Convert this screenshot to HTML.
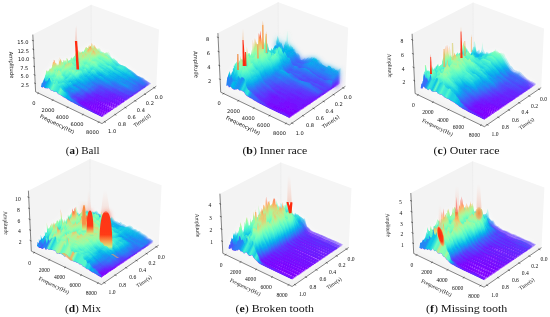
<!DOCTYPE html>
<html><head><meta charset="utf-8"><title>Figure</title>
<style>html,body{margin:0;padding:0;background:#fff;width:550px;height:317px;overflow:hidden}svg{display:block}</style>
</head><body>
<svg width="550" height="317" viewBox="0 0 550 317">
<defs><filter id="glw" x="-20%" y="-20%" width="140%" height="140%"><feGaussianBlur stdDeviation="2.6"/></filter><filter id="sft" x="-5%" y="-5%" width="110%" height="110%"><feGaussianBlur stdDeviation="0.35"/></filter><linearGradient id="fpk" x1="0" y1="0" x2="0" y2="1"><stop offset="0" stop-color="#f8c0b0" stop-opacity="0"/><stop offset="1" stop-color="#f4a890" stop-opacity="0.45"/></linearGradient><linearGradient id="ga" gradientUnits="userSpaceOnUse" x1="0" y1="0" x2="20.52" y2="-45.90"><stop offset="0.000" stop-color="#7f00ff"/><stop offset="0.045" stop-color="#7f00ff"/><stop offset="0.064" stop-color="#6d1cfe"/><stop offset="0.082" stop-color="#593bfd"/><stop offset="0.100" stop-color="#4559fa"/><stop offset="0.118" stop-color="#3175f7"/><stop offset="0.136" stop-color="#1d90f3"/><stop offset="0.155" stop-color="#09a9ee"/><stop offset="0.173" stop-color="#0abfe8"/><stop offset="0.191" stop-color="#1ed2e1"/><stop offset="0.209" stop-color="#32e2d9"/><stop offset="0.227" stop-color="#46efd1"/><stop offset="0.246" stop-color="#5af8c7"/><stop offset="0.264" stop-color="#6efdbd"/><stop offset="0.282" stop-color="#82feb2"/><stop offset="0.300" stop-color="#96fca7"/><stop offset="0.318" stop-color="#aaf69a"/><stop offset="0.337" stop-color="#beec8e" stop-opacity="0.99"/><stop offset="0.355" stop-color="#d2de80" stop-opacity="0.94"/><stop offset="0.373" stop-color="#e6cd73" stop-opacity="0.89"/><stop offset="0.391" stop-color="#fab964" stop-opacity="0.84"/><stop offset="0.409" stop-color="#ffa256" stop-opacity="0.79"/><stop offset="0.428" stop-color="#ff8847" stop-opacity="0.74"/><stop offset="0.446" stop-color="#ff6d38" stop-opacity="0.69"/><stop offset="0.464" stop-color="#ff5028" stop-opacity="0.64"/><stop offset="0.482" stop-color="#ff3119" stop-opacity="0.59"/><stop offset="0.500" stop-color="#ff1209" stop-opacity="0.54"/><stop offset="0.519" stop-color="#ff0000" stop-opacity="0.51"/><stop offset="0.537" stop-color="#ff0000" stop-opacity="0.51"/><stop offset="0.555" stop-color="#ff0000" stop-opacity="0.51"/><stop offset="0.573" stop-color="#ff0000" stop-opacity="0.51"/><stop offset="1.000" stop-color="#ff0000" stop-opacity="0.51"/></linearGradient><linearGradient id="fwa" gradientUnits="userSpaceOnUse" x1="41.1" y1="91.6" x2="101.5" y2="120.3"><stop offset="0.000" stop-color="#2586f5"/><stop offset="0.032" stop-color="#00b4eb"/><stop offset="0.063" stop-color="#18cde3"/><stop offset="0.095" stop-color="#36e5d7"/><stop offset="0.127" stop-color="#6afcbf"/><stop offset="0.159" stop-color="#4ef3cd"/><stop offset="0.190" stop-color="#3ce9d5"/><stop offset="0.222" stop-color="#32e2d9"/><stop offset="0.254" stop-color="#68fcc0"/><stop offset="0.286" stop-color="#44eed1"/><stop offset="0.317" stop-color="#2adcdc"/><stop offset="0.349" stop-color="#14c9e4"/><stop offset="0.381" stop-color="#01b2ec"/><stop offset="0.413" stop-color="#03b0ec"/><stop offset="0.444" stop-color="#1798f2"/><stop offset="0.476" stop-color="#2783f5"/><stop offset="0.508" stop-color="#396af9"/><stop offset="0.540" stop-color="#396af9"/><stop offset="0.571" stop-color="#435cfa"/><stop offset="0.603" stop-color="#4f4afc"/><stop offset="0.635" stop-color="#593bfd"/><stop offset="0.667" stop-color="#593bfd"/><stop offset="0.698" stop-color="#5f31fd"/><stop offset="0.730" stop-color="#5f31fd"/><stop offset="0.762" stop-color="#612efd"/><stop offset="0.794" stop-color="#5f31fd"/><stop offset="0.825" stop-color="#632bfe"/><stop offset="0.857" stop-color="#6725fe"/><stop offset="0.889" stop-color="#6922fe"/><stop offset="0.921" stop-color="#6922fe"/><stop offset="0.952" stop-color="#6b1ffe"/><stop offset="0.984" stop-color="#6d1cfe"/></linearGradient><linearGradient id="gb" gradientUnits="userSpaceOnUse" x1="0" y1="0" x2="21.18" y2="-47.39"><stop offset="0.000" stop-color="#7f00ff"/><stop offset="0.045" stop-color="#7f00ff"/><stop offset="0.078" stop-color="#6d1cfe"/><stop offset="0.111" stop-color="#593bfd"/><stop offset="0.143" stop-color="#4559fa"/><stop offset="0.176" stop-color="#3175f7"/><stop offset="0.208" stop-color="#1d90f3"/><stop offset="0.241" stop-color="#09a9ee"/><stop offset="0.273" stop-color="#0abfe8"/><stop offset="0.306" stop-color="#1ed2e1"/><stop offset="0.338" stop-color="#32e2d9"/><stop offset="0.371" stop-color="#46efd1"/><stop offset="0.403" stop-color="#5af8c7"/><stop offset="0.436" stop-color="#6efdbd"/><stop offset="0.468" stop-color="#82feb2"/><stop offset="0.501" stop-color="#96fca7"/><stop offset="0.533" stop-color="#aaf69a"/><stop offset="0.566" stop-color="#beec8e" stop-opacity="1.00"/><stop offset="0.598" stop-color="#d2de80" stop-opacity="0.95"/><stop offset="0.631" stop-color="#e4cf74" stop-opacity="0.90"/><stop offset="0.663" stop-color="#f8bb66" stop-opacity="0.85"/><stop offset="0.696" stop-color="#ffa457" stop-opacity="0.80"/><stop offset="0.728" stop-color="#ff8b48" stop-opacity="0.75"/><stop offset="0.761" stop-color="#ff7039" stop-opacity="0.70"/><stop offset="0.794" stop-color="#ff532a" stop-opacity="0.64"/><stop offset="0.826" stop-color="#ff351a" stop-opacity="0.59"/><stop offset="0.859" stop-color="#ff150a" stop-opacity="0.54"/><stop offset="0.891" stop-color="#ff0000" stop-opacity="0.51"/><stop offset="0.924" stop-color="#ff0000" stop-opacity="0.51"/><stop offset="0.956" stop-color="#ff0000" stop-opacity="0.51"/><stop offset="0.989" stop-color="#ff0000" stop-opacity="0.51"/><stop offset="1.000" stop-color="#ff0000" stop-opacity="0.51"/></linearGradient><linearGradient id="gbb" gradientUnits="userSpaceOnUse" x1="0" y1="0" x2="21.18" y2="-47.39"><stop offset="0.000" stop-color="#7f00ff"/><stop offset="0.045" stop-color="#7f00ff"/><stop offset="0.078" stop-color="#7115fe"/><stop offset="0.111" stop-color="#632bfe"/><stop offset="0.144" stop-color="#5541fc"/><stop offset="0.177" stop-color="#4756fb"/><stop offset="0.210" stop-color="#396af9"/><stop offset="0.243" stop-color="#2b7ef6"/><stop offset="0.276" stop-color="#1b93f3"/><stop offset="0.309" stop-color="#0da4ef"/><stop offset="0.342" stop-color="#00b4eb"/><stop offset="0.375" stop-color="#0ec3e6"/><stop offset="0.408" stop-color="#1cd1e2"/><stop offset="0.440" stop-color="#2adcdc"/><stop offset="0.473" stop-color="#3ae8d6"/><stop offset="0.506" stop-color="#48f0d0"/><stop offset="0.539" stop-color="#56f6c9"/><stop offset="0.572" stop-color="#64fbc2"/><stop offset="0.605" stop-color="#72febb"/><stop offset="0.638" stop-color="#80feb3"/><stop offset="0.671" stop-color="#8efdab"/><stop offset="0.704" stop-color="#9efaa2"/><stop offset="0.737" stop-color="#acf599"/><stop offset="0.770" stop-color="#baee90"/><stop offset="0.803" stop-color="#c8e587" stop-opacity="0.97"/><stop offset="0.835" stop-color="#d6db7e" stop-opacity="0.93"/><stop offset="0.868" stop-color="#e4cf74" stop-opacity="0.90"/><stop offset="0.901" stop-color="#f4bf69" stop-opacity="0.86"/><stop offset="0.934" stop-color="#ffb05f" stop-opacity="0.82"/><stop offset="0.967" stop-color="#ff9f54" stop-opacity="0.79"/><stop offset="1.000" stop-color="#ff8e4a" stop-opacity="0.75"/></linearGradient><linearGradient id="fwb" gradientUnits="userSpaceOnUse" x1="226.5" y1="91.9" x2="288.8" y2="121.5"><stop offset="0.000" stop-color="#2783f5"/><stop offset="0.032" stop-color="#06bbe9"/><stop offset="0.063" stop-color="#05aeed"/><stop offset="0.095" stop-color="#1798f2"/><stop offset="0.127" stop-color="#1f8ef3"/><stop offset="0.159" stop-color="#07abed"/><stop offset="0.190" stop-color="#28dbdd"/><stop offset="0.222" stop-color="#14c9e4"/><stop offset="0.254" stop-color="#2cdedc"/><stop offset="0.286" stop-color="#2edfdb"/><stop offset="0.317" stop-color="#0da4ef"/><stop offset="0.349" stop-color="#2f78f7"/><stop offset="0.381" stop-color="#3570f8"/><stop offset="0.413" stop-color="#3b67f9"/><stop offset="0.444" stop-color="#415ffa"/><stop offset="0.476" stop-color="#4b50fb"/><stop offset="0.508" stop-color="#5344fc"/><stop offset="0.540" stop-color="#573efd"/><stop offset="0.571" stop-color="#5b38fd"/><stop offset="0.603" stop-color="#612efd"/><stop offset="0.635" stop-color="#6725fe"/><stop offset="0.667" stop-color="#6725fe"/><stop offset="0.698" stop-color="#6b1ffe"/><stop offset="0.730" stop-color="#6d1cfe"/><stop offset="0.762" stop-color="#6b1ffe"/><stop offset="0.794" stop-color="#6b1ffe"/><stop offset="0.825" stop-color="#6922fe"/><stop offset="0.857" stop-color="#6b1ffe"/><stop offset="0.889" stop-color="#6922fe"/><stop offset="0.921" stop-color="#6922fe"/><stop offset="0.952" stop-color="#6922fe"/><stop offset="0.984" stop-color="#6b1ffe"/></linearGradient><linearGradient id="gc" gradientUnits="userSpaceOnUse" x1="0" y1="0" x2="21.43" y2="-47.93"><stop offset="0.000" stop-color="#7f00ff"/><stop offset="0.045" stop-color="#7f00ff"/><stop offset="0.072" stop-color="#6d1cfe"/><stop offset="0.098" stop-color="#593bfd"/><stop offset="0.124" stop-color="#4559fa"/><stop offset="0.150" stop-color="#3175f7"/><stop offset="0.177" stop-color="#1d90f3"/><stop offset="0.203" stop-color="#09a9ee"/><stop offset="0.229" stop-color="#0abfe8"/><stop offset="0.255" stop-color="#1ed2e1"/><stop offset="0.281" stop-color="#32e2d9"/><stop offset="0.308" stop-color="#46efd1"/><stop offset="0.334" stop-color="#5af8c7"/><stop offset="0.360" stop-color="#6efdbd"/><stop offset="0.386" stop-color="#82feb2"/><stop offset="0.412" stop-color="#96fca7"/><stop offset="0.439" stop-color="#aaf69a"/><stop offset="0.465" stop-color="#beec8e" stop-opacity="1.00"/><stop offset="0.491" stop-color="#d2de80" stop-opacity="0.95"/><stop offset="0.517" stop-color="#e6cd73" stop-opacity="0.90"/><stop offset="0.544" stop-color="#fab964" stop-opacity="0.85"/><stop offset="0.570" stop-color="#ffa256" stop-opacity="0.79"/><stop offset="0.596" stop-color="#ff8847" stop-opacity="0.74"/><stop offset="0.622" stop-color="#ff6d38" stop-opacity="0.69"/><stop offset="0.648" stop-color="#ff5028" stop-opacity="0.64"/><stop offset="0.675" stop-color="#ff3119" stop-opacity="0.59"/><stop offset="0.701" stop-color="#ff150a" stop-opacity="0.54"/><stop offset="0.727" stop-color="#ff0000" stop-opacity="0.51"/><stop offset="0.753" stop-color="#ff0000" stop-opacity="0.51"/><stop offset="0.779" stop-color="#ff0000" stop-opacity="0.51"/><stop offset="0.806" stop-color="#ff0000" stop-opacity="0.51"/><stop offset="1.000" stop-color="#ff0000" stop-opacity="0.51"/></linearGradient><linearGradient id="fwc" gradientUnits="userSpaceOnUse" x1="420.9" y1="93.2" x2="483.9" y2="123.2"><stop offset="0.000" stop-color="#376df8"/><stop offset="0.032" stop-color="#119ff0"/><stop offset="0.063" stop-color="#36e5d7"/><stop offset="0.095" stop-color="#2edfdb"/><stop offset="0.127" stop-color="#0cc1e7"/><stop offset="0.159" stop-color="#68fcc0"/><stop offset="0.190" stop-color="#1cd1e2"/><stop offset="0.222" stop-color="#32e2d9"/><stop offset="0.254" stop-color="#58f7c8"/><stop offset="0.286" stop-color="#3ce9d5"/><stop offset="0.317" stop-color="#36e5d7"/><stop offset="0.349" stop-color="#54f6ca"/><stop offset="0.381" stop-color="#30e1da"/><stop offset="0.413" stop-color="#1cd1e2"/><stop offset="0.444" stop-color="#1acfe2"/><stop offset="0.476" stop-color="#1ed2e1"/><stop offset="0.508" stop-color="#0ec3e6"/><stop offset="0.540" stop-color="#04b9ea"/><stop offset="0.571" stop-color="#119ff0"/><stop offset="0.603" stop-color="#1f8ef3"/><stop offset="0.635" stop-color="#3b67f9"/><stop offset="0.667" stop-color="#435cfa"/><stop offset="0.698" stop-color="#5147fc"/><stop offset="0.730" stop-color="#5541fc"/><stop offset="0.762" stop-color="#5f31fd"/><stop offset="0.794" stop-color="#5f31fd"/><stop offset="0.825" stop-color="#632bfe"/><stop offset="0.857" stop-color="#6528fe"/><stop offset="0.889" stop-color="#6922fe"/><stop offset="0.921" stop-color="#6922fe"/><stop offset="0.952" stop-color="#6b1ffe"/><stop offset="0.984" stop-color="#6b1ffe"/></linearGradient><linearGradient id="dgr" x1="0" y1="0" x2="0" y2="1"><stop offset="0" stop-color="#ff3412"/><stop offset="0.6" stop-color="#ff3a14"/><stop offset="0.78" stop-color="#f8a050"/><stop offset="0.92" stop-color="#c8f080"/><stop offset="1" stop-color="#60f0c0" stop-opacity="0.3"/></linearGradient><linearGradient id="dgo" x1="0" y1="0" x2="0" y2="1"><stop offset="0" stop-color="#f88a40"/><stop offset="0.7" stop-color="#f89048"/><stop offset="0.9" stop-color="#c8f080"/><stop offset="1" stop-color="#60f0c0" stop-opacity="0.3"/></linearGradient><linearGradient id="dpk" x1="0" y1="0" x2="0" y2="1"><stop offset="0" stop-color="#f8c8b8" stop-opacity="0"/><stop offset="1" stop-color="#f4b0a0" stop-opacity="0.35"/></linearGradient><linearGradient id="gd" gradientUnits="userSpaceOnUse" x1="0" y1="0" x2="21.65" y2="-48.44"><stop offset="0.000" stop-color="#7f00ff"/><stop offset="0.045" stop-color="#7f00ff"/><stop offset="0.064" stop-color="#6d1cfe"/><stop offset="0.082" stop-color="#593bfd"/><stop offset="0.100" stop-color="#4559fa"/><stop offset="0.118" stop-color="#3175f7"/><stop offset="0.136" stop-color="#1d90f3"/><stop offset="0.154" stop-color="#09a9ee"/><stop offset="0.172" stop-color="#0abfe8"/><stop offset="0.190" stop-color="#1ed2e1"/><stop offset="0.209" stop-color="#32e2d9"/><stop offset="0.227" stop-color="#46efd1"/><stop offset="0.245" stop-color="#5af8c7"/><stop offset="0.263" stop-color="#6efdbd"/><stop offset="0.281" stop-color="#82feb2"/><stop offset="0.299" stop-color="#96fca7"/><stop offset="0.317" stop-color="#aaf69a"/><stop offset="0.335" stop-color="#beec8e" stop-opacity="0.99"/><stop offset="0.354" stop-color="#d2de80" stop-opacity="0.94"/><stop offset="0.372" stop-color="#e6cd73" stop-opacity="0.89"/><stop offset="0.390" stop-color="#fab964" stop-opacity="0.84"/><stop offset="0.408" stop-color="#ffa256" stop-opacity="0.79"/><stop offset="0.426" stop-color="#ff8847" stop-opacity="0.74"/><stop offset="0.444" stop-color="#ff6d38" stop-opacity="0.69"/><stop offset="0.462" stop-color="#ff5028" stop-opacity="0.64"/><stop offset="0.480" stop-color="#ff3119" stop-opacity="0.59"/><stop offset="0.499" stop-color="#ff1209" stop-opacity="0.54"/><stop offset="0.517" stop-color="#ff0000" stop-opacity="0.51"/><stop offset="0.535" stop-color="#ff0000" stop-opacity="0.51"/><stop offset="0.553" stop-color="#ff0000" stop-opacity="0.51"/><stop offset="0.571" stop-color="#ff0000" stop-opacity="0.51"/><stop offset="1.000" stop-color="#ff0000" stop-opacity="0.51"/></linearGradient><linearGradient id="fwd" gradientUnits="userSpaceOnUse" x1="37.2" y1="250.8" x2="100.8" y2="281.1"><stop offset="0.000" stop-color="#1f8ef3"/><stop offset="0.032" stop-color="#4559fa"/><stop offset="0.063" stop-color="#2388f4"/><stop offset="0.095" stop-color="#2783f5"/><stop offset="0.127" stop-color="#60fac4"/><stop offset="0.159" stop-color="#1ed2e1"/><stop offset="0.190" stop-color="#48f0d0"/><stop offset="0.222" stop-color="#76feb9"/><stop offset="0.254" stop-color="#98fba5"/><stop offset="0.286" stop-color="#b6f093"/><stop offset="0.317" stop-color="#5ef9c5"/><stop offset="0.349" stop-color="#6efdbd"/><stop offset="0.381" stop-color="#a0f9a1"/><stop offset="0.413" stop-color="#98fba5"/><stop offset="0.444" stop-color="#68fcc0"/><stop offset="0.476" stop-color="#ffae5d"/><stop offset="0.508" stop-color="#8cfeac"/><stop offset="0.540" stop-color="#42edd2"/><stop offset="0.571" stop-color="#48f0d0"/><stop offset="0.603" stop-color="#54f6ca"/><stop offset="0.635" stop-color="#52f5cb"/><stop offset="0.667" stop-color="#54f6ca"/><stop offset="0.698" stop-color="#58f7c8"/><stop offset="0.730" stop-color="#1ed2e1"/><stop offset="0.762" stop-color="#22d6df"/><stop offset="0.794" stop-color="#07abed"/><stop offset="0.825" stop-color="#03b0ec"/><stop offset="0.857" stop-color="#218bf4"/><stop offset="0.889" stop-color="#2586f5"/><stop offset="0.921" stop-color="#3570f8"/><stop offset="0.952" stop-color="#4b50fb"/><stop offset="0.984" stop-color="#5541fc"/></linearGradient><linearGradient id="ge" gradientUnits="userSpaceOnUse" x1="0" y1="0" x2="21.39" y2="-47.85"><stop offset="0.000" stop-color="#7f00ff"/><stop offset="0.045" stop-color="#7f00ff"/><stop offset="0.074" stop-color="#6d1cfe"/><stop offset="0.102" stop-color="#593bfd"/><stop offset="0.130" stop-color="#4559fa"/><stop offset="0.158" stop-color="#3175f7"/><stop offset="0.186" stop-color="#1d90f3"/><stop offset="0.215" stop-color="#09a9ee"/><stop offset="0.243" stop-color="#0abfe8"/><stop offset="0.271" stop-color="#1ed2e1"/><stop offset="0.299" stop-color="#32e2d9"/><stop offset="0.327" stop-color="#46efd1"/><stop offset="0.356" stop-color="#5af8c7"/><stop offset="0.384" stop-color="#6efdbd"/><stop offset="0.412" stop-color="#82feb2"/><stop offset="0.440" stop-color="#96fca7"/><stop offset="0.469" stop-color="#aaf69a"/><stop offset="0.497" stop-color="#beec8e" stop-opacity="1.00"/><stop offset="0.525" stop-color="#d2de80" stop-opacity="0.95"/><stop offset="0.553" stop-color="#e6cd73" stop-opacity="0.90"/><stop offset="0.581" stop-color="#fab964" stop-opacity="0.85"/><stop offset="0.610" stop-color="#ffa256" stop-opacity="0.80"/><stop offset="0.638" stop-color="#ff8847" stop-opacity="0.74"/><stop offset="0.666" stop-color="#ff7039" stop-opacity="0.69"/><stop offset="0.694" stop-color="#ff532a" stop-opacity="0.64"/><stop offset="0.722" stop-color="#ff351a" stop-opacity="0.59"/><stop offset="0.751" stop-color="#ff150a" stop-opacity="0.54"/><stop offset="0.779" stop-color="#ff0000" stop-opacity="0.51"/><stop offset="0.807" stop-color="#ff0000" stop-opacity="0.51"/><stop offset="0.835" stop-color="#ff0000" stop-opacity="0.51"/><stop offset="0.863" stop-color="#ff0000" stop-opacity="0.51"/><stop offset="1.000" stop-color="#ff0000" stop-opacity="0.51"/></linearGradient><linearGradient id="fwe" gradientUnits="userSpaceOnUse" x1="228.6" y1="253.1" x2="291.5" y2="283.0"><stop offset="0.000" stop-color="#4756fb"/><stop offset="0.032" stop-color="#376df8"/><stop offset="0.063" stop-color="#2d7bf6"/><stop offset="0.095" stop-color="#2d7bf6"/><stop offset="0.127" stop-color="#1798f2"/><stop offset="0.159" stop-color="#10c5e6"/><stop offset="0.190" stop-color="#46efd1"/><stop offset="0.222" stop-color="#30e1da"/><stop offset="0.254" stop-color="#14c9e4"/><stop offset="0.286" stop-color="#4af1cf"/><stop offset="0.317" stop-color="#34e4d8"/><stop offset="0.349" stop-color="#16cbe4"/><stop offset="0.381" stop-color="#48f0d0"/><stop offset="0.413" stop-color="#1ed2e1"/><stop offset="0.444" stop-color="#119ff0"/><stop offset="0.476" stop-color="#3373f8"/><stop offset="0.508" stop-color="#593bfd"/><stop offset="0.540" stop-color="#612efd"/><stop offset="0.571" stop-color="#632bfe"/><stop offset="0.603" stop-color="#6725fe"/><stop offset="0.635" stop-color="#6922fe"/><stop offset="0.667" stop-color="#6725fe"/><stop offset="0.698" stop-color="#6725fe"/><stop offset="0.730" stop-color="#6922fe"/><stop offset="0.762" stop-color="#6922fe"/><stop offset="0.794" stop-color="#6b1ffe"/><stop offset="0.825" stop-color="#6d1cfe"/><stop offset="0.857" stop-color="#6f19fe"/><stop offset="0.889" stop-color="#6f19fe"/><stop offset="0.921" stop-color="#6f19fe"/><stop offset="0.952" stop-color="#6f19fe"/><stop offset="0.984" stop-color="#6f19fe"/></linearGradient><radialGradient id="frd" cx="0.45" cy="0.4" r="0.6"><stop offset="0" stop-color="#ff2a0e"/><stop offset="0.55" stop-color="#ff3a12"/><stop offset="0.85" stop-color="#f8a050" stop-opacity="0.8"/><stop offset="1" stop-color="#c8e070" stop-opacity="0"/></radialGradient><radialGradient id="for" cx="0.5" cy="0.45" r="0.6"><stop offset="0" stop-color="#f78a40"/><stop offset="0.6" stop-color="#f6a860" stop-opacity="0.8"/><stop offset="1" stop-color="#d0e080" stop-opacity="0"/></radialGradient><linearGradient id="gf" gradientUnits="userSpaceOnUse" x1="0" y1="0" x2="21.71" y2="-48.57"><stop offset="0.000" stop-color="#7f00ff"/><stop offset="0.045" stop-color="#7f00ff"/><stop offset="0.069" stop-color="#6d1cfe"/><stop offset="0.093" stop-color="#593bfd"/><stop offset="0.117" stop-color="#4559fa"/><stop offset="0.140" stop-color="#3175f7"/><stop offset="0.164" stop-color="#1d90f3"/><stop offset="0.188" stop-color="#09a9ee"/><stop offset="0.212" stop-color="#0abfe8"/><stop offset="0.235" stop-color="#1ed2e1"/><stop offset="0.259" stop-color="#32e2d9"/><stop offset="0.283" stop-color="#46efd1"/><stop offset="0.307" stop-color="#5af8c7"/><stop offset="0.331" stop-color="#6efdbd"/><stop offset="0.354" stop-color="#82feb2"/><stop offset="0.378" stop-color="#96fca7"/><stop offset="0.402" stop-color="#aaf69a"/><stop offset="0.426" stop-color="#beec8e" stop-opacity="1.00"/><stop offset="0.449" stop-color="#d2de80" stop-opacity="0.95"/><stop offset="0.473" stop-color="#e6cd73" stop-opacity="0.90"/><stop offset="0.497" stop-color="#fab964" stop-opacity="0.84"/><stop offset="0.521" stop-color="#ffa256" stop-opacity="0.79"/><stop offset="0.544" stop-color="#ff8847" stop-opacity="0.74"/><stop offset="0.568" stop-color="#ff6d38" stop-opacity="0.69"/><stop offset="0.592" stop-color="#ff5028" stop-opacity="0.64"/><stop offset="0.616" stop-color="#ff3119" stop-opacity="0.59"/><stop offset="0.639" stop-color="#ff1209" stop-opacity="0.54"/><stop offset="0.663" stop-color="#ff0000" stop-opacity="0.51"/><stop offset="0.687" stop-color="#ff0000" stop-opacity="0.51"/><stop offset="0.711" stop-color="#ff0000" stop-opacity="0.51"/><stop offset="0.734" stop-color="#ff0000" stop-opacity="0.51"/><stop offset="1.000" stop-color="#ff0000" stop-opacity="0.51"/></linearGradient><linearGradient id="fwf" gradientUnits="userSpaceOnUse" x1="419.6" y1="253.3" x2="483.5" y2="283.6"><stop offset="0.000" stop-color="#2586f5"/><stop offset="0.032" stop-color="#1f8ef3"/><stop offset="0.063" stop-color="#10c5e6"/><stop offset="0.095" stop-color="#10c5e6"/><stop offset="0.127" stop-color="#30e1da"/><stop offset="0.159" stop-color="#70fdbc"/><stop offset="0.190" stop-color="#5cf9c6"/><stop offset="0.222" stop-color="#cce284"/><stop offset="0.254" stop-color="#8afeae"/><stop offset="0.286" stop-color="#88feaf"/><stop offset="0.317" stop-color="#74feba"/><stop offset="0.349" stop-color="#a8f69c"/><stop offset="0.381" stop-color="#60fac4"/><stop offset="0.413" stop-color="#4ef3cd"/><stop offset="0.444" stop-color="#0abfe8"/><stop offset="0.476" stop-color="#1f8ef3"/><stop offset="0.508" stop-color="#4b50fb"/><stop offset="0.540" stop-color="#4f4afc"/><stop offset="0.571" stop-color="#5b38fd"/><stop offset="0.603" stop-color="#612efd"/><stop offset="0.635" stop-color="#6725fe"/><stop offset="0.667" stop-color="#6922fe"/><stop offset="0.698" stop-color="#6b1ffe"/><stop offset="0.730" stop-color="#6b1ffe"/><stop offset="0.762" stop-color="#6b1ffe"/><stop offset="0.794" stop-color="#6725fe"/><stop offset="0.825" stop-color="#6528fe"/><stop offset="0.857" stop-color="#6528fe"/><stop offset="0.889" stop-color="#6725fe"/><stop offset="0.921" stop-color="#6b1ffe"/><stop offset="0.952" stop-color="#6d1cfe"/><stop offset="0.984" stop-color="#6d1cfe"/></linearGradient></defs>
<rect width="550" height="317" fill="#fff"/>
<g id="pa"><polygon points="35.6,91.8 91.4,59 91.2,4.7 32.8,34.6" fill="#f3f3f3"/><polygon points="91.4,59 156.3,86.2 159,29.5 91.2,4.7" fill="#f5f5f5"/><polygon points="35.6,91.8 102,123.6 156.3,86.2 91.4,59" fill="#f2f2f2"/><line x1="91.4" y1="59" x2="91.2" y2="4.7" stroke="#e8e8e8" stroke-width="0.6"/><g filter="url(#sft)"><use href="#sa" fill="#fff" filter="url(#glw)"/><g fill="url(#ga)"><g id="sa"><path fill-opacity="0.30" transform="translate(89.0 60.4)" d="M2.7 -8.7L3.6 -9.2 4.5 -11.2 5.4 -9.4 6.3 -8.6 7.2 -11.4 8.1 -12.3 9 -9.1 10 -12.1 10.9 -11.9 11.8 -8.2 12.7 -9.3 13.6 -8.3 14.5 -7.7 15.4 -6.4 16.3 -5.2 17.3 -8.5 18.2 -6.7 19.1 -8.8 20.1 -7.6 21 -6.7 21.9 -3.3 22.8 -2.6 23.7 -1.9 24.6 0.1 25.6 -0.4 26.5 -0.1 27.5 0.3 28.4 0.4 29.3 2.9 30.2 3.5 31.2 3.4 32.1 4.9 33.1 4.9 34 5 35 5.8 35.9 6.4 36.9 6.8 37.8 7.4 38.8 8.4 39.7 8.7 40.7 9.6 41.6 9.6 42.6 10.2 43.6 10.8 44.5 11.6 45.5 12.6 46.4 13.2 47.4 14.1 48.3 14.9 49.3 15.7 50.3 15.8 51.2 16.2 52.2 16.8 53.2 17 54.2 17.3 55.2 18.1 56.1 19 57.1 19.7 58.1 20.3 59.1 21 60 21.7 61 22.3 62 22.9 62 23.6 2.8 -1.2Z"/><path fill-opacity="0.41" transform="translate(88.2 60.9)" d="M2.7 -9.9L3.6 -10.6 4.5 -12.8 5.4 -11.1 6.3 -9.6 7.2 -12.5 8.1 -12.8 9 -10.4 9.9 -13 10.9 -10.2 11.8 -8.5 12.7 -10.4 13.6 -8.6 14.5 -8.8 15.4 -7.4 16.3 -6.1 17.3 -8.4 18.2 -7 19.1 -9 20.1 -7 21 -6.2 21.9 -4.7 22.8 -3.8 23.7 -2.7 24.7 -0.9 25.6 -1.6 26.6 -1.7 27.5 -0.8 28.4 -0.1 29.3 1.6 30.3 2.3 31.2 2.8 32.1 4 33.1 4.2 34.1 4.2 35 5 35.9 5.8 36.9 5.9 37.9 6.5 38.8 7.3 39.8 7.8 40.7 8.6 41.7 8.7 42.6 9.3 43.6 10 44.5 10.8 45.5 11.7 46.5 12.3 47.4 13.2 48.4 14.1 49.3 15 50.3 15.2 51.3 15.7 52.3 16.3 53.2 16.6 54.2 16.9 55.2 17.6 56.2 18.6 57.1 19.2 58.1 19.8 59.1 20.4 60.1 21.2 61.1 21.9 62.1 22.6 62 23.7 2.8 -1.2Z"/><path fill-opacity="0.51" transform="translate(87.3 61.4)" d="M2.7 -10.7L3.6 -11.3 4.5 -12.4 5.4 -11.9 6.3 -11.6 7.2 -14.7 8.1 -14.1 9 -11.1 9.9 -13 10.9 -10.8 11.8 -10 12.7 -12.9 13.6 -9.4 14.5 -9.5 15.4 -7.8 16.3 -6.6 17.3 -8.6 18.2 -8 19.1 -9.5 20.1 -7.9 21 -6.7 21.9 -6.1 22.8 -4.9 23.8 -3.6 24.7 -2.3 25.6 -2.9 26.6 -3.3 27.5 -2.1 28.4 -1 29.4 0.2 30.3 1 31.2 1.9 32.2 3.1 33.1 3.4 34.1 3.5 35 4.2 36 5 36.9 4.7 37.9 4.9 38.8 5.7 39.8 6.3 40.8 7.1 41.7 7.8 42.7 8.7 43.6 9.7 44.6 10.3 45.5 10.9 46.5 11.7 47.5 12.3 48.4 13.1 49.4 14.1 50.4 14.4 51.3 15 52.3 15.6 53.3 16 54.3 16.5 55.2 17.2 56.2 18.1 57.2 18.6 58.2 19.3 59.2 19.8 60.1 20.6 61.1 21.4 62.1 22.1 62 23.8 2.8 -1.2Z"/><path fill-opacity="0.62" transform="translate(86.4 61.9)" d="M2.7 -10.8L3.6 -11 4.5 -11.5 5.4 -12.3 6.3 -13.7 7.2 -16.6 8.1 -15.3 9 -12.2 9.9 -12.6 10.8 -9.5 11.8 -9.4 12.7 -12.6 13.6 -9 14.5 -8.7 15.4 -7.6 16.3 -6.7 17.3 -8.5 18.2 -9 19.1 -9.3 20 -7 21 -6.1 21.9 -5.3 22.8 -4.5 23.8 -3.5 24.7 -2.6 25.6 -2.6 26.6 -3 27.5 -1.3 28.4 -0.3 29.4 0.5 30.3 1.4 31.2 2.2 32.2 2.9 33.1 3.1 34.1 3 35 3.5 36 4 37 3.6 37.9 4.1 38.9 4.7 39.8 5.4 40.8 6.4 41.7 7.3 42.7 8.5 43.6 9.4 44.6 10.1 45.6 10.6 46.5 11.4 47.5 12 48.4 12.7 49.4 13.7 50.4 14 51.4 14.6 52.3 15.1 53.3 15.6 54.3 16.2 55.3 17 56.2 17.9 57.2 18.5 58.2 19.2 59.2 19.7 60.2 20.5 61.1 21.2 62.1 22 62.1 23.8 2.8 -1.2Z"/><path fill-opacity="0.72" transform="translate(85.6 62.4)" d="M2.7 -10.6L3.6 -11.1 4.5 -11.9 5.4 -13.1 6.3 -13.9 7.2 -18.8 8.1 -15.2 9 -11.3 9.9 -14.6 10.8 -11.7 11.8 -11.9 12.7 -14.5 13.6 -8.9 14.5 -7.8 15.4 -7.3 16.3 -7.9 17.3 -10.4 18.2 -9.8 19.1 -7.8 20 -6.3 21 -5.9 21.9 -5.4 22.8 -4 23.8 -3.1 24.7 -2.9 25.6 -2.3 26.6 -2.2 27.5 -0.7 28.4 0.1 29.4 0.8 30.3 1.8 31.2 2.4 32.2 3.3 33.1 3.7 34.1 3.6 35 3.9 36 4.5 37 4.3 37.9 4.8 38.9 5.4 39.8 6.2 40.8 7.3 41.7 8 42.7 9.2 43.6 10 44.6 10.6 45.6 10.9 46.5 11.6 47.5 12.2 48.5 12.9 49.4 13.6 50.4 14.1 51.4 14.9 52.4 15.1 53.3 15.7 54.3 16.4 55.3 17.3 56.3 18 57.2 18.7 58.2 19.3 59.2 19.9 60.2 20.5 61.2 21.2 62.2 21.9 62.1 23.9 2.8 -1.2Z"/><path fill-opacity="0.83" transform="translate(84.7 62.9)" d="M2.7 -11.5L3.6 -12.3 4.5 -12.4 5.4 -13.8 6.3 -17.7 7.2 -20.5 8.1 -11.9 9 -10.2 9.9 -13.4 10.8 -13.7 11.7 -13.2 12.7 -13.4 13.6 -11.8 14.5 -10.4 15.4 -9.4 16.3 -9.3 17.3 -9.4 18.2 -8.9 19.1 -7.6 20 -6.8 21 -6.4 21.9 -6.1 22.8 -6.2 23.8 -5.1 24.7 -4.2 25.6 -3.1 26.6 -3 27.5 -1.4 28.4 -0.2 29.4 0.3 30.3 1.3 31.3 1.9 32.2 2.6 33.1 2.8 34.1 2.6 35.1 2.7 36 3.4 37 3.4 37.9 3.9 38.9 4.8 39.8 5.5 40.8 6.4 41.8 6.6 42.7 7.6 43.7 8.6 44.6 9.1 45.6 9.4 46.6 10.4 47.5 11.4 48.5 12.1 49.5 12.8 50.4 13.5 51.4 14.3 52.4 14.7 53.4 15.4 54.3 16.2 55.3 17.1 56.3 17.7 57.3 18.3 58.3 18.7 59.2 19.3 60.2 20 61.2 20.6 62.2 21.4 62.1 23.9 2.8 -1.2Z"/><path fill-opacity="0.94" transform="translate(83.8 63.4)" d="M2.7 -10.5L3.6 -11.1 4.5 -11.5 5.4 -12.9 6.3 -17.7 7.2 -17.2 8.1 -11.5 9 -10.8 9.9 -14.1 10.8 -18.6 11.7 -16.2 12.7 -14.9 13.6 -12.7 14.5 -10.8 15.4 -10.8 16.3 -10.8 17.3 -10.1 18.2 -10 19.1 -9.8 20 -9 21 -8.3 21.9 -7.5 22.9 -7.8 23.8 -6.5 24.7 -5.7 25.7 -5.5 26.6 -4.9 27.5 -3 28.4 -1.3 29.4 -0.5 30.3 0.4 31.3 1.3 32.2 2.1 33.2 2.8 34.1 2.8 35.1 2.8 36 3.4 37 3.6 37.9 4 38.9 4.8 39.9 5.6 40.8 6.5 41.8 7 42.7 7.6 43.7 8.6 44.6 9.1 45.6 9.1 46.6 10.2 47.6 10.9 48.5 11.8 49.5 12.2 50.5 13.1 51.4 13.9 52.4 14.3 53.4 15.2 54.4 16.1 55.3 17 56.3 17.7 57.3 18.3 58.3 18.8 59.3 19.4 60.3 19.9 61.2 20.6 62.2 21.2 62.1 24 2.8 -1.2Z"/><path transform="translate(82.9 63.9)" d="M2.7 -12.6L3.6 -13 4.5 -14.1 5.3 -16.3 6.2 -19 7.2 -16.1 8.1 -11.7 9 -11.2 9.9 -12.7 10.8 -15.8 11.7 -14 12.6 -14 13.6 -13.4 14.5 -10.3 15.4 -10.7 16.3 -12.6 17.3 -9.7 18.2 -9.3 19.1 -9.5 20 -8.8 21 -8.7 21.9 -7.4 22.8 -7.6 23.8 -7 24.7 -6.6 25.6 -4.7 26.6 -3.3 27.5 -2.1 28.4 -0.7 29.4 0.4 30.3 1.3 31.3 1.7 32.2 2.1 33.2 2.7 34.1 2.9 35.1 2.7 36 3.3 37 3.7 37.9 4.4 38.9 5.1 39.8 6 40.8 6.9 41.8 7.4 42.7 7.9 43.7 9.1 44.7 9.5 45.6 9.7 46.6 10.6 47.6 11.2 48.5 12.2 49.5 12.6 50.5 13.6 51.4 14.3 52.4 15 53.4 15.8 54.4 16.4 55.3 17.2 56.3 17.9 57.3 18.5 58.3 19 59.3 19.7 60.3 20.2 61.3 21 62.2 21.7 62.1 24.1 2.8 -1.2Z"/><path transform="translate(82.1 64.5)" d="M2.7 -14.1L3.5 -15.3 4.4 -15.9 5.3 -16.4 6.2 -17 7.2 -12 8.1 -10.7 9 -12.7 9.9 -13.9 10.8 -17 11.7 -14.4 12.6 -13.5 13.6 -13.4 14.5 -11.5 15.4 -12.7 16.3 -13.6 17.2 -8.4 18.2 -7.1 19.1 -7 20 -6.3 21 -6.1 21.9 -5.2 22.8 -5.5 23.8 -4.3 24.7 -4.3 25.6 -3 26.6 -1.8 27.5 -1.4 28.4 -0.3 29.4 0.8 30.3 2 31.3 2.4 32.2 2.8 33.1 4.1 34.1 4.1 35.1 4.1 36 4.4 37 5 37.9 5.7 38.9 6.1 39.8 7.1 40.8 7.9 41.7 8.6 42.7 9.2 43.7 10.3 44.6 10.6 45.6 10.8 46.6 11.5 47.6 12.1 48.5 13.1 49.5 13.6 50.5 14.4 51.4 15 52.4 15.7 53.4 16.4 54.4 17 55.3 17.7 56.3 18.3 57.3 19 58.3 19.6 59.3 20.1 60.3 20.6 61.3 21.4 62.3 22 62.2 24.1 2.8 -1.2Z"/><path transform="translate(81.2 65.0)" d="M2.6 -13.5L3.5 -15.4 4.4 -17.5 5.3 -18 6.2 -16.6 7.2 -11.5 8.1 -10.6 9 -14.9 9.9 -16.5 10.8 -17.5 11.7 -12.7 12.6 -10.9 13.5 -13.8 14.5 -12.8 15.4 -12 16.3 -11.7 17.2 -7 18.2 -6.1 19.1 -5.7 20 -5.4 21 -5.2 21.9 -4 22.8 -3.8 23.7 -2.8 24.7 -2.5 25.6 -1.2 26.6 -0.5 27.5 0.3 28.4 1.5 29.4 2.2 30.3 2.9 31.3 3.1 32.2 3.8 33.1 4.9 34.1 5.1 35 5.6 36 5.8 37 6.4 37.9 6.9 38.9 7.4 39.8 8.1 40.8 8.8 41.7 9.4 42.7 9.9 43.7 10.8 44.6 11.1 45.6 11.6 46.6 12.3 47.5 12.8 48.5 13.7 49.5 14.3 50.5 15 51.4 15.6 52.4 16.5 53.4 17.1 54.4 17.6 55.3 18.1 56.3 18.6 57.3 19.4 58.3 20 59.3 20.7 60.3 21.2 61.3 21.9 62.3 22.6 62.2 24.2 2.8 -1.2Z"/><path transform="translate(80.3 65.5)" d="M2.6 -12.7L3.5 -14.3 4.4 -13.9 5.3 -16.4 6.2 -16.7 7.2 -11.4 8.1 -12.3 8.9 -18.5 9.8 -18.6 10.8 -18.9 11.7 -13.3 12.6 -10.9 13.5 -12.9 14.5 -11.6 15.4 -10.6 16.3 -12.4 17.2 -7.7 18.2 -6.8 19.1 -6.4 20 -5.8 21 -6 21.9 -4.7 22.8 -4.1 23.7 -3.2 24.7 -2.9 25.6 -1.8 26.6 -0.9 27.5 -0.1 28.4 0.5 29.4 1.1 30.3 1.3 31.3 1.6 32.2 2.4 33.2 3.6 34.1 4.1 35.1 4.8 36 4.9 37 5.5 37.9 6 38.9 6.5 39.9 7.3 40.8 7.8 41.8 8.7 42.7 9.2 43.7 10.1 44.7 10.2 45.6 10.8 46.6 11.6 47.6 12.2 48.5 13.1 49.5 13.9 50.5 14.7 51.5 15.2 52.4 15.7 53.4 16.4 54.4 16.9 55.4 17.4 56.4 18.2 57.3 19 58.3 19.8 59.3 20.5 60.3 21.1 61.3 21.8 62.3 22.5 62.2 24.3 2.8 -1.2Z"/><path transform="translate(79.4 66.0)" d="M2.6 -14.5L3.5 -14.5 4.4 -13.6 5.3 -14.7 6.2 -15.6 7.1 -13.8 8 -14.2 8.9 -16.5 9.8 -17.2 10.7 -19.5 11.7 -13.2 12.6 -10.7 13.5 -13.2 14.5 -13 15.4 -12.5 16.3 -13.5 17.2 -8.3 18.2 -7.7 19.1 -7.3 20 -6.3 21 -6.3 21.9 -5.4 22.8 -5.1 23.8 -4.3 24.7 -3.4 25.6 -2.3 26.6 -1.4 27.5 -1.1 28.4 -0.4 29.4 -0.3 30.3 -0.4 31.3 0.2 32.2 1.1 33.2 2.2 34.1 2.8 35.1 4.1 36 4.5 37 5.2 37.9 5.7 38.9 6.6 39.9 7.2 40.8 8 41.8 8.8 42.7 9.2 43.7 10.2 44.7 10.2 45.6 11.1 46.6 11.7 47.6 12.4 48.6 13.1 49.5 13.8 50.5 14.5 51.5 15 52.5 15.5 53.4 16.1 54.4 16.7 55.4 17.1 56.4 18.1 57.4 18.8 58.4 19.5 59.3 20.3 60.3 20.9 61.3 21.5 62.3 22.1 62.2 24.3 2.8 -1.2Z"/><path transform="translate(78.5 66.5)" d="M2.6 -13.9L3.5 -13.1 4.4 -12.7 5.3 -12.8 6.2 -13.2 7.1 -12.4 8 -12.9 8.9 -16.7 9.8 -17.3 10.7 -17.1 11.7 -12.2 12.6 -10.9 13.5 -13.8 14.4 -16.1 15.4 -15.7 16.3 -14.2 17.2 -8.6 18.2 -7.7 19.1 -7.4 20 -6.1 20.9 -5.8 21.9 -5 22.8 -4.5 23.7 -3.7 24.7 -2.7 25.6 -2.6 26.6 -2.2 27.5 -1.8 28.5 -0.9 29.4 -0.2 30.4 -0.4 31.3 0.4 32.2 1.6 33.2 2.6 34.1 2.9 35.1 4.1 36 4.9 37 5.8 38 6.1 38.9 6.7 39.9 7.4 40.8 8 41.8 8.7 42.8 9.1 43.7 10.4 44.7 10.6 45.7 11.4 46.6 12 47.6 12.6 48.6 13.3 49.5 14 50.5 14.5 51.5 14.9 52.5 15.6 53.5 16.2 54.4 16.6 55.4 17.3 56.4 18.3 57.4 18.9 58.4 19.5 59.4 20.2 60.4 20.8 61.4 21.4 62.4 21.9 62.3 24.4 2.8 -1.2Z"/><path transform="translate(77.6 67.1)" d="M2.6 -16L3.5 -13.6 4.4 -13 5.3 -13 6.2 -13.9 7.1 -15.3 8 -14.2 8.9 -16 9.8 -16.7 10.7 -18.5 11.7 -14.5 12.6 -11.2 13.5 -13.9 14.4 -14.2 15.4 -11.6 16.3 -9.8 17.2 -7.3 18.2 -6.7 19.1 -6.3 20 -5.4 20.9 -5.4 21.9 -4.1 22.8 -3.3 23.7 -2.6 24.7 -1.5 25.6 -1.3 26.6 -0.8 27.5 -0.7 28.4 0.5 29.4 1.6 30.3 1.6 31.3 2.6 32.2 3.4 33.2 4.2 34.1 4.4 35.1 5.5 36 6.6 37 7.2 37.9 7.7 38.9 8.1 39.9 8.9 40.8 9.5 41.8 10.2 42.7 10.4 43.7 11.3 44.7 11.8 45.6 12.5 46.6 12.9 47.6 13.3 48.6 14.1 49.5 14.8 50.5 15.1 51.5 15.5 52.5 16.2 53.5 16.8 54.4 17.3 55.4 17.8 56.4 18.8 57.4 19.4 58.4 20 59.4 20.5 60.4 21 61.4 21.6 62.4 22 62.3 24.5 2.8 -1.2Z"/><path transform="translate(76.8 67.6)" d="M2.6 -15.8L3.5 -13.9 4.4 -14.1 5.3 -12.9 6.2 -12.3 7.1 -15.3 8 -15.6 8.9 -13.3 9.8 -13.3 10.7 -14.8 11.7 -13 12.6 -11.3 13.5 -12.5 14.4 -11.6 15.4 -9.7 16.3 -9.2 17.2 -7.4 18.1 -6.9 19.1 -6.8 20 -6 20.9 -5.6 21.9 -4.9 22.8 -3.6 23.7 -2.7 24.7 -1.6 25.6 -1.5 26.6 -1 27.5 -0.5 28.4 -0.1 29.4 1.4 30.3 1.4 31.3 2.3 32.2 3.4 33.2 4.4 34.1 4.3 35.1 5.1 36 6 37 6.7 38 7 38.9 7.5 39.9 8.5 40.8 9.1 41.8 9.8 42.8 9.9 43.7 10.9 44.7 11.2 45.7 12 46.6 12.6 47.6 13.1 48.6 13.7 49.6 14.5 50.5 14.7 51.5 15.1 52.5 15.9 53.5 16.4 54.5 17.1 55.5 17.6 56.4 18.4 57.4 19 58.4 19.6 59.4 20 60.4 20.5 61.4 21.1 62.4 21.5 62.3 24.5 2.8 -1.2Z"/><path transform="translate(75.9 68.1)" d="M2.6 -16.2L3.5 -14.4 4.4 -15.8 5.3 -12.6 6.2 -11.8 7.1 -16.4 8 -13.9 8.9 -11.4 9.8 -11.3 10.7 -12.7 11.7 -12.3 12.6 -9.6 13.5 -10.9 14.4 -11.7 15.4 -9.5 16.3 -8.8 17.2 -6.9 18.1 -6.2 19.1 -6.5 20 -6.1 20.9 -5.7 21.9 -4.6 22.8 -2.8 23.7 -1.8 24.7 -0.5 25.6 -0.6 26.6 0.3 27.5 0.6 28.4 0.9 29.4 2.2 30.3 2.4 31.3 3 32.2 4 33.2 5.1 34.1 4.9 35.1 5.6 36 6.3 37 6.9 38 7.4 38.9 8 39.9 8.8 40.8 9.5 41.8 10.2 42.8 10.3 43.7 11.2 44.7 11.6 45.7 12.2 46.6 12.8 47.6 13.2 48.6 14 49.6 14.7 50.6 15 51.5 15.4 52.5 16 53.5 16.4 54.5 17.1 55.5 17.7 56.5 18.4 57.4 19.1 58.4 19.7 59.4 20.3 60.4 20.8 61.4 21.3 62.4 21.7 62.3 24.6 2.8 -1.2Z"/><path transform="translate(75.0 68.6)" d="M2.6 -15L3.5 -14.9 4.3 -17.7 5.3 -13.5 6.2 -12.1 7.1 -15.4 8 -15.8 8.9 -12.6 9.8 -12.1 10.7 -14.2 11.6 -15.1 12.6 -12.3 13.5 -12.5 14.4 -10.5 15.4 -9.6 16.3 -9.8 17.2 -8.1 18.1 -7.2 19.1 -7.5 20 -7.2 20.9 -6.7 21.9 -5.7 22.8 -3.7 23.7 -2.7 24.7 -1.2 25.6 -1.3 26.6 -0.5 27.5 0.2 28.4 0.4 29.4 1.6 30.3 2.2 31.3 2.7 32.2 3.2 33.2 4.1 34.1 4.3 35.1 5.3 36 5.9 37 6.4 38 7.3 38.9 7.9 39.9 8.4 40.8 9 41.8 9.9 42.8 10.1 43.7 10.9 44.7 11.2 45.7 12 46.7 12.9 47.6 13.3 48.6 13.9 49.6 14.6 50.6 15 51.6 15.4 52.5 15.8 53.5 16.3 54.5 16.9 55.5 17.6 56.5 18.1 57.5 18.8 58.5 19.5 59.5 20.2 60.5 20.7 61.5 21.1 62.5 21.7 62.4 24.7 2.8 -1.2Z"/><path transform="translate(74.1 69.2)" d="M2.5 -18.5L3.4 -16.8 4.3 -19.2 5.2 -14.9 6.2 -12.6 7 -17.6 8 -16.5 8.9 -12.2 9.8 -12.8 10.7 -15.9 11.6 -15.6 12.6 -12 13.5 -11.1 14.4 -10 15.3 -9.2 16.3 -9.5 17.2 -8.5 18.1 -7.4 19.1 -7.8 20 -7.4 20.9 -7 21.9 -5.4 22.8 -4.4 23.7 -3.5 24.7 -1.4 25.6 -1.6 26.6 -0.8 27.5 0 28.5 0 29.4 1.5 30.3 2.5 31.3 3.1 32.2 3.3 33.2 4.3 34.1 4.5 35.1 5.8 36 6.8 37 7.1 38 8.1 38.9 8.6 39.9 9 40.9 9.5 41.8 10.4 42.8 10.8 43.7 11.4 44.7 11.6 45.7 12.3 46.7 12.9 47.6 13.2 48.6 13.9 49.6 14.6 50.6 15 51.6 15.3 52.6 15.6 53.5 16.1 54.5 16.6 55.5 17.4 56.5 18.2 57.5 18.8 58.5 19.5 59.5 20.2 60.5 20.9 61.5 21.5 62.5 22.1 62.4 24.7 2.8 -1.2Z"/><path transform="translate(73.2 69.7)" d="M2.5 -14.4L3.4 -15.6 4.3 -20 5.2 -14.2 6.2 -13 7 -17 8 -15.1 8.9 -12 9.8 -11.8 10.7 -13.6 11.6 -13.2 12.6 -12.4 13.5 -11.2 14.4 -9.8 15.3 -10 16.3 -11.9 17.2 -9.7 18.1 -7.7 19.1 -8.5 20 -8.3 20.9 -7.1 21.9 -6 22.8 -5.6 23.7 -4.7 24.7 -2.5 25.6 -2.7 26.6 -1.7 27.5 -0.8 28.5 -0.7 29.4 0.5 30.3 1.6 31.3 2.3 32.2 2.7 33.2 3.7 34.2 3.9 35.1 5.4 36.1 6.4 37 6.7 38 7.5 38.9 7.9 39.9 8.3 40.9 9 41.8 10 42.8 10.4 43.8 11.1 44.7 11.3 45.7 12 46.7 12.6 47.7 12.9 48.6 13.3 49.6 13.9 50.6 14.4 51.6 14.6 52.6 15.1 53.6 15.7 54.6 16.4 55.5 17.2 56.5 18 57.5 18.5 58.5 19.2 59.5 19.9 60.5 20.7 61.5 21.4 62.5 22.1 62.4 24.8 2.8 -1.2Z"/><path transform="translate(72.3 70.2)" d="M2.5 -14.7L3.4 -17 4.3 -18.9 5.3 -12.8 6.1 -14.4 7 -18 8 -13.4 8.9 -13.4 9.8 -13.1 10.7 -16.1 11.6 -14.1 12.6 -11 13.5 -9.9 14.4 -8.6 15.3 -8.9 16.3 -9.2 17.2 -7.9 18.1 -7 19.1 -7.7 20 -7 20.9 -5.8 21.9 -5 22.8 -5 23.7 -4.2 24.7 -1.6 25.6 -1.9 26.6 -0.8 27.5 0.4 28.5 0.7 29.4 2.2 30.3 3 31.3 3.3 32.2 3.7 33.2 4.5 34.2 4.5 35.1 5.7 36.1 6.6 37 6.8 38 7.5 38.9 8.1 39.9 8.7 40.9 9.5 41.8 10.4 42.8 11 43.8 11.7 44.7 11.8 45.7 12.3 46.7 12.8 47.7 13.1 48.7 13.5 49.6 14 50.6 14.4 51.6 14.9 52.6 15.3 53.6 16 54.6 16.4 55.6 17.4 56.5 18 57.5 18.7 58.5 19.4 59.5 20 60.5 20.9 61.5 21.7 62.5 22.4 62.4 24.9 2.8 -1.2Z"/><path transform="translate(71.4 70.8)" d="M2.5 -14.3L3.4 -14.9 4.3 -16.1 5.2 -13.2 6.1 -14.3 7 -16.6 7.9 -14.8 8.8 -15.4 9.8 -13.6 10.7 -15.1 11.6 -15.9 12.5 -12.3 13.5 -9.4 14.4 -7.9 15.3 -7.9 16.3 -7.5 17.2 -7.3 18.1 -6 19.1 -6.7 20 -6.4 20.9 -3.9 21.9 -2.7 22.8 -2.7 23.7 -2.6 24.7 -1.2 25.6 -0.3 26.6 1.2 27.5 2 28.4 2.6 29.4 3.8 30.3 4.6 31.3 4.6 32.2 4.7 33.2 5.4 34.2 5.5 35.1 6.4 36.1 7 37 7.5 38 8.1 38.9 8.7 39.9 9.4 40.9 10.2 41.8 11.3 42.8 11.7 43.8 12.4 44.7 12.8 45.7 13.2 46.7 13.8 47.7 14 48.7 14.5 49.6 14.9 50.6 15.4 51.6 16.1 52.6 16.7 53.6 17.4 54.6 17.8 55.5 18.4 56.5 18.9 57.5 19.5 58.5 20.1 59.5 20.6 60.5 21.4 61.5 22 62.5 22.6 62.4 24.9 2.8 -1.2Z"/><path transform="translate(70.5 71.3)" d="M2.5 -13.4L3.4 -14.5 4.3 -15.3 5.2 -12.4 6.1 -13.2 7 -15.7 8 -12.3 8.9 -10.9 9.8 -11 10.7 -12.8 11.6 -13.7 12.6 -9.8 13.5 -8.5 14.4 -7.3 15.3 -7.2 16.3 -6.5 17.2 -7.1 18.1 -5.6 19.1 -5.8 20 -5.4 20.9 -2.9 21.9 -1.9 22.8 -2 23.7 -1.4 24.7 -0.8 25.6 -0.2 26.6 1.4 27.5 2.5 28.5 3.2 29.4 4.2 30.3 5 31.3 5.1 32.2 5.4 33.2 6 34.2 6.5 35.1 7.1 36.1 7.6 37 8.3 38 9 38.9 9.4 39.9 9.9 40.9 10.7 41.8 11.7 42.8 12.1 43.8 12.7 44.7 13.2 45.7 13.7 46.7 14.3 47.7 14.5 48.7 15.1 49.6 15.5 50.6 15.9 51.6 16.6 52.6 17.2 53.6 18 54.6 18.4 55.6 19 56.5 19.5 57.5 20.1 58.5 20.6 59.5 21.1 60.5 21.8 61.5 22.3 62.5 22.9 62.5 25 2.8 -1.2Z"/><path transform="translate(69.6 71.8)" d="M2.6 -11.4L3.4 -13.5 4.3 -14 5.3 -11.4 6.1 -11.8 7 -12.5 8 -11.8 8.9 -12 9.8 -11.3 10.7 -12.2 11.6 -13.2 12.5 -10.6 13.5 -9.5 14.4 -8 15.3 -7.6 16.3 -7.2 17.2 -7.2 18.1 -6.2 19 -6.4 20 -4.6 20.9 -2.9 21.9 -1.9 22.8 -1.7 23.7 -2 24.7 -2.1 25.6 -0.8 26.6 0.8 27.5 2.1 28.5 2.9 29.4 3.8 30.3 4.6 31.3 4.7 32.3 5 33.2 5.7 34.2 6.5 35.1 7.1 36.1 7.8 37 8.4 38 9.1 39 9.3 39.9 9.8 40.9 10.6 41.8 11.5 42.8 12.1 43.8 12.7 44.8 13.4 45.7 14 46.7 14.4 47.7 14.8 48.7 15.4 49.6 15.9 50.6 16.2 51.6 16.8 52.6 17.4 53.6 18 54.6 18.6 55.6 19.1 56.6 19.8 57.6 20.2 58.6 20.6 59.6 21 60.6 21.6 61.6 22.1 62.6 22.7 62.5 25.1 2.8 -1.2Z"/><path transform="translate(68.6 72.4)" d="M2.6 -11.3L3.4 -12.6 4.3 -14 5.2 -12.3 6.2 -11.2 7.1 -11.3 8 -11 8.9 -10.8 9.8 -12.3 10.7 -12.9 11.6 -12.1 12.5 -10.9 13.5 -9.9 14.4 -8.6 15.3 -8.1 16.2 -7.2 17.2 -7.6 18.1 -7.9 19 -7.1 20 -5.8 20.9 -4.3 21.9 -2.7 22.8 -2.1 23.7 -3 24.7 -2.6 25.6 -1.2 26.6 -0.3 27.5 1.1 28.5 1.9 29.4 2.8 30.4 3.6 31.3 3.6 32.3 3.9 33.2 4.8 34.2 5.4 35.1 6.2 36.1 7 37 7.6 38 8.2 39 8.5 39.9 9.3 40.9 10.1 41.9 10.9 42.8 11.7 43.8 12.3 44.8 12.9 45.7 13.7 46.7 14.2 47.7 14.7 48.7 15.2 49.7 15.6 50.7 15.9 51.6 16.4 52.6 17 53.6 17.6 54.6 18.4 55.6 18.8 56.6 19.6 57.6 20 58.6 20.4 59.6 20.9 60.6 21.6 61.6 22.1 62.6 22.7 62.5 25.1 2.8 -1.2Z"/><path transform="translate(67.7 72.9)" d="M2.6 -11.2L3.4 -13.1 4.3 -15.7 5.2 -13.4 6.1 -10.9 7 -11.2 7.9 -11.8 8.9 -10.2 9.8 -9.8 10.7 -9.7 11.6 -11.2 12.5 -10.8 13.5 -9.6 14.4 -9.4 15.3 -8.7 16.2 -7 17.2 -7.2 18.1 -7.6 19 -6.7 20 -5.6 20.9 -4.1 21.9 -2.2 22.8 -1.1 23.7 -2.1 24.7 -1.5 25.6 -0.1 26.6 0.5 27.5 2.2 28.5 2.7 29.4 3.6 30.4 4.2 31.3 4.3 32.3 4.8 33.2 5.5 34.2 6 35.1 6.7 36.1 7.4 37 8 38 8.5 39 8.9 39.9 9.8 40.9 10.6 41.9 11.2 42.8 11.8 43.8 12.4 44.8 12.9 45.8 13.8 46.7 14.4 47.7 15 48.7 15.6 49.7 16.1 50.7 16.5 51.6 16.9 52.6 17.4 53.6 17.9 54.6 18.7 55.6 19.1 56.6 19.8 57.6 20.3 58.6 20.8 59.6 21.4 60.6 22 61.6 22.5 62.6 23.1 62.5 25.2 2.8 -1.2Z"/><path transform="translate(66.8 73.4)" d="M2.5 -11L3.4 -12.7 4.2 -15.8 5.2 -15.3 6.1 -12.7 7 -12.6 7.9 -11.4 8.9 -10.3 9.8 -11.2 10.7 -9.7 11.6 -9.1 12.5 -9.6 13.4 -9.6 14.4 -9.1 15.3 -7.8 16.2 -6.2 17.2 -5.5 18.1 -5.8 19 -4.6 20 -3.5 20.9 -3.2 21.9 -1.3 22.8 0 23.7 -1.1 24.7 -0.1 25.6 1.5 26.6 1.7 27.5 3 28.5 3.7 29.4 4.6 30.4 5.3 31.3 5.7 32.3 6.4 33.2 7 34.2 7.3 35.1 8.1 36.1 8.7 37.1 9 38 9.7 39 9.9 39.9 10.7 40.9 11.3 41.9 11.9 42.8 12.5 43.8 13 44.8 13.5 45.8 14.5 46.7 15 47.7 15.7 48.7 16.4 49.7 16.9 50.7 17.3 51.6 17.8 52.6 18.2 53.6 18.8 54.6 19.4 55.6 19.8 56.6 20.5 57.6 20.9 58.6 21.4 59.6 22 60.6 22.6 61.6 23.1 62.6 23.6 62.6 25.3 2.8 -1.2Z"/><path transform="translate(65.9 74.0)" d="M2.5 -12.4L3.4 -13 4.3 -14.2 5.2 -14.3 6.1 -13.1 7 -12.7 7.9 -11.2 8.8 -11.5 9.8 -11.2 10.7 -9.3 11.6 -9 12.5 -10.5 13.4 -11.1 14.3 -10.3 15.3 -8.9 16.2 -6.2 17.2 -5.1 18.1 -4.5 19 -4.3 20 -3.7 20.9 -3.2 21.9 -1.4 22.8 -0.1 23.7 -0.8 24.7 0.3 25.6 2.1 26.6 2.6 27.5 3.5 28.5 4.2 29.4 5.1 30.4 5.8 31.3 6.2 32.3 6.8 33.2 7.3 34.2 7.7 35.1 8.3 36.1 9 37.1 9.5 38 10.2 39 10.5 39.9 11.2 40.9 11.8 41.9 12.3 42.9 12.9 43.8 13.4 44.8 14 45.8 14.8 46.7 15.4 47.7 16.1 48.7 16.6 49.7 17.2 50.7 17.6 51.7 18.2 52.6 18.6 53.6 19.2 54.6 19.6 55.6 20.1 56.6 20.6 57.6 21 58.6 21.6 59.6 22.1 60.6 22.8 61.6 23.3 62.6 23.8 62.6 25.3 2.8 -1.2Z"/><path transform="translate(65.0 74.5)" d="M2.5 -13.2L3.4 -13.7 4.2 -14.5 5.2 -13.8 6.1 -12.2 7 -11.4 7.9 -10.1 8.9 -10.3 9.8 -10.5 10.7 -9.4 11.6 -9.4 12.5 -11.3 13.4 -10.9 14.3 -10 15.3 -10 16.2 -7 17.2 -6 18.1 -5.3 19 -5.3 20 -5.7 20.9 -5.3 21.8 -2.9 22.8 -1.4 23.7 -0.9 24.7 -0.4 25.6 1 26.6 1.4 27.5 2.1 28.5 2.8 29.4 3.7 30.4 4.7 31.3 5.5 32.3 6.3 33.2 6.7 34.2 7.4 35.1 8 36.1 8.7 37.1 9.2 38 10 39 10.3 40 10.9 40.9 11.4 41.9 11.9 42.9 12.7 43.8 13.1 44.8 13.8 45.8 14.6 46.8 15.1 47.7 15.8 48.7 16.4 49.7 16.9 50.7 17.3 51.7 18 52.7 18.4 53.7 18.9 54.6 19.4 55.6 19.8 56.6 20.5 57.6 20.9 58.6 21.4 59.6 21.9 60.6 22.6 61.6 23 62.6 23.6 62.6 25.4 2.8 -1.2Z"/><path transform="translate(64.1 75.1)" d="M2.4 -17.4L3.3 -16.1 4.2 -14.1 5.2 -12.8 6.1 -13.9 7 -14.3 7.9 -11.4 8.8 -11.4 9.8 -9.8 10.7 -9.1 11.6 -9.4 12.5 -10.2 13.4 -9.8 14.4 -8.1 15.3 -7.8 16.2 -6.1 17.2 -5 18.1 -4.5 19 -4.5 20 -4.1 20.9 -3.6 21.8 -2.6 22.8 -0.9 23.7 0 24.7 -0.1 25.6 1.4 26.6 1.8 27.5 2.4 28.5 3.2 29.4 4 30.4 5.1 31.3 5.9 32.3 6.4 33.2 6.8 34.2 7.9 35.1 8.4 36.1 9.3 37.1 9.9 38 10.9 39 11.2 40 11.7 40.9 12.2 41.9 12.7 42.9 13.4 43.8 13.8 44.8 14.3 45.8 15 46.8 15.5 47.8 16 48.7 16.6 49.7 17.2 50.7 17.7 51.7 18.3 52.7 18.7 53.7 19.2 54.7 19.8 55.7 20.2 56.6 20.9 57.6 21.3 58.7 21.7 59.7 22.1 60.7 22.6 61.7 23 62.7 23.5 62.6 25.5 2.8 -1.2Z"/><path transform="translate(63.1 75.6)" d="M2.5 -12L3.4 -13 4.3 -11.9 5.2 -10.6 6.1 -12.8 7 -13.7 7.9 -10.6 8.8 -11.3 9.7 -11.8 10.7 -10.4 11.6 -9 12.5 -9 13.4 -9 14.4 -7.5 15.3 -8.1 16.2 -6 17.2 -4.6 18.1 -4.5 19 -4.2 20 -3.7 20.9 -3.1 21.9 -1.4 22.8 -0.2 23.7 0.7 24.7 1 25.6 1.9 26.6 2.6 27.5 3.1 28.5 3.7 29.4 4.4 30.4 5.6 31.3 6.3 32.3 6.8 33.2 7.4 34.2 8.2 35.2 8.9 36.1 9.8 37.1 10.4 38 11.3 39 11.6 40 12.2 40.9 12.6 41.9 13.1 42.9 13.8 43.9 14.3 44.8 14.8 45.8 15.4 46.8 16.1 47.8 16.6 48.7 17.1 49.7 17.7 50.7 18.3 51.7 18.9 52.7 19.2 53.7 19.5 54.7 20.1 55.7 20.6 56.7 21.2 57.7 21.6 58.7 22 59.7 22.4 60.7 22.8 61.7 23.2 62.7 23.7 62.6 25.5 2.8 -1.2Z"/><path transform="translate(62.2 76.1)" d="M2.5 -11.4L3.3 -15.1 4.2 -14.9 5.2 -10.3 6.1 -11.4 6.9 -14.7 7.9 -11.7 8.8 -10.4 9.7 -10.5 10.6 -10.9 11.6 -10.2 12.5 -10.3 13.4 -8.7 14.4 -7.2 15.3 -7.4 16.2 -6 17.2 -4.8 18.1 -4.2 19 -4 20 -3.9 20.9 -2.1 21.9 -0.8 22.8 0 23.8 1.3 24.7 1.3 25.6 2.4 26.6 3.3 27.5 3.9 28.5 4.6 29.4 5.2 30.4 6.5 31.3 7 32.3 7.6 33.2 8.1 34.2 8.8 35.2 9.5 36.1 10.2 37.1 11 38 11.7 39 12 40 12.7 40.9 13.1 41.9 13.6 42.9 14.2 43.9 14.8 44.8 15.3 45.8 15.8 46.8 16.4 47.8 16.9 48.8 17.4 49.7 17.9 50.7 18.5 51.7 19.1 52.7 19.5 53.7 20 54.7 20.5 55.7 21 56.7 21.6 57.7 22 58.7 22.5 59.7 22.9 60.7 23.3 61.7 23.8 62.7 24.3 62.7 25.6 2.7 -1.2Z"/><path transform="translate(61.3 76.7)" d="M2.5 -10.1L3.3 -15.4 4.2 -16.6 5.2 -10.4 6.1 -10.5 6.9 -14.1 7.9 -12.1 8.8 -10.9 9.7 -14 10.6 -13.7 11.5 -10.8 12.5 -9.8 13.4 -8.8 14.3 -8 15.3 -7.7 16.2 -7 17.1 -6.3 18.1 -5.8 19 -6.2 19.9 -6.1 20.9 -3.5 21.9 -1.8 22.8 -0.6 23.7 0.5 24.7 0.4 25.6 1.4 26.6 2 27.5 3 28.5 4.1 29.4 4.8 30.4 6.1 31.3 6.6 32.3 7.3 33.3 7.7 34.2 8.2 35.2 9.1 36.1 9.7 37.1 10.5 38.1 11.4 39 11.8 40 12.4 41 12.9 41.9 13.4 42.9 14 43.9 14.7 44.8 15.3 45.8 15.8 46.8 16.4 47.8 16.9 48.8 17.5 49.8 18 50.7 18.5 51.7 19.1 52.7 19.4 53.7 19.9 54.7 20.4 55.7 20.9 56.7 21.5 57.7 22 58.7 22.5 59.7 22.8 60.7 23.3 61.7 23.7 62.7 24.2 62.7 25.7 2.7 -1.2Z"/><path transform="translate(60.4 77.2)" d="M2.4 -13.8L3.2 -17.5 4.1 -16.8 5.2 -11.7 6 -13.2 6.8 -19.3 7.8 -13 8.8 -11.4 9.7 -12.8 10.6 -14.1 11.5 -11.4 12.5 -9 13.4 -8.6 14.3 -8.2 15.3 -8.2 16.2 -6.9 17.1 -5.8 18.1 -4.9 19 -5.2 19.9 -5.3 20.9 -2.3 21.9 -1 22.8 -0.6 23.7 0.1 24.7 0.5 25.6 1.7 26.6 2.1 27.5 2.9 28.5 3.9 29.4 4.6 30.4 5.8 31.3 6.1 32.3 6.9 33.3 7.5 34.2 8.3 35.2 9.1 36.1 9.7 37.1 10.5 38.1 11.4 39 11.8 40 12.3 41 12.8 41.9 13.4 42.9 14 43.9 14.6 44.9 15.3 45.8 15.8 46.8 16.4 47.8 16.9 48.8 17.5 49.8 18 50.8 18.5 51.7 19.1 52.7 19.5 53.7 19.9 54.7 20.4 55.7 21 56.7 21.6 57.7 22 58.7 22.5 59.7 22.9 60.7 23.4 61.7 23.8 62.7 24.4 62.7 25.7 2.7 -1.2Z"/><path transform="translate(59.4 77.8)" d="M2.4 -13.9L3.2 -15.7 4.2 -13.9 5.1 -11.8 6 -12.4 6.9 -15.1 7.9 -12 8.8 -10.6 9.6 -13.9 10.5 -14.7 11.5 -12.7 12.5 -9.3 13.4 -8.5 14.3 -9.6 15.2 -8.4 16.2 -7.1 17.1 -6.3 18.1 -5 19 -6.3 19.9 -8.1 20.9 -2.4 21.9 -0.8 22.8 -0.3 23.7 0.1 24.7 0.7 25.6 1.5 26.6 2.3 27.5 3.3 28.5 4.1 29.4 5.1 30.4 6 31.3 6.2 32.3 6.8 33.3 7.5 34.2 8.4 35.2 9.1 36.1 9.7 37.1 10.6 38.1 11.5 39 12.1 40 12.7 41 13.2 41.9 13.8 42.9 14.4 43.9 14.8 44.9 15.5 45.8 16 46.8 16.6 47.8 17 48.8 17.5 49.8 18.1 50.8 18.6 51.8 19.1 52.7 19.5 53.7 19.9 54.7 20.5 55.7 21.1 56.7 21.6 57.7 22.1 58.7 22.6 59.7 23.1 60.7 23.5 61.8 24 62.8 24.5 62.7 25.8 2.7 -1.2Z"/><path transform="translate(58.5 78.3)" d="M2.2 -19L3.2 -17 4.2 -15 5 -15.4 6 -13.3 6.9 -12.6 7.9 -11.5 8.8 -10.3 9.7 -11.9 10.5 -15.7 11.4 -14.5 12.5 -9.2 13.4 -8.1 14.3 -8.4 15.2 -8 16.2 -8 17.1 -7.7 18.1 -5.1 19 -5.7 19.9 -6.8 20.9 -2.3 21.9 -0.6 22.8 -0.2 23.7 0.2 24.7 1.1 25.6 2 26.6 2.8 27.5 3.4 28.5 4.2 29.4 5.2 30.4 6.2 31.4 6.3 32.3 6.8 33.3 7.7 34.2 8.8 35.2 9.4 36.2 9.9 37.1 10.8 38.1 11.8 39 12.3 40 12.8 41 13.3 42 14 42.9 14.5 43.9 14.8 44.9 15.4 45.9 15.9 46.8 16.4 47.8 16.9 48.8 17.4 49.8 18.1 50.8 18.6 51.8 19.1 52.8 19.6 53.8 19.9 54.8 20.5 55.7 21.1 56.7 21.6 57.7 22.1 58.8 22.6 59.8 23.1 60.8 23.6 61.8 24.1 62.8 24.7 62.8 25.9 2.7 -1.2Z"/><path transform="translate(57.5 78.9)" d="M2.2 -21.8L3.2 -17 4.2 -12.2 5 -15.9 5.9 -15.4 6.9 -12.3 7.8 -12.3 8.7 -12.9 9.6 -13.3 10.5 -16.8 11.4 -14.6 12.5 -8.7 13.4 -8.4 14.3 -10 15.2 -8.6 16.2 -8.3 17.1 -8.4 18.1 -5.9 19 -6.8 19.9 -8.4 20.9 -3.8 21.8 -1.2 22.8 -0.7 23.7 0 24.7 0.7 25.6 1.1 26.6 2.4 27.5 3.1 28.5 4 29.4 4.9 30.4 6 31.4 6.4 32.3 6.9 33.3 7.7 34.2 8.6 35.2 9.2 36.2 9.5 37.1 10.5 38.1 11.5 39.1 12.3 40 12.8 41 13.5 42 14.1 42.9 14.6 43.9 15 44.9 15.4 45.9 16.1 46.9 16.6 47.8 17 48.8 17.4 49.8 18.1 50.8 18.6 51.8 19.1 52.8 19.5 53.8 20 54.8 20.6 55.8 21.1 56.8 21.6 57.8 22.1 58.8 22.7 59.8 23.2 60.8 23.7 61.8 24.2 62.8 24.8 62.8 26 2.7 -1.2Z"/><path transform="translate(56.6 79.4)" d="M2.2 -20.7L3.2 -15 4.2 -11.7 5 -16.4 5.9 -17.5 6.9 -12.6 7.8 -11.8 8.7 -12.1 9.6 -11.8 10.5 -14.8 11.4 -15.1 12.5 -9.2 13.4 -9.1 14.3 -10.4 15.2 -8.3 16.2 -7.7 17.1 -9.2 18 -7 19 -6.7 19.9 -7.5 20.9 -4 21.8 -2.1 22.8 -1.2 23.7 -0.1 24.7 0.8 25.6 1 26.6 2.4 27.5 3.3 28.5 3.7 29.4 4.6 30.4 5.6 31.4 6 32.3 6.4 33.3 7.2 34.2 8.2 35.2 9 36.2 9.3 37.1 10.3 38.1 11.4 39.1 12.3 40 12.8 41 13.4 42 14 43 14.5 43.9 14.9 44.9 15.4 45.9 16 46.9 16.5 47.9 16.9 48.8 17.5 49.8 18.1 50.8 18.6 51.8 19.1 52.8 19.6 53.8 20 54.8 20.6 55.8 21 56.8 21.6 57.8 22.1 58.8 22.6 59.8 23.1 60.8 23.6 61.8 24.1 62.8 24.7 62.8 26 2.7 -1.2Z"/><path transform="translate(55.7 80.0)" d="M2.4 -13.6L3.3 -13.5 4.2 -12.2 5 -15.4 5.9 -16.4 6.9 -13.3 7.8 -13 8.7 -11.7 9.6 -14 10.4 -16.8 11.5 -12.4 12.4 -9.3 13.3 -10.3 14.3 -10 15.2 -7.2 16.2 -7.6 17 -10.7 18 -7 19 -6 19.9 -6.5 20.9 -3.5 21.8 -1.2 22.8 0.1 23.7 1 24.7 1.7 25.6 2 26.6 3.1 27.5 3.8 28.5 4.3 29.5 5 30.4 5.8 31.4 6.4 32.3 6.8 33.3 7.5 34.2 8.5 35.2 9.4 36.2 9.6 37.1 10.6 38.1 11.7 39.1 12.6 40 13.1 41 13.7 42 14.4 43 14.9 43.9 15.3 44.9 15.7 45.9 16.4 46.9 16.8 47.9 17.2 48.8 17.8 49.8 18.4 50.8 18.9 51.8 19.3 52.8 19.8 53.8 20.2 54.8 20.8 55.8 21.3 56.8 21.8 57.8 22.4 58.8 22.9 59.8 23.3 60.8 23.8 61.8 24.3 62.8 24.8 62.8 26.1 2.7 -1.2Z"/><path transform="translate(54.7 80.6)" d="M2.4 -11.6L3.2 -14.1 4.1 -15 4.9 -17.6 5.7 -22 6.8 -14.7 7.8 -12.3 8.7 -10.8 9.6 -11.8 10.4 -17 11.5 -11.4 12.5 -8.2 13.3 -9.6 14.3 -7.5 15.3 -5.6 16.2 -5.4 17.1 -6.5 18.1 -4.7 19 -3.5 19.9 -3.2 20.9 -1.6 21.9 0.2 22.8 1.2 23.8 1.9 24.7 2.9 25.7 3.1 26.6 3.9 27.6 4.5 28.5 5.1 29.5 5.5 30.4 6.4 31.4 6.9 32.3 7.5 33.3 8.1 34.3 8.9 35.2 9.8 36.2 10.2 37.1 11.2 38.1 12.1 39.1 13 40.1 13.6 41 14.2 42 14.9 43 15.2 44 15.7 44.9 16.1 45.9 16.7 46.9 17.1 47.9 17.5 48.9 18 49.8 18.5 50.8 19 51.8 19.4 52.8 19.9 53.8 20.4 54.8 21 55.8 21.5 56.8 22.1 57.8 22.7 58.8 23.1 59.8 23.6 60.8 24 61.8 24.5 62.9 25 62.8 26.2 2.7 -1.2Z"/><path transform="translate(53.8 81.1)" d="M2.4 -12.6L3.2 -15.2 4.1 -15.2 4.9 -17.3 5.7 -21.2 6.8 -15.1 7.8 -13.1 8.7 -11.2 9.6 -12.8 10.5 -13.9 11.5 -9.2 12.5 -7.7 13.3 -10.1 14.3 -8.5 15.3 -5.8 16.2 -5.1 17.1 -7.1 18.1 -4.8 19 -3.3 19.9 -3.5 20.9 -1.2 21.9 -0.3 22.8 0.2 23.8 1.3 24.7 2.1 25.6 2.3 26.6 3.1 27.5 3.7 28.5 4.4 29.5 4.8 30.4 5.5 31.4 6.1 32.3 6.7 33.3 7.2 34.3 8.1 35.2 9.1 36.2 9.7 37.2 10.9 38.1 11.8 39.1 12.8 40.1 13.4 41 14 42 14.7 43 15.2 44 15.6 44.9 16 45.9 16.5 46.9 16.9 47.9 17.3 48.9 17.8 49.9 18.3 50.9 18.8 51.8 19.3 52.8 19.8 53.8 20.4 54.8 21 55.8 21.6 56.8 22.1 57.8 22.7 58.8 23.1 59.8 23.6 60.9 24.1 61.9 24.6 62.9 25.1 62.9 26.3 2.7 -1.2Z"/><path transform="translate(52.8 81.7)" d="M2.4 -11.5L3.2 -15.8 4 -19 4.9 -16.5 5.9 -15.4 6.9 -13 7.8 -11.9 8.7 -10.5 9.6 -13.5 10.5 -11.9 11.5 -9 12.4 -8.1 13.3 -10.3 14.3 -7.8 15.3 -5.9 16.2 -5.2 17.1 -7.3 18 -6.3 19 -3.4 19.9 -2.8 20.9 -1.3 21.8 -1 22.8 -0.2 23.8 1.3 24.7 2.1 25.6 2.4 26.6 2.8 27.6 3.8 28.5 4.2 29.5 4.5 30.4 5.1 31.4 6.1 32.3 6.7 33.3 7.1 34.3 7.7 35.2 9 36.2 9.7 37.2 10.8 38.1 11.7 39.1 12.7 40.1 13.3 41 13.8 42 14.6 43 15.1 44 15.7 45 16 45.9 16.6 46.9 17 47.9 17.3 48.9 17.8 49.9 18.2 50.9 18.8 51.9 19.3 52.9 19.8 53.9 20.5 54.8 21 55.8 21.6 56.8 22.2 57.9 22.7 58.9 23.2 59.9 23.7 60.9 24.2 61.9 24.7 62.9 25.2 62.9 26.3 2.7 -1.2Z"/><path transform="translate(51.9 82.2)" d="M2.3 -12.9L3 -19.4 3.9 -19.5 5 -14.5 5.9 -13.4 6.9 -11.7 7.8 -12.1 8.7 -10.7 9.6 -12 10.5 -12.8 11.5 -9.1 12.4 -7.7 13.4 -8 14.3 -7.1 15.3 -5.6 16.2 -4.7 17.1 -5.9 18 -4.9 19 -2.6 20 -1.8 20.9 -0.5 21.8 -0.6 22.8 0.2 23.8 1.9 24.7 2.8 25.7 2.9 26.6 3.5 27.6 4.3 28.5 4.5 29.5 4.9 30.4 5.6 31.4 6.6 32.3 7.2 33.3 7.6 34.3 8.4 35.2 9.6 36.2 10.4 37.2 11.3 38.1 12 39.1 12.8 40.1 13.2 41.1 13.7 42 14.4 43 15 44 15.7 45 16.1 45.9 16.7 46.9 17 47.9 17.5 48.9 17.9 49.9 18.4 50.9 19.1 51.9 19.6 52.9 20.1 53.9 20.7 54.9 21.2 55.9 21.7 56.9 22.2 57.9 22.7 58.9 23.3 59.9 23.8 60.9 24.3 61.9 24.8 62.9 25.3 62.9 26.4 2.7 -1.2Z"/><path transform="translate(50.9 82.8)" d="M2.2 -16.7L2.9 -23.1 3.8 -22.4 4.9 -15.7 6 -11.9 6.9 -10.5 7.8 -11.5 8.7 -11.6 9.6 -11.6 10.5 -11.3 11.5 -9.3 12.4 -7.4 13.4 -6.9 14.3 -6.3 15.3 -4.6 16.2 -3.7 17.1 -4.5 18 -5.2 19 -2.2 20 -0.8 20.9 0 21.8 -0.7 22.8 1.2 23.8 3.2 24.7 3.6 25.7 3.7 26.6 4.2 27.6 5.2 28.5 5.2 29.5 5.6 30.4 6.6 31.4 7.5 32.4 8.1 33.3 8.5 34.3 9.3 35.2 10.4 36.2 11.2 37.2 11.9 38.2 12.6 39.1 13.3 40.1 13.8 41.1 14.2 42 14.8 43 15.4 44 15.9 45 16.4 46 17 46.9 17.3 47.9 17.8 48.9 18.3 49.9 18.8 50.9 19.4 51.9 19.9 52.9 20.5 53.9 21 54.9 21.5 55.9 22 56.9 22.5 57.9 23 58.9 23.6 59.9 24 60.9 24.6 61.9 25 62.9 25.5 62.9 26.5 2.7 -1.2Z"/><path transform="translate(50.0 83.4)" d="M2.2 -17.9L2.9 -21.1 3.8 -21.5 4.9 -15.2 6 -11.3 6.9 -11 7.7 -12.3 8.7 -10.9 9.5 -12.9 10.5 -11.6 11.5 -9 12.4 -7.5 13.4 -6.8 14.3 -6.8 15.3 -5.2 16.2 -4 17.1 -5.2 18 -5.1 19 -2 20 -1 20.9 0.1 21.8 -0.3 22.8 1.5 23.8 3.3 24.7 3.7 25.7 3.6 26.6 4.4 27.6 5.4 28.5 5.5 29.5 6.1 30.4 6.7 31.4 7.9 32.4 8.3 33.3 8.7 34.3 9.6 35.3 10.5 36.2 11.4 37.2 12.1 38.2 12.8 39.1 13.4 40.1 13.9 41.1 14.3 42.1 14.9 43 15.4 44 16 45 16.6 46 17.1 47 17.5 47.9 18 48.9 18.5 49.9 19.1 50.9 19.6 51.9 20.1 52.9 20.6 53.9 21.1 54.9 21.6 55.9 22.1 56.9 22.6 57.9 23.1 58.9 23.6 59.9 24.1 60.9 24.6 61.9 25.1 63 25.6 62.9 26.5 2.7 -1.2Z"/><path transform="translate(49.0 83.9)" d="M2.2 -15.4L3.1 -17.2 3.9 -19.4 4.9 -15.5 5.9 -11.9 6.8 -12.6 7.7 -14.6 8.7 -12 9.5 -13.6 10.5 -12.1 11.4 -11.7 12.3 -11.1 13.3 -8.4 14.3 -7.3 15.2 -6.3 16.2 -4.9 17.1 -4.9 18 -5.4 19 -2.6 19.9 -2 20.9 -1.6 21.8 -2.2 22.8 -0.2 23.8 1.7 24.7 2.3 25.6 2.2 26.6 2.9 27.6 3.8 28.5 3.9 29.5 4.6 30.4 5.6 31.4 7 32.4 7.8 33.3 8.2 34.3 9 35.3 10.2 36.2 11.1 37.2 11.8 38.2 12.5 39.1 13.1 40.1 13.8 41.1 14.1 42.1 14.6 43 15.2 44 15.8 45 16.4 46 16.8 47 17.3 48 17.8 48.9 18.4 49.9 18.9 50.9 19.4 51.9 19.9 52.9 20.4 53.9 20.9 54.9 21.4 55.9 21.9 56.9 22.4 57.9 22.9 58.9 23.4 59.9 23.9 60.9 24.5 62 24.9 63 25.4 63 26.6 2.7 -1.2Z"/><path transform="translate(48.0 84.5)" d="M2.2 -16.7L3.1 -15.1 4 -14.9 4.9 -15.8 5.9 -13.5 6.8 -13.3 7.7 -12.9 8.7 -11 9.6 -12.1 10.4 -14.1 11.3 -13.8 12.3 -10.7 13.3 -8.5 14.2 -8.2 15.2 -7.8 16.2 -5.3 17.1 -4.1 18 -3.9 19 -2.4 19.9 -2.1 20.9 -1.6 21.8 -1.4 22.8 -0.3 23.7 1.2 24.7 1.6 25.6 2.2 26.6 2.7 27.6 3.4 28.5 3.8 29.5 4.8 30.4 5.7 31.4 7 32.4 7.9 33.3 8.4 34.3 9 35.3 10 36.2 10.9 37.2 11.6 38.2 12.4 39.1 13 40.1 13.7 41.1 14 42.1 14.4 43 15 44 15.7 45 16.3 46 16.9 47 17.4 48 17.9 49 18.5 49.9 19 50.9 19.5 51.9 20.1 52.9 20.6 53.9 21 54.9 21.4 55.9 22 56.9 22.5 57.9 22.9 58.9 23.4 60 24 61 24.5 62 24.9 63 25.4 63 26.7 2.7 -1.2Z"/><path transform="translate(47.1 85.1)" d="M2.1 -17.1L3.1 -14.5 4 -15 4.8 -17.1 5.8 -15.2 6.7 -14.3 7.7 -11.6 8.6 -11.5 9.5 -13.3 10.4 -12.3 11.4 -11.5 12.3 -11.6 13.2 -11.8 14.2 -9.4 15.1 -9.4 16.1 -6.6 17.1 -4.5 18 -4.4 19 -2.9 19.9 -2.7 20.9 -1.7 21.8 -1.3 22.8 0.1 23.8 1.6 24.7 1.5 25.6 2.5 26.6 3 27.6 3.6 28.5 4 29.5 4.8 30.4 6.1 31.4 7.5 32.4 8.1 33.3 8.6 34.3 9.2 35.3 10.2 36.2 10.9 37.2 11.6 38.2 12.4 39.2 13.1 40.1 13.8 41.1 14.2 42.1 14.7 43.1 15.2 44 15.8 45 16.5 46 17 47 17.5 48 18.1 49 18.7 50 19.2 50.9 19.7 51.9 20.3 52.9 20.8 53.9 21.2 54.9 21.6 55.9 22.1 56.9 22.5 58 22.9 59 23.4 60 23.9 61 24.5 62 25 63 25.5 63 26.8 2.7 -1.2Z"/><path transform="translate(46.1 85.6)" d="M2.2 -15.1L3.1 -13.9 4 -14.9 4.9 -16.3 5.7 -16.6 6.7 -15.4 7.8 -10.3 8.7 -10.7 9.5 -13 10.5 -10.9 11.4 -11.1 12.3 -12.5 13.2 -10.6 14.2 -8.9 15.1 -9.5 16.1 -6.8 17.1 -4.4 18 -3.4 19 -2.6 19.9 -2 20.9 -0.9 21.8 -0.2 22.8 1.1 23.8 2.7 24.7 3.1 25.7 3.8 26.6 4.1 27.6 4.3 28.5 5.2 29.5 5.8 30.5 6.9 31.4 8.4 32.4 8.8 33.3 9.2 34.3 9.8 35.3 10.6 36.2 11.3 37.2 11.9 38.2 12.8 39.2 13.5 40.1 14.1 41.1 14.6 42.1 15.1 43.1 15.6 44 16.1 45 16.7 46 17.2 47 17.7 48 18.4 49 18.9 50 19.4 51 19.9 52 20.4 53 20.8 54 21.2 55 21.7 56 22.3 57 22.6 58 23.1 59 23.6 60 24.1 61 24.6 62 25.1 63 25.7 63 26.8 2.7 -1.2Z"/><path transform="translate(45.1 86.2)" d="M2.2 -15.5L3.1 -14.7 3.9 -16.3 4.8 -16.7 5.7 -17.2 6.7 -15.5 7.8 -9.7 8.7 -9.9 9.6 -10.1 10.5 -8.9 11.4 -10.4 12.2 -12.8 13.3 -9.4 14.2 -7.7 15.2 -7.5 16.1 -5.6 17.1 -4.5 18 -3.8 19 -3.7 19.9 -3.2 20.9 -1.9 21.8 -1.6 22.8 0.5 23.8 2.5 24.7 2.9 25.7 3.4 26.6 3.6 27.6 3.8 28.5 4.4 29.5 5.4 30.5 6.8 31.4 8.2 32.4 8.7 33.3 8.9 34.3 9.6 35.3 10.3 36.3 11 37.2 11.6 38.2 12.3 39.2 13.1 40.1 13.8 41.1 14.4 42.1 14.9 43.1 15.5 44.1 16.1 45 16.6 46 17.1 47 17.6 48 18.3 49 18.7 50 19.2 51 19.6 52 20.1 53 20.6 54 21 55 21.5 56 22.1 57 22.4 58 23 59 23.5 60 23.9 61 24.5 62 25.1 63.1 25.7 63 26.9 2.7 -1.2Z"/><path transform="translate(44.2 86.8)" d="M2.2 -13.8L3.1 -15.1 4 -14.6 5 -11.7 5.8 -13 6.8 -13 7.8 -9.4 8.7 -10.2 9.6 -9.8 10.5 -8.6 11.4 -10.3 12.3 -10.4 13.3 -9.1 14.2 -8.5 15.2 -6.6 16.1 -5.3 17.1 -4.2 18 -3.6 18.9 -4.2 19.9 -3.9 20.9 -1.8 21.8 -1 22.8 0.9 23.8 2.5 24.7 2.8 25.7 3.5 26.6 3.9 27.6 4.2 28.5 5 29.5 6.1 30.5 7.2 31.4 8.3 32.4 8.9 33.4 9.2 34.3 10.2 35.3 11 36.3 11.5 37.2 12.1 38.2 12.7 39.2 13.4 40.2 14.1 41.1 14.6 42.1 15.2 43.1 15.8 44.1 16.2 45.1 16.8 46 17.2 47 17.8 48 18.4 49 18.9 50 19.3 51 19.8 52 20.2 53 20.7 54 21.2 55 21.7 56 22.2 57 22.6 58 23.1 59 23.6 60 24.1 61 24.7 62.1 25.3 63.1 25.9 63.1 27 2.7 -1.2Z"/><path transform="translate(43.2 87.3)" d="M2.3 -11.8L3 -16.5 3.9 -17.1 5 -10.9 5.9 -10.8 6.8 -11.3 7.8 -9.8 8.6 -10.6 9.5 -10.6 10.5 -8.7 11.4 -10.2 12.3 -9.2 13.3 -7.8 14.2 -7.2 15.2 -5.1 16.2 -4.6 17.1 -4.6 18 -4.1 18.9 -4.7 19.9 -4.1 20.8 -2.5 21.8 -1.2 22.8 1 23.8 2.4 24.7 2.9 25.7 3.6 26.6 4.6 27.6 4.9 28.5 5.9 29.5 6.9 30.5 7.8 31.4 8.8 32.4 9.5 33.4 9.9 34.3 10.6 35.3 11.3 36.3 11.8 37.2 12.3 38.2 12.9 39.2 13.7 40.2 14.4 41.1 15 42.1 15.4 43.1 16 44.1 16.5 45.1 17.1 46.1 17.5 47 18.1 48 18.6 49 19.1 50 19.5 51 19.9 52 20.4 53 20.9 54 21.4 55 21.9 56 22.4 57 22.8 58 23.3 59 23.8 60 24.3 61.1 24.8 62.1 25.4 63.1 26 63.1 27.1 2.7 -1.2Z"/><path transform="translate(42.2 87.9)" d="M2.4 -10.1L3.1 -13.1 4 -12.9 5.1 -9.7 6 -9.5 6.8 -10.3 7.7 -10.6 8.7 -9.7 9.6 -9.2 10.5 -8.5 11.4 -9.5 12.3 -8.8 13.3 -7.7 14.2 -6.6 15.2 -4.5 16.2 -4.3 17.1 -4.7 18 -4.5 18.9 -4.5 19.9 -3.2 20.9 -1.7 21.8 -0.1 22.8 1 23.8 2.5 24.7 3.4 25.7 3.8 26.6 4.5 27.6 5 28.5 5.9 29.5 6.6 30.5 7.6 31.4 8.6 32.4 9.4 33.4 9.7 34.3 10.3 35.3 11.1 36.3 11.8 37.3 12.4 38.2 13.1 39.2 13.9 40.2 14.6 41.2 15.2 42.1 15.6 43.1 16.1 44.1 16.7 45.1 17.2 46.1 17.6 47.1 18.2 48 18.7 49 19.2 50 19.7 51 20.1 52 20.6 53 21 54 21.5 55 22 56 22.5 57 23 58 23.4 59 23.9 60.1 24.5 61.1 25 62.1 25.5 63.1 26 63.1 27.1 2.7 -1.1Z"/><path transform="translate(41.2 88.5)" d="M2.4 -8.4L3.2 -10.3 4.1 -11 5.1 -9.6 6 -9 6.8 -9.8 7.7 -11.1 8.7 -9.2 9.6 -9.2 10.5 -8.4 11.4 -7.8 12.4 -7.1 13.3 -7 14.2 -7.1 15.2 -5.3 16.1 -4.6 17.1 -4.4 18 -4.8 18.9 -4.6 19.9 -3.3 20.8 -2.1 21.8 -0.9 22.8 0.4 23.7 1.3 24.7 2.2 25.7 3 26.6 3.9 27.6 4.4 28.5 5.6 29.5 6.6 30.5 7.4 31.4 8.5 32.4 9.1 33.4 9.5 34.3 9.9 35.3 10.6 36.3 11.5 37.3 12 38.2 12.8 39.2 13.7 40.2 14.5 41.2 15 42.1 15.3 43.1 15.8 44.1 16.5 45.1 17 46.1 17.5 47.1 18.1 48.1 18.6 49 19.1 50 19.5 51 19.9 52 20.5 53 20.9 54 21.5 55 22 56 22.5 57 22.9 58.1 23.4 59.1 24 60.1 24.5 61.1 25 62.1 25.6 63.1 26.2 63.1 27.2 2.7 -1.1Z"/><path transform="translate(40.3 89.1)" d="M2.5 -7.4L3.3 -8.3 4.2 -8.8 5.1 -9.2 6 -8.3 6.9 -8.3 7.7 -11.1 8.6 -10.4 9.5 -11.1 10.4 -10 11.4 -8.9 12.4 -7.3 13.3 -7.9 14.2 -8.7 15.2 -6 16.1 -5.9 17 -6.2 17.9 -5.7 18.9 -4.6 19.9 -2.9 20.8 -2.3 21.8 -1.2 22.8 0 23.7 0.5 24.7 1.7 25.6 2.3 26.6 2.9 27.6 3.5 28.5 4.7 29.5 5.8 30.5 6.6 31.4 7.8 32.4 8.5 33.4 9.1 34.3 9.4 35.3 10.1 36.3 11.1 37.3 11.8 38.2 12.6 39.2 13.4 40.2 14.4 41.2 14.9 42.1 15.3 43.1 15.8 44.1 16.4 45.1 16.9 46.1 17.3 47.1 17.8 48.1 18.4 49.1 19 50 19.3 51 19.8 52 20.4 53 20.9 54 21.5 55 22 56.1 22.5 57.1 23 58.1 23.5 59.1 24 60.1 24.6 61.1 25.2 62.1 25.7 63.1 26.3 63.1 27.3 2.7 -1.1Z"/><path transform="translate(39.3 89.6)" d="M2.5 -6.4L3.4 -6.8 4.2 -7.7 5 -11.3 6 -8.3 6.9 -7.8 7.7 -9.2 8.7 -9 9.5 -11.5 10.4 -12 11.4 -8.9 12.4 -6.3 13.3 -7 14.2 -7.9 15.2 -5.6 16.1 -5.4 16.9 -8 17.9 -8.1 18.9 -4.9 19.9 -2.5 20.8 -2.5 21.8 -1.5 22.8 -0.2 23.7 0.3 24.7 1.9 25.6 2.1 26.6 2.9 27.6 3.9 28.5 5 29.5 5.9 30.5 6.8 31.4 8 32.4 8.8 33.4 9.5 34.3 9.8 35.3 10.5 36.3 11.2 37.3 12 38.2 12.8 39.2 13.5 40.2 14.3 41.2 14.9 42.2 15.3 43.1 15.9 44.1 16.5 45.1 17.1 46.1 17.5 47.1 18 48.1 18.5 49.1 19.1 50.1 19.4 51.1 19.9 52.1 20.5 53.1 21.1 54.1 21.7 55.1 22.3 56.1 22.7 57.1 23.3 58.1 23.7 59.1 24.2 60.1 24.8 61.1 25.4 62.1 25.9 63.2 26.4 63.2 27.4 2.7 -1.1Z"/></g></g><path fill="url(#fwa)" d="M41.8 83.3L42.6 82.8 43.5 81.9 44.2 78.3 45.3 81.3 46.2 81.8 47 80.4 47.9 80.6 48.7 78.1 49.6 77.7 50.7 80.7 51.7 83.3 52.6 82.7 53.5 81.8 54.4 84.1 55.4 84.2 56.2 81.7 57.1 81.6 58.2 84.7 59.2 87.1 60.1 87.2 61.1 88.1 62 89.4 63 89.9 64 91.6 64.9 91.8 65.9 92.5 66.8 93.5 67.8 94.6 68.8 95.6 69.7 96.5 70.7 97.6 71.7 98.4 72.7 99.1 73.6 99.4 74.6 100.1 75.6 100.9 76.5 101.7 77.5 102.4 78.5 103.1 79.5 104 80.5 104.5 81.4 104.9 82.4 105.5 83.4 106.2 84.4 106.7 85.4 107.1 86.4 107.6 87.3 108.2 88.3 108.7 89.3 109 90.3 109.5 91.3 110.2 92.3 110.7 93.3 111.4 94.3 112 95.3 112.4 96.4 112.9 97.4 113.4 98.4 113.9 99.4 114.4 100.4 115 101.4 115.5 102.4 116.1 101.5 116.9 100.4 116.4 99.4 115.9 98.4 115.4 97.4 114.9 96.4 114.4 95.4 113.9 94.4 113.4 93.4 113 92.4 112.5 91.4 111.9 90.4 111.4 89.4 110.9 88.4 110.4 87.4 110 86.4 109.5 85.4 109 84.4 108.5 83.4 108.1 82.4 107.6 81.4 107.1 80.5 106.6 79.5 106.1 78.5 105.7 77.5 105.1 76.6 104.5 75.6 104 74.6 103.4 73.6 102.9 72.7 102.4 71.7 101.9 70.8 101.4 69.8 100.9 68.8 100.2 67.9 99.6 66.9 99 66 98.4 65 97.8 64 97.2 63.1 96.8 62.1 96.1 61.2 95.6 60.3 94.9 59.3 94.3 58.4 94 57.4 92.9 56.5 91.7 55.5 91.4 54.6 91.9 53.7 91.5 52.7 90.5 51.8 90.5 50.9 90.4 50 89.3 49 88.1 48.1 87.9 47.2 88.3 46.3 88 45.4 88.1 44.5 87.6 43.6 86.4 42.7 87.2 41.8 87.2 40.9 87Z"/><path fill="#f6f6f6" d="M40.9 87.3L41.8 87.4 42.7 87.5 43.6 86.7 44.5 87.9 45.4 88.3 46.3 88.2 47.2 88.6 48.1 88.2 49 88.3 50 89.5 50.9 90.6 51.8 90.7 52.7 90.8 53.7 91.8 54.6 92.1 55.5 91.7 56.5 91.9 57.4 93.2 58.4 94.2 59.3 94.5 60.3 95.1 61.2 95.8 62.1 96.3 63.1 97.1 64 97.5 65 98 66 98.6 66.9 99.3 67.9 99.9 68.8 100.5 69.8 101.1 70.8 101.7 71.7 102.2 72.7 102.6 73.6 103.1 74.6 103.7 75.6 104.2 76.6 104.8 77.5 105.3 78.5 105.9 79.5 106.4 80.5 106.8 81.4 107.3 82.4 107.9 83.4 108.3 84.4 108.8 85.4 109.3 86.4 109.8 87.4 110.3 88.4 110.7 89.4 111.1 90.4 111.7 91.4 112.2 92.4 112.7 93.4 113.2 94.4 113.7 95.4 114.2 96.4 114.6 97.4 115.1 98.4 115.6 99.4 116.1 100.4 116.6 101.5 117.1 101.5 118.2 100.4 117.8 99.4 117.3 98.4 116.8 97.4 116.3 96.4 115.8 95.4 115.4 94.4 114.9 93.4 114.4 92.4 113.9 91.4 113.5 90.4 113 89.4 112.5 88.4 112.1 87.4 111.6 86.4 111.1 85.4 110.6 84.4 110.2 83.4 109.7 82.5 109.2 81.5 108.8 80.5 108.3 79.5 107.9 78.5 107.4 77.6 106.9 76.6 106.5 75.6 106 74.7 105.6 73.7 105.1 72.7 104.6 71.8 104.2 70.8 103.7 69.8 103.3 68.9 102.8 67.9 102.4 67 101.9 66 101.5 65.1 101 64.1 100.6 63.2 100.1 62.2 99.7 61.3 99.2 60.4 98.8 59.4 98.3 58.5 97.9 57.6 97.5 56.6 97 55.7 96.6 54.8 96.1 53.8 95.7 52.9 95.3 52 94.8 51.1 94.4 50.1 93.9 49.2 93.5 48.3 93.1 47.4 92.6 46.5 92.2 45.6 91.8 44.7 91.3 43.7 90.9 42.8 90.5 41.9 90.1 41 89.6Z"/></g><polygon points="76.1,25.5 77.2,41 74.9,41" fill="#f4b0a0" fill-opacity="0.45"/><polygon points="74.9,41 77.2,41 79.1,69.5 76.5,69.5" fill="#ff2a0e"/><path d="M35.6 91.8L102 123.6M102 123.6L156.3 86.2M35.6 91.8L32.8 34.6M37.3 93.8L39 92.8M51.7 100.7L53.5 99.7M66.6 107.9L68.3 106.8M81.9 115.2L83.6 114.1M97.7 122.8L99.4 121.7M155.3 88.3L153.3 87.5M146 94.7L144 93.9M136.4 101.4L134.4 100.5M126.6 108.2L124.5 107.2M116.4 115.2L114.4 114.2M106 122.4L103.9 121.4M34 82.8L35.8 83.7M33.6 74.5L35.4 75.3M33.2 66.1L35 66.9M32.8 57.6L34.6 58.4M32.3 48.9L34.2 49.7M31.9 40.2L33.8 40.9" stroke="#222" stroke-width="0.55" fill="none"/><g font-family="DejaVu Sans, Liberation Sans, sans-serif" font-size="5.1" text-anchor="middle" fill="#111"><text x="33.9" y="104.7">0</text><text x="47.9" y="111.6">2000</text><text x="62.2" y="118.7">4000</text><text x="77.1" y="126.1">6000</text><text x="92.4" y="133.6">8000</text><text x="112.1" y="132.9">1.0</text><text x="122" y="125.7">0.8</text><text x="131.6" y="118.7">0.6</text><text x="140.9" y="112">0.4</text><text x="149.9" y="105.4">0.2</text><text x="158.7" y="98.9">0.0</text><text x="25" y="86.5">2.5</text><text x="24.6" y="78.1">5.0</text><text x="24.2" y="69.7">7.5</text><text x="23.7" y="61.2">10.0</text><text x="23.3" y="52.5">12.5</text><text x="22.9" y="43.8">15.0</text></g><g font-family="DejaVu Sans, Liberation Sans, sans-serif" font-size="5.2" text-anchor="middle" fill="#111"><text transform="translate(57.2 124) rotate(25.6)" y="1.87">Frequency(Hz)</text><text transform="translate(142.2 120.4) rotate(-34.6)" y="1.87">Time(s)</text><text transform="translate(11.6 65) rotate(87.2)" y="1.87">Amplitude</text></g></g><g id="pb"><polygon points="220.7,92.2 278.4,58.2 278.2,2.2 217.9,33.1" fill="#f3f3f3"/><polygon points="278.4,58.2 345.4,86.3 348.2,27.8 278.2,2.2" fill="#f5f5f5"/><polygon points="220.7,92.2 289.3,125 345.4,86.3 278.4,58.2" fill="#f2f2f2"/><line x1="278.4" y1="58.2" x2="278.2" y2="2.2" stroke="#e8e8e8" stroke-width="0.6"/><g filter="url(#sft)"><use href="#sb" fill="#fff" filter="url(#glw)"/><g fill="url(#gb)"><g id="sb"><path fill="url(#gbb)" fill-opacity="0.30" transform="translate(275.9 59.7)" d="M2.8 -14.1L3.7 -18.6 4.7 -13.5 5.6 -11.6 6.5 -13.9 7.5 -10.9 8.4 -11 9.3 -9.9 10.3 -11.3 11.3 -29.4 12.2 -13 13.1 -10 14 -11 15 -9.9 15.9 -9.1 16.9 -11.2 17.8 -9.4 18.8 -11.1 19.8 -7.8 20.7 -4.8 21.6 -3.8 22.6 -5.3 23.6 -4.9 24.5 -2.1 25.4 1.3 26.4 1 27.4 -0.2 28.4 -1.9 29.4 -1.2 30.3 -0.9 31.3 -1.5 32.3 -2.5 33.3 -1.9 34.3 -1.6 35.3 -2.7 36.3 -2.7 37.3 -1.7 38.2 1 39.2 -0.8 40.2 -0.5 41.2 1.2 42.2 0.1 43.2 0.4 44.2 1.9 45.2 2.8 46.2 4.2 47.2 5.2 48.2 5.4 49.1 7 50.1 7.9 51.2 8.2 52.1 9.4 53.1 9.9 54.2 9.4 55.3 8.5 56.3 9.1 57.3 9.6 58.3 11.5 59.3 11.3 60.4 9.9 61.5 9.8 62.5 10.1 63.6 9.1 64.7 8.6 64 24.4 2.9 -1.2Z"/><path fill="url(#gbb)" fill-opacity="0.41" transform="translate(275.0 60.2)" d="M2.8 -18.4L3.7 -23.5 4.7 -14.3 5.6 -12.9 6.5 -18.2 7.5 -14 8.4 -12.5 9.3 -10.7 10.3 -12.2 11.2 -20.2 12.2 -12.5 13.1 -10.5 14.1 -12.6 15 -10 15.9 -9.5 16.9 -12.4 17.9 -11 18.8 -11.3 19.8 -8.5 20.7 -6.3 21.6 -5.6 22.6 -7.2 23.6 -6.3 24.5 -3.6 25.4 -0.1 26.4 0.2 27.4 -0.6 28.4 -1.3 29.3 -0.7 30.3 -0.6 31.3 -1.2 32.3 -2.3 33.3 -1.4 34.3 -1.4 35.3 -2 36.3 -2.2 37.3 -1.5 38.2 0.2 39.3 -1.3 40.3 -1.2 41.2 0.2 42.3 -0.1 43.2 0.4 44.2 2.4 45.2 3.1 46.2 4.7 47.2 5.1 48.2 5.2 49.2 6.3 50.2 7 51.2 7.6 52.2 7.8 53.2 8.2 54.3 7.3 55.3 7 56.3 7.5 57.4 8.1 58.3 10.7 59.4 10.5 60.4 9.8 61.5 9.8 62.5 10.6 63.6 10.2 64.6 9.9 64 24.5 2.9 -1.2Z"/><path fill="url(#gbb)" fill-opacity="0.51" transform="translate(274.1 60.7)" d="M2.8 -21.7L3.7 -25.3 4.6 -16.6 5.6 -14.8 6.5 -18.8 7.4 -17.1 8.4 -14.8 9.3 -11.2 10.3 -13.7 11.2 -20.2 12.2 -14.1 13.1 -12.2 14.1 -15.6 15 -11 15.9 -11 16.9 -15 17.9 -13.5 18.8 -13.7 19.8 -9.1 20.7 -8.2 21.7 -7.9 22.6 -7.2 23.6 -5.5 24.5 -4.2 25.5 -1 26.4 -0.4 27.4 -0.7 28.4 -0.6 29.3 -0.4 30.3 0.1 31.3 -0.2 32.3 -1.1 33.3 -0.5 34.3 -0.9 35.3 -1.4 36.3 -1.7 37.3 -2.1 38.3 -1.4 39.3 -3.3 40.3 -3.2 41.3 -2.5 42.3 -2.2 43.3 -0.9 44.2 1.9 45.2 3.1 46.2 4.2 47.2 4.6 48.2 4 49.2 5 50.2 5.5 51.3 5.8 52.3 6.4 53.3 6.6 54.4 5.6 55.4 5.1 56.4 5.8 57.4 7.2 58.3 10.2 59.4 9.7 60.5 9.8 61.5 10.1 62.5 11.2 63.5 11.4 64.6 11.7 64 24.5 2.9 -1.2Z"/><path fill="url(#gbb)" fill-opacity="0.62" transform="translate(273.3 61.2)" d="M2.8 -18.5L3.7 -22 4.6 -18 5.6 -17.8 6.5 -19.8 7.4 -17.3 8.4 -13.5 9.3 -10.9 10.3 -13.6 11.2 -17.2 12.1 -14.8 13.1 -14.7 14 -17.4 15 -11.8 15.9 -13.2 16.9 -16.2 17.9 -12.2 18.8 -12.5 19.8 -9.9 20.7 -8.9 21.7 -9 22.6 -6.9 23.6 -5 24.5 -4 25.5 -1.7 26.4 -1.5 27.4 -1.4 28.4 -0.7 29.4 -0.5 30.3 -0.4 31.3 -0.1 32.3 -0.9 33.3 -0.3 34.3 -0.8 35.3 -0.6 36.3 -0.5 37.3 -0.7 38.3 -0.9 39.3 -2.6 40.3 -3.1 41.3 -2.6 42.3 -2.1 43.3 -1.6 44.3 1.2 45.2 2.2 46.2 2.8 47.3 2.5 48.3 2.2 49.3 4.1 50.3 4.4 51.3 4.9 52.3 5.3 53.3 6.1 54.4 5.3 55.4 4.4 56.5 5.4 57.5 5.7 58.4 8.2 59.5 6.8 60.6 7.4 61.6 7.9 62.6 9.1 63.6 9.5 64.7 9.8 64.1 24.6 2.9 -1.2Z"/><path fill="url(#gbb)" fill-opacity="0.72" transform="translate(272.4 61.8)" d="M2.8 -13.2L3.7 -15.9 4.6 -15.2 5.6 -15.1 6.5 -14.7 7.4 -15.7 8.4 -14.8 9.3 -11.5 10.2 -13 11.2 -13 12.1 -13.1 13.1 -12.9 14 -14 15 -12.1 15.9 -14.7 16.9 -15.8 17.8 -12.3 18.8 -11.9 19.7 -9.2 20.7 -8.8 21.7 -8.5 22.6 -5.2 23.5 -2.7 24.5 -2 25.5 -0.3 26.4 -0.2 27.4 0.4 28.4 1 29.3 0.6 30.3 1.2 31.3 1.6 32.3 1.3 33.2 1.7 34.3 0.8 35.2 1 36.2 1 37.2 1.1 38.2 1.2 39.3 -0.3 40.3 -0.1 41.3 -0.1 42.2 1.1 43.3 0.7 44.2 2.6 45.2 3.9 46.2 3.6 47.3 3.4 48.3 3.2 49.2 5.4 50.2 6.4 51.2 6.8 52.3 7.5 53.3 8.2 54.3 7.4 55.4 6.4 56.4 6.9 57.4 7.3 58.4 9 59.5 7.7 60.5 8.5 61.6 9.1 62.6 10.1 63.6 10.8 64.6 11.3 64.1 24.7 2.9 -1.2Z"/><path fill="url(#gbb)" fill-opacity="0.83" transform="translate(271.5 62.3)" d="M2.8 -10.9L3.7 -12.9 4.6 -17.9 5.5 -15.6 6.5 -12.4 7.4 -13.5 8.4 -12.5 9.3 -11 10.2 -15.2 11.2 -14 12.1 -12.1 13.1 -13.7 14 -17.6 15 -13.5 15.9 -16.4 16.9 -18.8 17.8 -12.1 18.8 -9.7 19.7 -7.8 20.7 -10.4 21.7 -9.3 22.6 -5.3 23.6 -3.1 24.5 -1.5 25.5 -0.1 26.4 0.1 27.4 0.7 28.4 1.3 29.3 0.7 30.3 1.1 31.3 1.8 32.3 1.3 33.2 2 34.3 1 35.2 1.2 36.2 1.5 37.2 1.5 38.2 1.8 39.2 0.8 40.2 1.4 41.2 1.9 42.2 3.1 43.2 2.7 44.2 4 45.2 5.1 46.2 5.2 47.2 4.9 48.2 5.2 49.2 7.4 50.2 8 51.2 8.5 52.2 8.6 53.2 9 54.3 8.3 55.3 8.1 56.4 8.9 57.4 8.8 58.4 10.1 59.5 9.3 60.5 10.5 61.5 10.7 62.5 11.7 63.6 12.4 64.6 12.9 64.1 24.7 2.9 -1.2Z"/><path fill="url(#gbb)" fill-opacity="0.94" transform="translate(270.6 62.8)" d="M2.8 -11.1L3.7 -11.5 4.6 -16.6 5.5 -17.2 6.5 -12.9 7.4 -12.1 8.4 -12.7 9.3 -11.6 10.2 -14.3 11.2 -17.5 12.1 -13.5 13.1 -12.3 14 -15.5 15 -13.5 15.9 -12.9 16.9 -14 17.8 -11.2 18.8 -11 19.7 -8 20.7 -10.6 21.7 -10.9 22.6 -5.8 23.6 -3.6 24.5 -2.1 25.5 -1 26.4 -0.2 27.4 0.4 28.4 1 29.3 0.7 30.3 1.3 31.3 2.1 32.3 1.3 33.3 1.1 34.3 0.1 35.3 0.6 36.3 0 37.3 0 38.3 0.1 39.3 -1.3 40.3 -0.8 41.3 -0.9 42.3 0.5 43.3 0.8 44.2 2.3 45.2 3.2 46.2 3.8 47.3 3.5 48.3 4.6 49.2 6.6 50.2 7 51.2 8.2 52.2 8.8 53.3 8.9 54.3 8.6 55.3 8.6 56.4 9 57.4 9.6 58.4 10 59.5 9.6 60.5 10.9 61.5 11.3 62.5 12.2 63.6 12.7 64.6 13.7 64.1 24.8 2.9 -1.2Z"/><path fill="url(#gbb)" transform="translate(269.6 63.4)" d="M2.8 -12L3.7 -12.4 4.6 -15.8 5.5 -18.6 6.4 -17.5 7.4 -12.7 8.3 -12.6 9.3 -12.1 10.2 -12.4 11.2 -13.6 12.1 -13.7 13.1 -13.7 14 -14.3 15 -12 15.9 -11.5 16.9 -12.9 17.8 -11.2 18.8 -10.4 19.7 -8.4 20.7 -10.4 21.7 -8.9 22.6 -5.6 23.6 -3.8 24.5 -2 25.5 -1.2 26.4 -0.7 27.4 -0.4 28.4 -0.1 29.4 -0.2 30.3 0.2 31.3 1.5 32.3 1.2 33.3 1.3 34.3 0.5 35.3 0.8 36.3 0.2 37.2 0.5 38.2 0.5 39.3 -0.6 40.3 0.1 41.3 0.2 42.2 1.6 43.2 2.5 44.2 3.8 45.2 4.4 46.2 5.7 47.2 5.1 48.2 5.8 49.2 7.4 50.2 7.5 51.2 8.9 52.2 9.1 53.3 9.3 54.3 10 55.3 10.4 56.3 11.3 57.3 11.5 58.4 12.2 59.4 12.1 60.4 12.9 61.5 12.8 62.5 12.8 63.6 12.9 64.6 13.3 64.2 24.8 2.9 -1.2Z"/><path fill="url(#gbb)" transform="translate(268.7 63.9)" d="M2.8 -11.9L3.7 -12.5 4.6 -14.5 5.5 -17.6 6.4 -16.8 7.4 -12.5 8.3 -13.9 9.3 -15.5 10.2 -12.6 11.2 -13.2 12.1 -12.7 13 -12.6 14 -15.5 14.9 -12.2 15.9 -11.5 16.9 -14.2 17.8 -13.2 18.8 -11.2 19.7 -8.5 20.7 -9.5 21.6 -8.2 22.6 -4.9 23.5 -3.1 24.5 -1.2 25.5 -0.6 26.4 0 27.4 0.5 28.4 0.9 29.3 1 30.3 1.6 31.3 2.6 32.3 2.5 33.3 2.5 34.3 1.8 35.2 2.2 36.2 1.3 37.2 1.8 38.2 1.8 39.2 1.2 40.2 1.8 41.2 1.8 42.2 3.4 43.2 4.2 44.2 5.6 45.2 6.1 46.2 7.3 47.2 7.3 48.2 8 49.2 9.6 50.2 9.8 51.2 11.1 52.2 11.3 53.2 11.2 54.2 11.9 55.2 12.8 56.3 13 57.3 13.6 58.3 13.8 59.4 13.3 60.4 13.6 61.5 13.3 62.5 13.2 63.6 13.2 64.6 13.6 64.2 24.9 2.9 -1.2Z"/><path transform="translate(267.8 64.4)" d="M2.8 -12.1L3.7 -13 4.6 -14.2 5.5 -16.1 6.4 -16.9 7.4 -13.2 8.3 -16.6 9.2 -16 10.2 -12 11.1 -15.7 12.1 -16.1 13 -14.8 14 -14.9 14.9 -11.4 15.9 -10.7 16.8 -13 17.8 -10.8 18.8 -8.6 19.7 -6.9 20.7 -6.7 21.6 -6.7 22.6 -4.4 23.5 -2 24.5 -0.1 25.5 0.6 26.4 1 27.4 1.6 28.4 1.8 29.3 1.6 30.3 2.5 31.3 3.6 32.3 3.7 33.2 3.6 34.2 3.3 35.2 3.8 36.2 3.3 37.2 3.8 38.2 4.2 39.2 4.3 40.2 5.4 41.2 5.6 42.2 6.5 43.1 7.5 44.1 8.2 45.1 9 46.1 9.6 47.1 10.1 48.1 10.9 49.1 11.9 50.1 12.3 51.1 13.1 52.1 13.5 53.2 13.4 54.2 14.2 55.2 14.9 56.2 15.3 57.2 15.8 58.3 15.9 59.3 15.8 60.3 15.9 61.4 15.7 62.4 16 63.5 16.3 64.5 16.7 64.2 25 2.9 -1.2Z"/><path transform="translate(266.9 65.0)" d="M2.7 -12.8L3.7 -11.9 4.6 -11.1 5.5 -12.9 6.4 -17 7.4 -13.3 8.3 -15.8 9.2 -17.1 10.2 -12.5 11.1 -15.8 12.1 -19 13 -17.5 14 -15.5 14.9 -12.6 15.9 -11.9 16.8 -10.7 17.8 -9.2 18.8 -7.8 19.7 -6.1 20.7 -5 21.6 -5 22.6 -2.7 23.5 -1 24.5 0.2 25.5 1 26.4 1.5 27.4 1.8 28.4 1.6 29.3 1.5 30.3 2.4 31.3 3.6 32.3 4.1 33.2 4.4 34.2 4.7 35.2 5.6 36.2 5.3 37.2 5.9 38.2 6.5 39.2 6.9 40.1 7.8 41.1 8.1 42.1 8.5 43.1 9.4 44.1 10 45.1 10.6 46.1 10.8 47.1 11.4 48.1 12.6 49.1 13.3 50.1 13.9 51.1 14.7 52.1 15 53.1 14.9 54.2 15.6 55.2 16 56.2 16.4 57.2 17 58.3 16.8 59.3 16.6 60.3 16.7 61.4 16.6 62.4 17.4 63.4 17.8 64.5 18.5 64.2 25 2.9 -1.2Z"/><path transform="translate(266.0 65.5)" d="M2.7 -16L3.6 -13.8 4.6 -12.5 5.5 -12.6 6.4 -16.1 7.4 -13.8 8.3 -13.5 9.2 -15.2 10.2 -12.5 11.1 -13.5 12.1 -18 13 -17.8 14 -14.5 14.9 -13.9 15.9 -14.2 16.8 -13.1 17.8 -10.3 18.7 -8.8 19.7 -7.4 20.7 -5.8 21.6 -5.2 22.6 -4.4 23.5 -1.9 24.5 -0.4 25.5 0.3 26.4 0.9 27.4 1.4 28.4 0.6 29.4 0.3 30.3 1.3 31.3 2.7 32.3 3.8 33.2 4.3 34.2 5.1 35.2 6.1 36.2 6 37.2 6.7 38.2 7.5 39.1 8.1 40.1 9 41.1 9 42.1 9.2 43.1 10.1 44.1 10.7 45.1 11 46.1 11.5 47.1 12.1 48.1 13.3 49.1 13.9 50.1 14.6 51.1 15.3 52.1 15.8 53.1 16.1 54.1 16.5 55.2 17.1 56.2 17.5 57.2 18.2 58.2 18.2 59.3 18.4 60.3 18.8 61.3 19.2 62.4 19.7 63.4 20.1 64.4 20.5 64.3 25.1 2.9 -1.2Z"/><path transform="translate(265.1 66.0)" d="M2.6 -20.3L3.6 -16.8 4.5 -15.2 5.5 -13.8 6.4 -15.7 7.3 -14.7 8.3 -13.9 9.2 -16.8 10.2 -13.2 11.1 -15.9 12.1 -15.3 13 -13.8 14 -13.7 14.9 -14.9 15.9 -19.7 16.8 -13.5 17.8 -9.9 18.7 -9.8 19.7 -8 20.7 -6 21.6 -4.2 22.6 -3.8 23.5 -1.5 24.5 0.2 25.5 0.9 26.4 1.9 27.4 2 28.4 1.9 29.3 1.8 30.3 2.7 31.3 4 32.3 5.2 33.2 5.5 34.2 6.2 35.2 7.2 36.2 6.9 37.2 7.3 38.2 8.1 39.1 8.8 40.1 9.6 41.1 9.5 42.1 9.8 43.1 10.9 44.1 11.3 45.1 11.6 46.1 12 47.1 12.6 48.1 13.4 49.1 14 50.1 14.7 51.1 15.4 52.1 16 53.1 16.3 54.2 16.6 55.2 17.3 56.2 17.8 57.2 18.5 58.2 18.7 59.3 18.8 60.3 19.5 61.3 19.9 62.4 20.4 63.4 20.9 64.4 21.4 64.3 25.2 2.9 -1.2Z"/><path transform="translate(264.2 66.6)" d="M2.6 -24.4L3.6 -18.7 4.5 -15.7 5.5 -13.8 6.4 -15.8 7.3 -18.9 8.3 -14.9 9.2 -13.8 10.2 -12.7 11.1 -17.1 12 -15.6 13 -11.5 14 -11.2 14.9 -13.1 15.8 -17.3 16.8 -11.4 17.8 -9.8 18.7 -9.3 19.7 -7.8 20.7 -6 21.6 -4 22.6 -4 23.5 -1.9 24.5 0 25.5 1.5 26.4 3 27.4 3.4 28.4 3.3 29.3 3.2 30.3 3.8 31.3 4.6 32.3 5.6 33.2 5.7 34.2 6.2 35.2 7.2 36.2 7 37.2 7.5 38.2 8.4 39.1 9.3 40.1 10.1 41.1 10.1 42.1 10.6 43.1 11.5 44.1 12 45.1 12.4 46.1 13 47.1 13.4 48.1 13.9 49.1 14.5 50.1 15.2 51.1 15.9 52.1 16.3 53.2 16.6 54.2 17.1 55.2 17.6 56.2 18.1 57.2 18.6 58.2 19.1 59.3 19.5 60.3 20.2 61.3 20.5 62.4 21.1 63.4 21.6 64.4 22.1 64.3 25.2 2.9 -1.2Z"/><path transform="translate(263.3 67.1)" d="M2.6 -21.3L3.5 -20.7 4.4 -24.2 5.4 -17.5 6.4 -16.1 7.3 -16.9 8.3 -13.9 9.2 -13.3 10.2 -12.1 11.1 -13.7 12.1 -11.9 13 -10.3 14 -9.6 14.9 -10.9 15.8 -15.3 16.8 -9.5 17.8 -8.4 18.7 -8.3 19.7 -5.8 20.7 -4.5 21.6 -3.1 22.6 -2.8 23.5 -1.3 24.5 0.1 25.5 1.8 26.4 3.1 27.4 3.9 28.4 4 29.3 3.9 30.3 4.6 31.3 5 32.3 6.1 33.2 6 34.2 6.3 35.2 7 36.2 6.8 37.2 7.1 38.2 8.2 39.2 9.1 40.1 9.9 41.1 10.2 42.1 10.5 43.1 11.5 44.1 12 45.1 12.5 46.1 13.1 47.1 13.5 48.1 13.9 49.1 14.2 50.1 14.8 51.1 15.5 52.2 16 53.2 16.3 54.2 16.7 55.2 17.3 56.2 17.8 57.3 18.1 58.3 18.7 59.3 19.1 60.3 19.7 61.4 20 62.4 20.6 63.4 21.5 64.4 22 64.3 25.3 2.9 -1.2Z"/><path transform="translate(262.3 67.7)" d="M2.6 -16L3.5 -18.4 4.4 -27.5 5.4 -19.5 6.4 -16.4 7.3 -15.3 8.3 -14.7 9.2 -15 10.1 -13.8 11.1 -14.2 12 -11.5 13 -10.8 13.9 -10.4 14.9 -12.6 15.8 -14.9 16.8 -11.8 17.8 -11 18.7 -12.1 19.7 -8.9 20.7 -5.8 21.6 -4.7 22.6 -4.2 23.5 -2.2 24.5 -0.1 25.5 1.6 26.4 2.7 27.4 3.2 28.4 3 29.3 3.5 30.3 4.3 31.3 4.3 32.3 5.5 33.3 5.4 34.2 5.7 35.2 6.3 36.2 6.2 37.2 6.8 38.2 7.8 39.2 8.6 40.2 9.2 41.2 9.7 42.2 9.9 43.1 11.1 44.1 11.8 45.1 12.3 46.1 12.8 47.1 13.2 48.1 13.5 49.2 13.7 50.2 14.2 51.2 14.8 52.2 15.3 53.2 15.7 54.2 15.9 55.3 16.4 56.3 16.9 57.3 17.3 58.3 18 59.3 18.6 60.4 19.5 61.4 19.8 62.4 20.5 63.4 21.4 64.5 22 64.4 25.4 2.9 -1.2Z"/><path transform="translate(261.4 68.2)" d="M2.6 -18.5L3.4 -24.8 4.2 -35.7 5.4 -19.8 6.4 -16.2 7.3 -16.6 8.2 -16.5 9.2 -15.6 10.1 -15.1 11.1 -15.7 12 -13.8 13 -14.3 13.9 -14.8 14.9 -17.3 15.8 -21 16.8 -14.5 17.7 -12.8 18.7 -12.7 19.7 -8.7 20.6 -6.6 21.6 -4.9 22.6 -3.1 23.5 -1.8 24.5 -0.4 25.5 1 26.4 2.2 27.4 2.7 28.4 2.7 29.4 3.4 30.3 4.3 31.3 4.2 32.3 5.1 33.3 5.1 34.2 5.4 35.2 6 36.2 6.1 37.2 6.8 38.2 7.9 39.2 8.7 40.2 9.2 41.2 10.1 42.2 10.3 43.1 11.6 44.1 11.9 45.1 12.4 46.1 12.8 47.2 13.2 48.2 13.5 49.2 13.4 50.2 13.9 51.2 14.5 52.2 15.1 53.2 15.6 54.3 15.5 55.3 16 56.3 16.9 57.3 17.1 58.3 18 59.4 18.5 60.4 19.5 61.4 20.1 62.4 20.7 63.5 21.4 64.5 22.1 64.4 25.5 2.9 -1.2Z"/><path transform="translate(260.5 68.8)" d="M2.6 -16.3L3.5 -18.9 4.3 -26 5.4 -19.9 6.3 -15.7 7.3 -15.7 8.2 -15 9.2 -13.9 10.1 -14 11.1 -13.6 12 -14.7 13 -15 13.9 -14.5 14.9 -15.2 15.8 -16.2 16.8 -14.9 17.7 -14.2 18.7 -12.7 19.7 -8.1 20.6 -6.2 21.6 -4.7 22.6 -2 23.5 -0.8 24.5 0.2 25.5 1.7 26.4 3 27.4 3.7 28.4 3.9 29.4 4.6 30.3 5.3 31.3 5.3 32.3 6.2 33.3 6.1 34.2 6.5 35.2 7.1 36.2 7.5 37.2 7.9 38.2 8.8 39.2 9.6 40.2 10.1 41.2 10.9 42.2 11.3 43.1 12.3 44.1 12.7 45.1 13.1 46.1 13.5 47.2 13.8 48.2 14 49.2 14.2 50.2 14.6 51.2 15.1 52.2 15.7 53.2 16.4 54.3 16.3 55.3 16.8 56.3 17.5 57.3 17.9 58.3 18.7 59.4 19.2 60.4 20.1 61.4 20.7 62.4 21.3 63.5 21.9 64.5 22.6 64.4 25.5 2.9 -1.2Z"/><path transform="translate(259.6 69.3)" d="M2.6 -17.3L3.5 -19.5 4.3 -24.5 5.3 -22.9 6.3 -19.2 7.3 -15.4 8.2 -14.6 9.2 -15 10.1 -14.5 11.1 -12.5 12 -13.3 12.9 -15.4 13.9 -16.4 14.9 -14.2 15.8 -13.8 16.8 -14.7 17.7 -15 18.7 -14.4 19.7 -10.2 20.6 -8.6 21.6 -5.8 22.6 -2.6 23.5 -1.4 24.5 -0.2 25.5 1.1 26.4 2.3 27.4 3.1 28.4 3.6 29.4 4.3 30.3 4.7 31.3 5.3 32.3 6.2 33.3 6.2 34.2 6.9 35.2 7.5 36.2 8.2 37.2 8.5 38.2 9.1 39.2 9.7 40.2 10.2 41.2 11 42.2 11.3 43.2 12.2 44.2 12.7 45.2 13.1 46.2 13.6 47.2 13.9 48.2 14 49.2 14.4 50.2 14.7 51.2 15.1 52.2 15.7 53.2 16.5 54.3 16.6 55.3 17 56.3 17.7 57.3 18.1 58.4 18.8 59.4 19.2 60.4 20.1 61.4 20.9 62.4 21.5 63.5 22.1 64.5 22.8 64.4 25.6 2.9 -1.2Z"/><path transform="translate(258.6 69.8)" d="M2.6 -18.4L3.5 -20.6 4.3 -25.1 5.2 -28.7 6.2 -24 7.2 -18.5 8.2 -16.5 9.1 -16.6 10.1 -18 11 -14.3 12 -14.3 12.9 -14.6 13.9 -17.4 14.8 -15 15.8 -12.4 16.7 -15.3 17.7 -17.2 18.7 -13.1 19.7 -12.5 20.6 -11.8 21.6 -7 22.6 -4.1 23.5 -3.4 24.5 -1.9 25.5 -0.3 26.4 1 27.4 1.7 28.4 2.5 29.4 3.8 30.3 4.1 31.3 4.9 32.3 5.4 33.3 5.6 34.3 6.3 35.2 6.8 36.2 7.4 37.2 7.9 38.2 8.4 39.2 8.9 40.2 9.5 41.2 10.2 42.2 10.5 43.2 11.3 44.2 11.9 45.2 12.5 46.2 12.8 47.2 12.9 48.2 12.8 49.2 13.2 50.2 13.5 51.3 13.7 52.3 14.5 53.3 15.4 54.3 15.8 55.3 16.5 56.3 17.1 57.4 17.5 58.4 18.1 59.4 18.6 60.4 19.3 61.5 20 62.5 20.5 63.5 21.1 64.6 21.8 64.4 25.7 2.8 -1.2Z"/><path transform="translate(257.7 70.4)" d="M2.5 -19.8L3.4 -22 4.3 -25.9 5.3 -24 6.2 -20.5 7.2 -18.8 8.2 -17.4 9.1 -16.2 10.1 -16.5 11 -16.7 12 -15.8 12.9 -14 13.9 -15.7 14.8 -14.6 15.8 -12.9 16.7 -15.1 17.7 -17 18.7 -12.8 19.6 -12.9 20.6 -13.2 21.6 -7.7 22.6 -4.4 23.5 -3.6 24.5 -2.8 25.5 -1.4 26.4 -0.5 27.4 0.4 28.4 1 29.4 2.2 30.3 2.6 31.3 2.8 32.3 2.7 33.3 2.8 34.3 3.8 35.3 4.5 36.3 5.7 37.2 6.5 38.2 6.9 39.2 7.5 40.2 8.1 41.2 9.1 42.2 9.7 43.2 10.4 44.2 10.9 45.2 11.1 46.2 11.6 47.2 11.4 48.3 11.3 49.3 11.9 50.3 12 51.3 12.3 52.3 12.7 53.3 13.9 54.3 14.6 55.4 15.5 56.4 15.9 57.4 16.6 58.4 17.2 59.5 17.6 60.5 18.3 61.5 19 62.5 19.7 63.6 20.2 64.6 20.8 64.5 25.7 2.8 -1.2Z"/><path transform="translate(256.8 70.9)" d="M2.5 -22.3L3.4 -22.8 4.3 -26 5.1 -30.1 6.2 -24.3 7.2 -18 8.1 -19 9.1 -19.1 10 -17.2 11 -15.7 12 -14.7 12.9 -14.1 13.9 -15.5 14.8 -14.8 15.8 -12.7 16.7 -14.2 17.7 -17.5 18.7 -14.2 19.6 -14.8 20.6 -14.8 21.6 -8.2 22.6 -4 23.5 -3.3 24.5 -2.4 25.5 -1.1 26.4 -0.2 27.4 0.6 28.4 1.3 29.4 2.8 30.3 3.5 31.3 3.5 32.3 3.2 33.3 3.5 34.3 4.7 35.3 5.3 36.3 6.1 37.2 6.9 38.2 7.3 39.2 7.8 40.2 7.9 41.2 8.9 42.2 9.5 43.2 9.9 44.2 10 45.2 10 46.2 10.6 47.3 10.5 48.3 10.5 49.3 11.4 50.3 11.7 51.3 12.1 52.4 11.9 53.4 13.5 54.4 14 55.4 15.1 56.4 15.7 57.4 16.6 58.4 17.3 59.5 17.4 60.5 18.1 61.5 18.7 62.6 19.6 63.6 20.1 64.6 21 64.5 25.8 2.8 -1.2Z"/><path transform="translate(255.8 71.5)" d="M2.3 -29.3L3.2 -31.3 4.1 -31.5 5.2 -27 6.1 -24.7 7.2 -19.4 8.1 -22.9 9 -25.7 10 -20.8 11 -17.9 11.9 -16.1 12.9 -15.9 13.8 -18.6 14.8 -19.2 15.8 -14.4 16.7 -14.1 17.7 -16.6 18.6 -17.2 19.6 -18.3 20.6 -14.8 21.6 -8.3 22.6 -4.8 23.5 -3.8 24.5 -2.1 25.5 -1.1 26.4 -0.7 27.4 0 28.4 0.8 29.4 1.8 30.4 2.3 31.3 2.4 32.3 2.4 33.3 2.5 34.3 3.8 35.3 4.8 36.3 5.3 37.3 6.4 38.2 6.5 39.2 7.1 40.2 7.2 41.2 8 42.2 8.6 43.2 9.3 44.2 9.8 45.3 9.7 46.3 10.6 47.3 10.5 48.3 10.7 49.3 11.7 50.3 12 51.3 12.4 52.4 12.4 53.4 13.8 54.4 13.8 55.4 14.8 56.4 15.7 57.4 16.6 58.5 17.3 59.5 17.4 60.5 18.2 61.6 18.7 62.6 19.6 63.6 20.1 64.7 20.8 64.5 25.9 2.8 -1.2Z"/><path transform="translate(254.9 72.1)" d="M2.4 -24.5L3.3 -25.3 4.1 -30.7 5.2 -26.3 6.2 -21.9 7.1 -21.6 8 -24.6 9 -21 10 -19.9 10.9 -19.5 11.9 -17.1 12.9 -15.8 13.8 -17.8 14.7 -21.6 15.7 -15.9 16.7 -14.7 17.7 -16.1 18.6 -16.2 19.6 -15.8 20.6 -14.1 21.6 -8 22.6 -5.7 23.5 -4.8 24.5 -3 25.5 -2 26.4 -1.8 27.4 -1.9 28.4 -1.4 29.4 -0.6 30.4 0 31.3 0.5 32.3 0.8 33.3 1.4 34.3 2.9 35.3 4.1 36.3 4.6 37.3 5.4 38.3 5.6 39.3 6.6 40.3 7 41.3 7.2 42.3 7.7 43.3 8.3 44.3 8.6 45.3 8.1 46.3 8.9 47.3 8.9 48.3 9.2 49.3 10.4 50.3 10.5 51.4 11.3 52.4 11.3 53.4 12.7 54.4 12.9 55.4 13.9 56.5 14.7 57.5 15.2 58.5 15.8 59.6 16.1 60.6 17.2 61.6 17.9 62.6 18.8 63.7 19.3 64.7 20.1 64.5 25.9 2.8 -1.2Z"/><path transform="translate(253.9 72.6)" d="M2.4 -22.2L3.4 -21.2 4.2 -25.4 5.2 -21.6 6.2 -20.6 7.1 -22.6 8 -25.2 8.9 -25.2 10 -20.1 10.9 -19.7 11.9 -19.3 12.8 -18.3 13.8 -18.7 14.7 -21.8 15.7 -16.7 16.7 -14.4 17.7 -15.8 18.6 -17.6 19.6 -16.6 20.6 -14.9 21.6 -9.2 22.5 -6.2 23.5 -5.2 24.5 -3.3 25.5 -2.6 26.4 -2.8 27.4 -3.3 28.4 -2.4 29.4 -2 30.4 -1.4 31.3 -0.8 32.3 0 33.3 1 34.3 1.6 35.3 3.1 36.3 3.8 37.3 4.9 38.3 5.2 39.3 5.9 40.3 7 41.3 7.2 42.3 7.5 43.3 8.3 44.3 8.8 45.3 8.7 46.3 9.5 47.3 9.3 48.3 9.9 49.3 11.2 50.3 11.2 51.4 11.9 52.4 12.3 53.4 13.2 54.4 13.5 55.4 14.1 56.5 14.8 57.5 15.3 58.5 16.1 59.6 16.4 60.6 17.3 61.6 17.9 62.7 18.7 63.7 19.4 64.7 19.9 64.6 26 2.8 -1.2Z"/><path transform="translate(253.0 73.2)" d="M2.3 -27.2L3.3 -22.8 4.2 -25.9 5.1 -25.8 6.1 -23.4 7 -23.9 8 -24 8.9 -28.3 9.9 -25.5 10.9 -19.5 11.9 -18.6 12.8 -19.5 13.8 -17.5 14.7 -19.8 15.7 -18.2 16.7 -15.3 17.6 -14.9 18.6 -16.8 19.6 -16.2 20.5 -14.3 21.5 -10.1 22.5 -6.4 23.5 -4.9 24.5 -2.3 25.5 -1.2 26.4 -1.4 27.4 -1.7 28.4 -0.9 29.4 -0.4 30.4 0.5 31.3 1.3 32.3 2 33.3 3.2 34.3 4 35.3 5 36.3 5.9 37.3 7.1 38.3 7.4 39.3 8 40.2 8.9 41.2 9.4 42.3 9.5 43.3 9.7 44.3 10.2 45.3 10.3 46.3 11 47.3 11 48.3 11.8 49.3 13.1 50.3 13.3 51.3 13.8 52.4 14.4 53.4 15.1 54.4 15.7 55.4 16.2 56.5 16.6 57.5 17 58.5 17.6 59.5 18 60.6 19 61.6 19.7 62.6 20.7 63.7 21.5 64.7 22 64.6 26.1 2.8 -1.2Z"/><path transform="translate(252.1 73.7)" d="M2.3 -24.7L3.3 -23.9 4.1 -29.7 5.1 -28.9 6 -27.1 7 -26.2 8 -24.5 8.8 -29.5 9.7 -32.3 10.8 -26.6 11.8 -20.9 12.8 -19.1 13.8 -17.2 14.7 -18.7 15.7 -17.6 16.7 -14.6 17.7 -12.7 18.6 -14.1 19.6 -13.7 20.6 -12.3 21.6 -8.7 22.5 -4.8 23.5 -3 24.5 -0.6 25.5 0.1 26.5 0.1 27.4 0.5 28.4 1.4 29.4 1.3 30.4 2.2 31.3 3.1 32.3 3.7 33.3 4.6 34.3 4.9 35.3 6.2 36.3 6.8 37.3 7.8 38.3 8.1 39.3 8.5 40.3 9.8 41.3 10 42.3 10.4 43.3 11 44.3 11.4 45.3 11.9 46.3 12.2 47.3 12.7 48.3 13.4 49.3 14.4 50.3 14.8 51.3 15.3 52.3 15.9 53.4 16.6 54.4 17.1 55.4 17.8 56.4 18.2 57.5 18.8 58.5 19.4 59.5 19.8 60.6 20.5 61.6 21.1 62.6 21.9 63.6 22.6 64.7 23.3 64.6 26.2 2.8 -1.2Z"/><path transform="translate(251.1 74.3)" d="M2.5 -18.4L3.4 -17.5 4.2 -22.8 5 -30.9 6.1 -24.6 7.1 -21.8 8 -21 8.8 -27.8 9.7 -32.1 10.8 -26.3 11.8 -22.3 12.8 -20.8 13.7 -19.8 14.7 -19.9 15.6 -20.1 16.6 -17.3 17.6 -13.1 18.6 -13.6 19.6 -12.7 20.6 -10.8 21.5 -8.3 22.5 -4.9 23.5 -2.7 24.5 -0.1 25.5 0.6 26.5 0.6 27.4 1.5 28.4 2.3 29.4 2 30.4 2.7 31.3 3.4 32.3 4.1 33.3 4.6 34.3 5 35.3 6.6 36.3 7.2 37.3 7.8 38.3 8.3 39.3 9.1 40.3 10.1 41.3 10.3 42.3 10.8 43.3 11.7 44.3 12.1 45.3 12.3 46.3 12.7 47.3 13.5 48.3 14.1 49.3 15.1 50.3 15.4 51.3 16.2 52.3 16.8 53.4 17.2 54.4 17.6 55.4 18.2 56.4 18.7 57.5 19.2 58.5 19.9 59.5 20.2 60.6 20.9 61.6 21.5 62.6 22.4 63.7 23.2 64.7 24 64.6 26.2 2.8 -1.2Z"/><path transform="translate(250.2 74.8)" d="M2.4 -18.8L3.4 -18.6 4.1 -25.2 4.8 -36.7 6 -27.2 7 -22.6 8 -23 8.7 -31.5 9.6 -34.9 10.7 -26.9 11.7 -28.1 12.6 -29 13.7 -23.2 14.6 -21.5 15.6 -20.7 16.6 -18.3 17.6 -14.7 18.6 -14.9 19.6 -13.8 20.5 -12.3 21.5 -10.2 22.5 -6.5 23.5 -3.8 24.5 -0.9 25.5 -0.1 26.5 0.3 27.4 1.1 28.4 1.9 29.4 1.7 30.4 2.2 31.4 2.9 32.3 3.6 33.3 4.6 34.3 4.9 35.3 6.3 36.3 6.7 37.3 7.2 38.3 7.8 39.3 8.6 40.3 10 41.3 10 42.3 10.7 43.3 11.5 44.3 12.1 45.3 12.4 46.3 12.8 47.3 13.9 48.3 14.6 49.3 15.3 50.3 15.7 51.3 16.3 52.4 17 53.4 17.3 54.4 17.6 55.4 18.1 56.5 18.7 57.5 19.3 58.5 20 59.5 20.5 60.6 21.2 61.6 21.9 62.6 22.7 63.7 23.5 64.7 24.3 64.7 26.3 2.8 -1.2Z"/><path transform="translate(249.2 75.4)" d="M2.4 -20.1L3.3 -20 4.2 -21.4 5 -29.6 6 -25.6 7 -22.5 7.9 -25.2 8.7 -30.6 9.5 -42.6 10.5 -38.2 11.4 -40.9 12.5 -35.2 13.6 -23.7 14.6 -20.3 15.6 -22.5 16.6 -21.4 17.6 -16.3 18.6 -15.8 19.5 -14 20.5 -11.4 21.5 -9.8 22.5 -7.7 23.5 -4.4 24.5 -1.2 25.5 -0.2 26.5 0.3 27.4 0.9 28.4 1.5 29.4 1.4 30.4 1.5 31.4 2.4 32.3 3.6 33.3 4.7 34.3 5.4 35.3 6.7 36.3 6.9 37.3 7.4 38.3 8 39.3 9 40.3 10 41.3 10.3 42.3 10.8 43.3 11.7 44.3 12.4 45.3 12.6 46.3 13.4 47.3 14.2 48.3 15 49.3 15.8 50.3 16 51.4 16.5 52.4 17.3 53.4 17.4 54.4 17.9 55.4 18.3 56.5 18.9 57.5 19.3 58.5 20 59.6 20.4 60.6 21.3 61.6 22.1 62.7 22.7 63.7 23.5 64.7 24.1 64.7 26.4 2.8 -1.2Z"/><path transform="translate(248.2 76.0)" d="M2.3 -21.4L3.3 -21.3 4.3 -18.8 5.1 -24.3 6 -23.4 7 -22 7.7 -34.7 8.7 -32 9.7 -28.3 10.6 -29.5 11.4 -40.7 12.3 -45.4 13.5 -30.2 14.6 -21.2 15.6 -21.6 16.6 -19.5 17.6 -15.5 18.6 -14.3 19.6 -12.3 20.5 -9.6 21.5 -7.6 22.5 -5.6 23.5 -3.8 24.5 -0.7 25.5 0.9 26.5 1.6 27.4 2.4 28.4 2.7 29.4 3 30.4 3.5 31.4 3.9 32.3 5 33.3 6.4 34.3 7 35.3 7.9 36.3 8.3 37.3 9.2 38.3 9.6 39.3 10.1 40.3 10.9 41.3 11.2 42.3 11.6 43.3 12.1 44.3 12.9 45.3 13.4 46.3 14 47.3 14.8 48.3 15.6 49.3 16.3 50.3 16.6 51.4 17.2 52.4 17.9 53.4 18.1 54.4 18.5 55.5 18.9 56.5 19.4 57.5 19.8 58.5 20.5 59.6 21 60.6 21.7 61.6 22.4 62.7 22.9 63.7 23.7 64.7 24.3 64.7 26.4 2.8 -1.2Z"/><path transform="translate(247.3 76.5)" d="M2.4 -18.6L3.3 -18.6 4.3 -17.3 5.1 -20.2 6.1 -18.6 7 -22.8 7.6 -38.6 8.8 -24.8 9.8 -21.5 10.7 -24.9 11.5 -31.3 12.4 -35.2 13.6 -24.6 14.6 -20.2 15.5 -23.1 16.6 -19.2 17.6 -16.1 18.5 -14.8 19.5 -12.9 20.5 -8.8 21.5 -7 22.5 -4.4 23.5 -3.3 24.5 -0.4 25.5 1.1 26.5 1.6 27.4 2.4 28.4 2.9 29.4 3.5 30.4 3.9 31.4 4.8 32.4 5.4 33.3 6.7 34.3 7.1 35.3 7.9 36.3 8.4 37.3 9.3 38.3 9.7 39.3 10.1 40.3 10.8 41.3 11.3 42.3 11.8 43.3 12.4 44.3 13.2 45.3 13.9 46.3 14.5 47.3 15.1 48.3 15.8 49.3 16.5 50.4 16.7 51.4 17.5 52.4 18.2 53.4 18.4 54.4 18.8 55.5 19.2 56.5 19.7 57.5 19.9 58.6 20.7 59.6 21.3 60.6 22 61.7 22.5 62.7 23 63.7 23.7 64.8 24.2 64.7 26.5 2.8 -1.2Z"/><path transform="translate(246.3 77.1)" d="M2.3 -19.8L3.2 -22.2 4.2 -19.5 5.1 -19.5 6.1 -18.3 7 -20.4 7.6 -34.6 8.9 -21.9 9.8 -20.9 10.7 -24.1 11.6 -28.1 12.4 -34.5 13.6 -24.6 14.6 -19.5 15.5 -22.1 16.5 -20.7 17.6 -15.9 18.5 -13.6 19.5 -11.5 20.5 -8.2 21.5 -6.7 22.5 -4.8 23.5 -4.1 24.5 -0.9 25.5 0.7 26.5 1.2 27.4 2.2 28.4 2.8 29.4 3.4 30.4 4.2 31.4 4.8 32.4 5.5 33.3 6.9 34.3 7.2 35.3 7.8 36.3 8.6 37.3 9.6 38.3 10.1 39.3 10.4 40.3 11.1 41.3 11.6 42.3 12.1 43.3 12.5 44.3 13.1 45.3 13.8 46.3 14.2 47.3 14.6 48.3 15.3 49.4 15.7 50.4 16 51.4 16.8 52.4 17.4 53.4 17.7 54.5 18.2 55.5 18.8 56.5 19.4 57.5 19.8 58.6 20.6 59.6 21.1 60.6 22 61.7 22.6 62.7 23.2 63.7 23.9 64.8 24.6 64.7 26.6 2.8 -1.2Z"/><path transform="translate(245.4 77.7)" d="M2.4 -19L3.1 -24.6 4.1 -24.6 5.1 -21.2 6.1 -19.9 6.9 -24.1 7.5 -37.9 8.9 -20.9 9.8 -19.8 10.7 -21.8 11.6 -28.6 12.5 -30.9 13.6 -20.5 14.6 -17.1 15.5 -21.7 16.5 -21.3 17.6 -14.3 18.6 -12.6 19.5 -11.3 20.6 -7.1 21.5 -5.9 22.5 -4 23.5 -3.2 24.5 -0.4 25.5 0.9 26.5 1.4 27.4 2.5 28.4 3.2 29.4 3.8 30.4 4.4 31.4 5.4 32.4 6.1 33.4 7.5 34.3 7.7 35.3 8.2 36.3 8.9 37.3 9.5 38.3 10.1 39.3 10.6 40.3 11.2 41.3 11.9 42.3 12.3 43.3 13 44.3 13.5 45.3 14.1 46.3 14.5 47.3 15.1 48.4 15.6 49.4 15.9 50.4 16.3 51.4 17.1 52.4 17.7 53.5 18 54.5 18.5 55.5 19 56.5 19.6 57.6 20 58.6 20.7 59.6 21.2 60.7 22.1 61.7 22.7 62.7 23.3 63.8 24 64.8 24.7 64.8 26.7 2.8 -1.2Z"/><path transform="translate(244.4 78.2)" d="M2.3 -19.3L3.2 -22.9 4.1 -24.4 5 -22.5 6 -21.8 6.9 -24.9 7.7 -29.2 8.8 -21.3 9.8 -20.9 10.8 -20.3 11.7 -20.8 12.6 -21.7 13.6 -20.4 14.6 -16.1 15.6 -16.5 16.6 -14.7 17.6 -11.5 18.6 -9.8 19.5 -9.7 20.6 -4.9 21.6 -4.2 22.5 -2.4 23.5 -1.6 24.5 -0.1 25.5 2 26.5 2.5 27.5 3.6 28.4 4.2 29.4 5 30.4 5.7 31.4 6.5 32.4 7.2 33.4 8.2 34.3 8.7 35.3 9.1 36.3 9.8 37.3 10.4 38.3 10.9 39.3 11.3 40.3 11.7 41.3 12.6 42.3 12.9 43.3 13.4 44.3 13.9 45.3 14.6 46.3 15.1 47.4 15.7 48.4 16.3 49.4 16.8 50.4 17.3 51.4 17.8 52.4 18.3 53.5 18.7 54.5 19.3 55.5 19.8 56.5 20.3 57.6 20.8 58.6 21.4 59.6 21.8 60.7 22.4 61.7 23.1 62.7 23.7 63.8 24.3 64.8 24.8 64.8 26.7 2.8 -1.2Z"/><path transform="translate(243.4 78.8)" d="M2.4 -17.3L3.2 -20.4 4 -25.1 5.1 -20.1 6 -19.3 6.9 -23 7.8 -23.2 8.8 -20.3 9.8 -20.2 10.7 -20.8 11.7 -19.5 12.7 -19.4 13.6 -18.8 14.6 -15.6 15.6 -15.4 16.6 -15.9 17.6 -12.6 18.6 -11.2 19.5 -12.2 20.5 -6.8 21.5 -5.4 22.5 -3.3 23.5 -1.8 24.5 0.2 25.5 1.9 26.5 2.4 27.5 3.3 28.4 3.9 29.4 4.8 30.4 5.7 31.4 6.4 32.4 6.9 33.4 8.1 34.4 8.5 35.3 9 36.3 9.7 37.3 10.4 38.3 11.1 39.3 11.4 40.3 11.9 41.3 12.6 42.3 13 43.3 13.5 44.3 14 45.3 14.7 46.4 15.2 47.4 15.9 48.4 16.5 49.4 17 50.4 17.5 51.4 17.9 52.4 18.5 53.5 19 54.5 19.7 55.5 20.1 56.5 20.6 57.6 21 58.6 21.4 59.6 21.9 60.7 22.6 61.7 23.2 62.8 23.8 63.8 24.3 64.8 24.8 64.8 26.8 2.8 -1.2Z"/><path transform="translate(242.5 79.4)" d="M2.3 -19.5L3.1 -22.6 3.9 -27.7 5.1 -19.7 6 -18.9 6.9 -21.1 7.9 -21.4 8.8 -21.4 9.7 -21.4 10.7 -22 11.6 -21.6 12.5 -24.2 13.5 -25.4 14.5 -19.6 15.6 -16.2 16.6 -14.3 17.6 -12.4 18.6 -10.9 19.5 -10.8 20.5 -7.2 21.5 -5.2 22.5 -3.7 23.5 -2 24.5 0.4 25.5 1.8 26.5 2.1 27.4 2.6 28.4 3.8 29.4 4.6 30.4 5.6 31.4 6.1 32.4 6.9 33.4 8 34.4 8.3 35.3 8.8 36.3 9.4 37.3 10.3 38.3 10.9 39.3 11.1 40.3 11.5 41.3 12.2 42.3 12.7 43.3 13.1 44.3 13.8 45.4 14.6 46.4 15 47.4 15.5 48.4 16 49.4 16.6 50.4 17.2 51.4 17.6 52.5 18.3 53.5 18.9 54.5 19.5 55.5 20.1 56.6 20.4 57.6 21 58.6 21.5 59.7 21.9 60.7 22.6 61.7 23.1 62.8 23.7 63.8 24.2 64.9 24.8 64.8 26.9 2.8 -1.2Z"/><path transform="translate(241.5 79.9)" d="M2.4 -15.8L3.3 -17.2 4.1 -21.7 5.1 -18.1 6.1 -17.5 6.9 -20.6 7.9 -20.5 8.8 -21.2 9.7 -22.4 10.7 -21.6 11.7 -18.3 12.6 -19.2 13.6 -19.6 14.6 -17.1 15.6 -14.4 16.6 -12.9 17.6 -12 18.5 -10.7 19.5 -11.3 20.5 -7.2 21.5 -5 22.5 -3 23.5 -1.5 24.5 0.9 25.5 2.1 26.5 2.4 27.5 3 28.4 4.1 29.4 4.8 30.4 5.6 31.4 6.1 32.4 6.8 33.4 8 34.4 8.2 35.4 8.7 36.3 9.7 37.3 10.4 38.3 11 39.3 11.5 40.3 11.8 41.3 12.3 42.3 12.9 43.3 13.3 44.4 14.1 45.4 14.7 46.4 15 47.4 15.5 48.4 16 49.4 16.6 50.4 17.1 51.5 17.6 52.5 18.2 53.5 18.9 54.5 19.4 55.6 20 56.6 20.4 57.6 20.8 58.7 21.2 59.7 21.8 60.7 22.4 61.8 22.9 62.8 23.4 63.8 23.9 64.9 24.6 64.8 27 2.8 -1.2Z"/><path transform="translate(240.5 80.5)" d="M2.3 -18.2L3.2 -18.4 4.1 -20.1 5.1 -17.1 6.1 -17.3 6.9 -20.3 7.8 -21.7 8.7 -22.1 9.7 -23.8 10.7 -21.1 11.7 -17.2 12.7 -16.5 13.6 -15.9 14.6 -14.7 15.7 -11.3 16.6 -9.7 17.6 -10.9 18.5 -11.3 19.5 -8.8 20.6 -5.7 21.5 -3.8 22.5 -2.3 23.5 -0.9 24.5 1.4 25.5 2.2 26.5 2.6 27.5 3.1 28.4 4.3 29.4 5 30.4 5.9 31.4 6.7 32.4 7.5 33.4 8.5 34.4 8.9 35.4 9.3 36.4 10.2 37.4 10.9 38.3 11.6 39.3 12.2 40.3 12.5 41.3 13 42.4 13.6 43.4 13.9 44.4 14.4 45.4 15.2 46.4 15.4 47.4 16 48.4 16.5 49.4 17.1 50.4 17.7 51.5 18 52.5 18.6 53.5 19.2 54.5 19.8 55.6 20.3 56.6 20.8 57.6 21.2 58.7 21.7 59.7 22.1 60.7 22.7 61.8 23.2 62.8 23.8 63.9 24.4 64.9 25.1 64.9 27 2.8 -1.2Z"/><path transform="translate(239.5 81.1)" d="M2.2 -20.4L3.2 -19.1 4 -22.4 5.1 -17.4 6.1 -16.8 6.9 -18.5 7.8 -21.3 8.6 -25.6 9.6 -24.8 10.7 -19 11.7 -15.8 12.7 -16.3 13.6 -15.7 14.6 -14.1 15.7 -10.7 16.6 -10.6 17.5 -11.9 18.5 -11.1 19.5 -8.6 20.5 -6.9 21.5 -4.7 22.5 -3.1 23.5 -1.6 24.5 0.7 25.5 1.4 26.5 2.2 27.5 2.8 28.4 3.9 29.4 4.5 30.4 5.5 31.4 6.2 32.4 7.3 33.4 8.2 34.4 8.8 35.4 9.3 36.4 10.3 37.4 10.9 38.4 11.6 39.4 12.4 40.4 12.7 41.4 13.3 42.4 13.7 43.4 14 44.4 14.6 45.4 15.2 46.4 15.5 47.4 16.2 48.4 16.8 49.4 17.4 50.5 18 51.5 18.3 52.5 18.8 53.5 19.3 54.6 19.9 55.6 20.3 56.6 20.8 57.6 21.3 58.7 21.8 59.7 22.3 60.8 22.8 61.8 23.2 62.8 23.9 63.9 24.4 64.9 24.9 64.9 27.1 2.8 -1.2Z"/><path transform="translate(238.6 81.7)" d="M2.2 -19.2L3.2 -18.3 4 -23.2 5 -19 6.1 -15.8 7 -16.9 7.9 -18.2 8.7 -22.7 9.6 -24.2 10.6 -21.5 11.7 -17.1 12.6 -17.4 13.5 -19.2 14.5 -18.3 15.6 -13.5 16.6 -12.8 17.5 -12.5 18.5 -11.6 19.5 -10.3 20.5 -10 21.5 -7.3 22.5 -5.5 23.5 -3.2 24.5 -0.6 25.5 0.2 26.5 1.3 27.4 2.1 28.4 3.3 29.4 3.4 30.4 4.5 31.4 5.2 32.4 6.5 33.4 7.4 34.4 8.1 35.4 8.8 36.4 9.7 37.4 10.4 38.4 11.1 39.4 11.7 40.4 12.1 41.4 12.8 42.4 13.3 43.4 13.8 44.4 14.4 45.4 15.1 46.4 15.4 47.4 16.1 48.4 16.7 49.5 17.4 50.5 18.1 51.5 18.3 52.5 18.9 53.5 19.3 54.6 19.7 55.6 20.3 56.6 20.8 57.7 21.3 58.7 21.8 59.7 22.2 60.8 22.6 61.8 23 62.9 23.6 63.9 24.2 65 24.7 64.9 27.2 2.8 -1.2Z"/><path transform="translate(237.6 82.2)" d="M2.2 -19L3.1 -19.9 3.9 -23.8 5 -20.5 6 -16.7 7 -16.3 7.9 -16.3 8.7 -22.4 9.3 -35.8 10.5 -23.7 11.7 -16.8 12.6 -16 13.6 -16.9 14.5 -18 15.5 -14.8 16.5 -15.1 17.5 -14.2 18.5 -12.2 19.5 -10.6 20.4 -10.9 21.4 -8.4 22.5 -6.3 23.5 -3.8 24.5 -1.7 25.5 -0.2 26.5 0.8 27.4 1.8 28.4 3.2 29.4 3.2 30.4 4 31.4 4.8 32.4 6.1 33.4 6.8 34.4 7.6 35.4 8.4 36.4 9.3 37.4 10 38.4 10.7 39.4 11.6 40.4 12 41.4 12.5 42.4 13 43.4 13.5 44.4 14.1 45.4 14.5 46.4 15.1 47.4 15.7 48.5 16.5 49.5 17.3 50.5 18.1 51.5 18.5 52.5 19 53.6 19.5 54.6 19.8 55.6 20.5 56.6 20.9 57.7 21.3 58.7 21.7 59.8 22.1 60.8 22.5 61.8 22.9 62.9 23.5 63.9 24 65 24.6 64.9 27.2 2.8 -1.2Z"/><path transform="translate(236.6 82.8)" d="M2.3 -17.8L3.2 -18.9 4 -20.6 5 -18.1 6.1 -15.5 7 -14.6 7.9 -14.9 8.8 -18.1 9.5 -24.8 10.6 -20.4 11.7 -16.8 12.7 -15.1 13.6 -15.6 14.5 -17.6 15.5 -16.5 16.4 -17.3 17.5 -13.5 18.5 -12.3 19.4 -11.3 20.4 -10.9 21.5 -7.6 22.5 -5.4 23.5 -2.6 24.5 -0.3 25.5 1.5 26.5 2 27.5 3.2 28.5 4.4 29.4 4.5 30.4 5.2 31.4 6 32.4 7.2 33.4 7.8 34.4 8.7 35.4 9.5 36.4 10.2 37.4 10.9 38.4 11.8 39.4 12.5 40.4 12.9 41.4 13.4 42.4 13.8 43.4 14.3 44.4 14.8 45.4 15.1 46.4 15.8 47.4 16.3 48.5 16.8 49.5 17.5 50.5 18.3 51.5 18.8 52.5 19.4 53.6 19.8 54.6 20.2 55.6 20.9 56.7 21.4 57.7 21.6 58.7 22.1 59.8 22.6 60.8 22.9 61.9 23.2 62.9 23.6 63.9 24.2 65 24.7 65 27.3 2.8 -1.2Z"/><path transform="translate(235.6 83.4)" d="M2.2 -20.2L3.1 -21 3.9 -22.4 4.8 -23.4 6 -17.3 7 -14.8 7.9 -14.7 8.8 -17.2 9.5 -26.5 10.6 -20.5 11.7 -16.1 12.6 -15.8 13.6 -16.4 14.5 -17.4 15.4 -20.1 16.4 -19.6 17.5 -11.8 18.5 -10.8 19.5 -10.7 20.4 -9.6 21.5 -6.5 22.5 -5 23.5 -2.1 24.5 -0.3 25.5 1.7 26.5 2.3 27.5 3.8 28.5 5 29.4 5.2 30.4 6 31.4 6.8 32.4 8 33.4 8.5 34.4 9.4 35.4 10 36.4 10.8 37.4 11.5 38.4 12.3 39.4 13.2 40.4 13.5 41.4 13.9 42.4 14.3 43.4 14.6 44.4 15 45.4 15.3 46.4 16 47.5 16.5 48.5 17.1 49.5 17.8 50.5 18.7 51.5 19.2 52.6 19.7 53.6 20.2 54.6 20.5 55.6 21.3 56.7 21.6 57.7 21.9 58.7 22.4 59.8 22.7 60.8 23.1 61.9 23.4 62.9 23.9 64 24.4 65 24.9 65 27.4 2.8 -1.2Z"/><path transform="translate(234.6 84.0)" d="M2.2 -18L3.1 -20.8 4 -19.3 4.9 -20.6 6 -17.8 7 -13.7 8 -13.7 8.9 -14.1 9.6 -21.9 10.4 -26.6 11.6 -16.6 12.6 -15.2 13.6 -14.9 14.5 -16.5 15.2 -25.1 16.4 -18.6 17.5 -12.2 18.4 -12.1 19.4 -12.5 20.4 -10.4 21.5 -6.7 22.4 -6.8 23.5 -3.1 24.5 -0.7 25.5 0.8 26.5 2 27.5 3.3 28.5 4.4 29.4 4.5 30.4 5.3 31.4 6.3 32.4 7.5 33.4 8.3 34.4 9.5 35.4 10.3 36.4 11 37.4 11.9 38.4 12.7 39.4 13.6 40.4 13.8 41.4 14.3 42.4 14.7 43.4 15 44.4 15.3 45.4 15.5 46.5 16 47.5 16.6 48.5 17 49.5 17.7 50.5 18.6 51.5 19 52.6 19.5 53.6 20 54.6 20.5 55.7 21.2 56.7 21.6 57.7 21.8 58.8 22.4 59.8 22.8 60.8 23.1 61.9 23.4 62.9 23.8 64 24.2 65 24.6 65 27.5 2.8 -1.2Z"/><path transform="translate(233.6 84.6)" d="M2.1 -19.8L2.9 -23.4 4 -19.3 4.9 -20.2 5.8 -21.6 7 -14.2 7.9 -14.8 8.8 -16.4 9.7 -18.2 10.6 -20.6 11.6 -17.4 12.6 -16.2 13.5 -15.8 14.5 -17.8 15.2 -25.5 16.3 -19.9 17.4 -13.2 18.4 -13 19.4 -12.5 20.4 -9.2 21.4 -7.2 22.4 -7.7 23.4 -3.6 24.5 -1.2 25.5 0.5 26.5 1.7 27.5 2.8 28.5 4.3 29.4 4.5 30.4 5.3 31.4 6.4 32.4 7.4 33.4 8.2 34.4 9.2 35.4 10.1 36.4 10.7 37.4 11.6 38.4 12.2 39.4 13.1 40.4 13.4 41.4 14 42.4 14.3 43.4 14.7 44.4 15.1 45.4 15.2 46.5 15.9 47.5 16.4 48.5 17 49.5 17.6 50.5 18.5 51.6 19 52.6 19.6 53.6 20.2 54.6 20.6 55.7 21.4 56.7 21.6 57.7 21.9 58.8 22.5 59.8 23 60.9 23.3 61.9 23.7 62.9 24.2 64 24.6 65 25 65 27.6 2.8 -1.2Z"/><path transform="translate(232.6 85.2)" d="M2.1 -21.4L3 -21.9 4 -20.1 4.9 -20.6 5.8 -21.8 7 -14.1 7.9 -15.5 8.7 -18.1 9.7 -16.9 10.5 -21.6 11.5 -19.5 12.5 -19 13.5 -17.7 14.4 -18 15.3 -19.7 16.3 -19.8 17.4 -14.7 18.4 -13.5 19.4 -13.2 20.4 -9.2 21.4 -7.8 22.4 -7.9 23.5 -3.1 24.5 -0.3 25.5 1.3 26.5 2.4 27.5 3.3 28.5 4.4 29.4 4.8 30.4 5.5 31.4 6.4 32.4 7.3 33.4 8.2 34.4 8.9 35.4 9.9 36.4 10.5 37.4 11.5 38.4 12 39.4 12.8 40.4 13.3 41.4 14 42.4 14.3 43.4 14.9 44.4 15.3 45.5 15.6 46.5 16.4 47.5 16.8 48.5 17.4 49.5 18.1 50.6 18.8 51.6 19.4 52.6 19.8 53.6 20.4 54.7 20.9 55.7 21.7 56.7 21.9 57.8 22.2 58.8 22.8 59.8 23.3 60.9 23.6 61.9 23.9 63 24.4 64 24.8 65.1 25.1 65 27.6 2.8 -1.2Z"/><path transform="translate(231.6 85.7)" d="M2.1 -20.1L3 -20.2 4 -20.2 4.9 -19.6 5.8 -22.2 6.9 -17.2 7.8 -17 8.7 -18.7 9.7 -16.9 10.6 -19.2 11.5 -19.9 12.4 -22.7 13.4 -18.5 14.4 -17 15.4 -17.9 16.3 -18.3 17.4 -14.9 18.4 -12.6 19.4 -10.9 20.4 -8.3 21.4 -7.2 22.4 -6.7 23.5 -2.4 24.5 -0.5 25.5 1.7 26.5 2.9 27.5 3.6 28.5 4.5 29.5 5.3 30.4 6.3 31.4 6.9 32.4 7.7 33.4 8.5 34.4 9.1 35.4 9.8 36.4 10.6 37.4 11.5 38.4 12 39.4 12.8 40.4 13.4 41.4 14.2 42.4 14.6 43.4 15 44.5 15.6 45.5 15.8 46.5 16.6 47.5 17.1 48.5 17.8 49.5 18.4 50.6 19 51.6 19.4 52.6 19.9 53.6 20.5 54.7 21 55.7 21.7 56.7 22.1 57.8 22.4 58.8 22.9 59.8 23.4 60.9 23.8 61.9 24.3 63 24.8 64 25.3 65.1 25.8 65.1 27.7 2.8 -1.2Z"/><path transform="translate(230.6 86.3)" d="M2.2 -17.6L3.1 -18.4 4 -18 5 -16.4 5.7 -23.8 6.6 -23 7.7 -19.3 8.6 -19.9 9.6 -18.7 10.5 -20.6 11.4 -23.5 12.2 -26.5 13.4 -18.6 14.4 -16.5 15.4 -16.4 16.3 -17.3 17.3 -16.1 18.3 -14.8 19.3 -12.9 20.4 -9.9 21.4 -7.4 22.4 -7 23.4 -3.5 24.5 -0.8 25.5 1.3 26.5 2.4 27.5 3.4 28.5 4.5 29.5 5.4 30.4 6.4 31.4 7 32.4 7.8 33.4 8.5 34.4 9 35.4 9.7 36.4 10.4 37.4 11.4 38.4 11.7 39.4 12.4 40.4 13.1 41.4 13.9 42.4 14.3 43.5 14.6 44.5 15.2 45.5 15.5 46.5 16.2 47.5 16.8 48.5 17.4 49.6 18 50.6 18.6 51.6 19 52.6 19.4 53.7 20 54.7 20.6 55.7 21.5 56.8 21.9 57.8 22.3 58.8 22.9 59.9 23.4 60.9 23.8 62 24.3 63 24.8 64 25.4 65.1 25.8 65.1 27.8 2.8 -1.2Z"/><path transform="translate(229.6 86.9)" d="M2.3 -13.9L3.2 -15.6 4.1 -16.5 5.1 -14.5 5.8 -18.8 6.8 -19.2 7.8 -17.2 8.5 -22 9.6 -19.1 10.6 -17.9 11.3 -24.7 12.2 -28.1 13.3 -20.8 14.4 -17.5 15.4 -17.6 16.2 -21.9 17.3 -18.1 18.3 -14.8 19.3 -12.7 20.4 -10.3 21.4 -8.2 22.4 -6.8 23.4 -4.4 24.4 -2.2 25.5 0.4 26.5 1.7 27.5 2.7 28.4 3.5 29.4 4.5 30.4 5.8 31.4 6.3 32.4 7 33.4 7.8 34.4 8.5 35.4 9.1 36.4 10.1 37.4 11.3 38.4 11.6 39.4 12.3 40.4 13.1 41.5 14 42.5 14.5 43.5 14.6 44.5 15.3 45.5 15.6 46.5 16.2 47.5 16.8 48.5 17.4 49.6 17.9 50.6 18.5 51.6 18.8 52.6 19.2 53.7 20 54.7 20.7 55.7 21.5 56.8 21.8 57.8 22.2 58.8 22.5 59.9 23 60.9 23.5 62 24 63 24.5 64.1 25 65.1 25.5 65.1 27.9 2.8 -1.2Z"/><path transform="translate(228.6 87.5)" d="M2.4 -12.2L3.2 -14.9 4.1 -16.2 5.1 -12.6 6 -15.3 6.7 -19.5 7.9 -14.6 8.7 -16.5 9.5 -20.4 10.5 -18.3 11.3 -24.9 12 -32.1 13.3 -21.5 14.4 -17.2 15.4 -16.9 16.2 -19.3 17.3 -15.9 18.3 -13.6 19.3 -11.8 20.4 -9.3 21.4 -6.8 22.4 -5.8 23.4 -3.2 24.4 -1.8 25.5 0.4 26.5 1.8 27.5 3 28.4 3.6 29.4 4.5 30.4 5.9 31.4 6.3 32.4 7.2 33.4 7.7 34.4 8.4 35.4 9 36.4 9.9 37.4 11 38.4 11.4 39.4 12.3 40.4 13 41.5 14 42.5 14.5 43.5 14.6 44.5 15.4 45.5 15.7 46.5 16.2 47.5 16.8 48.6 17.5 49.6 18 50.6 18.7 51.6 19.1 52.7 19.4 53.7 20.1 54.7 20.8 55.7 21.6 56.8 21.9 57.8 22.3 58.9 22.6 59.9 23.2 60.9 23.7 62 24.2 63 24.7 64.1 25.2 65.1 25.5 65.1 27.9 2.8 -1.2Z"/><path transform="translate(227.6 88.1)" d="M2.4 -11.5L3.3 -12.8 4.2 -12.2 5.2 -11.1 6 -14.1 6.8 -16.9 7.9 -12.8 8.8 -13.7 9.7 -16.3 10.6 -15.1 11.5 -17.2 12.1 -28.4 13.2 -23 14.4 -15.7 15.3 -17.1 16.2 -20.6 17.3 -15.2 18.3 -13 19.3 -11.7 20.4 -8.3 21.4 -5.7 22.4 -4.5 23.5 -2 24.5 -0.8 25.5 1 26.5 2.7 27.5 3.8 28.5 4.4 29.5 5.3 30.5 6.7 31.4 7.1 32.4 7.8 33.4 8.5 34.4 9 35.4 9.5 36.4 10.3 37.4 11.1 38.4 11.8 39.5 12.7 40.5 13.4 41.5 14.3 42.5 14.9 43.5 15.3 44.5 16 45.5 16.4 46.5 16.9 47.5 17.3 48.6 18 49.6 18.5 50.6 19.2 51.6 19.7 52.7 20 53.7 20.6 54.7 21.2 55.8 21.9 56.8 22.2 57.8 22.6 58.9 23 59.9 23.6 61 24.1 62 24.6 63.1 25.1 64.1 25.6 65.2 26 65.1 28 2.8 -1.2Z"/><path transform="translate(226.6 88.7)" d="M2.2 -15L3 -17.6 4.2 -13.1 5.2 -10.9 6 -14.4 6.9 -13.4 8 -10.9 8.8 -12.3 9.8 -12.9 10.7 -13 11.6 -15.2 12.3 -21.8 13.3 -21.6 14.4 -15.4 15.3 -16.4 16.2 -19.7 17.4 -13.1 18.4 -11.1 19.3 -11.2 20.4 -7.2 21.5 -4.7 22.5 -3.2 23.5 -1.2 24.5 0.1 25.5 1.5 26.5 2.7 27.5 4 28.5 4.7 29.5 5.7 30.5 7 31.5 7.5 32.5 8.2 33.5 8.9 34.4 9.3 35.4 9.9 36.4 10.6 37.4 11.1 38.5 11.9 39.5 12.7 40.5 13.3 41.5 14.3 42.5 14.9 43.5 15.4 44.5 16.2 45.5 16.8 46.5 17.2 47.6 17.7 48.6 18.4 49.6 18.9 50.6 19.4 51.7 19.8 52.7 20.3 53.7 20.7 54.7 21.3 55.8 21.9 56.8 22.2 57.8 22.6 58.9 23 59.9 23.6 61 24 62 24.5 63.1 25.1 64.1 25.7 65.2 26 65.2 28.1 2.8 -1.2Z"/><path transform="translate(225.6 89.3)" d="M2.3 -12.5L3.1 -15.9 4.1 -14.6 5.2 -10.7 6 -13.2 7 -12.4 8 -10.3 8.9 -11.3 9.8 -10.3 10.8 -10.6 11.7 -12.1 12.5 -15.1 13.4 -17.5 14.4 -14.1 15.4 -13.1 16.3 -16.3 17.3 -13.2 18.4 -11.1 19.3 -11.2 20.4 -8.7 21.4 -5 22.5 -2.9 23.5 -0.7 24.5 -0.1 25.5 1.2 26.5 2.2 27.5 3.8 28.5 4.3 29.5 5.2 30.5 6.6 31.5 7.1 32.5 7.9 33.4 8.6 34.4 9.1 35.4 9.9 36.4 10.6 37.4 10.9 38.5 11.8 39.5 12.4 40.5 13.1 41.5 14 42.5 14.7 43.5 15.4 44.5 16.3 45.5 16.9 46.6 17.3 47.6 17.9 48.6 18.4 49.6 18.9 50.6 19.5 51.7 19.8 52.7 20.3 53.7 20.7 54.8 21.4 55.8 21.8 56.8 22.1 57.9 22.5 58.9 23 59.9 23.5 61 24 62 24.5 63.1 25.1 64.1 25.8 65.2 26.2 65.2 28.2 2.8 -1.2Z"/><path transform="translate(224.6 89.9)" d="M2.4 -10.7L3.2 -13.2 4.1 -14.9 5.2 -9.9 6 -12.7 6.9 -14.4 8 -9.9 9 -9 9.9 -8.1 10.9 -8.3 11.7 -9.7 12.6 -11.7 13.5 -14.2 14.5 -13.1 15.5 -11.1 16.4 -12 17.3 -13.1 18.3 -12.1 19.3 -12.2 20.3 -10.1 21.4 -4.7 22.5 -2.1 23.5 -0.2 24.5 0.2 25.5 1.6 26.5 1.8 27.5 3.1 28.4 3.8 29.4 4.8 30.5 6.2 31.4 6.7 32.5 7.7 33.5 8.6 34.4 9.2 35.5 9.9 36.5 10.9 37.5 11.2 38.5 12.1 39.5 12.7 40.5 13.4 41.5 14.4 42.5 14.9 43.5 15.5 44.5 16.3 45.5 16.9 46.6 17.4 47.6 17.9 48.6 18.3 49.6 18.8 50.7 19.4 51.7 19.6 52.7 20.1 53.7 20.5 54.8 21.3 55.8 21.6 56.8 21.9 57.9 22.3 58.9 22.8 60 23.4 61 23.8 62.1 24.4 63.1 24.9 64.2 25.6 65.2 26 65.2 28.3 2.8 -1.2Z"/></g></g><path fill="url(#fwb)" d="M227 79.2L227.8 76.7 228.6 75 229.8 80 230.6 77.2 231.4 75.5 232.6 80 233.5 80.9 234.5 81.8 235.4 81.6 236.3 80.2 237.2 78.2 238 75.7 239 76.8 240.1 78.8 241 77.9 241.9 76.8 242.9 77.8 243.9 77.7 244.9 79.8 246 85.2 247 87.8 248.1 89.7 249 90.1 250 91.5 251 91.7 252 93 253 93.7 254 94.7 255 96.1 256 96.6 257 97.6 258 98.5 259 99.1 260 99.8 261 100.8 262 101.1 263 102 264 102.6 265 103.3 266.1 104.3 267.1 104.8 268.1 105.4 269.1 106.2 270.1 106.8 271.1 107.3 272.2 107.8 273.2 108.2 274.2 108.7 275.2 109.3 276.2 109.5 277.3 110 278.3 110.4 279.3 111.2 280.4 111.5 281.4 111.8 282.4 112.2 283.5 112.7 284.5 113.3 285.6 113.7 286.6 114.3 287.7 114.8 288.7 115.5 289.8 115.9 288.8 117.6 287.7 117.2 286.7 116.6 285.6 116.1 284.6 115.6 283.5 115.1 282.5 114.6 281.4 114.1 280.4 113.6 279.4 113.2 278.3 112.8 277.3 112.2 276.3 111.7 275.2 111.2 274.2 110.8 273.2 110.3 272.2 109.8 271.2 109.4 270.1 108.9 269.1 108.4 268.1 107.9 267.1 107.3 266.1 106.8 265.1 106.3 264.1 105.7 263.1 105.1 262.1 104.6 261.1 104 260.1 103.6 259.1 103 258.1 102.4 257.1 101.9 256.1 101.3 255.1 100.7 254.1 100.2 253.1 99.5 252.1 98.9 251.1 98.3 250.1 97.6 249.2 97.2 248.2 96.5 247.2 96 246.2 95.2 245.2 94.1 244.2 92.1 243.2 91.2 242.3 90.9 241.3 90.3 240.3 90.3 239.4 90.2 238.4 89.3 237.5 88.7 236.5 89.1 235.6 89.4 234.7 89.5 233.7 89.2 232.8 88.7 231.8 88.1 230.8 86.4 229.9 86.6 229 87.1 228 85.3 227.1 85.5 226.2 86Z"/><path fill="#f6f6f6" d="M226.2 86.2L227.1 85.8 228 85.6 229 87.4 229.9 86.9 230.8 86.7 231.8 88.3 232.8 88.9 233.7 89.5 234.7 89.7 235.6 89.6 236.5 89.4 237.5 88.9 238.4 89.6 239.4 90.5 240.3 90.5 241.3 90.6 242.3 91.2 243.2 91.4 244.2 92.4 245.2 94.3 246.2 95.4 247.2 96.3 248.2 96.7 249.2 97.5 250.1 97.9 251.1 98.6 252.1 99.1 253.1 99.7 254.1 100.5 255.1 101 256.1 101.6 257.1 102.2 258.1 102.7 259.1 103.2 260.1 103.9 261.1 104.3 262.1 104.9 263.1 105.4 264.1 105.9 265.1 106.5 266.1 107.1 267.1 107.5 268.1 108.1 269.1 108.6 270.1 109.1 271.2 109.6 272.2 110.1 273.2 110.6 274.2 111.1 275.2 111.5 276.3 112 277.3 112.4 278.3 113 279.4 113.4 280.4 113.9 281.4 114.3 282.5 114.8 283.5 115.4 284.6 115.8 285.6 116.3 286.7 116.9 287.7 117.4 288.8 117.9 288.8 119.4 287.7 118.9 286.7 118.4 285.6 117.9 284.6 117.4 283.5 116.9 282.5 116.5 281.5 116 280.4 115.5 279.4 115 278.3 114.5 277.3 114 276.3 113.5 275.3 113 274.2 112.5 273.2 112.1 272.2 111.6 271.2 111.1 270.2 110.6 269.1 110.1 268.1 109.7 267.1 109.2 266.1 108.7 265.1 108.2 264.1 107.7 263.1 107.3 262.1 106.8 261.1 106.3 260.1 105.8 259.1 105.4 258.1 104.9 257.1 104.4 256.1 104 255.1 103.5 254.2 103 253.2 102.6 252.2 102.1 251.2 101.6 250.2 101.2 249.3 100.7 248.3 100.3 247.3 99.8 246.3 99.3 245.4 98.9 244.4 98.4 243.4 98 242.5 97.5 241.5 97.1 240.6 96.6 239.6 96.1 238.6 95.7 237.7 95.2 236.7 94.8 235.8 94.3 234.8 93.9 233.9 93.4 232.9 93 232 92.5 231.1 92.1 230.1 91.7 229.2 91.2 228.3 90.8 227.3 90.3 226.4 89.9Z"/></g><polygon points="243,29 243.5,40 242.5,40" fill="#f7a050" fill-opacity="0.50"/><polygon points="242.5,40 243.5,40 245.3,66 242.7,66" fill="#ff2a0e"/><polygon points="244.8,52 246,52 246.6,66 244.6,66" fill="#ff2a0e" fill-opacity="0.90"/><polygon points="262.8,20.5 263.5,25 262.1,25" fill="#f7a050" fill-opacity="0.40"/><polygon points="262.1,25 263.5,25 264,49 262,49" fill="#f7a050" fill-opacity="0.90"/><polygon points="257.2,44 258.2,44 258.9,58.6 257.1,58.6" fill="#f7a050" fill-opacity="0.85"/><polygon points="266.3,31 266.8,34 265.8,34" fill="#f7a050" fill-opacity="0.30"/><polygon points="265.8,34 266.8,34 267.4,53 265.6,53" fill="#f7a050" fill-opacity="0.80"/><polygon points="237.2,54 238.4,54 239,70 237,70" fill="#f08a40" fill-opacity="0.90"/><path d="M220.7 92.2L289.3 125M289.3 125L345.4 86.3M220.7 92.2L217.9 33.1M222.5 94.2L224.3 93.2M237.4 101.4L239.2 100.3M252.8 108.7L254.5 107.6M268.6 116.3L270.4 115.1M284.9 124.1L286.7 122.9M344.3 88.5L342.3 87.6M334.7 95.2L332.7 94.3M324.8 102L322.8 101.1M314.7 109L312.6 108.1M304.2 116.3L302.1 115.3M293.4 123.7L291.3 122.7M218.9 78.8L220.8 79.6M218.3 65.1L220.2 66M217.6 51.2L219.5 52M216.9 36.9L218.8 37.8" stroke="#222" stroke-width="0.55" fill="none"/><g font-family="DejaVu Sans, Liberation Sans, sans-serif" font-size="5.1" text-anchor="middle" fill="#111"><text x="219.1" y="105.4">0</text><text x="233.4" y="112.5">2000</text><text x="248.3" y="119.9">4000</text><text x="263.6" y="127.4">6000</text><text x="279.4" y="135.2">8000</text><text x="299.8" y="134.5">1.0</text><text x="310" y="127.1">0.8</text><text x="319.9" y="119.9">0.6</text><text x="329.5" y="112.9">0.4</text><text x="338.8" y="106.1">0.2</text><text x="347.8" y="99.4">0.0</text><text x="209.6" y="82.5">2</text><text x="208.9" y="68.8">4</text><text x="208.3" y="54.9">6</text><text x="207.6" y="40.6">8</text></g><g font-family="DejaVu Sans, Liberation Sans, sans-serif" font-size="5.2" text-anchor="middle" fill="#111"><text transform="translate(243.1 125.4) rotate(25.6)" y="1.87">Frequency(Hz)</text><text transform="translate(330.8 121.7) rotate(-34.6)" y="1.87">Time(s)</text><text transform="translate(196 64.5) rotate(87.2)" y="1.87">Amplitude</text></g></g><g id="pc"><polygon points="415.1,93.5 473.3,59.2 473.1,2.5 412.1,33.8" fill="#f3f3f3"/><polygon points="473.3,59.2 541.2,87.6 544,28.4 473.1,2.5" fill="#f5f5f5"/><polygon points="415.1,93.5 484.4,126.7 541.2,87.6 473.3,59.2" fill="#f2f2f2"/><line x1="473.3" y1="59.2" x2="473.1" y2="2.5" stroke="#e8e8e8" stroke-width="0.6"/><g filter="url(#sft)"><use href="#sc" fill="#fff" filter="url(#glw)"/><g fill="url(#gc)"><g id="sc"><path fill-opacity="0.30" transform="translate(470.9 60.6)" d="M2.8 -18.6L3.8 -19.3 4.7 -15.7 5.7 -8.9 6.6 -6.6 7.6 -7.7 8.5 -11.5 9.4 -7.1 10.4 -7.4 11.4 -18.6 12.3 -11.7 13.2 -9.6 14.2 -7.6 15.1 -6.7 16.1 -9.1 17.1 -7.8 18 -7.8 19 -6.3 20 -6.9 21 -8.5 21.9 -8.7 22.9 -7.5 23.9 -10.2 24.9 -11.5 25.9 -9 26.9 -10 27.8 -7.1 28.8 -7.5 29.8 -7.9 30.8 -7.8 31.8 -7 32.8 -7.1 33.8 -5.9 34.7 -3.2 35.7 -2.1 36.7 -0.2 37.6 1.7 38.6 3.5 39.6 5.1 40.6 5.7 41.5 6.6 42.5 8.4 43.5 9.1 44.5 10 45.5 9.8 46.5 10.7 47.5 10.9 48.6 10.9 49.6 11.7 50.6 12.4 51.6 13.7 52.6 14.4 53.6 15.6 54.6 16.5 55.6 17.4 56.6 18.2 57.6 18.8 58.6 19.5 59.6 20.3 60.7 20.7 61.7 21 62.7 21.6 63.8 22.2 64.8 22.9 64.7 24.7 2.9 -1.3Z"/><path fill-opacity="0.41" transform="translate(470.0 61.2)" d="M2.8 -13.3L3.8 -14.7 4.7 -14.1 5.7 -9.6 6.6 -6.8 7.5 -8.3 8.5 -12 9.4 -7.8 10.4 -7.4 11.3 -11.2 12.3 -9 13.2 -8.9 14.2 -7.2 15.1 -6.7 16.1 -9.2 17.1 -8.5 18 -8.1 19 -7 20 -7.4 20.9 -8.2 21.9 -9.6 22.9 -8.1 23.9 -9.4 24.9 -10.7 25.9 -9.8 26.9 -10 27.8 -8 28.8 -7.8 29.8 -8.3 30.8 -7.8 31.8 -6.6 32.8 -6.1 33.7 -4.4 34.7 -2.7 35.7 -1.4 36.6 0.6 37.6 2.1 38.6 4.1 39.6 5.7 40.5 6.6 41.5 8 42.5 9.3 43.5 10.2 44.5 10.7 45.5 10.8 46.5 11.4 47.5 11.5 48.6 11.6 49.6 12 50.6 13 51.6 14 52.6 14.7 53.6 15.5 54.6 16.4 55.6 17.3 56.6 18.1 57.6 18.7 58.7 19.3 59.7 20.1 60.7 20.7 61.7 21.1 62.8 21.7 63.8 22.3 64.8 23 64.7 24.7 2.9 -1.3Z"/><path fill-opacity="0.51" transform="translate(469.1 61.7)" d="M2.8 -11.1L3.8 -11.8 4.7 -10.4 5.7 -9 6.6 -7.9 7.5 -9.8 8.5 -11.2 9.4 -7.8 10.4 -7.5 11.3 -9.1 12.3 -8.6 13.2 -9.7 14.2 -8.1 15.1 -6.8 16.1 -7.6 17.1 -7.3 18 -7.9 19 -7.1 20 -7 20.9 -8.3 21.9 -9.6 22.9 -7.6 23.9 -8.4 24.9 -9.8 25.9 -9.7 26.8 -9.3 27.8 -7.5 28.8 -7.1 29.8 -8 30.8 -7.2 31.8 -6.1 32.7 -5.3 33.7 -3.3 34.7 -2 35.7 -0.1 36.6 1.8 37.6 3 38.6 4.6 39.6 6 40.5 7.1 41.5 8.5 42.5 9.7 43.5 10.4 44.5 11 45.5 11.1 46.5 11.6 47.5 11.9 48.5 12.2 49.6 12.6 50.6 13.7 51.6 14.6 52.6 15.3 53.6 16 54.6 16.6 55.6 17.5 56.6 18.1 57.7 18.7 58.7 19.3 59.7 20 60.7 20.8 61.8 21.2 62.8 21.9 63.8 22.6 64.8 23.2 64.8 24.8 2.9 -1.3Z"/><path fill-opacity="0.62" transform="translate(468.2 62.2)" d="M2.9 -9.3L3.8 -9.4 4.7 -9.3 5.7 -8.7 6.6 -9.1 7.5 -13.2 8.5 -9.6 9.4 -8.4 10.4 -8 11.3 -8.1 12.3 -9.7 13.2 -9.8 14.2 -7.8 15.1 -8.2 16.1 -8.9 17.1 -8.1 18 -8.5 19 -8.1 20 -7.6 20.9 -7.8 21.9 -9.6 22.9 -8.1 23.9 -9.1 24.9 -10.6 25.9 -11.1 26.9 -11.4 27.8 -9.8 28.8 -9.6 29.8 -10.2 30.8 -9.6 31.8 -8.4 32.8 -7.3 33.7 -4.8 34.7 -3.4 35.7 -1.3 36.6 0.9 37.6 2.1 38.6 3.9 39.6 5.1 40.6 6.2 41.5 7.6 42.5 8.6 43.5 9.1 44.5 10 45.5 10.5 46.5 11.4 47.6 11.8 48.6 12.2 49.6 12.7 50.6 13.4 51.6 14.2 52.6 14.8 53.6 15.6 54.6 16.3 55.6 17 56.7 17.5 57.7 18.1 58.7 18.9 59.7 19.6 60.8 20.3 61.8 20.8 62.8 21.7 63.8 22.4 64.9 23 64.8 24.9 2.9 -1.3Z"/><path fill-opacity="0.72" transform="translate(467.3 62.8)" d="M2.9 -8L3.8 -7.9 4.7 -8.5 5.6 -9.2 6.6 -9.3 7.5 -16.8 8.5 -14.6 9.4 -8.1 10.4 -7.9 11.3 -8.5 12.3 -9 13.2 -9.8 14.2 -7.5 15.1 -6.8 16.1 -7.3 17.1 -7.6 18 -8.5 19 -8.4 20 -7.8 20.9 -8 21.9 -9.5 22.9 -9.1 23.9 -9.4 24.9 -10.3 25.9 -10.8 26.8 -10.4 27.8 -8.8 28.8 -8.5 29.8 -8.4 30.8 -7.6 31.8 -6.9 32.8 -6 33.7 -4.4 34.7 -2.8 35.7 -0.9 36.6 1.1 37.6 2.2 38.6 3.8 39.6 5.1 40.6 5.9 41.6 7.2 42.6 8.3 43.6 8.9 44.5 10.1 45.5 10.8 46.5 11.7 47.6 12.2 48.6 12.7 49.6 13.2 50.6 13.6 51.6 14.2 52.6 14.8 53.6 15.5 54.7 16.1 55.7 16.8 56.7 17.5 57.7 18.1 58.7 18.9 59.8 19.5 60.8 20.3 61.8 21.1 62.8 21.9 63.9 22.7 64.9 23.3 64.8 24.9 2.9 -1.3Z"/><path fill-opacity="0.83" transform="translate(466.4 63.3)" d="M2.8 -7.9L3.8 -7.7 4.7 -8.3 5.6 -7.9 6.6 -8.9 7.5 -16.4 8.5 -12.2 9.4 -9.2 10.4 -9 11.3 -7.6 12.3 -7.4 13.2 -8.9 14.2 -7.8 15.1 -7.3 16.1 -8.1 17.1 -8.1 18 -8.7 19 -9.3 20 -7.9 20.9 -8.3 21.9 -9.3 22.9 -9.1 23.9 -8.9 24.9 -9 25.8 -9.8 26.8 -9.5 27.8 -8.9 28.8 -8.2 29.8 -7.4 30.8 -6.8 31.7 -5.4 32.7 -4.8 33.7 -3.4 34.7 -2.1 35.7 -0.7 36.6 1.4 37.6 2.4 38.6 4.4 39.6 5.8 40.6 6.6 41.6 7.9 42.5 9 43.5 9.7 44.5 10.6 45.5 11.4 46.5 12.3 47.5 13 48.6 13.1 49.6 13.8 50.6 14.2 51.6 14.4 52.6 14.7 53.7 15.2 54.7 16.1 55.7 16.7 56.7 17.3 57.7 18 58.8 18.8 59.8 19.5 60.8 20.2 61.8 21.1 62.8 22.1 63.9 22.9 64.9 23.6 64.8 25 2.9 -1.3Z"/><path fill-opacity="0.94" transform="translate(465.4 63.8)" d="M2.8 -8.6L3.8 -8.3 4.7 -9 5.6 -8 6.6 -8.4 7.5 -15.2 8.5 -11.1 9.4 -9.1 10.4 -9.2 11.3 -7.6 12.3 -7.2 13.2 -7.6 14.2 -7.3 15.1 -7.3 16.1 -6.7 17 -6.6 18 -8.3 19 -8.8 20 -7.3 20.9 -7.1 21.9 -7.7 22.9 -7.6 23.9 -7.4 24.8 -7.5 25.8 -8.1 26.8 -7.4 27.8 -6.6 28.8 -5.9 29.8 -5.4 30.7 -4.9 31.7 -3.2 32.7 -2.3 33.7 -1 34.7 0.1 35.6 1.3 36.6 2.7 37.6 3.5 38.6 5.5 39.6 6.8 40.6 7.8 41.6 8.8 42.5 10 43.5 10.6 44.5 11.5 45.5 12.3 46.5 12.8 47.6 13.4 48.6 13.6 49.6 14.3 50.6 14.8 51.6 15.3 52.6 15.6 53.7 16.1 54.7 16.8 55.7 17.4 56.7 18 57.7 18.8 58.8 19.4 59.8 20 60.8 20.6 61.8 21.4 62.9 22.2 63.9 22.9 64.9 23.6 64.9 25.1 2.9 -1.3Z"/><path transform="translate(464.5 64.4)" d="M2.8 -8.7L3.8 -9 4.7 -11.2 5.6 -8.5 6.6 -8.3 7.5 -15.5 8.4 -11.4 9.4 -9.3 10.3 -9.6 11.3 -8.9 12.3 -7.4 13.2 -6.7 14.2 -6.6 15.1 -8.1 16.1 -7.6 17 -6.7 18 -7.5 19 -8.7 20 -8.3 20.9 -7.2 21.9 -7.4 22.9 -8.2 23.9 -8.6 24.8 -8.2 25.8 -8.8 26.8 -8.2 27.8 -7.9 28.8 -7.1 29.8 -6.2 30.8 -5.8 31.7 -4.3 32.7 -3.2 33.7 -1.3 34.7 -0.5 35.7 0.8 36.6 1.9 37.6 3 38.6 4.9 39.6 5.9 40.6 7.1 41.6 8.1 42.6 9.4 43.6 10 44.6 11.1 45.6 12.1 46.6 12.5 47.6 12.8 48.6 13.3 49.6 14 50.6 14.5 51.6 15 52.7 15.2 53.7 15.9 54.7 16.5 55.7 17.3 56.7 17.9 57.8 18.7 58.8 19.3 59.8 20 60.8 20.7 61.9 21.3 62.9 22.2 63.9 22.8 65 23.5 64.9 25.1 2.9 -1.3Z"/><path transform="translate(463.6 64.9)" d="M2.8 -9.4L3.7 -10.2 4.7 -14 5.6 -10.3 6.6 -9.1 7.5 -12.5 8.4 -11.4 9.4 -9.4 10.3 -10.2 11.3 -9.9 12.3 -7.3 13.2 -6.9 14.2 -7.3 15.1 -7.1 16.1 -7.4 17 -6.9 18 -7.6 19 -9.3 19.9 -8.5 20.9 -6.8 21.9 -7.1 22.9 -8.2 23.9 -8.5 24.8 -8.6 25.8 -9.1 26.8 -8.7 27.8 -8.9 28.8 -8.4 29.8 -7.3 30.8 -6.4 31.7 -5.1 32.7 -3.6 33.7 -1.6 34.7 -0.5 35.7 0.8 36.7 1.4 37.6 2.8 38.6 4.4 39.6 5.3 40.6 6.5 41.6 7.2 42.6 8.5 43.6 9.3 44.6 10.6 45.6 11.8 46.6 12.3 47.6 12.7 48.6 13.4 49.6 14 50.6 14.4 51.7 15 52.7 15.2 53.7 16.1 54.7 16.6 55.7 17.4 56.8 17.9 57.8 18.7 58.8 19.4 59.8 20.1 60.9 20.7 61.9 21.2 62.9 22 64 22.6 65 23.2 64.9 25.2 2.9 -1.3Z"/><path transform="translate(462.7 65.5)" d="M2.8 -10.8L3.7 -11.8 4.6 -14.6 5.6 -11.5 6.6 -10.2 7.5 -11.7 8.4 -9.8 9.4 -9.7 10.3 -12.5 11.3 -10 12.2 -7.9 13.2 -8.1 14.2 -9 15.1 -8.3 16.1 -8.3 17 -7.8 18 -8.1 19 -8.2 19.9 -7.9 20.9 -7.2 21.9 -6.9 22.9 -6.7 23.8 -7.2 24.8 -8.2 25.8 -7.4 26.8 -6.6 27.8 -6.2 28.8 -5.9 29.7 -4.9 30.7 -4.7 31.7 -3.5 32.7 -1.8 33.7 -0.1 34.7 0.9 35.6 2.2 36.6 3.2 37.6 4.8 38.6 5.5 39.6 6 40.6 6.9 41.6 7.4 42.6 8.3 43.6 9.1 44.6 10.5 45.6 11.7 46.6 12.5 47.6 13.2 48.6 13.8 49.6 14.4 50.6 15 51.7 15.4 52.7 15.7 53.7 16.4 54.7 17 55.7 17.7 56.8 18.1 57.8 18.9 58.8 19.6 59.8 20.4 60.9 20.9 61.9 21.5 62.9 22.2 64 22.8 65 23.5 64.9 25.3 2.9 -1.3Z"/><path transform="translate(461.8 66.0)" d="M2.8 -11.1L3.7 -11.7 4.6 -16.7 5.5 -16.7 6.5 -11.9 7.5 -11.6 8.4 -9.5 9.4 -8.6 10.3 -10.4 11.3 -9.5 12.2 -7.4 13.2 -7.4 14.1 -8.8 15.1 -8.3 16.1 -7.6 17 -7.4 18 -6.9 19 -6.9 19.9 -7 20.9 -6 21.9 -6 22.9 -6.1 23.8 -5.6 24.8 -5.6 25.8 -5.1 26.8 -3.9 27.8 -3.7 28.7 -3.6 29.7 -2.3 30.7 -2.4 31.7 -1.2 32.7 0.1 33.7 1.4 34.6 2.4 35.6 3.5 36.6 4.8 37.6 6.1 38.6 7 39.6 7.7 40.6 8.6 41.6 9 42.6 9.7 43.6 10.5 44.6 11.4 45.6 12.4 46.6 13 47.6 13.7 48.6 14.3 49.6 14.8 50.6 15.5 51.7 16 52.7 16.5 53.7 17.1 54.7 17.7 55.7 18.3 56.8 18.8 57.8 19.7 58.8 20.3 59.8 20.9 60.9 21.4 61.9 21.9 63 22.6 64 23.1 65 23.7 65 25.3 2.9 -1.3Z"/><path transform="translate(460.8 66.5)" d="M2.8 -10.1L3.7 -10.6 4.6 -15.9 5.5 -18.9 6.5 -14 7.5 -13.4 8.4 -9.6 9.4 -8.1 10.3 -9.7 11.3 -11.9 12.2 -7.9 13.2 -7.5 14.1 -9.2 15.1 -7.9 16.1 -7.4 17 -7.1 18 -6.9 19 -6.6 19.9 -6.2 20.9 -6.2 21.9 -6.4 22.9 -6.9 23.8 -6.3 24.8 -5.3 25.8 -4.9 26.8 -4 27.8 -3.8 28.7 -3.1 29.7 -2.7 30.7 -2.6 31.7 -1.1 32.7 0.3 33.7 1 34.7 1.8 35.6 2.9 36.6 4.5 37.6 5.7 38.6 6.5 39.6 7.4 40.6 8.4 41.6 9.3 42.6 9.9 43.6 10.7 44.6 11.7 45.6 12.4 46.6 12.8 47.6 13.7 48.6 14.3 49.6 14.8 50.7 15.4 51.7 16 52.7 16.7 53.7 17 54.7 17.5 55.8 18.3 56.8 18.9 57.8 19.6 58.8 20.2 59.9 20.9 60.9 21.4 61.9 21.9 63 22.6 64 23.2 65.1 23.9 65 25.4 2.9 -1.2Z"/><path transform="translate(459.9 67.1)" d="M2.8 -11.6L3.7 -12 4.6 -15.8 5.5 -21.3 6.5 -15.9 7.4 -13.1 8.4 -10 9.4 -9 10.3 -11.1 11.3 -12.2 12.2 -9.2 13.2 -9.2 14.1 -11.1 15.1 -9 16.1 -9.2 17 -8.8 18 -8.4 19 -7.6 19.9 -7 20.9 -6.7 21.9 -7.1 22.9 -8.3 23.8 -8 24.8 -8.1 25.8 -7.7 26.8 -7.4 27.8 -7.2 28.8 -6.7 29.8 -6 30.7 -5.6 31.7 -3.2 32.7 -1.9 33.7 -1 34.7 0 35.7 0.7 36.7 2.2 37.7 3.1 38.7 4.1 39.6 5.6 40.6 6.8 41.6 8 42.6 8.7 43.6 9.6 44.6 10.9 45.6 11.4 46.6 11.8 47.7 12.6 48.7 13.3 49.7 14 50.7 14.8 51.7 15.5 52.7 16.2 53.7 16.8 54.8 17.2 55.8 18 56.8 18.6 57.8 19.2 58.9 19.8 59.9 20.3 60.9 20.9 62 21.5 63 22.3 64.1 22.9 65.1 23.6 65 25.5 2.9 -1.2Z"/><path transform="translate(459.0 67.6)" d="M2.7 -13.5L3.7 -14.3 4.5 -19 5.5 -22.4 6.4 -19 7.4 -14.8 8.4 -10.7 9.4 -9.8 10.3 -11.1 11.2 -14.1 12.2 -10.7 13.2 -10.3 14.1 -12.5 15.1 -11.4 16 -10.3 17 -9.7 18 -9.9 19 -9 19.9 -8.2 20.9 -7.5 21.9 -8.1 22.9 -8.8 23.8 -8.9 24.8 -9.1 25.8 -8.3 26.8 -8.3 27.8 -7.2 28.8 -6.4 29.8 -6.4 30.7 -6.2 31.7 -3.9 32.7 -1.8 33.7 -1 34.7 0 35.7 0.9 36.7 2.1 37.7 2.8 38.7 3.3 39.7 4.9 40.6 6.4 41.6 7.4 42.7 7.9 43.7 8.7 44.6 10.1 45.7 10.5 46.7 11.2 47.7 12.3 48.7 13.2 49.7 13.8 50.7 14.7 51.7 15.5 52.7 16.1 53.8 16.7 54.8 17.1 55.8 17.9 56.8 18.3 57.9 19 58.9 19.6 59.9 20.1 61 20.6 62 21.4 63 22.1 64.1 22.7 65.1 23.5 65 25.5 2.9 -1.2Z"/><path transform="translate(458.1 68.2)" d="M2.7 -12.8L3.7 -13.4 4.5 -21.8 5.4 -26.8 6.4 -19 7.4 -13.4 8.4 -10.4 9.4 -9.5 10.3 -10.1 11.2 -14.7 12.2 -13.1 13.2 -11.2 14.1 -12.7 15.1 -11.1 16 -10.9 17 -10.4 18 -9.9 18.9 -9.5 19.9 -8.4 20.9 -7.7 21.9 -7.8 22.8 -7.4 23.8 -7.1 24.8 -7 25.8 -6.2 26.8 -5.8 27.8 -4.8 28.7 -4.2 29.7 -4.1 30.7 -4.1 31.7 -2.6 32.7 -1.4 33.7 -0.2 34.7 1.3 35.7 1.7 36.7 3.2 37.7 3.9 38.7 4.4 39.7 5.6 40.6 6.9 41.6 8 42.6 8.6 43.7 9.3 44.7 10.3 45.7 11 46.7 12.2 47.7 13.1 48.7 14.3 49.7 14.9 50.7 15.5 51.7 15.9 52.8 16.3 53.8 17 54.8 17.3 55.8 18.1 56.9 18.6 57.9 19.3 58.9 20 60 20.4 61 21 62 21.6 63.1 22.4 64.1 23 65.1 23.8 65.1 25.6 2.9 -1.2Z"/><path transform="translate(457.1 68.7)" d="M2.7 -14.2L3.6 -15.2 4.5 -19 5.5 -16.8 6.5 -15.3 7.4 -17.3 8.4 -12.6 9.3 -10 10.3 -11.2 11.2 -16 12.2 -14 13.1 -13.8 14.1 -13.5 15.1 -11.7 16 -12.7 17 -11.6 18 -9.7 18.9 -9.2 19.9 -8.3 20.9 -8.2 21.9 -7.6 22.8 -6.7 23.8 -6.9 24.8 -6.4 25.8 -5.2 26.8 -4.5 27.8 -3.9 28.7 -3 29.7 -2.9 30.7 -2.3 31.7 -1 32.7 -0.4 33.7 0.4 34.7 1.7 35.7 2.7 36.7 3.8 37.7 4.6 38.6 5.8 39.6 7.3 40.6 8.7 41.6 9.5 42.6 10 43.6 10.4 44.7 11.2 45.7 11.7 46.7 12.8 47.7 13.8 48.7 14.9 49.7 15.4 50.7 15.8 51.7 16.3 52.8 16.7 53.8 17.2 54.8 17.6 55.8 18.4 56.9 19 57.9 19.6 58.9 20.2 60 20.7 61 21.1 62 21.7 63.1 22.3 64.1 22.9 65.2 23.6 65.1 25.7 2.9 -1.2Z"/><path transform="translate(456.2 69.3)" d="M2.7 -15L3.6 -16.2 4.5 -15.8 5.5 -13.5 6.4 -15.2 7.4 -15.9 8.4 -13.1 9.3 -11.9 10.3 -13.6 11.2 -15.9 12.2 -15.2 13.1 -16.9 14.1 -15.2 15 -13.4 16 -15 17 -13.4 18 -10.4 18.9 -9.9 19.9 -9.3 20.9 -8.6 21.9 -8 22.8 -7.3 23.8 -8.1 24.8 -7.5 25.8 -6.5 26.8 -5.1 27.8 -4.5 28.7 -3.7 29.7 -3.9 30.7 -3.1 31.7 -1.7 32.7 -1.5 33.7 -0.1 34.7 1.3 35.7 2.5 36.7 3.2 37.7 3.9 38.7 5.1 39.7 6.3 40.7 7.5 41.7 8.6 42.7 9 43.7 9.6 44.7 10.5 45.7 11.2 46.7 12.4 47.7 13.5 48.7 14.7 49.7 15.2 50.7 15.7 51.8 16 52.8 16.7 53.8 17.2 54.8 17.6 55.9 18.5 56.9 19.1 57.9 19.7 58.9 20.3 60 20.9 61 21.4 62.1 21.9 63.1 22.5 64.1 23.1 65.2 23.8 65.1 25.7 2.9 -1.2Z"/><path transform="translate(455.3 69.8)" d="M2.7 -12.4L3.6 -14.8 4.5 -17.4 5.5 -14 6.4 -16.5 7.4 -14.5 8.4 -10.9 9.3 -11.3 10.2 -14.2 11.2 -17.1 12.1 -18.2 13.1 -18.6 14.1 -14.6 15 -13.8 16 -14.5 17 -13.7 17.9 -12 18.9 -11 19.9 -9.6 20.9 -8.7 21.9 -8.4 22.8 -7.2 23.8 -7.4 24.8 -7 25.8 -6 26.8 -5 27.8 -4.7 28.7 -4.2 29.7 -4.6 30.7 -3.5 31.7 -2.7 32.7 -2.4 33.7 -0.6 34.7 0.8 35.7 2.5 36.7 3.2 37.7 4.2 38.7 5 39.7 6.1 40.7 7.4 41.7 8.4 42.7 8.7 43.7 9.1 44.7 9.9 45.7 10.8 46.7 11.8 47.7 12.8 48.7 14.1 49.7 14.7 50.8 15.4 51.8 15.7 52.8 16.7 53.8 17.3 54.8 17.9 55.9 18.8 56.9 19.5 57.9 20.1 59 20.6 60 21.2 61 21.6 62.1 22.1 63.1 22.5 64.2 23.1 65.2 23.5 65.1 25.8 2.9 -1.2Z"/><path transform="translate(454.3 70.4)" d="M2.7 -13.2L3.6 -13.3 4.5 -14.6 5.5 -14.1 6.4 -14 7.4 -12.8 8.4 -12 9.3 -13.1 10.2 -14.6 11.2 -16.3 12.1 -17.4 13.1 -19.4 14.1 -14.8 15 -12.2 16 -14.3 17 -14.9 17.9 -11.5 18.9 -9.9 19.9 -8.4 20.9 -7.6 21.9 -6.4 22.8 -6 23.8 -6 24.8 -5.3 25.8 -4.4 26.8 -3.3 27.7 -2.9 28.7 -2.1 29.7 -2.9 30.7 -2.2 31.7 -2.4 32.7 -1.7 33.7 0.4 34.7 1.9 35.7 3.3 36.7 4.1 37.7 5.1 38.7 5.5 39.7 6.1 40.7 7.2 41.7 8.3 42.7 8.6 43.7 9.5 44.7 10.4 45.7 11.5 46.7 12.5 47.7 13.5 48.7 14.6 49.7 15.2 50.8 15.9 51.8 16.3 52.8 17.3 53.8 17.9 54.9 18.5 55.9 19.3 56.9 19.9 57.9 20.6 59 21 60 21.6 61 22 62.1 22.4 63.1 22.8 64.2 23.3 65.2 23.9 65.2 25.9 2.9 -1.2Z"/><path transform="translate(453.4 70.9)" d="M2.6 -15.3L3.6 -16.9 4.5 -18.8 5.5 -15.5 6.4 -14.7 7.4 -14 8.3 -13.3 9.3 -13.3 10.2 -13.7 11.2 -13.1 12.1 -12.8 13.1 -13.7 14.1 -14 15 -13.3 16 -13.1 17 -12.8 17.9 -11.9 18.9 -10.3 19.9 -10 20.9 -8.2 21.8 -6 22.8 -5.8 23.8 -5.8 24.8 -5 25.8 -4 26.8 -3.7 27.7 -2.8 28.7 -2.2 29.7 -2.1 30.7 -1.3 31.7 -1.6 32.7 -0.1 33.7 2.1 34.7 3.4 35.7 4.5 36.7 5.4 37.7 6.4 38.7 6.5 39.7 7 40.7 7.7 41.7 8.6 42.7 8.9 43.7 9.6 44.7 10.7 45.7 11.9 46.7 13 47.7 13.8 48.7 14.8 49.8 15.5 50.8 16.2 51.8 16.6 52.8 17.4 53.8 18.1 54.9 18.9 55.9 19.6 56.9 20.2 57.9 20.8 59 21.3 60 21.7 61.1 22 62.1 22.5 63.2 22.9 64.2 23.5 65.2 24 65.2 26 2.9 -1.2Z"/><path transform="translate(452.4 71.5)" d="M2.7 -14.4L3.6 -15.3 4.5 -17.6 5.4 -17.8 6.4 -17.3 7.4 -12.2 8.3 -11.8 9.3 -12.8 10.2 -12.8 11.2 -15.3 12.1 -14.1 13.1 -11.2 14.1 -12.9 15 -12.3 16 -10.4 17 -10.5 17.9 -11.1 18.9 -10.8 19.9 -10.2 20.9 -8.4 21.8 -7 22.8 -6.9 23.8 -7.4 24.8 -6.4 25.8 -4.4 26.8 -3.5 27.7 -2.6 28.7 -1.5 29.7 -1.3 30.7 -1 31.7 -1.1 32.7 -0.3 33.7 1.4 34.7 2.5 35.7 3.2 36.7 4.2 37.7 4.8 38.7 5.4 39.7 5.9 40.7 6.9 41.7 7.6 42.7 8.1 43.7 9.3 44.7 10.1 45.7 11.4 46.7 12.7 47.7 13.6 48.8 14.7 49.8 15.3 50.8 16.1 51.8 16.8 52.8 17.5 53.9 18.2 54.9 18.9 55.9 19.6 56.9 20.2 58 20.8 59 21.3 60 21.8 61.1 22.1 62.1 22.5 63.2 23.1 64.2 23.7 65.3 24.2 65.2 26 2.9 -1.2Z"/><path transform="translate(451.5 72.0)" d="M2.7 -13.7L3.6 -13.9 4.5 -17.3 5.4 -18.7 6.4 -14.5 7.4 -11.6 8.3 -11 9.3 -11.9 10.2 -13.9 11.1 -17.2 12.1 -15.8 13.1 -11.7 14 -12.9 15 -13.7 16 -12 16.9 -12 17.9 -12.3 18.9 -11.6 19.9 -10.8 20.8 -9.8 21.8 -9.5 22.8 -9.3 23.8 -8.3 24.8 -7.8 25.8 -6.8 26.8 -6.1 27.7 -5.4 28.7 -4.3 29.7 -3.8 30.7 -3.3 31.7 -2.9 32.7 -2 33.7 -0.3 34.7 1.2 35.7 1.6 36.7 2.7 37.7 3.5 38.7 4.3 39.7 5 40.7 5.9 41.7 6.9 42.7 7.7 43.7 8.7 44.7 9.5 45.7 11 46.7 12.3 47.8 13.4 48.8 14.5 49.8 15.2 50.8 16 51.8 16.7 52.9 17.1 53.9 17.8 54.9 18.7 55.9 19.4 57 19.9 58 20.5 59 21.1 60.1 21.6 61.1 22 62.2 22.5 63.2 23.1 64.2 23.7 65.3 24.2 65.2 26.1 2.9 -1.2Z"/><path transform="translate(450.5 72.6)" d="M2.7 -12.6L3.6 -12.8 4.5 -15.6 5.4 -16.9 6.4 -13.1 7.4 -11.9 8.3 -11.2 9.3 -12.6 10.2 -13.3 11.1 -14 12.1 -15.8 13.1 -12.3 14 -14 15 -15 16 -11.7 16.9 -11.9 17.9 -11.8 18.9 -11.3 19.9 -10.2 20.8 -9.7 21.8 -9.9 22.8 -10.1 23.8 -9.9 24.8 -8.8 25.8 -7.7 26.7 -6.4 27.7 -5 28.7 -3.4 29.7 -2.5 30.7 -1.4 31.7 -0.3 32.7 -0.3 33.7 0.6 34.7 1.5 35.7 1.9 36.7 2.6 37.7 3.3 38.7 4.6 39.7 6 40.7 6.9 41.7 7.5 42.7 8.3 43.7 9.1 44.7 10.1 45.8 11.3 46.8 12.3 47.8 13.3 48.8 14.3 49.8 15 50.8 15.8 51.8 16.7 52.9 17.3 53.9 18 54.9 18.8 55.9 19.5 57 20.1 58 20.7 59 21.2 60.1 21.8 61.1 22.2 62.2 22.8 63.2 23.3 64.3 23.8 65.3 24.2 65.3 26.2 2.9 -1.2Z"/><path transform="translate(449.6 73.2)" d="M2.6 -13.8L3.6 -14.7 4.5 -15.8 5.4 -14.6 6.4 -15.5 7.3 -13.2 8.3 -10.7 9.3 -12.2 10.2 -14.6 11.1 -13.3 12.1 -15 13 -14.6 14 -15.3 14.9 -17.9 16 -12.6 16.9 -12.5 17.9 -13.1 18.9 -11.8 19.9 -10.9 20.8 -10.5 21.8 -10.7 22.8 -10.6 23.8 -10.1 24.8 -9.7 25.8 -8.3 26.7 -7.2 27.7 -6.3 28.7 -5.8 29.7 -5.6 30.7 -3.9 31.7 -2.3 32.7 -1.6 33.7 -0.6 34.7 0.6 35.7 1.4 36.7 2.3 37.7 3.2 38.7 4 39.7 5.8 40.7 6.8 41.7 7.5 42.7 8.3 43.7 8.8 44.8 9.8 45.8 11.2 46.8 12.2 47.8 13.3 48.8 14.3 49.8 15.1 50.8 15.8 51.9 16.7 52.9 17.3 53.9 18.1 54.9 19.1 56 19.7 57 20.4 58 20.9 59.1 21.3 60.1 21.9 61.1 22.3 62.2 23 63.2 23.5 64.3 24 65.3 24.4 65.3 26.2 2.9 -1.2Z"/><path transform="translate(448.6 73.7)" d="M2.6 -14.7L3.6 -14 4.5 -14.6 5.4 -15.3 6.3 -19.2 7.3 -15 8.3 -11 9.2 -14.8 10.1 -19.8 11.1 -15.6 12 -16.8 13 -18.3 14 -17.6 14.9 -18.7 15.9 -13.9 16.9 -13.7 17.9 -14.8 18.8 -14 19.8 -12.8 20.8 -13 21.8 -13.4 22.8 -11.8 23.8 -9.6 24.8 -9.8 25.7 -8.6 26.7 -6.9 27.7 -5.2 28.7 -5.3 29.7 -4.5 30.7 -3.4 31.7 -1.8 32.7 -1.7 33.7 -1.9 34.7 -0.2 35.7 0.4 36.7 1.8 37.7 2 38.7 3.2 39.7 5 40.7 6.2 41.7 6.7 42.8 7.3 43.8 8.1 44.8 9 45.8 10.4 46.8 11.2 47.8 12.6 48.8 14 49.8 14.9 50.9 15.5 51.9 16.6 52.9 17.4 53.9 18.2 54.9 19 56 19.7 57 20.4 58 20.9 59.1 21.3 60.1 21.7 61.2 22.2 62.2 22.8 63.3 23.4 64.3 23.9 65.4 24.3 65.3 26.3 2.9 -1.2Z"/><path transform="translate(447.7 74.3)" d="M2.5 -19.1L3.5 -17.2 4.4 -16.7 5.4 -14.8 6.3 -16.6 7.3 -14.9 8.3 -11.7 9.2 -16.7 10.1 -20.7 11.1 -14 12 -15.5 12.9 -22.4 13.9 -20.8 14.9 -19.8 15.9 -15.7 16.9 -15.5 17.8 -16.5 18.8 -15.2 19.8 -14.4 20.8 -14.6 21.8 -15.8 22.8 -14 23.8 -12 24.7 -12.2 25.7 -10.3 26.7 -7.9 27.7 -6 28.7 -6.7 29.7 -6.2 30.7 -4.8 31.7 -3.5 32.7 -3.1 33.7 -3.2 34.7 -1.1 35.7 -0.6 36.7 0.4 37.7 0.7 38.7 1.9 39.7 3.6 40.7 4.6 41.8 5.4 42.8 6.4 43.8 7.6 44.8 8.2 45.8 9.7 46.8 10.8 47.8 12.3 48.8 13.9 49.9 14.7 50.9 15.4 51.9 16.5 52.9 17.2 53.9 17.8 55 18.7 56 19.4 57 20.1 58.1 20.5 59.1 20.9 60.2 21.4 61.2 22 62.2 22.6 63.3 23.2 64.3 23.8 65.4 24.2 65.3 26.4 2.9 -1.2Z"/><path transform="translate(446.7 74.8)" d="M2.5 -19.1L3.5 -16.2 4.5 -14.8 5.4 -13.9 6.3 -18.9 7.2 -19.3 8.3 -12 9.2 -13.6 10.1 -15.3 11.1 -13.4 12 -15.3 12.9 -20.6 13.9 -19.6 14.9 -21.1 15.9 -15.9 16.9 -14.4 17.8 -15.2 18.8 -14.7 19.8 -13.5 20.8 -13.2 21.8 -13.7 22.8 -11.5 23.8 -10.4 24.7 -10.1 25.7 -7.5 26.7 -5.1 27.7 -3.4 28.7 -3.6 29.7 -2.6 30.7 -1.5 31.7 -1 32.7 -0.8 33.7 -0.9 34.7 1 35.7 0.8 36.7 1.4 37.7 2.1 38.7 3.3 39.7 4.8 40.7 5.5 41.8 6.5 42.8 7.7 43.8 8.9 44.8 9.5 45.8 10.9 46.8 11.9 47.8 13.2 48.8 14.6 49.9 15.2 50.9 15.8 51.9 17 52.9 17.5 54 18.1 55 19 56 19.7 57 20.3 58.1 20.9 59.1 21.4 60.2 21.9 61.2 22.5 62.3 23 63.3 23.7 64.3 24.2 65.4 24.6 65.4 26.5 2.9 -1.2Z"/><path transform="translate(445.8 75.4)" d="M2.4 -21.5L3.5 -16.3 4.5 -13 5.4 -12.4 6.3 -16 7.2 -16.4 8.3 -11.5 9.2 -13.8 10 -20.4 11.1 -15.4 12 -14.5 12.9 -21.7 13.9 -19 14.9 -18.6 15.9 -14.5 16.9 -13.2 17.8 -13.7 18.8 -13.8 19.8 -11.8 20.8 -11.2 21.8 -11.5 22.8 -8.6 23.8 -7.3 24.8 -6.8 25.7 -4.8 26.7 -2.8 27.7 -1.7 28.7 -1.7 29.7 -1.1 30.7 -0.1 31.7 0.2 32.7 0.6 33.7 1.1 34.7 2.5 35.7 2.8 36.7 2.8 37.7 3.8 38.7 4.9 39.7 6.3 40.7 6.8 41.8 7.3 42.8 8.9 43.8 10 44.8 10.6 45.8 11.9 46.8 13 47.8 14.1 48.8 15.2 49.9 15.8 50.9 16.6 51.9 17.6 52.9 18.2 54 18.8 55 19.5 56 20.2 57.1 20.7 58.1 21.2 59.1 21.7 60.2 22.2 61.2 22.7 62.3 23.3 63.3 23.9 64.4 24.4 65.4 24.8 65.4 26.5 2.9 -1.2Z"/><path transform="translate(444.8 76.0)" d="M2.5 -17.6L3.5 -13.7 4.5 -12.2 5.4 -12.3 6.3 -15.1 7.2 -18.1 8.2 -12.8 9.2 -14.5 9.9 -24.1 11 -15.9 12 -13.7 12.9 -17.8 13.9 -16.6 14.9 -14.9 15.9 -12.8 16.9 -13.5 17.8 -14 18.8 -14.2 19.8 -12.5 20.8 -11.5 21.8 -11.4 22.8 -8.3 23.8 -6.6 24.8 -5.5 25.7 -4.1 26.7 -2.5 27.7 -1.5 28.7 -0.8 29.7 0.1 30.7 0.3 31.7 0.8 32.7 1.5 33.7 1.8 34.7 3 35.7 3.1 36.7 4.1 37.7 5 38.7 6.2 39.7 7.1 40.7 7.5 41.8 8 42.8 9.2 43.8 10.4 44.8 11 45.8 12.2 46.8 13.4 47.8 14.4 48.9 15.4 49.9 15.9 50.9 16.6 51.9 17.6 52.9 18.2 54 18.8 55 19.6 56 20.3 57.1 20.8 58.1 21.3 59.2 21.7 60.2 22.2 61.2 22.8 62.3 23.3 63.3 24 64.4 24.5 65.4 25 65.4 26.6 2.9 -1.2Z"/><path transform="translate(443.8 76.5)" d="M2.4 -22.3L3.5 -15.6 4.5 -12.4 5.4 -12.1 6.3 -13.8 7.1 -21.2 8.2 -13.2 9.2 -12.4 10 -18.6 11 -17.1 12 -18.4 12.9 -21.8 13.9 -19.3 14.9 -16.8 15.9 -14 16.8 -15.2 17.8 -16.7 18.8 -16.4 19.8 -15.2 20.7 -13.9 21.7 -12.6 22.7 -10.1 23.7 -8.2 24.7 -7.4 25.7 -6.3 26.7 -5.1 27.7 -4.4 28.7 -3.4 29.7 -2.9 30.7 -2.3 31.7 -2.2 32.7 -1.5 33.7 -0.6 34.7 0.5 35.7 0.9 36.7 2.5 37.7 4.2 38.7 5.4 39.7 6.5 40.8 6.9 41.8 7.1 42.8 8.1 43.8 8.9 44.8 9.6 45.8 11 46.8 12.4 47.9 13.7 48.9 14.8 49.9 15.3 50.9 16.2 51.9 17.1 53 17.8 54 18.5 55 19.2 56.1 20 57.1 20.6 58.1 21 59.2 21.4 60.2 21.9 61.3 22.4 62.3 23 63.4 23.7 64.4 24.3 65.5 24.9 65.4 26.7 2.9 -1.2Z"/><path transform="translate(442.9 77.1)" d="M2.3 -22.7L3.4 -17 4.4 -14.7 5.4 -13.4 6.3 -14.8 6.9 -31.7 8.1 -16.7 9.2 -13 10 -21 11 -19.1 11.9 -22.3 12.8 -21.9 13.9 -18.4 14.8 -20.4 15.8 -15.8 16.8 -16.9 17.7 -19.9 18.7 -19.6 19.7 -16.1 20.7 -14.2 21.7 -13.7 22.7 -11.2 23.7 -8.2 24.7 -7.7 25.7 -6.4 26.7 -5.4 27.7 -4.8 28.7 -3.5 29.7 -3.1 30.7 -3.2 31.7 -3.3 32.7 -2.3 33.7 -1.7 34.7 -0.4 35.7 -0.2 36.7 2.1 37.7 3.8 38.7 4.8 39.7 5.9 40.8 6.8 41.8 7.7 42.8 8.5 43.8 9.2 44.8 10 45.8 11.4 46.8 12.7 47.9 14 48.9 15 49.9 15.6 50.9 16.4 52 17.4 53 17.9 54 18.5 55 19.3 56.1 20.1 57.1 20.7 58.2 21.1 59.2 21.5 60.2 22.1 61.3 22.7 62.3 23.3 63.4 23.9 64.4 24.6 65.5 25.2 65.4 26.7 2.9 -1.2Z"/><path transform="translate(441.9 77.7)" d="M2.1 -30L3.2 -23.2 4.3 -17.9 5.3 -14.5 6.3 -14.7 7 -24.2 8.1 -17.5 9.1 -14.5 10 -20.8 11 -17.9 11.9 -17.8 12.8 -21.3 13.9 -17.9 14.8 -17.4 15.8 -15 16.8 -15.3 17.8 -16.7 18.8 -13.9 19.8 -12.3 20.7 -12.1 21.7 -11.2 22.7 -10.6 23.7 -7.4 24.7 -6.6 25.7 -4.9 26.7 -4.3 27.7 -3.5 28.7 -2.4 29.7 -2.2 30.7 -1.6 31.7 -2.3 32.7 -1.2 33.7 -0.8 34.7 0.4 35.7 0.7 36.7 2.8 37.7 4.2 38.7 5.6 39.8 6.6 40.8 7.3 41.8 8.5 42.8 9.3 43.8 10.2 44.8 11.2 45.8 12.4 46.9 13.5 47.9 14.6 48.9 15.6 49.9 16.4 50.9 17.1 52 17.9 53 18.5 54 19 55.1 19.7 56.1 20.4 57.1 21 58.2 21.4 59.2 21.9 60.3 22.4 61.3 23 62.3 23.6 63.4 24.1 64.4 24.7 65.5 25.4 65.5 26.8 2.9 -1.2Z"/><path transform="translate(440.9 78.3)" d="M2.4 -20.8L3.4 -18.4 4.3 -17.5 5.3 -15.5 6.2 -16.4 6.8 -33.9 8 -22.2 9.1 -14.5 10 -16.8 11 -17 11.9 -19.2 12.9 -16.5 13.9 -15.7 14.8 -17.8 15.8 -17.2 16.8 -17.6 17.7 -16.8 18.7 -15.9 19.7 -15.1 20.7 -14.9 21.7 -12.2 22.7 -12.3 23.7 -11 24.7 -9.2 25.7 -6.7 26.7 -5.7 27.7 -4.8 28.7 -3.4 29.7 -2.8 30.7 -2.2 31.7 -2.5 32.7 -1 33.7 -0.6 34.7 0.5 35.7 1 36.7 3 37.7 4 38.7 5.3 39.8 6.5 40.8 7.3 41.8 8.6 42.8 9.4 43.8 10.5 44.8 11.3 45.8 12.4 46.9 13.4 47.9 14.5 48.9 15.3 49.9 16.2 51 17 52 17.9 53 18.5 54 19.1 55.1 19.8 56.1 20.4 57.1 21.1 58.2 21.5 59.2 22.1 60.3 22.6 61.3 23.1 62.4 23.5 63.4 24 64.5 24.6 65.5 25.1 65.5 26.9 2.9 -1.2Z"/><path transform="translate(440.0 78.8)" d="M2.4 -18.3L3.4 -17.5 4.2 -21.9 5.2 -19.1 6.2 -17.4 6.8 -34 8 -19.7 9.1 -13.3 10 -16.4 10.9 -19 11.8 -24 12.9 -18.8 13.9 -16.9 14.7 -23.8 15.7 -24.2 16.7 -17.2 17.7 -16.4 18.7 -17.9 19.7 -15.9 20.7 -17.1 21.7 -14.2 22.7 -12.9 23.7 -11.1 24.7 -9.7 25.7 -8.4 26.7 -7.4 27.7 -6.8 28.7 -5.6 29.7 -5.1 30.7 -4 31.7 -3.8 32.7 -2.3 33.7 -1.6 34.7 -0.9 35.7 0.6 36.7 2.7 37.7 3.8 38.8 5.1 39.8 6.6 40.8 7.5 41.8 8.3 42.8 9.1 43.8 10 44.8 10.9 45.9 11.9 46.9 12.8 47.9 14.1 48.9 14.8 49.9 15.8 51 16.6 52 17.5 53 18.4 54.1 19.1 55.1 19.9 56.1 20.4 57.2 21.1 58.2 21.7 59.2 22.2 60.3 22.5 61.3 22.9 62.4 23.3 63.4 23.8 64.5 24.3 65.6 24.8 65.5 27 2.9 -1.2Z"/><path transform="translate(439.0 79.4)" d="M2.5 -14.3L3.4 -15.9 4.2 -21.9 5.1 -20.8 6.1 -20.4 6.7 -33.8 8 -19.3 9.1 -14.8 10 -18.6 11 -16.1 11.9 -16.3 12.9 -16.2 13.8 -17.1 14.7 -24.1 15.6 -26.7 16.7 -17.8 17.7 -17.2 18.7 -19.2 19.7 -13.8 20.7 -13.6 21.7 -12.7 22.7 -12.1 23.7 -11 24.7 -9.1 25.7 -8.7 26.7 -7.9 27.7 -7.1 28.7 -6.9 29.7 -6.4 30.7 -5.6 31.7 -4.5 32.7 -2.9 33.7 -1.8 34.7 -0.8 35.7 0.8 36.7 2.9 37.7 4.2 38.8 5.2 39.8 6.2 40.8 7 41.8 8 42.8 8.8 43.8 9.7 44.8 10.9 45.9 12 46.9 12.9 47.9 14.2 48.9 14.9 50 16 51 16.9 52 17.7 53 18.5 54.1 19.3 55.1 20 56.1 20.5 57.2 21.2 58.2 21.7 59.3 22.3 60.3 22.7 61.4 23.1 62.4 23.4 63.5 23.9 64.5 24.4 65.6 24.9 65.5 27 2.9 -1.2Z"/><path transform="translate(438.0 80.0)" d="M2.5 -12.3L3.5 -13.2 4.3 -16.5 5.2 -16.7 6.1 -19.6 6.9 -27.5 8.1 -16.9 9.1 -12.6 10.1 -13.4 11 -13.6 12 -12.3 13 -11 13.9 -12.2 14.8 -15.5 15.7 -18.5 16.8 -14.4 17.8 -13 18.7 -14.2 19.7 -12.4 20.7 -12.3 21.7 -12.2 22.7 -11.9 23.7 -10 24.7 -7.6 25.7 -6.9 26.7 -6.9 27.7 -6 28.7 -5.8 29.7 -5.4 30.7 -4.8 31.7 -3.8 32.7 -2 33.7 -0.6 34.7 -0.2 35.7 0.9 36.7 3.1 37.7 4.3 38.8 5.5 39.8 6.4 40.8 7.7 41.8 8.8 42.8 9.7 43.8 10.8 44.9 11.9 45.9 12.7 46.9 13.6 47.9 14.9 48.9 15.7 50 16.6 51 17.4 52 18.1 53.1 18.8 54.1 19.5 55.1 20.2 56.2 20.7 57.2 21.3 58.2 21.9 59.3 22.4 60.3 22.8 61.4 23.3 62.4 23.7 63.5 24.2 64.5 24.7 65.6 25.2 65.6 27.1 2.9 -1.2Z"/><path transform="translate(437.0 80.6)" d="M2.6 -11.8L3.5 -12.4 4.3 -15.4 5.3 -15 6.1 -19.2 6.8 -29.8 8.1 -15.8 9.1 -14 10 -14.5 11 -13.4 11.9 -14.2 13 -11.4 13.9 -11.6 14.8 -15.4 15.7 -18.3 16.7 -15.1 17.8 -13 18.7 -16 19.7 -14.1 20.7 -13.6 21.6 -14.5 22.6 -13.4 23.7 -11.5 24.7 -8.8 25.7 -7.5 26.7 -7.2 27.7 -5.7 28.7 -5.6 29.7 -5.2 30.7 -4.8 31.7 -3.5 32.7 -2 33.7 -0.9 34.7 -0.6 35.7 0.1 36.7 2.3 37.7 3.7 38.8 4.9 39.8 6.1 40.8 7.6 41.8 9.1 42.8 10.2 43.8 11.2 44.9 12.2 45.9 13.2 46.9 14 47.9 15 48.9 15.9 50 16.6 51 17.4 52 18.1 53.1 18.7 54.1 19.4 55.1 20.1 56.2 20.7 57.2 21.3 58.3 21.9 59.3 22.5 60.3 22.8 61.4 23.4 62.4 23.8 63.5 24.3 64.6 24.9 65.6 25.4 65.6 27.2 2.9 -1.2Z"/><path transform="translate(436.0 81.1)" d="M2.5 -12.2L3.4 -13.4 4.3 -16 5.3 -15.4 6.1 -18.2 6.9 -22.6 8 -19 9 -15.2 10 -14 11 -14.6 11.9 -15.2 12.9 -12.6 13.9 -12.2 14.8 -14.6 15.7 -17.7 16.7 -17.1 17.7 -14.8 18.7 -16.4 19.7 -15.5 20.6 -15.3 21.6 -17.7 22.6 -15.5 23.6 -12.7 24.6 -10.1 25.7 -8 26.7 -6.6 27.7 -4.8 28.7 -5.4 29.7 -4.9 30.7 -4.5 31.7 -3.5 32.7 -2.7 33.7 -2 34.7 -1.3 35.7 -0.7 36.7 1.2 37.7 2.4 38.8 4.1 39.8 5.6 40.8 6.9 41.8 8.4 42.8 9.7 43.9 11.1 44.9 12 45.9 12.9 46.9 13.9 47.9 15 49 15.9 50 16.5 51 17.2 52 17.9 53.1 18.4 54.1 19.1 55.2 19.8 56.2 20.4 57.2 21 58.3 21.6 59.3 22.3 60.4 22.6 61.4 23.1 62.5 23.7 63.5 24.3 64.6 24.8 65.6 25.4 65.6 27.3 2.9 -1.2Z"/><path transform="translate(435.1 81.7)" d="M2.5 -11.4L3.4 -13.3 4.3 -14.7 5.3 -13.4 6.2 -14.2 7.1 -16.6 8 -17.7 9 -17 10 -13.9 11 -14.7 11.9 -15.2 12.9 -13.6 13.8 -14.4 14.8 -15.7 15.7 -16.9 16.7 -17.1 17.7 -16.2 18.6 -17.2 19.6 -16.8 20.6 -15.6 21.6 -15.7 22.6 -14.8 23.6 -11.9 24.6 -9.5 25.7 -7.6 26.7 -6.7 27.7 -4.5 28.7 -3.8 29.7 -3.9 30.7 -3.2 31.7 -2.2 32.7 -1.1 33.7 -0.4 34.7 0.3 35.7 1.1 36.7 2.5 37.7 3.4 38.8 4.4 39.8 5.7 40.8 6.3 41.8 7.6 42.8 9.1 43.9 10.6 44.9 11.6 45.9 13 46.9 14.2 47.9 15.4 49 16.4 50 16.9 51 17.6 52.1 18.2 53.1 18.6 54.1 19.3 55.2 20 56.2 20.6 57.2 21.1 58.3 21.6 59.3 22.2 60.4 22.5 61.4 23.1 62.5 23.6 63.5 24.3 64.6 24.9 65.6 25.5 65.6 27.3 2.9 -1.2Z"/><path transform="translate(434.1 82.3)" d="M2.5 -14.1L3.3 -18.2 4.3 -16.1 5.3 -12.5 6.3 -12.3 7.2 -14.1 8.1 -15.6 9 -15.4 10 -12.7 11 -13.3 11.9 -14.3 12.9 -12.2 13.9 -12.2 14.8 -13 15.7 -15.3 16.7 -17.3 17.7 -15.8 18.7 -15 19.6 -14.9 20.6 -14.7 21.6 -15.4 22.6 -13.2 23.6 -10.6 24.6 -9.2 25.7 -6.9 26.7 -6.1 27.7 -4.2 28.7 -2.8 29.7 -2.6 30.7 -1.6 31.7 -0.4 32.7 0.8 33.7 1.7 34.7 2.7 35.7 3.2 36.7 4.5 37.8 5.1 38.8 5.8 39.8 7.3 40.8 7.6 41.8 8.4 42.8 9.5 43.9 10.8 44.9 11.7 45.9 12.9 46.9 14.2 48 15.5 49 16.7 50 17.1 51 17.8 52.1 18.4 53.1 18.9 54.1 19.5 55.2 20.2 56.2 20.8 57.3 21.5 58.3 22.1 59.4 22.6 60.4 23 61.5 23.5 62.5 24 63.6 24.6 64.6 25.1 65.7 25.7 65.6 27.4 2.9 -1.2Z"/><path transform="translate(433.1 82.9)" d="M2.5 -13.7L3.3 -17.7 4.3 -15.2 5.3 -13.3 6.2 -15 7.1 -16.9 8 -18.1 8.9 -17.6 10 -13.5 11 -13.3 11.9 -14.3 12.9 -12.6 13.8 -13.2 14.8 -13.4 15.7 -14.4 16.7 -15.3 17.7 -14.2 18.7 -13.9 19.7 -12.4 20.7 -11.6 21.6 -11.8 22.6 -10.3 23.7 -8.7 24.7 -7.5 25.7 -5.3 26.7 -4.8 27.7 -3.4 28.7 -1.7 29.7 -0.7 30.7 0.9 31.7 2.1 32.7 3.5 33.7 4.4 34.7 4.7 35.7 4.9 36.8 6.1 37.8 6.8 38.8 7.4 39.8 8.8 40.8 8.9 41.8 9.7 42.9 10.4 43.9 11.3 44.9 12.4 45.9 13.6 46.9 14.8 48 16 49 17.1 50 17.7 51.1 18.3 52.1 18.8 53.1 19.4 54.2 20.1 55.2 20.7 56.2 21.3 57.3 22 58.3 22.5 59.4 23 60.4 23.5 61.5 24 62.5 24.5 63.6 25.1 64.6 25.6 65.7 26.2 65.7 27.5 2.9 -1.2Z"/><path transform="translate(432.1 83.5)" d="M2.5 -11.4L3.4 -13.7 4.3 -13.3 5.3 -11.6 6.2 -12.8 7 -17.4 8 -17.5 9 -15.3 10 -13.3 10.9 -13.6 11.9 -13.7 12.9 -13.2 13.8 -14.8 14.8 -14.8 15.7 -14.6 16.7 -14.6 17.7 -14.3 18.6 -15.2 19.7 -12.8 20.7 -11.1 21.6 -11.1 22.6 -10 23.6 -9.3 24.6 -8.5 25.7 -6.1 26.7 -4.7 27.7 -4 28.7 -2.9 29.7 -1.5 30.7 0.2 31.7 1.8 32.7 2.8 33.7 3.7 34.7 3.8 35.7 3.7 36.8 4.8 37.8 5.5 38.8 6.6 39.8 8.2 40.8 8.7 41.8 9.6 42.9 10.6 43.9 11.3 44.9 12.4 45.9 13.4 47 14.4 48 15.8 49 16.9 50 17.7 51.1 18.3 52.1 18.8 53.1 19.4 54.2 20.2 55.2 20.7 56.2 21.4 57.3 22.1 58.3 22.7 59.4 23.1 60.4 23.6 61.5 24.2 62.5 24.7 63.6 25.2 64.6 25.7 65.7 26.3 65.7 27.6 2.9 -1.2Z"/><path transform="translate(431.1 84.1)" d="M2.5 -11.3L3.3 -14.7 4.2 -18 5.3 -11.9 6.2 -12.4 6.9 -20.9 8 -16.3 9 -14.2 10 -13.7 10.9 -13.9 11.9 -14.7 12.8 -15 13.7 -16.4 14.7 -16.5 15.7 -16.6 16.6 -17.1 17.6 -17.5 18.6 -16.6 19.7 -12.3 20.7 -10.9 21.6 -11.9 22.6 -9.9 23.6 -8.8 24.6 -7.9 25.7 -6 26.7 -5.2 27.6 -5.3 28.7 -3.9 29.7 -2.8 30.7 -0.9 31.7 1.1 32.7 2.2 33.7 3.4 34.7 3.4 35.7 4 36.8 4.6 37.8 5.1 38.8 5.8 39.8 7.2 40.8 8.2 41.8 9 42.9 10.2 43.9 10.9 44.9 12.2 45.9 13.3 47 14.4 48 15.6 49 16.8 50 17.6 51.1 18.1 52.1 18.6 53.2 19.2 54.2 20 55.2 20.6 56.3 21.2 57.3 21.9 58.4 22.4 59.4 22.9 60.5 23.4 61.5 24 62.6 24.6 63.6 25.1 64.7 25.7 65.7 26.3 65.7 27.6 2.9 -1.2Z"/><path transform="translate(430.1 84.6)" d="M2.5 -11.1L3.4 -12.6 4.2 -17.2 5.3 -11.8 6.2 -11.8 7 -17.7 8 -16.9 9 -13.3 10 -12.7 10.9 -13.6 11.8 -15.7 12.8 -15.3 13.8 -14.4 14.8 -13.8 15.6 -17 16.6 -18.5 17.5 -19.6 18.5 -19 19.6 -12.7 20.7 -10.4 21.6 -11.9 22.6 -10 23.6 -8.2 24.6 -7.9 25.7 -5.7 26.7 -4.6 27.7 -4.2 28.7 -3.1 29.7 -1.9 30.7 -0.4 31.7 1.7 32.7 2.5 33.7 4.1 34.7 4.6 35.8 5.5 36.8 6 37.8 6.2 38.8 7 39.8 7.9 40.8 9.2 41.9 9.9 42.9 11.2 43.9 11.7 44.9 12.7 45.9 13.5 47 14.5 48 15.7 49 16.9 50.1 17.7 51.1 18.3 52.1 18.9 53.2 19.4 54.2 20.2 55.2 20.8 56.3 21.4 57.3 22 58.4 22.5 59.4 23 60.5 23.6 61.5 24.1 62.6 24.7 63.6 25.2 64.7 25.8 65.7 26.4 65.7 27.7 2.9 -1.2Z"/><path transform="translate(429.1 85.2)" d="M2.5 -11.5L3.4 -11.3 4.2 -16.9 5.2 -13.7 6.2 -12.4 7 -16.4 8 -16.3 9 -14.2 10 -12.2 10.9 -12.4 11.8 -14.8 12.8 -15.7 13.8 -14.7 14.7 -13.6 15.6 -17.6 16.6 -17.1 17.5 -20.6 18.3 -26 19.6 -14.3 20.6 -10.9 21.6 -12.5 22.6 -10.3 23.7 -7.1 24.7 -6.1 25.7 -5.6 26.7 -4.9 27.7 -3 28.7 -2.3 29.7 -1 30.7 0.1 31.7 1.8 32.7 2.6 33.7 3.8 34.7 4.7 35.8 5.8 36.8 6.8 37.8 6.8 38.8 7.8 39.8 8.7 40.8 9.9 41.9 10.7 42.9 11.7 43.9 12.5 44.9 13.3 46 14.2 47 15.2 48 16.3 49 17.3 50.1 18.1 51.1 18.7 52.1 19.2 53.2 19.8 54.2 20.4 55.3 21.1 56.3 21.6 57.3 22.2 58.4 22.7 59.4 23.2 60.5 23.8 61.5 24.3 62.6 24.9 63.6 25.4 64.7 26 65.8 26.6 65.7 27.8 2.9 -1.2Z"/><path transform="translate(428.1 85.8)" d="M2.5 -11L3.4 -11 4.1 -19.9 5.2 -14.9 6.2 -11 7 -15.5 8 -13.7 9 -13.1 10 -11.9 11 -10.7 11.9 -13.4 12.8 -13.9 13.9 -10.4 14.8 -9.6 15.7 -12.2 16.7 -13.6 17.6 -14.8 18.4 -22 19.6 -13.6 20.6 -11.4 21.5 -14.4 22.6 -10.8 23.6 -7.2 24.7 -6.1 25.6 -5.6 26.7 -3.9 27.7 -2.4 28.7 -1.1 29.7 0.4 30.7 1.3 31.7 2.4 32.7 3.5 33.8 4.9 34.8 5.6 35.8 6.8 36.8 7.6 37.8 7.9 38.8 8.7 39.8 9.4 40.9 10.3 41.9 10.9 42.9 12 43.9 12.8 44.9 13.7 46 14.4 47 15.6 48 16.8 49.1 17.6 50.1 18.4 51.1 19 52.2 19.5 53.2 20.1 54.2 20.6 55.3 21.3 56.3 21.8 57.4 22.4 58.4 22.9 59.5 23.3 60.5 23.9 61.6 24.4 62.6 25.1 63.7 25.6 64.7 26.1 65.8 26.7 65.8 27.9 2.9 -1.2Z"/><path transform="translate(427.1 86.4)" d="M2.5 -11.3L3.4 -11 4.2 -16.5 5.2 -14.5 6.3 -10.4 7.1 -12.6 8.1 -11.8 9 -12.9 10 -12.6 11 -10.6 11.8 -14.5 12.7 -16.4 13.8 -11.4 14.8 -9.7 15.7 -12.4 16.6 -15.5 17.6 -16.3 18.4 -20.2 19.6 -12.4 20.6 -11.7 21.5 -15.8 22.5 -13 23.6 -9.3 24.6 -7.7 25.6 -7.2 26.6 -6.1 27.6 -4 28.7 -2.8 29.7 -1.9 30.7 -0.9 31.7 0.2 32.7 1.2 33.7 2.6 34.7 3 35.8 4.5 36.8 5.4 37.8 6.1 38.8 7 39.8 7.9 40.8 9.2 41.9 10.2 42.9 11.3 43.9 12.2 44.9 13.3 46 14.1 47 15.3 48 16.4 49.1 17.2 50.1 18.1 51.1 18.7 52.2 19.2 53.2 19.9 54.2 20.4 55.3 21.1 56.3 21.6 57.4 22.3 58.4 22.8 59.5 23.2 60.5 23.7 61.6 24.4 62.6 25.1 63.7 25.6 64.7 26.3 65.8 26.8 65.8 27.9 2.9 -1.2Z"/><path transform="translate(426.1 87.0)" d="M2.4 -12.9L3.4 -11.1 4.2 -13.7 5.2 -14.7 6.2 -10.6 7.2 -10.8 8.1 -10.8 8.9 -14.8 9.9 -15.1 10.9 -11.7 11.8 -13.4 12.7 -17.7 13.7 -14.3 14.8 -10.1 15.7 -12.3 16.6 -13.7 17.6 -13.5 18.5 -18.3 19.5 -14.4 20.6 -12.6 21.5 -13.1 22.5 -12.3 23.6 -9.4 24.6 -7.4 25.6 -7.4 26.6 -5.5 27.6 -3.9 28.7 -2.8 29.7 -1.8 30.7 -1.3 31.7 -0.5 32.7 1 33.7 2.7 34.7 3 35.8 4.6 36.8 5.5 37.8 6.5 38.8 7.3 39.8 8 40.9 9 41.9 10.1 42.9 11.2 43.9 11.9 45 13.3 46 14.2 47 15.6 48 16.7 49.1 17.6 50.1 18.4 51.1 19 52.2 19.5 53.2 20.2 54.3 20.7 55.3 21.4 56.3 21.8 57.4 22.3 58.4 22.8 59.5 23.3 60.5 23.7 61.6 24.4 62.6 25.1 63.7 25.7 64.8 26.3 65.8 26.9 65.8 28 2.9 -1.2Z"/><path transform="translate(425.1 87.6)" d="M2.3 -14.3L3.3 -12.6 4.2 -16 5.1 -16.8 6.2 -12.6 7.1 -12.6 8.1 -10.6 8.9 -16.5 9.7 -18.7 10.9 -11.4 11.8 -14.4 12.7 -16.1 13.8 -12 14.8 -10.9 15.7 -13.8 16.6 -14.4 17.6 -15 18.5 -16.1 19.6 -12.3 20.5 -13.9 21.5 -15 22.5 -12.8 23.6 -9.5 24.6 -7.9 25.6 -7.6 26.6 -6 27.6 -5.5 28.6 -4.7 29.6 -3.9 30.6 -2.8 31.7 -1.7 32.7 -0.3 33.7 1.3 34.7 2.2 35.7 3.6 36.8 4.7 37.8 5.7 38.8 7.1 39.8 8 40.9 9.3 41.9 10.7 42.9 11.5 43.9 12.4 45 13.5 46 14.3 47 15.5 48.1 16.5 49.1 17.6 50.1 18.5 51.2 19 52.2 19.6 53.2 20.2 54.3 20.7 55.3 21.3 56.4 21.8 57.4 22.3 58.5 22.9 59.5 23.4 60.6 23.8 61.6 24.4 62.7 25.1 63.7 25.7 64.8 26.3 65.8 26.8 65.8 28.1 2.8 -1.2Z"/><path transform="translate(424.0 88.2)" d="M2.2 -17.3L3.1 -17.3 4.1 -18.2 5.1 -16.4 6.1 -13.4 7 -14.9 8 -12.2 8.8 -17.9 9.8 -17.8 10.9 -12.6 11.8 -14.6 12.8 -11.5 13.8 -11 14.8 -10.7 15.7 -12.5 16.6 -13.3 17.6 -14.6 18.5 -14.6 19.6 -12 20.5 -14 21.5 -14.4 22.5 -13.6 23.5 -10.6 24.6 -9.2 25.5 -9.3 26.6 -7.3 27.6 -6.6 28.6 -5.8 29.6 -4.4 30.6 -3.4 31.6 -2.7 32.7 -0.9 33.7 0.4 34.7 1.7 35.7 3.8 36.8 4.8 37.8 6.2 38.8 7.4 39.8 8.2 40.9 9.3 41.9 10.5 42.9 11.3 43.9 12.4 45 13.3 46 14.2 47 15.6 48.1 16.4 49.1 17.5 50.1 18.4 51.2 19 52.2 19.4 53.2 20 54.3 20.5 55.3 21.1 56.4 21.7 57.4 22.1 58.5 22.7 59.5 23.3 60.6 23.7 61.6 24.3 62.7 24.9 63.7 25.6 64.8 26.2 65.9 26.7 65.8 28.2 2.8 -1.2Z"/><path transform="translate(423.0 88.8)" d="M1.9 -23.8L2.9 -23.5 4.1 -16.7 5.1 -14.3 6.1 -13.2 7.1 -12 8 -13.4 8.6 -22.6 9.8 -17.3 10.8 -14.1 11.8 -14.4 12.8 -11.6 13.7 -12.6 14.7 -12.8 15.6 -13.2 16.6 -13.9 17.5 -16.3 18.5 -15.8 19.5 -13.3 20.5 -15 21.4 -15.5 22.4 -15.2 23.5 -12.3 24.5 -10.2 25.5 -10.7 26.5 -9.3 27.5 -7.6 28.6 -6.6 29.6 -5.3 30.6 -3.9 31.6 -3.3 32.7 -1 33.7 -0.1 34.7 0.9 35.7 2.7 36.8 3.8 37.8 5.1 38.8 6.6 39.8 7.8 40.9 8.8 41.9 10.3 42.9 11.1 44 12.5 45 13.1 46 14 47 15.2 48.1 15.9 49.1 17 50.1 17.8 51.2 18.4 52.2 18.9 53.3 19.5 54.3 20.1 55.3 20.8 56.4 21.4 57.4 21.8 58.5 22.6 59.5 23 60.6 23.4 61.6 24.1 62.7 24.7 63.8 25.4 64.8 26 65.9 26.6 65.9 28.3 2.8 -1.2Z"/><path transform="translate(422.0 89.4)" d="M2.2 -17.1L3.1 -18.4 4.2 -14.8 5.1 -15.4 6 -16.3 7 -14.3 7.8 -18.3 8.6 -22.1 9.8 -15.9 10.8 -15.5 11.7 -15 12.8 -12.2 13.8 -11.3 14.7 -12.2 15.6 -14.4 16.6 -13.2 17.6 -13.8 18.5 -14.2 19.5 -12.5 20.5 -12.3 21.5 -13.4 22.5 -12.8 23.5 -10.4 24.5 -8.8 25.5 -9.1 26.5 -7.7 27.6 -6.2 28.6 -5.6 29.6 -4.5 30.6 -4.6 31.6 -3.3 32.6 -1.6 33.7 -0.9 34.7 -0.1 35.7 1.7 36.8 3.7 37.8 5.1 38.8 6.7 39.8 7.9 40.9 9 41.9 10 42.9 10.6 44 12 45 12.6 46 13.7 47 14.7 48.1 15.6 49.1 16.8 50.2 17.7 51.2 18.4 52.2 19 53.3 19.6 54.3 20.3 55.4 21.1 56.4 21.7 57.5 22.1 58.5 22.7 59.6 23.2 60.6 23.6 61.7 24.3 62.7 24.9 63.8 25.6 64.8 26.2 65.9 26.8 65.9 28.3 2.8 -1.2Z"/><path transform="translate(421.0 90.0)" d="M2.3 -13.5L3.2 -15.4 4.1 -15.2 5.1 -15.6 6.1 -12.7 7 -13.1 7.8 -17.1 8.8 -15.4 9.9 -13.3 10.7 -16.8 11.6 -17.5 12.8 -10.4 13.8 -9.1 14.7 -11.8 15.6 -13.4 16.7 -10.7 17.6 -11 18.6 -10.2 19.6 -9.1 20.6 -8.7 21.6 -9.9 22.5 -9.4 23.6 -7.4 24.6 -5.6 25.6 -5.1 26.6 -3.6 27.6 -2.5 28.7 -1.7 29.6 -1.6 30.6 -2.1 31.7 -1 32.7 0.1 33.7 1 34.7 1.7 35.7 3 36.8 4.8 37.8 6.3 38.8 7.5 39.8 8.3 40.9 9.4 41.9 10.8 42.9 11.3 44 12.5 45 13.4 46 14.3 47.1 15.3 48.1 16 49.1 17.1 50.2 17.9 51.2 18.5 52.2 19.2 53.3 19.9 54.3 20.5 55.4 21.3 56.4 21.9 57.5 22.4 58.5 23.1 59.6 23.5 60.6 24 61.7 24.6 62.7 25.2 63.8 25.8 64.9 26.4 65.9 27 65.9 28.4 2.8 -1.2Z"/><path transform="translate(420.0 90.6)" d="M2.5 -9.4L3.4 -10.1 4.3 -11.4 5.1 -14.5 6.1 -13.2 7 -13.1 7.8 -18.2 8.9 -13.5 9.9 -11.2 10.7 -14.9 11.7 -15.9 12.8 -10.5 13.8 -9.5 14.7 -10.7 15.7 -10.4 16.7 -10.5 17.6 -11.1 18.6 -10.9 19.6 -9.3 20.6 -7.9 21.6 -7.9 22.6 -7.9 23.6 -7.2 24.6 -4.8 25.6 -4.1 26.6 -2.9 27.6 -2.1 28.7 -1.5 29.6 -1.4 30.6 -2 31.6 -1.1 32.7 0.1 33.7 1 34.7 1.9 35.7 3.3 36.8 4.9 37.8 6.6 38.8 7.6 39.9 8.6 40.9 10.1 41.9 11.3 42.9 12.1 44 12.9 45 13.8 46 14.9 47.1 15.7 48.1 16.4 49.1 17.5 50.2 18.3 51.2 18.9 52.3 19.5 53.3 20.1 54.3 20.8 55.4 21.4 56.4 22.1 57.5 22.5 58.5 23.3 59.6 23.8 60.6 24.2 61.7 24.8 62.8 25.4 63.8 25.9 64.9 26.5 65.9 27 65.9 28.5 2.8 -1.2Z"/><path transform="translate(418.9 91.2)" d="M2.6 -7.5L3.5 -7.5 4.3 -10 4.9 -17.6 6 -15.6 7 -12.2 7.9 -14 9 -10.9 10 -10 10.8 -13.2 11.6 -17.5 12.7 -12.4 13.8 -9.8 14.7 -10.3 15.7 -10.7 16.6 -12.4 17.5 -13.4 18.5 -13.4 19.6 -9.9 20.6 -8.8 21.6 -8.4 22.5 -8.7 23.5 -10.3 24.6 -6.5 25.6 -6.1 26.6 -4 27.6 -3.4 28.6 -2.6 29.6 -2.3 30.6 -2.6 31.6 -1.7 32.7 0 33.7 0.6 34.7 1.4 35.7 2.6 36.7 3.6 37.8 5.5 38.8 6.3 39.8 7.7 40.9 9.6 41.9 11.2 43 12 44 12.8 45 13.9 46.1 15.1 47.1 15.8 48.1 16.3 49.2 17.5 50.2 18.3 51.2 18.9 52.3 19.3 53.3 20 54.4 20.6 55.4 21.3 56.4 21.9 57.5 22.4 58.5 23.2 59.6 23.6 60.7 24.1 61.7 24.6 62.8 25.3 63.8 25.8 64.9 26.3 66 26.8 66 28.6 2.8 -1.2Z"/></g></g><path fill="url(#fwc)" d="M421.5 83.7L422.4 83.7 423.2 81.2 423.9 73.6 424.9 75.7 426 79 426.8 77.2 427.9 80.3 428.9 81.2 429.7 78.1 430.5 73.7 431.7 78.8 432.7 81.5 433.7 80.9 434.6 80.5 435.5 78.8 436.5 77.8 437.4 77.8 438.5 81.3 439.5 82.4 440.5 82.8 441.5 82.5 442.4 81 443.5 84.7 444.5 85.2 445.5 87.2 446.5 87.8 447.5 88.6 448.5 88.9 449.5 88.6 450.6 89.5 451.6 91.2 452.6 91.8 453.6 92.7 454.6 93.8 455.7 94.8 456.7 96.8 457.7 97.5 458.8 98.9 459.8 100.8 460.9 102.4 461.9 103.2 462.9 104 463.9 105.1 465 106.3 466 107 467 107.6 468.1 108.7 469.1 109.5 470.2 110.1 471.2 110.5 472.2 111.2 473.3 111.8 474.3 112.5 475.4 113.1 476.4 113.6 477.5 114.4 478.5 114.8 479.6 115.4 480.6 115.9 481.7 116.5 482.8 117 483.8 117.5 484.9 118 483.9 119.4 482.8 118.9 481.7 118.4 480.7 117.9 479.6 117.4 478.6 116.9 477.5 116.4 476.5 115.9 475.4 115.3 474.4 114.8 473.3 114.3 472.3 113.7 471.2 113.2 470.2 112.6 469.1 112.2 468.1 111.6 467.1 111.1 466 110.4 465 109.9 464 109.3 463 108.6 461.9 108 460.9 107.4 459.9 106.8 458.9 106 457.8 105.1 456.8 104.3 455.8 103.8 454.8 102.9 453.8 102.2 452.8 101.5 451.7 101 450.7 100.5 449.7 99.6 448.7 99 447.7 98.8 446.7 98.4 445.7 97.8 444.7 97.3 443.7 96.3 442.8 95.9 441.7 94.4 440.8 94.6 439.8 94.3 438.8 93.9 437.8 93.2 436.8 91.9 435.8 91.6 434.9 91.5 433.9 91.7 433 91.5 432 91.4 431 90.2 430 88.4 429.1 89.4 428.2 90 427.2 89.4 426.2 88.2 425.3 88.4 424.3 87.1 423.3 86.2 422.5 88.1 421.6 88.5 420.6 88.2Z"/><path fill="#f6f6f6" d="M420.6 88.5L421.6 88.8 422.5 88.4 423.3 86.4 424.3 87.3 425.3 88.6 426.2 88.4 427.2 89.6 428.2 90.2 429.1 89.6 430 88.7 431 90.5 432 91.6 433 91.8 433.9 92 434.9 91.8 435.8 91.8 436.8 92.1 437.8 93.5 438.8 94.1 439.8 94.6 440.8 94.8 441.7 94.7 442.8 96.1 443.7 96.6 444.7 97.5 445.7 98 446.7 98.6 447.7 99 448.7 99.3 449.7 99.9 450.7 100.7 451.7 101.2 452.8 101.8 453.8 102.5 454.8 103.1 455.8 104 456.8 104.6 457.8 105.3 458.9 106.2 459.9 107 460.9 107.6 461.9 108.2 463 108.9 464 109.6 465 110.1 466 110.6 467.1 111.3 468.1 111.9 469.1 112.4 470.2 112.9 471.2 113.4 472.3 114 473.3 114.5 474.4 115 475.4 115.5 476.5 116.1 477.5 116.6 478.6 117.1 479.6 117.6 480.7 118.1 481.7 118.7 482.8 119.2 483.9 119.7 483.9 121.1 482.8 120.6 481.7 120.1 480.7 119.6 479.6 119.1 478.6 118.6 477.5 118.1 476.5 117.6 475.4 117.1 474.4 116.6 473.3 116.1 472.3 115.6 471.2 115.1 470.2 114.6 469.2 114.1 468.1 113.6 467.1 113.1 466.1 112.7 465 112.2 464 111.7 463 111.2 462 110.7 460.9 110.2 459.9 109.7 458.9 109.3 457.9 108.8 456.9 108.3 455.9 107.8 454.9 107.3 453.9 106.9 452.9 106.4 451.8 105.9 450.8 105.4 449.8 105 448.9 104.5 447.9 104 446.9 103.6 445.9 103.1 444.9 102.6 443.9 102.2 442.9 101.7 441.9 101.2 440.9 100.8 440 100.3 439 99.8 438 99.4 437 98.9 436.1 98.4 435.1 98 434.1 97.5 433.2 97.1 432.2 96.6 431.2 96.2 430.3 95.7 429.3 95.2 428.4 94.8 427.4 94.3 426.4 93.9 425.5 93.4 424.5 93 423.6 92.5 422.7 92.1 421.7 91.6 420.8 91.2Z"/></g><polygon points="430.7,54 431.1,57 430.3,57" fill="#ff2a0e" fill-opacity="0.35"/><polygon points="430.3,57 431.1,57 432,74 430,74" fill="#ff2a0e" fill-opacity="0.95"/><polygon points="461,26.5 461.4,31.5 460.6,31.5" fill="#f7a050" fill-opacity="0.40"/><polygon points="460.6,31.5 461.4,31.5 462.6,58 460.4,58" fill="#ff2a0e" fill-opacity="0.95"/><polygon points="464.4,41 465.2,41 465.8,56 464.2,56" fill="#f7a050" fill-opacity="0.70"/><polygon points="471.4,34 471.8,37 471,37" fill="#f7a050" fill-opacity="0.25"/><polygon points="471,37 471.8,37 472.2,52 470.8,52" fill="#f7a050" fill-opacity="0.55"/><polygon points="443.5,49 444.5,49 445.2,67 443.4,67" fill="#f7a050" fill-opacity="0.75"/><polygon points="451.9,43 453.1,43 453.8,60 451.8,60" fill="#d8d070" fill-opacity="0.70"/><path d="M415.1 93.5L484.4 126.7M484.4 126.7L541.2 87.6M415.1 93.5L412.1 33.8M416.9 95.6L418.7 94.5M431.9 102.8L433.7 101.7M447.5 110.3L449.2 109.1M463.5 117.9L465.2 116.8M480 125.8L481.7 124.6M540.1 89.8L538 88.9M530.4 96.5L528.3 95.6M520.4 103.4L518.2 102.5M510.1 110.6L507.9 109.6M499.5 117.9L497.3 116.9M488.6 125.4L486.4 124.4M413.3 80.2L415.1 81.1M412.6 66.9L414.5 67.8M411.9 53.3L413.8 54.2M411.2 39.4L413.2 40.3" stroke="#222" stroke-width="0.55" fill="none"/><g font-family="Liberation Serif, serif" font-size="5.6" text-anchor="middle" fill="#111"><text x="413.4" y="106.9">0</text><text x="427.9" y="114.1">2000</text><text x="442.9" y="121.5">4000</text><text x="458.4" y="129.2">6000</text><text x="474.4" y="137.1">8000</text><text x="495" y="136.3">1.0</text><text x="505.3" y="128.8">0.8</text><text x="515.4" y="121.5">0.6</text><text x="525.1" y="114.4">0.4</text><text x="534.5" y="107.5">0.2</text><text x="543.6" y="100.8">0.0</text><text x="403.8" y="83.9">2</text><text x="403.2" y="70.6">4</text><text x="402.5" y="57">6</text><text x="401.8" y="43.1">8</text></g><g font-family="Liberation Serif, serif" font-size="5.5" text-anchor="middle" fill="#111"><text transform="translate(437.7 127.1) rotate(25.6)" y="1.98">Frequency(Hz)</text><text transform="translate(526.4 123.4) rotate(-34.6)" y="1.98">Time(s)</text><text transform="translate(390.1 65.5) rotate(87.2)" y="1.98">Amplitude</text></g></g><g id="pd"><polygon points="31.3,251.1 90.2,216.4 90,159.1 28.4,190.7" fill="#f3f3f3"/><polygon points="90.2,216.4 158.7,245.2 161.6,185.3 90,159.1" fill="#f5f5f5"/><polygon points="31.3,251.1 101.4,284.6 158.7,245.2 90.2,216.4" fill="#f2f2f2"/><line x1="90.2" y1="216.4" x2="90" y2="159.1" stroke="#e8e8e8" stroke-width="0.6"/><g filter="url(#sft)"><use href="#sd" fill="#fff" filter="url(#glw)"/><g fill="url(#gd)"><g id="sd"><path fill-opacity="0.30" transform="translate(87.7 217.9)" d="M2.9 -6.1L3.9 -6 4.8 -5.2 5.7 -5.6 6.7 -5.7 7.6 -3.8 8.6 -4.1 9.5 -6.8 10.5 -5.3 11.4 -3 12.4 -4.4 13.4 -2.9 14.3 -1.6 15.3 -3.2 16.2 -1.2 17.2 -1.3 18.2 0.2 19.1 1.2 20.1 0 21.1 0.2 22.1 1 23 0.4 24.1 -1.6 25 -0.1 26 0.8 27 2.6 27.9 3.1 28.9 3.4 29.9 3.7 30.9 4.3 31.9 4.8 32.9 3.8 33.9 4.9 34.9 6.2 35.9 6.1 36.9 6.7 37.9 7.3 38.9 8.2 39.9 8.2 40.9 7.8 42 7.6 43 7.8 44 8.3 45 9.3 46 10.9 47 11.1 48 11.2 49.1 11.8 50.1 12.8 51.1 13.4 52.1 12.9 53.1 14 54.2 14.8 55.2 15.6 56.2 16 57.3 16.6 58.3 17.4 59.3 18 60.3 19.4 61.3 20.4 62.4 20.6 63.4 21 64.5 22 65.5 22.6 65.4 24.9 2.9 -1.3Z"/><path fill-opacity="0.41" transform="translate(86.8 218.4)" d="M2.9 -6.4L3.8 -5.9 4.8 -4.7 5.7 -4.7 6.7 -5.6 7.6 -4 8.6 -4.2 9.5 -8.1 10.5 -5.9 11.4 -3.2 12.4 -4.7 13.4 -4.4 14.3 -2.2 15.3 -2.9 16.2 -1.6 17.2 -1.3 18.2 0.2 19.1 1 20.1 0 21.1 -0.4 22.1 0.4 23 0.9 24 -0.8 25 -0.6 26 1 27 2.3 28 2.9 28.9 3.4 29.9 3.9 30.9 4.4 31.9 4.5 32.9 4.7 33.9 5.7 34.9 6.6 35.9 6.6 36.9 7 37.9 7.5 38.9 8.5 39.9 8.5 40.9 8.4 42 8.2 43 8.4 44 8.7 45 9.5 46 10.9 47 11.1 48 11.2 49.1 11.6 50.1 12.7 51.1 13.2 52.2 12.8 53.2 14.1 54.2 14.8 55.2 15.6 56.2 16 57.3 16.5 58.3 17.4 59.3 18.1 60.3 19.3 61.4 20.3 62.4 20.3 63.5 20.7 64.5 21.6 65.6 22.2 65.4 25 2.9 -1.3Z"/><path fill-opacity="0.51" transform="translate(85.9 219.0)" d="M2.9 -7.2L3.8 -6.9 4.8 -5 5.7 -4.8 6.7 -5.2 7.6 -3.9 8.6 -4.3 9.5 -8.5 10.5 -6.3 11.4 -3.6 12.4 -5 13.4 -5.1 14.3 -3 15.3 -2.9 16.2 -2.4 17.2 -1.8 18.2 -0.2 19.1 0.5 20.1 -0.3 21.1 -0.5 22.1 -0.2 23.1 0.4 24 -0.3 25 -0.9 26 0.6 27 2.3 28 2.9 28.9 3.4 29.9 3.7 30.9 4.6 31.9 5.1 32.9 5.4 33.9 5.9 34.9 6.8 35.9 7.1 36.9 7.1 37.9 7.4 38.9 8.3 39.9 8.4 40.9 8.4 42 8.1 43 8.4 44 8.9 45 9.6 46 10.8 47 10.9 48.1 11.3 49.1 11.7 50.1 12.6 51.1 13.3 52.2 13 53.2 13.9 54.2 14.7 55.2 15.5 56.3 16 57.3 16.6 58.3 17.4 59.4 17.9 60.4 19.1 61.4 20.1 62.5 20.2 63.5 20.7 64.5 21.6 65.6 22.2 65.5 25.1 2.9 -1.3Z"/><path fill-opacity="0.62" transform="translate(85.0 219.5)" d="M2.9 -7.4L3.8 -7.6 4.8 -5.5 5.7 -4.9 6.7 -5.4 7.6 -4.5 8.6 -4.3 9.5 -7.9 10.5 -7.4 11.4 -4.5 12.4 -5.2 13.4 -6.4 14.3 -4.2 15.3 -2.2 16.2 -1.9 17.2 -1.8 18.2 -0.6 19.1 -0.2 20.1 -0.2 21.1 -0.5 22.1 -0.5 23.1 0.4 24 0 25 -0.9 26 0.4 27 1.5 28 2.1 29 2.8 29.9 3.5 30.9 4.1 31.9 4.8 32.9 5.2 33.9 5.7 34.9 6.5 35.9 6.7 36.9 6.8 37.9 6.9 38.9 7.6 39.9 7.8 41 8.2 42 7.8 43 7.9 44 8.6 45 9.5 46 10.4 47.1 10.6 48.1 11.1 49.1 11.4 50.1 12.2 51.1 13.1 52.2 12.8 53.2 13.6 54.2 14.6 55.3 15.3 56.3 15.9 57.3 16.4 58.3 17.1 59.4 17.7 60.4 19 61.4 19.8 62.5 19.9 63.5 20.5 64.6 21.5 65.6 22.2 65.5 25.1 2.9 -1.3Z"/><path fill-opacity="0.72" transform="translate(84.1 220.0)" d="M2.9 -10.1L3.8 -8.2 4.8 -5.3 5.7 -4.8 6.7 -4.8 7.6 -4.6 8.6 -6.1 9.5 -8.5 10.5 -6.8 11.4 -5.5 12.4 -4.9 13.4 -5.8 14.3 -5 15.3 -3.1 16.2 -2.7 17.2 -2.5 18.2 -1.6 19.2 -1.3 20.1 -1 21.1 -1 22.1 -0.8 23.1 0.3 24 0.3 25 -0.5 26 0.2 27 1.2 28 1.4 29 2.1 30 3.4 30.9 3.7 31.9 3.7 32.9 4.2 33.9 5 34.9 5.7 35.9 5.7 36.9 5.9 38 6 39 6.3 40 6.7 41 7.5 42 7.1 43 7.3 44 8 45 8.9 46.1 9.8 47.1 10 48.1 10.7 49.1 11.2 50.1 11.9 51.2 12.8 52.2 12.5 53.2 13.5 54.2 14.5 55.3 15.3 56.3 15.9 57.3 16.3 58.4 17.1 59.4 17.5 60.4 18.7 61.5 19.6 62.5 19.7 63.6 20.2 64.6 21.2 65.6 21.9 65.5 25.2 2.9 -1.3Z"/><path fill-opacity="0.83" transform="translate(83.1 220.6)" d="M2.9 -10.5L3.8 -8.5 4.8 -6.1 5.7 -5.5 6.7 -6.4 7.6 -5.5 8.6 -6.1 9.5 -9.5 10.5 -7 11.4 -6.7 12.4 -5.5 13.4 -5.5 14.3 -4.9 15.3 -3.2 16.3 -4.3 17.2 -3.2 18.2 -1.8 19.2 -1.7 20.1 -1.6 21.1 -1.9 22.1 -1.3 23.1 -0.2 24 -0.1 25 -0.4 26 0.2 27 0.8 28 0.9 29 1.8 30 3.2 31 3.5 32 3.7 32.9 4.8 33.9 5.4 34.9 5.8 35.9 5.7 36.9 6.4 38 6.3 39 6.3 40 6.9 41 7.5 42 7.1 43 7.4 44 8.3 45.1 9 46.1 9.8 47.1 9.9 48.1 10.8 49.1 11.4 50.2 12.2 51.2 13.1 52.2 12.9 53.2 13.7 54.3 14.8 55.3 15.3 56.3 15.9 57.4 16.4 58.4 17.1 59.4 17.4 60.5 18.6 61.5 19.5 62.5 19.7 63.6 20.3 64.6 21.1 65.7 21.9 65.5 25.3 2.9 -1.3Z"/><path fill-opacity="0.94" transform="translate(82.2 221.1)" d="M2.9 -8.8L3.8 -9.4 4.8 -7.1 5.7 -6.1 6.7 -7.8 7.6 -7.2 8.6 -7.4 9.5 -7.4 10.5 -5.6 11.4 -7.7 12.4 -5.1 13.4 -4.1 14.3 -5.1 15.3 -3.2 16.2 -3.9 17.2 -4.2 18.2 -2.9 19.2 -1.8 20.1 -1.1 21.1 -1.4 22.1 -0.9 23.1 -0.1 24 0.6 25 0.4 26 1 27 1.5 28 1.9 29 2.7 30 3.5 31 3.7 31.9 4.2 32.9 4.8 33.9 5.1 34.9 5.6 36 5.6 37 6.3 38 5.9 39 6.1 40 6.6 41 7.4 42 7.5 43 7.8 44 8.8 45.1 9.3 46.1 9.8 47.1 10.1 48.1 11.2 49.1 11.6 50.2 12.3 51.2 13.5 52.2 13.2 53.3 13.8 54.3 14.9 55.3 15.4 56.3 16.2 57.4 16.9 58.4 17.4 59.5 17.6 60.5 18.7 61.5 19.3 62.6 19.6 63.6 20.2 64.7 20.9 65.7 21.6 65.6 25.3 2.9 -1.3Z"/><path transform="translate(81.3 221.7)" d="M2.9 -7L3.8 -7.6 4.8 -7.4 5.7 -6.3 6.6 -9.1 7.6 -11.1 8.6 -7.3 9.5 -7.2 10.5 -7.3 11.4 -9.4 12.4 -6.8 13.3 -6.3 14.3 -7.2 15.3 -4.4 16.2 -4.3 17.2 -4.8 18.2 -4.4 19.2 -2.6 20.1 -1.5 21.1 -1.4 22.1 -1.1 23.1 -0.2 24 0.7 25 0.8 26 1.4 27 1.6 28 1.7 29 2.3 30 3.6 31 3.6 32 3.2 33 4.6 33.9 5.4 34.9 5.9 36 5.9 37 6.3 38 6 39 6.3 40 6.9 41 7.6 42 7.8 43 8.2 44 9.4 45.1 9.9 46.1 10.4 47.1 10.8 48.1 11.8 49.1 12.1 50.2 12.6 51.2 13.8 52.2 13.7 53.3 14.4 54.3 15.4 55.3 15.8 56.3 16.3 57.4 17.1 58.4 17.5 59.5 17.6 60.5 18.7 61.5 19.2 62.6 19.7 63.6 20.3 64.7 21 65.7 21.6 65.6 25.4 2.9 -1.3Z"/><path transform="translate(80.4 222.2)" d="M2.9 -7.1L3.8 -7.2 4.8 -7.4 5.7 -7 6.6 -9.7 7.6 -10.6 8.5 -8.5 9.5 -7.6 10.5 -7.5 11.4 -10 12.4 -7.2 13.3 -7.2 14.3 -8.7 15.3 -7.1 16.2 -7.8 17.2 -7.1 18.2 -5.6 19.2 -4.3 20.1 -2.6 21.1 -2.7 22.1 -2.9 23.1 -1.4 24.1 -0.1 25 0.6 26 1.2 27 1.7 28 2.2 29 2.7 30 4.1 31 4.2 32 4 33 5 33.9 5.7 35 5.8 36 5.8 37 6.7 38 6.4 39 6.6 40 7.1 41 7.7 42 8 43.1 8.2 44.1 9.4 45.1 10.1 46.1 10.7 47.1 11.2 48.1 12.3 49.2 12.3 50.2 12.7 51.2 14.1 52.2 14.2 53.3 14.8 54.3 15.8 55.3 16.2 56.4 16.7 57.4 17.5 58.4 18 59.5 18.3 60.5 19.2 61.6 19.5 62.6 20 63.6 20.7 64.7 21.2 65.8 21.7 65.6 25.5 2.9 -1.3Z"/><path transform="translate(79.4 222.8)" d="M2.9 -7.9L3.8 -7.8 4.7 -8.6 5.7 -9 6.6 -12.2 7.6 -9.9 8.5 -7.5 9.5 -8.4 10.5 -7.5 11.4 -10 12.4 -7.1 13.3 -5.7 14.3 -7.5 15.3 -8 16.2 -10 17.2 -7.6 18.2 -6.4 19.2 -6.8 20.1 -4.8 21.1 -3.8 22.1 -5.1 23.1 -5.9 24.1 -2.8 25 -0.2 26 0.6 27 1.3 28 1.9 29 2 30 3.4 31 3.1 32 3.7 33 4.1 34 4.9 35 5 36 4.8 37 5.9 38 6.3 39 6.5 40 6.8 41 7.6 42 7.8 43.1 8.1 44.1 9.3 45.1 10.3 46.1 11 47.1 11.7 48.1 12.6 49.2 12.9 50.2 13.3 51.2 14.6 52.2 14.7 53.3 15.4 54.3 16.3 55.3 16.6 56.4 17.1 57.4 17.8 58.4 18.2 59.5 18.4 60.5 19.1 61.6 19.5 62.6 20.3 63.7 21 64.7 21.4 65.8 22 65.6 25.5 2.9 -1.3Z"/><path transform="translate(78.5 223.3)" d="M2.9 -7.2L3.8 -6.6 4.7 -7.4 5.7 -8.7 6.6 -10.1 7.6 -9.5 8.5 -8.9 9.5 -10.4 10.5 -7.1 11.4 -6.7 12.4 -6.6 13.3 -6 14.3 -7.1 15.3 -9.3 16.2 -9.3 17.2 -7 18.2 -7 19.2 -9.4 20.1 -8 21.1 -4.4 22.1 -5.4 23.1 -11.9 24.1 -7.3 25.1 -1.5 26 -0.3 27 0.3 28 1.1 29 2 30 2.8 31 2.1 32 2.6 33 3.5 34 4.1 35 4.2 36 4.2 37 5.2 38 5.8 39 6.1 40 6.4 41 7.4 42.1 7.9 43.1 7.9 44.1 9.1 45.1 10.3 46.1 11.2 47.1 11.7 48.1 12.5 49.2 12.9 50.2 13.5 51.2 14.8 52.2 14.8 53.3 15.5 54.3 16.6 55.3 16.9 56.4 17.2 57.4 17.9 58.4 18.6 59.5 18.8 60.5 19.4 61.6 19.8 62.6 20.5 63.7 21.2 64.7 21.5 65.8 22 65.7 25.6 2.9 -1.3Z"/><path transform="translate(77.6 223.9)" d="M2.8 -9.4L3.8 -7.5 4.7 -8.6 5.7 -9.5 6.6 -9.7 7.6 -11.1 8.5 -8.9 9.5 -10.9 10.4 -8.3 11.4 -7 12.4 -7.6 13.3 -7.4 14.3 -8.5 15.3 -10.6 16.2 -8.4 17.2 -6.4 18.2 -7.8 19.2 -9.8 20.1 -6.7 21.1 -4.2 22.1 -4.3 23.1 -6.7 24.1 -5.4 25.1 -1.4 26 0 27 0.2 28 0.3 29 0.7 30 2.1 31 1.8 32 1.4 33 2.5 34 3.6 35 4 36 3.8 37 4.5 38 4.9 39 5.4 40 6.1 41.1 7.1 42.1 7.4 43.1 7.3 44.1 8.6 45.1 9.7 46.1 10.6 47.1 11.1 48.2 11.9 49.2 12.4 50.2 13 51.2 14.4 52.3 14.6 53.3 15.3 54.3 16.2 55.4 16.6 56.4 17 57.4 17.7 58.5 18.3 59.5 18.6 60.6 19.2 61.6 19.6 62.7 20.2 63.7 20.9 64.8 21.1 65.8 21.6 65.7 25.7 2.9 -1.3Z"/><path transform="translate(76.6 224.4)" d="M2.8 -11.2L3.8 -8.8 4.7 -10.5 5.6 -14.2 6.6 -10.5 7.6 -9.5 8.5 -10.1 9.5 -11.6 10.4 -8.7 11.4 -8.6 12.4 -8.7 13.3 -7.5 14.3 -8.9 15.2 -12.5 16.2 -10 17.2 -7.6 18.2 -8.9 19.2 -10.2 20.1 -7.8 21.1 -5.6 22.1 -4.7 23.1 -6 24.1 -7.7 25.1 -3.6 26 -1 27 -0.7 28 -0.9 29 0 30 1.1 31 1.5 32 1.4 33 1.5 34 3.2 35 3.2 36 2.9 37 4.3 38 5 39 5.7 40 6.4 41.1 7.2 42.1 7.6 43.1 7.3 44.1 8.3 45.1 10 46.1 10.7 47.2 11.2 48.2 11.9 49.2 12.3 50.2 12.8 51.2 14.2 52.3 14.4 53.3 15 54.3 15.9 55.4 16.2 56.4 16.6 57.5 17.3 58.5 17.9 59.6 18.3 60.6 19.1 61.7 19.2 62.7 19.8 63.7 20.5 64.8 20.8 65.9 21.3 65.7 25.7 2.9 -1.3Z"/><path transform="translate(75.7 225.0)" d="M2.8 -12.9L3.8 -9.8 4.7 -11.5 5.6 -12.3 6.6 -8.7 7.6 -8.2 8.5 -9.5 9.4 -14.2 10.4 -8.3 11.4 -7.4 12.4 -8.1 13.3 -7.1 14.3 -7.7 15.2 -10.9 16.2 -10.7 17.2 -7.6 18.2 -7.4 19.2 -7.4 20.1 -6.4 21.1 -5.3 22.1 -4.3 23.1 -5.3 24.1 -5.3 25.1 -3.2 26 -1.1 27 -0.5 28 -0.9 29 -0.2 30 0.8 31 1.2 32 0.9 33 1.6 34 2.7 35 2.8 36 2.6 37 3.9 38 4.9 39 5.9 40.1 6.7 41.1 7.5 42.1 8.2 43.1 7.7 44.1 8.9 45.1 10.8 46.1 11.6 47.2 12 48.2 12.6 49.2 13.1 50.2 13.6 51.2 14.8 52.3 15 53.3 15.6 54.3 16.5 55.4 16.8 56.4 17.2 57.5 18 58.5 18.2 59.6 18.6 60.6 19.6 61.7 19.7 62.7 20.3 63.7 21.1 64.8 21.3 65.9 21.6 65.7 25.8 2.9 -1.3Z"/><path transform="translate(74.8 225.5)" d="M2.8 -11.8L3.8 -9.4 4.7 -10.5 5.6 -11.2 6.6 -8.3 7.5 -9.1 8.5 -11.4 9.4 -16 10.4 -11.5 11.4 -10.3 12.3 -10.2 13.3 -8.4 14.3 -9.2 15.2 -10.2 16.2 -9.5 17.2 -8.2 18.2 -7.9 19.2 -7.2 20.1 -7.7 21.1 -6.8 22.1 -4.3 23.1 -3.9 24.1 -5.4 25.1 -5.9 26 -2.1 27 -1.3 28 -2.5 29 -0.2 30 1.4 31 1.6 32 1.4 33 2.5 34 3.4 35 3.4 36 3.3 37 4.1 38 5.2 39 6.2 40.1 6.9 41.1 7.6 42.1 7.9 43.1 7.6 44.1 8.8 45.1 10.7 46.1 11.6 47.2 11.9 48.2 12.4 49.2 13.1 50.2 13.7 51.3 14.7 52.3 15 53.3 15.6 54.4 16.4 55.4 16.8 56.4 17.2 57.5 18.1 58.5 18.4 59.6 19 60.6 19.8 61.7 20.2 62.7 20.8 63.8 21.6 64.8 21.9 65.9 22.3 65.8 25.9 2.9 -1.3Z"/><path transform="translate(73.8 226.1)" d="M2.7 -20L3.7 -13.5 4.7 -11.4 5.6 -10.2 6.6 -8.5 7.5 -9.7 8.5 -10.5 9.4 -13.7 10.4 -11.5 11.3 -13.1 12.3 -13.3 13.3 -9.9 14.2 -12.5 15.2 -12.4 16.2 -10.2 17.2 -9.2 18.2 -9 19.1 -7.3 20.1 -7.6 21.1 -8.3 22.1 -5.3 23.1 -4.5 24.1 -4.4 25.1 -4.8 26 -2.4 27 -2.1 28 -3.4 29 -0.8 30 0.5 31 0.4 32 0.2 33 1.1 34 1.8 35 1.7 36.1 1.7 37.1 2 38.1 3.8 39.1 4.7 40.1 5.6 41.1 6.7 42.1 7.1 43.1 6.6 44.2 8 45.1 10.1 46.2 10.9 47.2 11.2 48.2 11.7 49.2 12.5 50.3 12.9 51.3 14 52.3 14.4 53.4 15 54.4 15.9 55.4 16.3 56.5 16.7 57.5 17.8 58.6 18.3 59.6 19.1 60.6 20.1 61.7 20.4 62.7 21.1 63.8 21.8 64.8 22.1 65.9 22.6 65.8 25.9 2.9 -1.3Z"/><path transform="translate(72.9 226.6)" d="M2.7 -12.7L3.7 -11.7 4.7 -11.2 5.6 -11.5 6.6 -9.8 7.5 -9.6 8.5 -10.3 9.4 -14.4 10.4 -15.1 11.3 -16.4 12.3 -14.1 13.3 -9.6 14.3 -10.4 15.2 -10.8 16.2 -11.3 17.2 -10.5 18.2 -8.4 19.1 -7.8 20.1 -9.2 21.1 -9.4 22.1 -7.7 23.1 -7.3 24.1 -5.9 25.1 -5.6 26.1 -5.1 27 -4.3 28 -4.4 29 -2.4 30 -1.6 31 -1.3 32 -1.6 33.1 -1.4 34.1 -0.1 35.1 0.1 36.1 -0.2 37.1 0.1 38.1 2.5 39.1 3.4 40.1 4.1 41.1 5.7 42.1 6.5 43.2 6.2 44.2 7.5 45.2 9.5 46.2 10.3 47.2 10.4 48.3 10.4 49.3 11.5 50.3 12 51.3 13.1 52.4 13.5 53.4 13.9 54.4 14.9 55.5 15.5 56.5 15.9 57.5 17 58.6 17.8 59.6 18.8 60.7 19.8 61.7 20.2 62.7 21.1 63.8 22 64.9 22.4 65.9 23 65.8 26 2.9 -1.3Z"/><path transform="translate(71.9 227.2)" d="M2.6 -18.6L3.6 -16.9 4.6 -13.2 5.6 -11.6 6.5 -11.4 7.5 -10.5 8.5 -9.2 9.4 -11.7 10.4 -12.2 11.3 -15 12.3 -14.9 13.3 -10.2 14.2 -10.4 15.2 -11.1 16.2 -12.6 17.2 -11.7 18.2 -8.2 19.1 -7.5 20.1 -7.9 21.1 -9.2 22.1 -7.4 23.1 -6.1 24.1 -4.7 25.1 -5 26.1 -6.6 27 -6.1 28 -4.7 29 -2.1 30 -1.4 31 -0.6 32 -0.8 33 -0.1 34.1 0.2 35.1 0.4 36.1 0.3 37.1 0.1 38.1 1.7 39.1 2.8 40.1 3.2 41.1 4.7 42.1 5.7 43.2 5.2 44.2 6.7 45.2 9 46.2 10.1 47.2 9.7 48.3 9.9 49.3 11.1 50.3 11.7 51.4 12.7 52.4 13 53.4 13.6 54.5 14.6 55.5 15 56.5 15.5 57.6 17 58.6 17.9 59.6 18.7 60.7 19.8 61.7 20.2 62.8 21.2 63.8 22.1 64.9 22.6 65.9 23.1 65.8 26.1 2.9 -1.3Z"/><path transform="translate(71.0 227.7)" d="M2.7 -13.2L3.6 -15.1 4.6 -12.3 5.6 -10.5 6.5 -11.4 7.5 -11.8 8.5 -9.3 9.4 -9.8 10.4 -12.5 11.3 -18.4 12.3 -16.1 13.3 -9.8 14.2 -10 15.2 -9.9 16.2 -10.1 17.2 -10.4 18.1 -8.1 19.1 -7.1 20.1 -7.6 21.1 -9 22.1 -9.3 23.1 -6.4 24.1 -5.3 25.1 -6.5 26 -7 27 -7.6 28 -5.5 29 -3.6 30 -3.3 31 -2.1 32 -1.7 33.1 -1.3 34.1 -0.8 35.1 -0.3 36.1 -0.6 37.1 -0.7 38.1 1.2 39.1 2.7 40.1 3.6 41.1 5 42.2 5.7 43.2 5.4 44.2 6.4 45.2 8.5 46.2 9.5 47.3 9.3 48.3 9.6 49.3 10.3 50.4 10.9 51.4 12 52.4 12.2 53.5 12.6 54.5 13.5 55.5 14 56.6 14.7 57.6 16.4 58.6 17.3 59.7 18.2 60.7 19.4 61.8 19.8 62.8 21 63.8 22.1 64.9 22.6 65.9 23.1 65.9 26.2 2.9 -1.3Z"/><path transform="translate(70.0 228.3)" d="M2.7 -13.4L3.6 -17.1 4.6 -13.9 5.6 -10.1 6.5 -11.1 7.5 -12.2 8.5 -8.1 9.4 -8.6 10.4 -10.5 11.3 -15.9 12.2 -16.5 13.3 -9.8 14.2 -8.6 15.2 -9.4 16.2 -13.1 17.2 -10.4 18.1 -8.1 19.1 -7.1 20.1 -7.1 21.1 -9.6 22.1 -9.8 23.1 -5.8 24.1 -4.6 25.1 -5.4 26 -5.6 27 -5.5 28 -3.8 29 -3.1 30 -3.1 31 -2.2 32 -1.7 33.1 -1.1 34.1 -1 35.1 -0.3 36.1 -0.5 37.1 -1.1 38.1 0.1 39.1 2.1 40.1 3.8 41.1 5.3 42.2 5.4 43.2 4.8 44.2 6.1 45.2 8 46.2 9 47.3 9.2 48.3 9.3 49.3 9.8 50.4 10.2 51.4 11.6 52.4 12 53.5 12.4 54.5 13.1 55.6 13.6 56.6 14.5 57.6 16 58.7 17.1 59.7 18.1 60.7 19.2 61.8 19.8 62.8 21.1 63.9 22.2 64.9 22.8 66 23.5 65.9 26.2 2.9 -1.3Z"/><path transform="translate(69.1 228.9)" d="M2.7 -10.9L3.6 -15.7 4.6 -14 5.6 -11.3 6.5 -13.2 7.5 -12.4 8.5 -8 9.4 -8.3 10.4 -10.1 11.3 -16.2 12.3 -13.4 13.3 -7.9 14.3 -6.8 15.2 -6.6 16.2 -10.7 17.1 -9.9 18.1 -7.5 19.1 -7.4 20.1 -7.2 21.1 -8.5 22.1 -11.2 23.1 -6 24.1 -4.7 25 -6.5 26 -6.4 27 -5.2 28 -3.3 29 -3.1 30 -3 31 -1.9 32 -1.4 33 -0.7 34.1 -0.9 35.1 0.1 36.1 -0.3 37.1 -1.1 38.1 -0.1 39.1 2 40.1 3.8 41.1 5 42.2 5.3 43.2 5.3 44.2 6.6 45.2 8 46.2 9 47.3 9.3 48.3 9.3 49.4 9.8 50.4 10.4 51.4 11.8 52.4 12.3 53.5 12.5 54.5 13.1 55.6 13.8 56.6 14.7 57.6 16.2 58.7 17.5 59.7 18.5 60.7 19.5 61.8 20.1 62.8 21.4 63.9 22.5 64.9 23 66 23.7 65.9 26.3 2.9 -1.3Z"/><path transform="translate(68.1 229.4)" d="M2.7 -13.6L3.6 -17.7 4.6 -13 5.6 -10.5 6.5 -11.8 7.5 -12.5 8.4 -9.6 9.4 -9.3 10.3 -11.7 11.3 -14.9 12.3 -10.2 13.3 -8.3 14.2 -7 15.2 -7.1 16.2 -10.4 17.2 -8.2 18.1 -6.7 19.1 -7.3 20.1 -8.5 21.1 -7.6 22.1 -9.2 23.1 -6.7 24.1 -6.2 25 -8.1 26 -7.4 27 -6 28 -5.2 29 -5.1 30 -4.4 31 -3 32 -2.3 33.1 -1.3 34.1 -1.4 35.1 -0.3 36.1 -0.5 37.1 -0.7 38.1 0.9 39.1 2.2 40.1 4 41.1 5.5 42.2 6 43.2 6.1 44.2 6.9 45.2 7.8 46.3 8.4 47.3 8.9 48.3 8.8 49.4 9.2 50.4 10 51.4 11.8 52.5 12.2 53.5 12.3 54.6 12.9 55.6 13.6 56.6 14.8 57.7 16 58.7 17.5 59.7 18.7 60.8 19.6 61.8 20.2 62.9 21.3 63.9 22.5 64.9 23.1 66 23.9 65.9 26.4 2.9 -1.3Z"/><path transform="translate(67.2 230.0)" d="M2.7 -14L3.6 -16.2 4.6 -13.2 5.5 -11.9 6.5 -11.2 7.5 -11.6 8.4 -12.5 9.4 -12.6 10.3 -16.3 11.3 -14.3 12.3 -8.8 13.3 -8.6 14.2 -8.2 15.2 -8.3 16.1 -11.3 17.1 -8.2 18.1 -6.5 19.1 -7.9 20.1 -9.3 21.1 -7.8 22.1 -9.9 23.1 -7.6 24 -6.9 25 -8.1 26 -6.7 27 -6.4 28 -5.7 29 -4.8 30 -4.5 31 -3.5 32 -3 33.1 -2.1 34.1 -2 35.1 -1.5 36.1 -2.1 37.1 -1.1 38.1 0.8 39.1 1.3 40.1 3.2 41.2 4.7 42.2 5.6 43.2 5.9 44.2 6.5 45.2 7.8 46.3 8.4 47.3 9 48.4 8.7 49.4 9.1 50.4 9.8 51.4 11.2 52.5 11.7 53.5 11.9 54.6 12.6 55.6 13.2 56.6 14.5 57.7 15.7 58.7 17.4 59.7 18.6 60.8 19.5 61.8 19.9 62.9 21 63.9 22.2 65 22.8 66 23.6 65.9 26.4 2.9 -1.3Z"/><path transform="translate(66.2 230.5)" d="M2.6 -15.9L3.6 -13.7 4.6 -10.7 5.5 -12.4 6.5 -11.5 7.4 -11.7 8.4 -14.5 9.3 -16.3 10.2 -19.5 11.2 -14.7 12.3 -9.5 13.2 -11 14.2 -10.5 15.2 -8.6 16.1 -11 17.1 -8.7 18.1 -7.6 19.1 -10.5 20.1 -11.8 21.1 -7.9 22.1 -8.1 23 -8.2 24 -8.9 25 -10.2 26 -9.6 27 -10.1 28 -8.3 29 -6.6 30 -6.5 31 -5.2 32 -3.9 33.1 -3 34.1 -2.9 35.1 -1.7 36.1 -2.5 37.1 -0.2 38.1 0.9 39.1 1.2 40.2 3 41.2 4.2 42.2 4.8 43.2 4.9 44.2 5.8 45.3 7.2 46.3 7.5 47.3 7.8 48.4 7.7 49.4 8.2 50.4 9.2 51.5 10.6 52.5 11.2 53.6 11.1 54.6 11.7 55.6 12.4 56.7 13.9 57.7 15.3 58.7 17.1 59.8 18.1 60.8 19 61.9 19.5 62.9 20.7 63.9 22 65 22.6 66.1 23.5 66 26.5 2.9 -1.2Z"/><path transform="translate(65.2 231.1)" d="M2.6 -16L3.6 -14.4 4.6 -11.6 5.5 -12.8 6.5 -11.3 7.5 -10.6 8.3 -16 9.2 -22.1 10.1 -24 11.2 -15.4 12.3 -10.2 13.2 -13.5 14.2 -12.9 15.2 -8.3 16.1 -9.4 17.1 -10.7 18.1 -8.5 19.1 -12.3 20 -15.3 21.1 -7.9 22 -8.1 23 -9.9 24 -11 25 -10.4 26 -8.7 27 -10 28 -8.4 29 -7.3 30 -7.4 31 -5 32 -4.2 33.1 -3.8 34.1 -3.2 35.1 -2 36.1 -3 37.1 0 38.1 0.8 39.2 0.6 40.2 2.1 41.2 3.1 42.2 3.9 43.2 4.2 44.3 5 45.3 6.2 46.3 7 47.3 7.8 48.4 8.1 49.4 8.6 50.4 9.5 51.5 10.7 52.5 11.6 53.6 12.1 54.6 12.4 55.6 13 56.7 14.6 57.7 15.7 58.7 17.2 59.8 18.2 60.8 19 61.9 19.4 62.9 20.5 64 21.7 65 22.3 66.1 23.3 66 26.6 2.9 -1.2Z"/><path transform="translate(64.3 231.7)" d="M2.7 -12L3.6 -11.5 4.6 -11 5.5 -11.9 6.5 -10.9 7.5 -10 8.4 -13 9.2 -20.6 10.2 -21 11.2 -13.9 12.3 -9.5 13.2 -11.9 14.2 -11.8 15.2 -8.2 16.2 -8.4 17.1 -7.8 18.1 -8.5 19.1 -12.4 20 -16.1 21.1 -8.7 22 -8.2 23 -11.3 24 -13.7 25 -10.9 26 -9.6 27 -11.5 28 -8.7 29 -8 30 -7.9 31 -5.3 32 -4.6 33.1 -4.1 34.1 -3.9 35.1 -3.3 36.1 -4.4 37.1 0 38.1 0.9 39.2 0.4 40.2 2.1 41.2 3.1 42.2 3.5 43.2 4.1 44.3 5.1 45.3 5.9 46.3 6.8 47.4 7.5 48.4 7.3 49.4 8.2 50.5 9.1 51.5 10.3 52.5 11.2 53.6 12 54.6 12.4 55.7 12.9 56.7 14.4 57.7 15.7 58.8 17.4 59.8 18.4 60.9 19.1 61.9 19.5 63 20.6 64 21.8 65.1 22.5 66.1 23.5 66 26.7 2.9 -1.2Z"/><path transform="translate(63.3 232.2)" d="M2.7 -9.4L3.7 -9.7 4.6 -12.4 5.5 -14.1 6.5 -10.5 7.5 -9 8.4 -10.4 9.2 -17.3 10.2 -17.9 11.2 -15.1 12.2 -11.8 13.2 -14.1 14.2 -11.7 15.2 -8.8 16.1 -8.7 17.1 -7.4 18.1 -10.2 19 -14.9 20 -14.2 21 -10 22 -7.7 23 -8.6 24 -10.3 25 -10.2 26 -9.6 27 -10.1 28 -7.3 29 -7.2 30 -6.6 31 -3.5 32 -3.2 33.1 -3.4 34.1 -3.4 35.1 -2.2 36.1 -3.3 37.1 0.3 38.1 0.6 39.2 0 40.2 1.7 41.2 2.8 42.2 3.5 43.2 3.8 44.3 4.9 45.3 5.7 46.3 6.1 47.4 7 48.4 7.3 49.4 8.5 50.5 8.8 51.5 9.9 52.5 10.9 53.6 12.3 54.6 12.6 55.7 12.8 56.7 14.5 57.7 16 58.8 17.6 59.8 18.6 60.9 19.2 61.9 19.6 63 20.8 64 21.8 65.1 22.4 66.1 23.4 66 26.7 2.9 -1.2Z"/><path transform="translate(62.3 232.8)" d="M2.7 -10.1L3.7 -9.9 4.6 -11.2 5.5 -13.4 6.5 -11.8 7.5 -9.5 8.4 -10 9.3 -15.6 10.2 -19.5 11.1 -21.8 12.1 -21 13.1 -18.2 14.2 -10.2 15.2 -7.6 16.1 -8 17.1 -7.6 18.1 -9.9 19 -16.7 20 -16.2 21 -11.1 22 -9.5 23 -12.6 23.9 -18.1 25 -15.2 26 -14.9 27 -16.2 28 -10.9 29 -9.8 30 -8.8 31 -5.9 32 -5.5 33.1 -5.5 34.1 -4.7 35.1 -3.6 36.1 -4.4 37.1 -1.4 38.1 -1.3 39.2 -2.5 40.2 -0.5 41.2 0.8 42.2 2 43.3 2.3 44.3 3.3 45.3 4.6 46.4 5.2 47.4 6.3 48.4 7 49.4 8.4 50.5 8.8 51.5 9.6 52.6 10.6 53.6 12.1 54.6 12.6 55.7 13 56.7 14.5 57.8 16 58.8 17.6 59.8 18.5 60.9 19.1 61.9 19.5 63 20.7 64 21.7 65.1 22.4 66.2 23.4 66.1 26.8 2.9 -1.2Z"/><path transform="translate(61.4 233.4)" d="M2.7 -10.3L3.6 -9.9 4.6 -11 5.4 -15.3 6.4 -14.2 7.4 -10 8.4 -9.7 9.3 -11.9 10.2 -16 11 -25.1 12 -21.4 13.1 -14.1 14.2 -10.5 15.2 -8.9 16.1 -9.7 17.1 -9.9 18.1 -11.5 19 -13.5 20 -14 21 -13.1 22 -12.7 23 -14.8 23.9 -15.6 25 -15.1 25.9 -18 27 -14.7 28 -11.7 29 -12.5 30 -11.9 31 -8.1 32 -7.1 33 -6.9 34.1 -6.4 35.1 -5.9 36.1 -6.2 37.1 -3.4 38.1 -3.5 39.2 -5 40.2 -2.5 41.2 -1 42.2 -0.2 43.3 -0.1 44.3 1.5 45.3 3.4 46.4 4.1 47.4 4.8 48.4 5.6 49.5 6.9 50.5 7.1 51.6 8.2 52.6 9 53.6 10.9 54.7 11.3 55.7 11.8 56.8 13.6 57.8 15.2 58.8 17 59.9 18.1 60.9 19.1 62 19.4 63 20.8 64.1 21.9 65.1 22.7 66.2 23.7 66.1 26.9 2.9 -1.2Z"/><path transform="translate(60.4 234.0)" d="M2.7 -10.9L3.6 -10.3 4.6 -10 5.4 -13.5 6.4 -13.5 7.4 -9.4 8.4 -8.7 9.3 -9.8 10.2 -13.2 11.1 -17.2 12.1 -14.8 13.2 -11.2 14.2 -9.8 15.1 -9.5 16.1 -10.6 17.1 -8.7 18.1 -9.8 19 -11.5 20 -11.4 21 -12.2 22 -11.3 23 -11 24 -10.6 25 -11.3 25.9 -14.8 27 -13.7 28 -10.3 29 -9.9 30 -8.9 31 -6.5 32 -5.3 33 -4.8 34.1 -4.1 35.1 -3.2 36.1 -3.7 37.1 -1.8 38.1 -1.9 39.2 -3.8 40.2 -1.7 41.2 -0.3 42.2 0.2 43.3 0 44.3 1.6 45.3 3.5 46.4 4.1 47.4 4.5 48.4 5.3 49.5 6.8 50.5 7.1 51.6 8.3 52.6 9.3 53.6 11.5 54.7 12.1 55.7 12.6 56.8 14.2 57.8 15.8 58.8 17.5 59.9 18.5 60.9 19.2 62 19.7 63 21.2 64.1 22.3 65.1 23 66.2 24 66.1 27 2.9 -1.2Z"/><path transform="translate(59.4 234.5)" d="M2.5 -16.4L3.6 -10.9 4.6 -8.8 5.5 -12.1 6.4 -12.6 7.4 -10.2 8.4 -10.1 9.3 -11.8 10.2 -13.3 11.1 -17.2 12.1 -16 13.2 -11 14.1 -10.9 15.1 -10.7 16.1 -10.3 17.1 -9.3 18.1 -9.9 19 -12.2 20 -11.6 21 -9.8 22 -9 23 -9.1 24 -8.7 25 -9.1 26 -10.3 27 -8.9 28 -7.4 29 -7.2 30 -7.4 31 -5.6 32 -4.6 33 -4.6 34.1 -3.6 35.1 -2.2 36.1 -2.7 37.1 -1.4 38.1 -1.3 39.2 -2.3 40.2 -0.5 41.2 0.7 42.2 0.8 43.3 0.7 44.3 2.2 45.3 3.6 46.4 3.9 47.4 4.7 48.4 5.9 49.5 7.3 50.5 7.6 51.6 8.9 52.6 9.7 53.6 12.1 54.7 13 55.7 13.3 56.8 14.9 57.8 16.7 58.8 18.1 59.9 18.8 60.9 19.5 62 20.2 63 21.6 64.1 22.7 65.1 23.4 66.2 24.5 66.1 27 2.9 -1.2Z"/><path transform="translate(58.4 235.1)" d="M2.3 -26L3.5 -16.5 4.6 -10.3 5.5 -12.4 6.3 -16.2 7.4 -12.2 8.4 -10.7 9.3 -11.9 10.2 -14.4 11.2 -14.1 12.1 -14.4 13.2 -10.3 14.1 -10.1 15.1 -10 16.1 -10 17.1 -10.4 18 -9.9 19 -11.3 20 -12.4 21 -8.9 22 -7.6 23 -8.4 24 -7.5 25 -6.8 26 -6.6 27 -6 28 -4.9 29 -5.2 30 -4.8 31 -4.2 32 -4.4 33 -4.7 34.1 -2.8 35.1 -1.6 36.1 -2.6 37.1 -1.8 38.1 -1.7 39.2 -2.3 40.2 -0.1 41.2 1.5 42.2 1.6 43.3 1.9 44.3 3.3 45.3 4.3 46.4 4.7 47.4 6.3 48.4 7.7 49.5 8.9 50.5 8.8 51.6 9.6 52.6 10.2 53.6 12.6 54.7 13.7 55.7 14.2 56.8 15.8 57.8 17.4 58.8 18.4 59.9 19.3 60.9 20.1 62 20.8 63 22.2 64.1 23.1 65.2 23.6 66.2 24.6 66.2 27.1 2.9 -1.2Z"/><path transform="translate(57.5 235.7)" d="M2.5 -17.8L3.5 -14.1 4.6 -9.4 5.5 -10 6.3 -15.6 7.4 -12.4 8.4 -9.6 9.3 -10 10.2 -11.2 11.2 -10.4 12.2 -11.2 13.2 -10.3 14.1 -10.8 15.1 -10.6 16.1 -10.3 17 -10.5 18 -10.4 19 -11.4 20 -10.9 21 -8.3 22 -7.2 23 -7.2 24 -6.9 25 -6.3 26 -5.5 27 -4.5 28 -3.6 29 -4.1 30 -3.8 31 -4 32 -4.5 33 -3.5 34.1 -2.3 35.1 -2.2 36.1 -3.3 37.1 -2.4 38.1 -1.9 39.2 -2.8 40.2 -0.7 41.2 1.1 42.2 1.5 43.3 1.6 44.3 3.2 45.3 4.7 46.4 4.8 47.4 5.8 48.4 7.4 49.5 8.5 50.5 8.2 51.6 9 52.6 9.9 53.6 12.2 54.7 13.4 55.7 13.8 56.8 15.4 57.8 17.1 58.9 18.2 59.9 19.2 61 20.1 62 21 63.1 22.3 64.1 23.3 65.2 23.9 66.2 24.8 66.2 27.2 2.9 -1.2Z"/><path transform="translate(56.5 236.3)" d="M2.4 -17.8L3.5 -15.1 4.6 -9.1 5.5 -9 6.3 -14.5 7.3 -13.4 8.3 -10.3 9.3 -12 10.2 -12.4 11.2 -9.6 12.2 -10.9 13.1 -13 14.1 -12.9 15 -13.8 16 -12.5 17.1 -9.7 18 -11 18.9 -14.8 20 -11.6 21 -7.4 22 -6.2 23 -6.2 24 -6.6 25 -5.4 26 -3.5 27 -3.9 28 -3.6 29 -4.3 30 -4.3 31 -4.1 32 -6.3 33 -6 34.1 -3.2 35.1 -3.2 36.1 -4.5 37.1 -3.4 38.1 -2.7 39.2 -3.8 40.2 -1.9 41.2 -0.5 42.2 1 43.3 1.1 44.3 2.7 45.3 4.4 46.4 4.4 47.4 5.7 48.5 7.7 49.5 8.4 50.5 8 51.6 8.6 52.6 9 53.7 11.5 54.7 12.8 55.8 13.1 56.8 14.7 57.8 16.5 58.9 17.5 59.9 18.6 61 19.8 62 20.6 63.1 22 64.1 23.1 65.2 23.7 66.3 24.7 66.2 27.2 2.9 -1.2Z"/><path d="M99.3 250C99.3 221.1 101.9 211.5 105.8 211.5C109.8 211.5 112.4 221.1 112.4 250Z" fill="url(#dgr)"/><path transform="translate(55.5 236.9)" d="M2.5 -16.5L3.5 -13.6 4.5 -9.7 5.5 -10.1 6.3 -16.2 7.3 -14.7 8.3 -11.9 9.2 -13.7 10.2 -14.9 11.2 -11.3 12.1 -13.1 12.9 -20.2 14 -17.5 15 -15.2 16 -12.4 17.1 -8.9 18 -10.9 18.9 -13.9 20 -10.1 21 -6.2 22 -5.6 23 -5.7 24 -7 25 -6.5 26 -4.7 27 -5 28 -3.9 29 -4.2 30 -4.1 31 -3.6 32 -5.4 33 -5.2 34 -3.4 35.1 -4 36.1 -4.9 37.1 -3.4 38.1 -2 39.2 -3.1 40.2 -1.1 41.2 -0.1 42.3 0.7 43.3 1.6 44.3 3.6 45.3 5.5 46.4 5.5 47.4 6.6 48.5 8.5 49.5 9.2 50.5 9 51.6 9.6 52.6 10.6 53.7 12.5 54.7 14 55.8 14.4 56.8 15.7 57.8 17.1 58.9 17.8 59.9 18.9 61 20 62 20.9 63.1 22.1 64.2 23.3 65.2 24 66.3 25 66.2 27.3 2.9 -1.2Z"/><path transform="translate(54.5 237.4)" d="M2.4 -17.1L3.4 -16.7 4.4 -13.1 5.4 -13.1 6.3 -15.9 7.4 -10.8 8.4 -9.2 9.3 -10.7 10.1 -15.8 11.2 -9.5 12.2 -9.2 12.9 -19.3 14 -14.6 15 -12.1 16 -13.1 17 -10 18 -12.1 18.9 -13.8 20 -8.5 21 -6.1 22 -5.9 23 -5.5 24 -6.7 25 -7 26 -4.3 27 -4.9 28 -4.2 29 -4.8 30 -4.3 31 -3.8 32 -5.1 33 -4.2 34 -4.2 35.1 -5 36.1 -5.6 37.1 -3.8 38.1 -1.6 39.2 -2.5 40.2 -1.3 41.2 -0.3 42.3 0.7 43.3 1.5 44.3 3.4 45.4 5.1 46.4 5.5 47.4 6.5 48.5 8.3 49.5 8.9 50.5 8.9 51.6 9.3 52.6 10.3 53.7 12.2 54.7 13.7 55.8 14.2 56.8 15.4 57.9 17 58.9 17.8 60 18.9 61 19.7 62.1 20.5 63.1 21.8 64.2 22.9 65.2 23.5 66.3 24.5 66.2 27.4 2.9 -1.2Z"/><path transform="translate(53.5 238.0)" d="M2.5 -13.1L3.5 -12.6 4.4 -13.3 5.4 -12.5 6.4 -10.7 7.4 -9.2 8.4 -8.4 9.3 -9.7 10.1 -15.4 11.2 -10.7 12.2 -9.7 13 -15.2 14.1 -11.2 15.1 -10.9 16 -14.1 17 -11.7 18 -12.3 18.9 -12.4 20 -7.3 21 -4.9 22 -4.5 23 -4.5 24 -5.3 25 -5.9 26 -3.8 27 -4.2 28 -4.4 29 -4.3 30 -3.2 31 -3.2 32 -4.5 33 -3.5 34 -3.5 35.1 -4.4 36.1 -5.2 37.1 -3.7 38.1 -0.7 39.2 -0.9 40.2 0.3 41.2 0.7 42.3 1.5 43.3 2.9 44.3 4.7 45.4 6.1 46.4 6.5 47.4 7.3 48.5 9.1 49.5 9.8 50.5 10.2 51.6 10.4 52.6 11.4 53.7 13.1 54.7 14.6 55.8 14.8 56.8 16 57.9 17.4 58.9 18 60 18.7 61 19.4 62.1 20.5 63.1 21.7 64.2 22.8 65.3 23.4 66.3 24.4 66.3 27.5 2.9 -1.2Z"/><path d="M86.5 236C86.5 216.9 87.9 210.5 90 210.5C92.1 210.5 93.5 216.9 93.5 236Z" fill="url(#dgr)"/><path d="M82 232C82 211.8 82.8 205 84 205C85.2 205 86 211.8 86 232Z" fill="url(#dgo)"/><path transform="translate(52.5 238.6)" d="M2.5 -14.7L3.4 -14.8 4.3 -17.9 5.3 -14.7 6.4 -9.9 7.4 -9.3 8.3 -8.9 9.3 -10.9 10 -19.5 11.2 -11.1 12.2 -9.4 13.1 -11.7 14.1 -9 15.1 -10.5 16 -11.9 17 -10.6 18 -11.2 19 -9.6 20 -9.1 21 -5.7 22 -4.7 23 -4 24 -5.1 25 -5.3 26 -3.1 27 -3.5 28 -3.5 29 -3.8 30 -3.2 31 -3 32 -5.1 33 -5.1 34 -4.2 35 -4.5 36.1 -4.1 37.1 -3.4 38.1 -2 39.2 -1.5 40.2 0 41.2 0.1 42.3 0.1 43.3 2 44.3 4.2 45.4 5.6 46.4 6.2 47.4 7.2 48.5 9.8 49.5 10.3 50.6 10.3 51.6 10.7 52.6 11.6 53.7 13 54.7 14.4 55.8 14.9 56.8 15.7 57.9 17 58.9 17.5 60 18.1 61.1 19 62.1 20 63.2 21.2 64.2 22.3 65.3 23 66.4 24.1 66.3 27.5 2.9 -1.2Z"/><path transform="translate(51.5 239.2)" d="M2.5 -12.6L3.5 -11.7 4.3 -15.7 5.3 -16.4 6.4 -9.2 7.4 -8.3 8.4 -8.2 9.3 -9 10.1 -13.9 11.2 -9.4 12.2 -9 13.1 -11.3 14.1 -7.9 15.1 -8.9 16 -11.4 17 -10.5 18 -11.3 19 -9.9 20 -8.6 21 -6.1 22 -5.6 23 -5.2 24 -6.6 24.9 -7.6 26 -4.7 27 -4.6 28 -4.3 29 -3.8 30 -3.8 31 -3.2 32 -3.4 33 -4.3 34 -4.8 35 -5.4 36.1 -3.7 37.1 -2.1 38.1 -1 39.2 -0.5 40.2 1.6 41.2 1.3 42.3 0.7 43.3 3.1 44.3 5.5 45.4 7.3 46.4 8.2 47.4 8.9 48.5 11.1 49.5 11.9 50.6 12 51.6 12.3 52.6 13.4 53.7 14.3 54.7 15.6 55.8 16.2 56.8 16.8 57.9 18 58.9 18.4 60 18.9 61.1 19.8 62.1 20.9 63.2 21.8 64.2 22.8 65.3 23.6 66.4 24.5 66.3 27.6 2.9 -1.2Z"/><path transform="translate(50.5 239.8)" d="M2.6 -11.5L3.5 -11.3 4.3 -15.9 5.3 -16.6 6.4 -8.7 7.4 -8.2 8.3 -8.3 9.3 -8.5 10.2 -12 11.2 -8.8 12.2 -8.3 13.1 -8.5 14.2 -6.2 15.1 -7.3 16 -10.6 17 -9.8 18 -7.7 19 -6.7 20 -7.5 21 -6 22 -5 23 -4.6 24 -6.2 24.9 -7.1 26 -4.6 27 -4.8 28 -4.7 29 -3.6 30 -3.7 31 -3.2 32 -3.9 33 -4.2 34 -4.3 35 -4.8 36.1 -2.6 37.1 -0.1 38.1 0.5 39.2 0.2 40.2 2 41.2 2.3 42.3 2.7 43.3 4.2 44.3 6.5 45.4 8.3 46.4 8.9 47.4 9.1 48.5 11.1 49.5 12.3 50.6 12.5 51.6 13 52.7 13.9 53.7 14.9 54.7 15.8 55.8 16.2 56.9 17 57.9 18.3 59 18.6 60 19 61.1 20 62.1 21.1 63.2 22 64.3 23 65.3 23.8 66.4 24.8 66.3 27.7 2.9 -1.2Z"/><path transform="translate(49.5 240.4)" d="M2.6 -9.7L3.6 -9.8 4.4 -14.4 5.3 -15.5 6.4 -9.8 7.3 -10.6 8.3 -10.6 9.3 -9.5 10.2 -10.6 11.2 -10.2 12.1 -10.4 13.2 -7.9 14.2 -5.6 15.1 -7 16 -11.3 17 -7.8 18.1 -5.4 19.1 -4.8 20 -6.8 21 -7.4 22 -5.5 23 -4.7 24 -5.7 24.9 -6.9 25.9 -5.6 26.9 -6.2 27.9 -7.1 29 -5.1 30 -5 31 -4.4 32 -4.5 33 -4.9 34 -4.2 35 -4.6 36.1 -3.4 37.1 -0.1 38.1 0.2 39.2 -0.1 40.2 2 41.2 2.8 42.3 3.2 43.3 4.6 44.3 6.6 45.4 8.2 46.4 9 47.4 9.4 48.5 11.2 49.5 12.5 50.6 12.8 51.6 13.3 52.7 14.2 53.7 15.3 54.8 16.1 55.8 16.5 56.9 17 57.9 18.1 59 18.6 60 18.8 61.1 19.7 62.2 20.8 63.2 21.8 64.3 22.9 65.3 23.7 66.4 24.7 66.4 27.8 2.9 -1.2Z"/><path transform="translate(48.5 241.0)" d="M2.5 -12.9L3.5 -11.6 4.3 -14.4 5.2 -18.9 6.3 -13.1 7.3 -10.9 8.3 -9.5 9.3 -9.3 10.2 -10.6 11.2 -10.2 12.1 -9 13.2 -7.6 14.2 -6 15 -9.4 15.9 -12.3 17 -7.4 18 -5.8 19 -5 20 -6.7 20.9 -9.2 22 -7 23 -6.1 23.9 -8.1 24.9 -9.6 25.9 -8.3 26.9 -9 27.9 -9.5 28.9 -6.9 29.9 -7.2 31 -5.3 32 -5.6 33 -7.2 34 -5.8 35 -4.5 36.1 -3.7 37.1 -1.4 38.1 -1.8 39.1 -2.7 40.2 -0.4 41.2 1.2 42.3 1.8 43.3 3.5 44.3 5.4 45.4 6.5 46.4 7.5 47.5 8.1 48.5 9.8 49.5 11.6 50.6 12.1 51.6 12.8 52.7 14.3 53.7 15.1 54.8 16 55.8 16.6 56.9 17.1 57.9 18.1 59 18.8 60.1 18.9 61.1 19.6 62.2 20.8 63.2 21.8 64.3 22.8 65.4 23.7 66.4 24.7 66.4 27.9 2.9 -1.2Z"/><path transform="translate(47.5 241.6)" d="M2.4 -14.7L3.5 -11.2 4.4 -12.2 5.2 -18.1 6.2 -16.7 7.3 -11.8 8.3 -9.3 9.3 -9.3 10.1 -11.5 11.1 -12.3 12.1 -9.6 13.1 -8.4 14.1 -6.9 15 -10.9 15.9 -15.2 17 -8.6 18 -7.1 19 -6.2 20 -5.9 20.9 -7.5 21.9 -7.7 22.9 -7.8 23.9 -9 24.9 -8.9 25.9 -8 26.9 -9.2 27.9 -11.1 28.9 -6.9 29.9 -6.7 31 -5.7 32 -6 33 -7.7 34 -6 35 -3.4 36.1 -3 37.1 -1.8 38.1 -1.9 39.1 -2.6 40.2 -0.9 41.2 1.6 42.3 2.7 43.3 4.3 44.3 6 45.4 6.8 46.4 7.5 47.5 8 48.5 9.6 49.5 11.5 50.6 12.1 51.6 13.1 52.7 14 53.7 14.7 54.8 15.8 55.8 16.4 56.9 17 57.9 18.2 59 18.8 60.1 19 61.1 19.7 62.2 20.8 63.3 21.8 64.3 22.9 65.4 23.6 66.4 24.6 66.4 27.9 2.9 -1.2Z"/><path transform="translate(46.5 242.2)" d="M2.4 -14.4L3.5 -11.8 4.4 -12.9 5.1 -19.2 6.2 -16.1 7.2 -12.2 8.3 -8.8 9.3 -8.7 10.1 -12 11.1 -13.2 12.1 -11.9 13.1 -9 14.1 -6.9 15 -9.6 15.9 -12.9 17 -9.8 18 -8.1 19 -7.1 20 -7 20.9 -7.6 21.9 -8.4 22.9 -8.4 23.9 -7.9 24.9 -7.6 25.9 -7.3 26.9 -8.3 27.9 -10.6 28.9 -6.4 29.9 -5.8 31 -5 32 -5.7 33 -6.8 34 -4.9 35 -2.8 36.1 -1.8 37.1 -0.9 38.1 -0.3 39.1 -0.8 40.2 0.3 41.2 2.8 42.3 3.8 43.3 5.2 44.3 6.6 45.4 7.3 46.4 8.3 47.5 8.2 48.5 9.6 49.6 11.4 50.6 12 51.6 13.2 52.7 13.9 53.7 14.5 54.8 15.9 55.8 16.7 56.9 17.4 58 18.6 59 19.2 60.1 19.5 61.1 20.3 62.2 21.3 63.3 22.4 64.3 23.3 65.4 24 66.5 25 66.4 28 2.9 -1.2Z"/><path transform="translate(45.5 242.7)" d="M2.4 -14.9L3.4 -13.7 4.3 -15.4 5.1 -18.3 6.2 -13.9 7.3 -11.4 8.3 -9.3 9.2 -10.1 10 -15.3 10.9 -17.2 11.9 -15.7 13.1 -10.3 14.1 -6.6 15.1 -7.7 15.9 -11.4 17 -9.3 18 -7.8 19 -6.8 20 -6.4 20.9 -7.4 21.9 -9.8 22.9 -8.5 23.9 -8 24.9 -7.8 25.9 -7.6 26.8 -10 27.8 -11.5 28.9 -6.5 29.9 -6 30.9 -5.1 32 -5.1 33 -6.4 34 -5.4 35 -3.6 36.1 -3 37.1 -2 38.1 -1.4 39.1 -1.4 40.2 0.7 41.2 2.8 42.3 3.7 43.3 4.3 44.3 5.6 45.4 6.5 46.4 7.7 47.5 7.9 48.5 9.6 49.6 11.1 50.6 11.3 51.7 13.1 52.7 14 53.8 14.6 54.8 15.9 55.9 16.8 56.9 17.2 58 18.6 59 19.4 60.1 19.7 61.2 20.5 62.2 21.5 63.3 22.6 64.3 23.7 65.4 24.5 66.5 25.5 66.4 28.1 2.9 -1.2Z"/><path transform="translate(44.5 243.3)" d="M2.2 -20.7L3.4 -14.3 4.4 -11.7 5.2 -16 6.3 -12.4 7.3 -9.6 8.3 -8.6 9.2 -11.1 9.8 -20.7 10.9 -16 12.1 -11.1 13 -10.9 14.1 -8.8 15 -8 16 -8 17 -9 17.9 -10.2 19 -7.2 20 -6.2 20.9 -7.1 21.9 -8 22.9 -8.4 23.9 -8.7 24.9 -7.7 25.9 -6.8 26.9 -8 27.9 -8.8 28.9 -6.1 29.9 -5.8 30.9 -5 31.9 -5.5 32.9 -7.9 34 -6.9 35 -3 36.1 -2.6 37.1 -1.9 38.1 -1.1 39.1 -1.1 40.2 0.8 41.2 3.2 42.3 4.3 43.3 5.1 44.3 5.9 45.4 7.1 46.4 8.2 47.5 8.3 48.5 9.4 49.6 10.8 50.6 11 51.7 12.9 52.7 14 53.8 14.7 54.8 16 55.9 16.7 56.9 17.5 58 18.7 59 19.6 60.1 20 61.2 21 62.2 21.9 63.3 23 64.4 24 65.4 24.8 66.5 25.8 66.5 28.2 2.9 -1.2Z"/><path transform="translate(43.4 243.9)" d="M2.5 -11.9L3.5 -11.2 4.4 -10.8 5.2 -15 6.3 -11.4 7.3 -9 8.3 -8.5 9.2 -10.3 9.9 -19.5 10.9 -16.4 12.1 -10.5 13 -9.9 14.1 -8 15.1 -6.4 16.1 -6.4 17 -8.9 17.9 -11.2 19 -7 20 -5.9 20.9 -6.9 21.9 -7.6 22.9 -7.8 23.9 -8.6 24.9 -7 25.9 -6.1 26.9 -7 27.9 -8.2 28.9 -6 29.9 -5.2 30.9 -4.7 31.9 -5.4 33 -5.7 34 -5 35 -2.6 36 -2.4 37.1 -2.1 38.1 -1.1 39.1 -0.6 40.2 0.7 41.2 2.7 42.3 3.5 43.3 3.7 44.3 4.7 45.4 5.9 46.4 7.1 47.5 7.3 48.5 8.4 49.6 10.1 50.6 10.7 51.7 12.6 52.7 13.5 53.8 14.2 54.8 15.5 55.9 16.3 56.9 17.3 58 18.6 59.1 19.5 60.1 19.9 61.2 20.9 62.2 21.9 63.3 22.9 64.4 23.8 65.4 24.8 66.5 25.7 66.5 28.2 2.9 -1.2Z"/><path transform="translate(42.4 244.5)" d="M2.4 -13.2L3.5 -10.8 4.4 -9.8 5.3 -12.8 6.3 -9.9 7.3 -8.7 8.3 -7.9 9.2 -8.4 10 -15 11 -14 12.1 -9.3 13 -11.6 13.9 -12 15 -7.7 16 -7.9 16.8 -14.4 17.8 -15.4 18.9 -8.1 20 -6.2 20.9 -6.1 21.9 -6.6 22.9 -7.1 23.8 -9.5 24.9 -6.8 25.9 -5.6 26.9 -5.7 27.9 -5.4 28.9 -4.9 29.9 -4.5 30.9 -4.1 32 -4 33 -2.6 34 -2.8 35 -2.6 36.1 -1.8 37.1 -1.4 38.1 -0.2 39.2 1 40.2 2 41.2 3.8 42.3 4.5 43.3 4.3 44.3 5.6 45.4 6.9 46.4 8.1 47.5 8.4 48.5 9.7 49.6 11.1 50.6 11.9 51.7 13.8 52.7 14.6 53.8 15.4 54.8 16.5 55.9 17.4 57 18.3 58 19.4 59.1 20.1 60.1 20.5 61.2 21.5 62.3 22.4 63.3 23.5 64.4 24.3 65.5 25.2 66.5 26.2 66.5 28.3 2.9 -1.2Z"/><path transform="translate(41.4 245.1)" d="M2.5 -10.2L3.5 -8.9 4.5 -8.8 5.3 -11.5 6.3 -9.9 7.4 -7.4 8.3 -7.2 9.2 -8.4 10 -13.1 10.9 -15.7 12.1 -9.1 13 -10.7 13.9 -12.4 15 -8.2 16 -8.5 16.8 -15.5 17.7 -15.3 18.9 -8.1 19.9 -7.2 20.9 -8.5 21.9 -9 22.9 -8.3 23.8 -11.5 24.8 -9 25.9 -7.2 26.9 -7.3 27.9 -5.9 28.9 -5.6 29.9 -5.1 30.9 -4.2 31.9 -4.4 33 -2.6 34 -2.9 35 -3.2 36 -2.4 37.1 -2.1 38.1 0.2 39.2 2 40.2 2.7 41.2 4.2 42.3 4.8 43.3 4.4 44.4 5.4 45.4 6.6 46.4 7.6 47.5 7.8 48.5 9.1 49.6 10.3 50.6 10.7 51.7 12.9 52.7 13.7 53.8 14.7 54.8 16 55.9 17 57 18.1 58 19.6 59.1 20.3 60.1 20.6 61.2 21.8 62.3 22.5 63.3 23.8 64.4 24.7 65.5 25.4 66.5 26.4 66.5 28.4 2.9 -1.2Z"/><path transform="translate(40.4 245.8)" d="M2.5 -9.8L3.6 -7.9 4.5 -7.6 5.3 -12.3 6.2 -12.1 7.4 -6.9 8.3 -7 9.2 -8.9 10.1 -10.7 11 -13 12.1 -9.6 13 -10.8 13.9 -13.9 15 -8.3 16 -7.6 16.7 -16.6 17.6 -19.2 18.9 -10 19.9 -7.3 20.9 -7.6 21.9 -8.4 22.9 -7.4 23.8 -9.4 24.9 -6.8 25.9 -5.5 26.9 -5.9 27.9 -6.5 28.9 -6.3 29.9 -5.9 30.9 -4.2 31.9 -4.4 33 -2.6 34 -1.1 35 -1.1 36.1 -0.4 37.1 -0.2 38.1 2.3 39.2 4 40.2 4.5 41.3 5.2 42.3 5.6 43.3 5.2 44.4 6.2 45.4 7.3 46.4 7.4 47.5 7.4 48.5 8.8 49.6 9.9 50.6 9.8 51.7 12.2 52.7 13.1 53.8 13.9 54.9 15.3 55.9 16.5 57 17.8 58 19.3 59.1 20 60.2 20.4 61.2 21.8 62.3 22.6 63.4 23.8 64.4 24.7 65.5 25.4 66.6 26.3 66.5 28.5 2.9 -1.2Z"/><path transform="translate(39.4 246.4)" d="M2.6 -8.1L3.6 -7.7 4.5 -7.7 5.4 -9.5 6.4 -8.4 7.4 -6 8.3 -6.5 9.3 -7 10.2 -7.6 11.1 -10 12.1 -8.4 13 -9.7 14 -9.6 15 -8.1 16 -8.1 16.8 -12.6 17.8 -13.1 18.9 -7.4 19.9 -5.8 20.9 -6.2 21.9 -7.1 22.9 -6.4 23.9 -7.1 24.9 -5.2 25.9 -5.1 26.9 -5.6 27.9 -5.2 28.9 -5.4 29.9 -4.3 31 -2.7 31.9 -3.5 33 -1.9 34 -0.9 35 -2 36 -1.3 37.1 -0.8 38.1 1.2 39.2 2.9 40.2 3.3 41.2 4 42.3 4.4 43.3 4 44.4 5.6 45.4 6.8 46.4 6.9 47.5 7.1 48.5 8.9 49.6 9.9 50.6 9.9 51.7 12.1 52.8 13.3 53.8 13.8 54.9 15.1 55.9 16.5 57 18.2 58 19.6 59.1 20.1 60.2 20.7 61.2 21.9 62.3 22.9 63.4 24 64.4 24.8 65.5 25.7 66.6 26.7 66.6 28.6 2.9 -1.2Z"/><path transform="translate(38.3 247.0)" d="M2.4 -12.3L3.5 -8.5 4.5 -6.9 5.4 -8 6.4 -7.6 7.4 -5.7 8.3 -6.3 9.2 -8.5 10.2 -8.1 11.2 -7.4 12.1 -7 12.9 -11.9 13.9 -10.6 15 -8.4 15.9 -9.9 16.8 -13.6 17.8 -11.1 18.9 -6.6 20 -5.2 20.9 -5.3 21.9 -6 22.9 -5.6 23.9 -6.6 24.9 -6.1 25.9 -5.3 26.9 -4.6 27.9 -4.5 28.9 -4.6 29.9 -3.9 30.9 -2.7 31.9 -4.3 33 -2.3 34 -1 35 -0.9 36.1 0.3 37.1 -0.2 38.1 1.6 39.2 2.7 40.2 3.2 41.2 3.7 42.3 3.9 43.3 3.9 44.4 5.6 45.4 7.2 46.4 7.1 47.5 8.1 48.6 9.9 49.6 10.9 50.7 10.8 51.7 13.1 52.8 14.2 53.8 14.3 54.9 15.5 55.9 16.7 57 18.5 58.1 19.8 59.1 20.1 60.2 20.7 61.3 21.8 62.3 22.8 63.4 24.1 64.5 25 65.5 25.8 66.6 26.8 66.6 28.6 2.9 -1.2Z"/><path transform="translate(37.3 247.6)" d="M2.6 -8.7L3.6 -7.3 4.5 -6.7 5.4 -8 6.4 -6.7 7.4 -5 8.3 -6.9 9.1 -10.5 10.2 -8.5 11.2 -6.5 12.1 -7.7 12.8 -15.5 13.9 -10.1 15 -6.9 16 -8.1 16.8 -13.8 17.8 -12.8 18.9 -7.7 19.9 -6.5 20.9 -7.1 21.9 -6.7 22.9 -4.4 23.9 -4.6 24.9 -5.8 25.9 -5.2 26.9 -4.2 27.9 -5.1 28.8 -6.7 29.9 -3.5 31 -2.2 31.9 -5.6 32.9 -3.7 34 -1.4 35 0.3 36.1 1.7 37.1 1.4 38.2 3.2 39.2 4.4 40.2 4.3 41.2 4.3 42.3 4.7 43.3 4.9 44.4 6.2 45.4 7.4 46.4 6.9 47.5 7.9 48.6 10.2 49.6 11.1 50.7 11.2 51.7 13.7 52.8 14.7 53.8 14.5 54.9 16 56 17.2 57 18.8 58.1 20 59.1 20.2 60.2 20.9 61.3 22 62.3 22.9 63.4 24.3 64.5 25.1 65.5 25.8 66.6 26.9 66.6 28.7 2.9 -1.2Z"/><path transform="translate(36.3 248.2)" d="M2.5 -9.2L3.6 -6.9 4.6 -5 5.5 -6 6.4 -6.5 7.4 -4.5 8.4 -5.1 9.1 -9.8 10.1 -10.5 11.2 -5.7 12.1 -7.5 12.9 -13.4 14 -9.4 15 -7.6 15.9 -8.8 16.8 -12.8 17.8 -12.6 18.8 -10.5 19.8 -9 20.8 -9.2 21.9 -6.3 22.9 -4.8 23.9 -5.8 24.9 -6.2 25.8 -6.8 26.8 -6.1 27.8 -7.1 28.8 -7.9 29.9 -3.7 30.9 -3.5 31.8 -10.5 32.9 -6.3 34 -1.7 35 0.6 36.1 2.6 37.1 2 38.1 3.1 39.2 4.2 40.2 3.5 41.2 3.5 42.3 4.2 43.3 4.3 44.4 5.5 45.4 6.5 46.4 5.8 47.5 7.2 48.6 10.2 49.6 11 50.7 11.3 51.7 13.7 52.8 14.9 53.8 14.2 54.9 15.7 56 17.1 57 18.5 58.1 19.7 59.2 19.9 60.2 20.7 61.3 21.8 62.4 22.7 63.4 24.2 64.5 25.1 65.6 25.9 66.6 27 66.6 28.8 2.9 -1.2Z"/><path transform="translate(35.2 248.8)" d="M2.6 -7L3.6 -5 4.6 -3.8 5.5 -4.5 6.5 -5 7.5 -3.7 8.4 -3.8 9.2 -7.5 10 -11.4 11.2 -4.7 12.1 -6.3 13 -10.3 14 -8.1 14.9 -8.8 15.9 -10.1 16.8 -10.9 17.8 -11.3 18.7 -12 19.7 -12.4 20.7 -12.1 21.9 -5.8 22.9 -4.6 23.9 -6 24.8 -6.2 25.8 -8.3 26.8 -7.8 27.8 -6.8 28.8 -6.4 29.9 -2.7 30.9 -3.2 31.7 -11.8 32.8 -8.2 34 -3.2 35 -0.3 36.1 2.4 37.1 2.4 38.1 3 39.2 4.1 40.2 3.1 41.2 3.3 42.3 4.2 43.3 4.4 44.4 5.1 45.4 6.4 46.4 5.8 47.5 7.1 48.6 10.5 49.6 10.9 50.7 11.1 51.7 13.8 52.8 14.9 53.8 13.7 54.9 15.6 56 16.9 57 18.5 58.1 19.8 59.2 19.7 60.2 20.5 61.3 21.7 62.4 22.5 63.4 24.1 64.5 24.9 65.6 25.8 66.7 27 66.6 28.9 2.9 -1.2Z"/></g></g><path fill="url(#fwd)" d="M37.8 241.8L38.9 243.8 39.8 245 40.8 244.3 41.7 243.7 42.7 245.1 43.6 245 44.4 241.3 45.2 237.4 46.4 244.1 47.3 242.5 48.2 238.5 49.2 240.7 50.2 240 51.1 238.7 52 237.9 53 237.5 54 236.8 54.9 236.4 55.9 236.6 57.1 243 58.1 244.2 59.1 242.8 60.1 242.6 61 240.5 62 241 63 242 64.1 242.4 65.1 246 66.1 245.6 67 237 68.1 240.6 69.2 245.6 70.2 248.4 71.3 251.2 72.3 251.1 73.4 251.8 74.4 252.9 75.4 251.9 76.4 252.1 77.5 253 78.5 253.1 79.6 253.9 80.6 255.2 81.7 254.6 82.7 255.9 83.8 259.3 84.8 259.7 85.9 259.9 87 262.6 88 263.7 89.1 262.5 90.1 264.4 91.2 265.7 92.3 267.3 93.3 268.6 94.4 268.5 95.4 269.3 96.5 270.5 97.6 271.3 98.7 272.9 99.7 273.7 100.8 274.6 101.9 275.8 100.8 277.2 99.8 276.5 98.7 275.9 97.6 275.3 96.6 274.5 95.5 273.9 94.4 273.2 93.4 272.6 92.3 272.3 91.2 271.5 90.2 270.7 89.1 270 88.1 269.1 87 269 86 268.4 84.9 267.2 83.9 266.8 82.8 266.4 81.8 265 80.7 264.3 79.7 264.1 78.6 263.4 77.6 262.8 76.6 262.4 75.5 261.8 74.5 261.4 73.5 261.4 72.5 260.7 71.4 260.2 70.4 259.8 69.4 258.7 68.4 257.5 67.3 255.7 66.3 254.3 65.3 256.5 64.3 256.3 63.3 254.9 62.3 254.5 61.3 253.8 60.3 253.3 59.3 253.6 58.3 253.4 57.3 253.4 56.3 252.7 55.3 250.5 54.3 250.1 53.3 249.9 52.3 249.8 51.4 249.6 50.4 249.5 49.4 249.6 48.5 249.4 47.5 248.5 46.5 249.3 45.6 249.5 44.5 247.2 43.6 248 42.7 248.8 41.8 248.5 40.8 247.8 39.8 247.6 38.9 247.5 37.9 246.9 36.9 245.9Z"/><path fill="#f6f6f6" d="M36.9 246.2L37.9 247.1 38.9 247.8 39.8 247.9 40.8 248 41.8 248.8 42.7 249 43.6 248.3 44.5 247.4 45.6 249.7 46.5 249.6 47.5 248.7 48.5 249.7 49.4 249.8 50.4 249.8 51.4 249.9 52.3 250 53.3 250.2 54.3 250.4 55.3 250.8 56.3 253 57.3 253.7 58.3 253.6 59.3 253.9 60.3 253.6 61.3 254.1 62.3 254.7 63.3 255.2 64.3 256.6 65.3 256.8 66.3 254.6 67.3 256 68.4 257.8 69.4 258.9 70.4 260.1 71.4 260.4 72.5 261 73.5 261.6 74.5 261.7 75.5 262.1 76.6 262.7 77.6 263.1 78.6 263.6 79.7 264.4 80.7 264.5 81.8 265.3 82.8 266.6 83.9 267.1 84.9 267.5 86 268.6 87 269.3 88.1 269.3 89.1 270.2 90.2 271 91.2 271.8 92.3 272.5 93.4 272.8 94.4 273.4 95.5 274.1 96.6 274.7 97.6 275.6 98.7 276.2 99.8 276.8 100.8 277.5 100.8 279 99.8 278.5 98.7 278 97.6 277.4 96.6 276.9 95.5 276.4 94.4 275.9 93.4 275.4 92.3 274.9 91.2 274.4 90.2 273.9 89.1 273.4 88.1 272.9 87 272.4 86 271.9 84.9 271.4 83.9 270.9 82.9 270.5 81.8 270 80.8 269.5 79.7 269 78.7 268.5 77.7 268 76.6 267.5 75.6 267 74.6 266.5 73.6 266.1 72.6 265.6 71.5 265.1 70.5 264.6 69.5 264.1 68.5 263.7 67.5 263.2 66.5 262.7 65.5 262.2 64.5 261.7 63.4 261.3 62.4 260.8 61.4 260.3 60.5 259.8 59.5 259.4 58.5 258.9 57.5 258.4 56.5 258 55.5 257.5 54.5 257 53.5 256.6 52.5 256.1 51.6 255.6 50.6 255.2 49.6 254.7 48.6 254.2 47.7 253.8 46.7 253.3 45.7 252.9 44.7 252.4 43.8 252 42.8 251.5 41.9 251 40.9 250.6 39.9 250.1 39 249.7 38 249.2 37.1 248.8Z"/></g><polygon points="87.8,190 89.2,190 91.5,211 87.5,211" fill="url(#dpk)"/><polygon points="103.5,190 106.5,190 110,213 101,213" fill="url(#dpk)"/><polygon points="61.4,253 64.6,253 73.6,260.5 70.4,260.5" fill="#f5a55a" fill-opacity="0.75"/><polygon points="110.8,254 113.2,254 119.2,258 116.8,258" fill="#f5a55a" fill-opacity="0.60"/><path d="M31.3 251.1L101.4 284.6M101.4 284.6L158.7 245.2M31.3 251.1L28.4 190.7M33.1 253.2L35 252.1M48.4 260.5L50.2 259.4M64 268L65.9 266.9M80.2 275.8L82 274.6M96.9 283.8L98.7 282.6M157.6 247.4L155.5 246.5M147.8 254.2L145.7 253.2M137.7 261.1L135.6 260.2M127.3 268.3L125.2 267.4M116.6 275.7L114.5 274.7M105.6 283.4L103.4 282.3M29.6 240.2L31.5 241.1M29.1 229.6L31 230.5M28.5 218.8L30.5 219.7M28 207.9L29.9 208.8M27.4 196.8L29.4 197.6" stroke="#222" stroke-width="0.55" fill="none"/><g font-family="Liberation Serif, serif" font-size="5.6" text-anchor="middle" fill="#111"><text x="29.6" y="264.6">0</text><text x="44.3" y="271.9">2000</text><text x="59.5" y="279.4">4000</text><text x="75.1" y="287.1">6000</text><text x="91.3" y="295.1">8000</text><text x="112.1" y="294.4">1.0</text><text x="122.5" y="286.8">0.8</text><text x="132.7" y="279.4">0.6</text><text x="142.5" y="272.2">0.4</text><text x="152" y="265.2">0.2</text><text x="161.2" y="258.5">0.0</text><text x="20.1" y="243.9">2</text><text x="19.5" y="233.3">4</text><text x="19" y="222.6">6</text><text x="18.5" y="211.6">8</text><text x="17.9" y="200.5">10</text></g><g font-family="Liberation Serif, serif" font-size="5.5" text-anchor="middle" fill="#111"><text transform="translate(54.1 285.1) rotate(25.6)" y="1.98">Frequency(Hz)</text><text transform="translate(143.8 281.3) rotate(-34.6)" y="1.98">Time(s)</text><text transform="translate(6 222.8) rotate(87.2)" y="1.98">Amplitude</text></g></g><g id="pe"><polygon points="222.8,253.3 281,219.1 280.8,162.5 219.9,193.7" fill="#f3f3f3"/><polygon points="281,219.1 348.7,247.5 351.5,188.3 280.8,162.5" fill="#f5f5f5"/><polygon points="222.8,253.3 292.1,286.5 348.7,247.5 281,219.1" fill="#f2f2f2"/><line x1="281" y1="219.1" x2="280.8" y2="162.5" stroke="#e8e8e8" stroke-width="0.6"/><g filter="url(#sft)"><use href="#se" fill="#fff" filter="url(#glw)"/><g fill="url(#ge)"><g id="se"><path fill-opacity="0.30" transform="translate(278.5 220.5)" d="M2.8 -17.6L3.8 -16 4.7 -9.8 5.7 -7 6.6 -6.7 7.5 -5.9 8.5 -7.7 9.4 -10.6 10.4 -5.9 11.3 -13.4 12.3 -17.7 13.2 -12.4 14.2 -6.8 15.1 -5.2 16.1 -2.8 17 -2.7 18 -5.9 18.9 -2.9 19.9 -2.5 20.9 -4.2 21.8 -2.5 22.8 -1 23.7 -0.1 24.7 -0.7 25.7 -2.5 26.7 -0.9 27.6 2.8 28.5 5.6 29.5 7.1 30.5 7.6 31.4 8.6 32.4 9.6 33.4 10.4 34.4 10.9 35.3 11.4 36.3 11.8 37.3 12.2 38.3 12.5 39.3 13 40.3 13.3 41.3 13.7 42.3 14.2 43.3 14.6 44.3 15 45.3 15.4 46.3 15.8 47.3 16.3 48.3 16.8 49.3 17.2 50.3 17.7 51.3 18.1 52.3 18.5 53.4 19 54.4 19.5 55.4 19.8 56.4 20.2 57.4 20.6 58.5 21.1 59.5 21.5 60.5 22 61.5 22.6 62.6 23 63.6 23.5 64.6 24 64.6 24.6 2.9 -1.3Z"/><path fill-opacity="0.41" transform="translate(277.6 221.0)" d="M2.8 -18.3L3.8 -16.6 4.7 -10 5.7 -7.5 6.6 -7.7 7.5 -6.1 8.5 -7.6 9.4 -10.4 10.4 -7.6 11.3 -14.7 12.3 -16.5 13.2 -11.6 14.2 -7.5 15.1 -7.4 16.1 -4.7 17 -4.6 18 -8.4 19 -6.4 19.9 -6.1 20.9 -6.4 21.9 -5 22.8 -4.7 23.8 -3.4 24.8 -2.8 25.7 -2.6 26.7 -1.6 27.6 0.6 28.6 3.4 29.5 5.7 30.5 6.3 31.5 7.3 32.4 8.5 33.4 9.6 34.4 10.1 35.4 10.6 36.4 11.1 37.4 11.3 38.3 11.7 39.3 12.1 40.3 12.4 41.3 12.8 42.3 13.4 43.3 13.8 44.3 14.1 45.3 14.6 46.3 15 47.3 15.6 48.3 16.1 49.3 16.5 50.4 17 51.4 17.4 52.4 17.7 53.4 18.2 54.4 18.7 55.4 19.1 56.5 19.6 57.5 20 58.5 20.4 59.5 20.9 60.6 21.4 61.6 22 62.6 22.5 63.7 23 64.7 23.5 64.6 24.7 2.9 -1.3Z"/><path fill-opacity="0.51" transform="translate(276.7 221.6)" d="M2.8 -15L3.8 -13.3 4.7 -10.3 5.7 -8.8 6.6 -8.1 7.5 -6.8 8.5 -7.8 9.4 -8.5 10.4 -8.7 11.3 -12.8 12.3 -12.9 13.2 -11.3 14.2 -8.6 15.1 -8.9 16.1 -6.7 17 -6 18 -8.3 19 -7.9 19.9 -7 20.9 -7.3 21.9 -6.1 22.8 -5.2 23.8 -4.6 24.8 -4.4 25.7 -3.5 26.7 -1.5 27.7 0 28.6 2.5 29.6 4.7 30.5 5.8 31.5 7.1 32.5 8.2 33.4 9.3 34.4 9.9 35.4 10.4 36.4 10.9 37.4 11.2 38.4 11.6 39.3 12 40.3 12.3 41.3 12.7 42.3 13.3 43.3 13.6 44.3 14 45.3 14.4 46.3 14.9 47.3 15.5 48.4 16 49.4 16.4 50.4 16.9 51.4 17.3 52.4 17.6 53.4 18 54.4 18.5 55.5 18.9 56.5 19.5 57.5 19.9 58.5 20.3 59.6 20.9 60.6 21.3 61.6 21.9 62.7 22.4 63.7 22.9 64.7 23.4 64.7 24.8 2.9 -1.3Z"/><path fill-opacity="0.62" transform="translate(275.8 222.1)" d="M2.8 -13L3.8 -10.4 4.7 -8.9 5.6 -9.3 6.6 -9.1 7.5 -7.8 8.5 -7.6 9.4 -7.2 10.4 -9.4 11.3 -15.3 12.3 -12.7 13.2 -8.1 14.2 -6.8 15.1 -9.3 16.1 -6.5 17 -4.5 18 -5.6 19 -5.8 19.9 -4.5 20.9 -4.2 21.8 -2.4 22.8 -2.1 23.8 -2.6 24.7 -1.2 25.7 0.1 26.7 1.2 27.6 2.1 28.6 4.3 29.5 5.7 30.5 6.7 31.5 8.2 32.4 9.3 33.4 10.1 34.4 10.6 35.4 11.1 36.4 11.6 37.4 12 38.4 12.4 39.3 12.8 40.3 13.2 41.3 13.7 42.3 14.1 43.3 14.5 44.3 14.9 45.3 15.4 46.3 15.9 47.3 16.4 48.3 16.8 49.4 17.3 50.4 17.7 51.4 18.1 52.4 18.5 53.4 18.9 54.4 19.4 55.5 19.8 56.5 20.3 57.5 20.7 58.5 21.2 59.6 21.6 60.6 22.1 61.6 22.6 62.7 23 63.7 23.5 64.7 24 64.7 24.8 2.9 -1.3Z"/><path fill-opacity="0.72" transform="translate(274.9 222.6)" d="M2.8 -20.5L3.7 -13.7 4.7 -10.9 5.6 -10 6.6 -10.8 7.5 -10 8.5 -6.6 9.4 -6.3 10.3 -9.3 11.3 -21.5 12.3 -18.1 13.2 -10 14.2 -11 15.1 -15.8 16.1 -9 17 -7.6 18 -9.1 19 -7.5 19.9 -7.1 20.9 -8.2 21.9 -6.5 22.8 -6.4 23.8 -7.2 24.8 -5.7 25.7 -3.2 26.7 -1 27.7 -0.4 28.6 1.5 29.6 3.1 30.6 4.2 31.5 6.4 32.5 8 33.5 9 34.4 9.5 35.4 10.2 36.4 10.6 37.4 11 38.4 11.5 39.4 11.9 40.4 12.3 41.4 12.7 42.4 13.2 43.4 13.6 44.4 14 45.4 14.3 46.4 14.9 47.4 15.5 48.4 15.9 49.4 16.4 50.4 16.8 51.4 17.2 52.5 17.5 53.5 17.8 54.5 18.3 55.5 18.8 56.5 19.2 57.6 19.7 58.6 20.2 59.6 20.6 60.7 21 61.7 21.7 62.7 22.2 63.7 22.7 64.8 23.2 64.7 24.9 2.9 -1.3Z"/><path fill-opacity="0.83" transform="translate(274.0 223.2)" d="M2.8 -18.5L3.7 -12.5 4.7 -11.3 5.6 -12 6.6 -13 7.5 -11.1 8.5 -7 9.4 -6.5 10.3 -8.6 11.3 -19 12.2 -16.6 13.2 -7.6 14.2 -8.7 15.1 -16.7 16.1 -8.3 17 -7.3 18 -7.7 18.9 -6 19.9 -6.4 20.9 -7.2 21.8 -5.1 22.8 -5.9 23.8 -9.3 24.8 -4.8 25.7 -0.7 26.7 1 27.6 1.8 28.6 2.8 29.6 3.7 30.6 5.2 31.5 7.3 32.5 8.6 33.5 9.4 34.4 9.9 35.4 10.5 36.4 11 37.4 11.5 38.4 12 39.4 12.4 40.4 12.9 41.4 13.2 42.4 13.7 43.4 14.1 44.4 14.6 45.4 14.9 46.4 15.4 47.4 16 48.4 16.4 49.4 16.8 50.4 17.3 51.4 17.7 52.5 18 53.5 18.3 54.5 18.7 55.5 19.2 56.5 19.7 57.6 20.1 58.6 20.6 59.6 21.1 60.7 21.5 61.7 22 62.7 22.5 63.8 23 64.8 23.5 64.7 25 2.9 -1.3Z"/><path fill-opacity="0.94" transform="translate(273.1 223.7)" d="M2.8 -14.9L3.7 -11.3 4.7 -13.1 5.6 -16.6 6.5 -13 7.5 -10.7 8.5 -7.6 9.4 -7.4 10.3 -8.5 11.3 -16.4 12.2 -14.8 13.2 -6.2 14.1 -7 15.1 -12.1 16.1 -7.5 17 -7.1 18 -6.1 18.9 -4.4 19.9 -4.6 20.9 -5.9 21.8 -3.3 22.8 -2.8 23.8 -6.3 24.8 -2.7 25.7 0.8 26.7 2.3 27.6 3.5 28.6 4.7 29.6 4.5 30.5 6.3 31.5 8.2 32.5 9.3 33.5 10 34.4 10.3 35.4 11.1 36.4 11.6 37.4 12.1 38.4 12.6 39.4 13.1 40.4 13.5 41.4 13.9 42.4 14.3 43.4 14.8 44.4 15.2 45.4 15.6 46.4 16 47.4 16.5 48.4 16.8 49.4 17.3 50.4 17.7 51.4 18.2 52.5 18.6 53.5 18.9 54.5 19.4 55.5 19.8 56.5 20.2 57.6 20.7 58.6 21.3 59.6 21.7 60.7 22.2 61.7 22.7 62.7 23.2 63.8 23.6 64.8 24 64.8 25 2.9 -1.3Z"/><path transform="translate(272.2 224.3)" d="M2.7 -21L3.7 -12.4 4.7 -11.7 5.6 -19.8 6.5 -15.8 7.5 -10 8.4 -8.1 9.4 -8.3 10.3 -8.9 11.3 -18.4 12.2 -19.4 13.2 -8.3 14.1 -9.7 15.1 -14.3 16.1 -9.7 17 -11.2 18 -10.7 19 -8.5 19.9 -10.7 20.9 -8.8 21.9 -6.9 22.8 -6.9 23.8 -8.2 24.8 -6.3 25.7 -3.3 26.7 -1.6 27.7 -0.8 28.7 0.5 29.6 1.2 30.6 3.6 31.5 6.3 32.5 8 33.5 8.9 34.5 9.2 35.5 9.9 36.4 10.5 37.4 10.9 38.4 11.5 39.4 11.9 40.4 12.4 41.4 12.8 42.4 13.2 43.4 13.7 44.4 14.1 45.4 14.5 46.4 14.9 47.4 15.4 48.4 15.8 49.5 16.2 50.5 16.7 51.5 17.2 52.5 17.6 53.5 18 54.5 18.4 55.6 18.9 56.6 19.3 57.6 19.8 58.6 20.4 59.7 20.9 60.7 21.4 61.7 21.8 62.8 22.4 63.8 22.8 64.9 23.3 64.8 25.1 2.9 -1.3Z"/><path transform="translate(271.3 224.8)" d="M2.7 -23.8L3.7 -14.9 4.6 -15.4 5.5 -24.7 6.5 -13.7 7.5 -8.7 8.4 -8.2 9.4 -9.6 10.3 -10.5 11.3 -13.8 12.2 -13.2 13.2 -9.5 14.1 -11.9 15.1 -11.8 16.1 -9.4 17 -13.7 18 -11.5 18.9 -8.8 19.9 -11.8 20.9 -8.7 21.9 -8 22.8 -7.1 23.8 -6.7 24.8 -5.7 25.7 -2.8 26.7 -1.3 27.7 -0.8 28.7 0.5 29.6 1.2 30.6 3.8 31.5 6.5 32.5 8.2 33.5 9 34.5 9.5 35.5 10.1 36.4 10.7 37.4 11.2 38.4 11.7 39.4 12.1 40.4 12.7 41.4 13.2 42.4 13.5 43.4 14.1 44.4 14.6 45.4 15 46.4 15.3 47.4 15.8 48.4 16.3 49.5 16.7 50.5 17.2 51.5 17.6 52.5 18.1 53.5 18.5 54.6 18.9 55.6 19.4 56.6 19.8 57.6 20.4 58.7 20.8 59.7 21.3 60.7 21.7 61.8 22.1 62.8 22.6 63.8 23 64.9 23.5 64.8 25.2 2.9 -1.3Z"/><path transform="translate(270.4 225.3)" d="M2.8 -14.5L3.7 -13.2 4.6 -15.9 5.5 -21 6.5 -12.9 7.5 -9.9 8.4 -9.6 9.4 -10.1 10.3 -13.6 11.2 -17.5 12.2 -12.7 13.2 -9.4 14.1 -11.4 15.1 -11.6 16 -9.3 17 -11.8 18 -10.6 18.9 -9.5 19.9 -12.4 20.9 -7.9 21.8 -6.3 22.8 -5.5 23.8 -5.7 24.8 -5.4 25.7 -2.8 26.7 -1.1 27.7 0.3 28.6 1.4 29.6 2.4 30.6 4.9 31.5 6.9 32.5 8.5 33.5 9.3 34.5 9.7 35.5 10.5 36.5 11.1 37.4 11.6 38.4 12.1 39.4 12.5 40.4 13.1 41.4 13.6 42.4 14 43.4 14.4 44.4 14.9 45.4 15.3 46.4 15.7 47.4 16.2 48.5 16.6 49.5 17.1 50.5 17.5 51.5 17.9 52.5 18.4 53.5 18.8 54.6 19.2 55.6 19.7 56.6 20.2 57.6 20.7 58.7 21.1 59.7 21.6 60.7 22 61.8 22.4 62.8 22.9 63.9 23.3 64.9 23.9 64.8 25.2 2.9 -1.2Z"/><path transform="translate(269.4 225.9)" d="M2.7 -16.3L3.7 -17.1 4.6 -20.5 5.5 -19.5 6.5 -11.8 7.5 -11.2 8.4 -10.2 9.4 -9.6 10.3 -13 11.2 -14.1 12.2 -10.9 13.2 -11.3 14.1 -14.1 15.1 -14.6 16 -12.9 17 -13.6 18 -13.1 18.9 -13.4 19.9 -15.5 20.9 -12.3 21.9 -9.7 22.8 -9.5 23.8 -9.8 24.8 -10.2 25.8 -7.8 26.7 -5.7 27.7 -4.9 28.7 -3 29.7 -0.7 30.6 2 31.6 4.7 32.5 7 33.5 8.2 34.5 8.7 35.5 9.4 36.5 10.2 37.5 10.7 38.5 11.4 39.5 11.7 40.4 12.4 41.4 12.9 42.4 13.2 43.5 13.6 44.5 14 45.5 14.5 46.5 14.8 47.5 15.2 48.5 15.6 49.5 16 50.5 16.4 51.5 16.9 52.6 17.4 53.6 17.9 54.6 18.4 55.6 19 56.7 19.4 57.7 20 58.7 20.4 59.7 20.9 60.8 21.3 61.8 21.6 62.9 22 63.9 22.4 65 22.9 64.9 25.3 2.9 -1.2Z"/><path transform="translate(268.5 226.4)" d="M2.7 -14.9L3.7 -15.8 4.6 -18.1 5.5 -15.7 6.5 -12.3 7.5 -12.1 8.4 -9.9 9.4 -8.9 10.3 -10.6 11.2 -13 12.2 -9.9 13.1 -13.3 14.1 -19.3 15.1 -15.1 16 -10.9 17 -11.6 18 -13.8 18.9 -14.1 19.9 -13.3 20.9 -9.6 21.8 -7.7 22.8 -7.6 23.8 -8.3 24.8 -13.1 25.8 -7.2 26.7 -3.9 27.7 -3.3 28.7 -0.8 29.6 1.5 30.6 3.8 31.6 5.9 32.5 7.9 33.5 8.9 34.5 9.4 35.5 10.2 36.5 10.8 37.5 11.4 38.5 12.1 39.5 12.5 40.4 13 41.4 13.5 42.4 13.9 43.5 14.3 44.5 14.7 45.5 15.2 46.5 15.6 47.5 16 48.5 16.3 49.5 16.7 50.5 17.1 51.5 17.7 52.6 18.2 53.6 18.7 54.6 19.2 55.6 19.8 56.7 20.2 57.7 20.7 58.7 21.2 59.7 21.7 60.8 22.1 61.8 22.5 62.9 22.9 63.9 23.3 64.9 23.8 64.9 25.4 2.9 -1.2Z"/><path transform="translate(267.6 227.0)" d="M2.8 -11.9L3.7 -13.4 4.6 -16.6 5.6 -11.9 6.5 -10.5 7.4 -13.1 8.4 -9.9 9.4 -9.2 10.3 -10.5 11.2 -14.3 12.2 -11.5 13.1 -13.7 14.1 -14.6 15.1 -11.9 16 -11.6 17 -11.4 18 -11.2 18.9 -10.7 19.9 -11 20.9 -9.3 21.8 -7.8 22.8 -7.6 23.8 -10.3 24.8 -12.9 25.7 -5.8 26.7 -4.3 27.7 -2.6 28.7 0.3 29.6 2.4 30.6 4.4 31.6 6.2 32.5 8.1 33.5 9.3 34.5 9.8 35.5 10.6 36.5 11.1 37.5 11.6 38.5 12.2 39.5 12.6 40.5 13.2 41.5 13.6 42.5 14 43.5 14.5 44.5 14.9 45.5 15.4 46.5 15.8 47.5 16.2 48.5 16.5 49.5 16.9 50.5 17.4 51.6 18 52.6 18.5 53.6 19 54.6 19.5 55.6 20 56.7 20.4 57.7 21 58.7 21.5 59.8 22 60.8 22.4 61.8 22.8 62.9 23.2 63.9 23.5 65 23.9 64.9 25.4 2.9 -1.2Z"/><path transform="translate(266.7 227.5)" d="M2.8 -11.3L3.6 -14.7 4.5 -19.2 5.5 -14 6.5 -13.7 7.4 -18.2 8.4 -13.1 9.3 -9.6 10.3 -10.4 11.2 -22 12.1 -18.7 13.1 -16.5 14.1 -18.5 15 -16.9 16 -14.6 17 -14.7 17.9 -18.7 18.9 -16 19.9 -14.1 20.9 -13.4 21.8 -12.3 22.8 -12.5 23.8 -16.9 24.8 -23 25.8 -12.3 26.8 -9.8 27.7 -7.6 28.7 -4.8 29.7 -1.5 30.6 1.3 31.6 3.6 32.6 6.6 33.5 8.5 34.5 9.1 35.5 9.9 36.5 10.4 37.5 11 38.5 11.6 39.5 12 40.5 12.5 41.5 12.9 42.5 13.5 43.5 13.9 44.5 14.3 45.5 14.7 46.5 15.2 47.5 15.7 48.5 16 49.6 16.5 50.6 16.9 51.6 17.5 52.6 18.1 53.6 18.6 54.6 19.1 55.7 19.6 56.7 20 57.7 20.6 58.8 21.1 59.8 21.6 60.8 22 61.9 22.3 62.9 22.6 64 23 65 23.4 64.9 25.5 2.9 -1.2Z"/><path transform="translate(265.7 228.0)" d="M2.6 -19.7L3.6 -20.9 4.5 -20.8 5.5 -18.2 6.5 -13.8 7.4 -13.3 8.4 -12.6 9.3 -10.7 10.3 -11.9 11.2 -15.3 12.2 -15.5 13.1 -22.3 14.1 -18.4 15 -14.5 16 -12.9 17 -12.1 17.9 -16.4 18.9 -13.8 19.9 -14 20.9 -13.3 21.8 -8.8 22.8 -8.6 23.8 -14.2 24.8 -17.6 25.8 -8.9 26.7 -6.8 27.7 -6.3 28.7 -3.7 29.7 0.4 30.6 3.3 31.6 5.6 32.6 8 33.5 9.5 34.5 10.3 35.5 10.9 36.5 11.5 37.5 11.9 38.5 12.4 39.5 12.9 40.5 13.4 41.5 13.8 42.5 14.3 43.5 14.7 44.5 15.1 45.5 15.7 46.5 16.1 47.5 16.6 48.5 17 49.5 17.5 50.6 17.9 51.6 18.4 52.6 18.8 53.6 19.4 54.6 19.8 55.7 20.2 56.7 20.7 57.7 21.2 58.8 21.7 59.8 22.1 60.8 22.6 61.9 23 62.9 23.3 64 23.7 65 24.1 65 25.6 2.9 -1.2Z"/><path transform="translate(264.8 228.6)" d="M2.7 -11.9L3.6 -15 4.5 -18.5 5.5 -17.9 6.4 -15.2 7.4 -16 8.3 -16.2 9.3 -12 10.3 -11.2 11.2 -16.9 12.1 -18.4 13.1 -17.8 14 -18.7 15 -17.4 16 -12.8 17 -11.7 17.9 -15.3 18.9 -13.5 19.9 -13.9 20.9 -12.6 21.8 -8.7 22.8 -9.2 23.8 -13.7 24.8 -12.4 25.8 -8.9 26.7 -8.9 27.7 -7 28.7 -4 29.7 -0.8 30.6 2.2 31.6 4.9 32.6 7.7 33.5 9.3 34.5 10.1 35.5 10.8 36.5 11.4 37.5 11.9 38.5 12.4 39.5 12.9 40.5 13.4 41.5 13.9 42.5 14.4 43.5 14.8 44.5 15.2 45.5 15.7 46.5 16.1 47.5 16.5 48.6 16.9 49.6 17.4 50.6 17.7 51.6 18.3 52.6 18.7 53.6 19.3 54.7 19.8 55.7 20.2 56.7 20.7 57.8 21.2 58.8 21.7 59.8 22.1 60.9 22.6 61.9 23 62.9 23.4 64 23.8 65 24.2 65 25.6 2.9 -1.2Z"/><path transform="translate(263.9 229.1)" d="M2.7 -11.6L3.6 -16.5 4.4 -24.1 5.4 -18.3 6.4 -15.7 7.4 -17.3 8.3 -18.3 9.2 -17.9 10.2 -16.5 11.1 -21 12.1 -22.7 13 -22.7 14 -21.9 15 -19.4 16 -15.2 16.9 -14.3 17.9 -16.2 18.9 -15.7 19.9 -20.1 20.8 -21.5 21.8 -15 22.8 -15.5 23.8 -17.3 24.8 -15.9 25.8 -14 26.7 -13.6 27.7 -14.3 28.7 -10.9 29.7 -5.7 30.7 -0.7 31.6 3.2 32.6 6.4 33.6 8.3 34.6 9 35.5 9.6 36.5 10.2 37.5 10.8 38.5 11.5 39.5 12.1 40.5 12.7 41.5 13.1 42.5 13.6 43.5 14 44.5 14.4 45.5 15 46.6 15.4 47.6 15.8 48.6 16.1 49.6 16.5 50.6 16.9 51.6 17.6 52.7 18 53.7 18.6 54.7 19.2 55.7 19.6 56.8 20.1 57.8 20.6 58.8 21.2 59.9 21.6 60.9 22.1 61.9 22.5 63 22.9 64 23.2 65.1 23.6 65 25.7 2.9 -1.2Z"/><path transform="translate(262.9 229.7)" d="M2.7 -10.6L3.6 -18.4 4.4 -26 5.4 -17.5 6.4 -16.8 7.3 -20.6 8.2 -25.8 9.2 -24.5 10.1 -21.6 11.1 -18.9 12.1 -18.6 13 -20.2 14 -19.7 15 -21.9 16 -14.2 17 -12.1 17.9 -13.9 18.9 -11.5 19.9 -15.6 20.8 -19.9 21.8 -12.4 22.8 -9.3 23.8 -10.2 24.8 -11 25.7 -8.6 26.7 -7.3 27.7 -11.2 28.7 -11.3 29.7 -2.9 30.6 2.5 31.6 5.6 32.6 8.1 33.6 9.6 34.5 10.2 35.5 10.9 36.5 11.4 37.5 12 38.5 12.6 39.5 13.2 40.5 13.7 41.5 14.1 42.5 14.6 43.5 15 44.5 15.4 45.5 15.9 46.5 16.4 47.6 16.8 48.6 17.2 49.6 17.6 50.6 18 51.6 18.6 52.7 19.1 53.7 19.6 54.7 20.1 55.7 20.6 56.8 21.1 57.8 21.5 58.8 22 59.9 22.5 60.9 22.9 61.9 23.3 63 23.7 64 24.1 65.1 24.5 65 25.8 2.9 -1.2Z"/><path transform="translate(262.0 230.2)" d="M2.7 -11.5L3.6 -16.8 4.5 -17.6 5.5 -12.1 6.4 -12.2 7.3 -18 8.2 -23.4 9.1 -24.3 10.2 -19.7 11.2 -14 12.1 -16.7 13 -20.6 14 -18.3 15 -19.7 15.9 -17.9 16.9 -15 17.9 -13.8 18.9 -12.5 19.8 -21.5 20.8 -28.3 21.8 -19.2 22.8 -12.3 23.8 -10.6 24.8 -10.4 25.7 -9 26.7 -7.7 27.7 -11.9 28.7 -11.8 29.7 -2.5 30.6 2.5 31.6 5.3 32.6 7.9 33.6 9.6 34.6 10.1 35.5 10.9 36.5 11.4 37.5 11.9 38.5 12.5 39.5 13.1 40.5 13.6 41.5 14 42.5 14.4 43.5 14.9 44.5 15.4 45.6 15.9 46.6 16.4 47.6 16.8 48.6 17.2 49.6 17.6 50.6 18 51.7 18.5 52.7 19 53.7 19.5 54.7 20.1 55.7 20.5 56.8 21 57.8 21.5 58.8 22 59.9 22.5 60.9 22.9 62 23.4 63 23.7 64 24.1 65.1 24.4 65.1 25.8 2.9 -1.2Z"/><path transform="translate(261.1 230.8)" d="M2.8 -8.7L3.6 -12 4.5 -15.7 5.5 -12.4 6.4 -15.9 7.2 -26.4 8.1 -30.3 9.1 -25.4 10.1 -19 11.1 -19.4 12 -25.6 13 -21.8 14 -22.8 14.9 -25.9 15.9 -24 16.9 -18.5 17.9 -15.7 18.9 -13.7 19.8 -17.2 20.8 -23.8 21.8 -25.9 22.8 -16.9 23.8 -12.9 24.7 -12.9 25.7 -11.5 26.7 -11.9 27.7 -15.6 28.7 -12.4 29.7 -5.4 30.7 -0.4 31.6 3.3 32.6 6.8 33.6 8.9 34.6 9.3 35.6 10.1 36.6 10.6 37.6 11.1 38.5 11.8 39.5 12.3 40.5 12.8 41.6 13.2 42.6 13.6 43.6 14.1 44.6 14.7 45.6 15.2 46.6 15.7 47.6 16.1 48.6 16.6 49.6 17 50.7 17.4 51.7 18 52.7 18.5 53.7 19 54.8 19.5 55.8 19.9 56.8 20.5 57.8 21 58.9 21.5 59.9 22 61 22.5 62 23 63 23.4 64.1 23.8 65.1 24.2 65.1 25.9 2.9 -1.2Z"/><path transform="translate(260.1 231.4)" d="M2.7 -11.6L3.5 -17.5 4.5 -15.9 5.5 -12 6.4 -17 7.2 -22.1 8.2 -23.6 9.2 -20.9 10.2 -17.4 11.1 -14.8 12 -20 12.9 -30.8 13.8 -33.4 14.9 -27 15.8 -26.7 16.8 -26.8 17.9 -14.8 18.9 -10.2 19.8 -13.4 20.8 -21.8 21.8 -24 22.8 -13.2 23.8 -8.3 24.7 -10.3 25.7 -8.7 26.7 -6.6 27.7 -6.6 28.7 -4.1 29.7 -0.8 30.6 2.5 31.6 5.2 32.6 8.1 33.6 9.8 34.6 10.1 35.6 10.9 36.6 11.5 37.6 12 38.6 12.7 39.5 13.2 40.5 13.7 41.6 14.2 42.6 14.6 43.6 15.1 44.6 15.6 45.6 16.1 46.6 16.5 47.6 17 48.6 17.4 49.6 17.9 50.7 18.3 51.7 18.8 52.7 19.3 53.7 19.8 54.8 20.3 55.8 20.7 56.8 21.2 57.8 21.7 58.9 22.2 59.9 22.6 61 23.2 62 23.6 63 24.1 64.1 24.5 65.1 25 65.1 26 2.9 -1.2Z"/><path transform="translate(259.2 231.9)" d="M2.5 -20.4L3.5 -21.2 4.5 -12.6 5.5 -11.8 6.3 -17.4 7.2 -23.2 8.2 -21.2 9.2 -17.1 10.1 -18 11.1 -15.8 12 -24.4 12.9 -28.6 13.9 -26.9 14.8 -33.4 15.8 -33.2 16.8 -25.3 17.8 -19.2 18.8 -15.6 19.8 -16.2 20.8 -20 21.7 -25.7 22.7 -19.3 23.7 -14 24.7 -14 25.7 -12.6 26.7 -11.7 27.7 -9.8 28.7 -5.5 29.7 -2.5 30.7 0.6 31.6 3.3 32.6 7 33.6 9.1 34.6 9.3 35.6 10.1 36.6 10.8 37.6 11.4 38.6 12 39.6 12.6 40.6 13 41.6 13.6 42.6 14 43.6 14.4 44.6 14.9 45.6 15.4 46.6 15.8 47.6 16.4 48.6 16.8 49.7 17.3 50.7 17.8 51.7 18.4 52.7 18.9 53.8 19.4 54.8 19.9 55.8 20.2 56.8 20.7 57.9 21.2 58.9 21.7 60 22.2 61 22.7 62 23.2 63.1 23.6 64.1 24.1 65.2 24.6 65.1 26.1 2.9 -1.2Z"/><path transform="translate(258.2 232.5)" d="M2.5 -18.8L3.5 -16.7 4.5 -12.5 5.5 -13.4 6.3 -19 7.3 -18.5 8.3 -14.1 9.2 -15.4 10.1 -22 11 -22.6 11.9 -27.6 12.9 -26.2 13.9 -26.8 14.8 -32.2 15.8 -26.7 16.8 -22.7 17.8 -23.5 18.8 -22.8 19.8 -22.1 20.7 -22.9 21.7 -26.9 22.7 -23.9 23.7 -20.1 24.7 -20 25.7 -17.6 26.7 -13.4 27.7 -11.1 28.7 -8 29.7 -5.4 30.7 -1 31.6 2.8 32.6 6.2 33.6 8.3 34.6 8.7 35.6 9.4 36.6 10.2 37.6 10.7 38.6 11.4 39.6 12.1 40.6 12.7 41.6 13.3 42.6 13.7 43.6 14.1 44.6 14.6 45.6 15 46.6 15.5 47.7 16 48.7 16.5 49.7 16.9 50.7 17.4 51.7 18 52.8 18.5 53.8 18.9 54.8 19.5 55.8 19.9 56.9 20.4 57.9 20.9 58.9 21.3 60 21.8 61 22.3 62.1 22.8 63.1 23.3 64.2 23.7 65.2 24.2 65.1 26.1 2.9 -1.2Z"/><path transform="translate(257.3 233.0)" d="M2.5 -19.5L3.5 -18 4.5 -13.8 5.4 -16.3 6.2 -26.4 7.2 -21.5 8.3 -13.1 9.2 -14.6 10 -25.9 10.9 -32 11.9 -29.7 12.9 -21.4 13.9 -18.8 14.9 -22.3 15.8 -21.4 16.9 -15.8 17.8 -16.7 18.8 -18.7 19.8 -14.3 20.8 -14.8 21.7 -20.5 22.7 -19.8 23.7 -14.5 24.7 -12.3 25.7 -11.1 26.7 -7 27.7 -4.8 28.7 -2.6 29.7 -1.1 30.7 2.1 31.6 5.2 32.6 8 33.6 9.7 34.6 10.1 35.6 10.9 36.6 11.6 37.6 12 38.6 12.6 39.6 13.3 40.6 13.8 41.6 14.4 42.6 14.8 43.6 15.2 44.6 15.6 45.6 16.1 46.6 16.5 47.7 17 48.7 17.5 49.7 18 50.7 18.5 51.7 19 52.8 19.5 53.8 19.9 54.8 20.4 55.8 20.8 56.9 21.3 57.9 21.7 58.9 22.1 60 22.6 61 23.2 62.1 23.7 63.1 24.1 64.2 24.6 65.2 25.1 65.2 26.2 2.9 -1.2Z"/><path transform="translate(256.3 233.6)" d="M2.3 -28.5L3.4 -19.5 4.5 -13.1 5.4 -16.5 6.2 -21.1 7.3 -15.8 8.3 -11.5 9.2 -11.9 10.1 -19.3 10.9 -25.5 11.9 -26.8 12.9 -21 13.9 -17.2 14.9 -21.2 15.8 -19.7 16.8 -16.5 17.8 -20.7 18.7 -24.6 19.7 -21.4 20.7 -18.4 21.7 -17.7 22.7 -18.4 23.7 -16.6 24.7 -17.4 25.7 -18.3 26.7 -11.3 27.7 -8.9 28.7 -7 29.7 -3.3 30.7 0 31.6 3.2 32.6 6.5 33.6 8.5 34.6 9 35.6 9.8 36.6 10.7 37.6 11.1 38.6 11.8 39.6 12.5 40.6 13.1 41.6 13.7 42.6 14.1 43.6 14.5 44.6 14.9 45.6 15.4 46.7 15.8 47.7 16.3 48.7 16.8 49.7 17.3 50.7 17.9 51.8 18.3 52.8 18.9 53.8 19.4 54.8 19.8 55.9 20.2 56.9 20.7 57.9 21.1 59 21.6 60 22.1 61.1 22.7 62.1 23.3 63.1 23.8 64.2 24.3 65.2 24.8 65.2 26.3 2.9 -1.2Z"/><path transform="translate(255.4 234.1)" d="M2.5 -19.3L3.5 -16 4.5 -12.4 5.4 -13.9 6.3 -15.1 7.3 -13 8.3 -10.8 9.2 -11.9 9.9 -27.7 10.7 -37.6 11.9 -28 13 -16.2 14 -14.5 14.8 -21.3 15.8 -18.6 16.8 -15.3 17.8 -20.1 18.7 -22.9 19.7 -20.8 20.7 -21 21.7 -22.5 22.7 -21.2 23.7 -19.1 24.7 -19.1 25.7 -16.2 26.7 -12.3 27.7 -10.8 28.7 -10.1 29.7 -5 30.7 -0.9 31.7 2.5 32.6 6.1 33.6 8.2 34.6 8.7 35.6 9.3 36.6 10.2 37.6 10.7 38.6 11.4 39.6 12.2 40.6 12.7 41.6 13.5 42.6 13.9 43.6 14.3 44.6 14.7 45.7 15.2 46.7 15.7 47.7 16.1 48.7 16.6 49.7 17.1 50.8 17.8 51.8 18.1 52.8 18.7 53.8 19.2 54.9 19.7 55.9 20.2 56.9 20.7 58 21.2 59 21.7 60 22.2 61.1 22.7 62.1 23.2 63.2 23.7 64.2 24.2 65.3 24.7 65.2 26.3 2.9 -1.2Z"/><path transform="translate(254.4 234.7)" d="M2.6 -14.6L3.5 -16.5 4.5 -14.2 5.4 -13 6.3 -15.3 7.3 -13.9 8.3 -10.8 9.2 -11.2 10.1 -18.2 10.9 -28.2 11.9 -21 13 -12.6 14 -12.5 14.8 -19.7 15.9 -15.3 16.9 -11.9 17.8 -12.9 18.8 -13.7 19.8 -14.8 20.7 -14.9 21.7 -12.7 22.7 -10.4 23.7 -9.6 24.7 -9.8 25.7 -6.6 26.7 -4 27.7 -2.9 28.7 -4.1 29.7 0.1 30.7 4.3 31.7 6.6 32.6 8.8 33.6 10.1 34.6 10.8 35.6 11.3 36.6 11.9 37.6 12.4 38.6 13 39.6 13.6 40.6 14.1 41.6 14.7 42.6 15.2 43.6 15.6 44.6 16.1 45.7 16.5 46.7 17 47.7 17.5 48.7 18 49.7 18.4 50.7 18.9 51.8 19.3 52.8 19.8 53.8 20.2 54.9 20.7 55.9 21.2 56.9 21.8 58 22.2 59 22.7 60 23.2 61.1 23.7 62.1 24.2 63.2 24.6 64.2 25.1 65.3 25.6 65.2 26.4 2.9 -1.2Z"/><path transform="translate(253.5 235.3)" d="M2.5 -16.2L3.4 -18.4 4.4 -17.6 5.3 -18.6 6.2 -19.2 7.3 -14.8 8.3 -11.4 9.2 -11.7 10 -18.4 10.8 -30.7 11.8 -25.6 13 -14.9 13.9 -15.9 14.7 -26.7 15.8 -18.3 16.8 -13.7 17.8 -15.3 18.8 -14.5 19.7 -15.5 20.7 -21.7 21.7 -18.6 22.7 -16.2 23.7 -15.6 24.7 -15.7 25.7 -12.1 26.7 -9.3 27.7 -7 28.7 -6.7 29.7 -3.9 30.7 1.1 31.7 4.1 32.7 7.3 33.6 9.1 34.6 9.7 35.6 10.2 36.6 10.9 37.6 11.5 38.6 12.1 39.6 12.8 40.6 13.5 41.6 14.1 42.6 14.6 43.7 15.1 44.7 15.5 45.7 15.9 46.7 16.4 47.7 17 48.7 17.5 49.8 17.9 50.8 18.4 51.8 18.7 52.8 19.2 53.9 19.6 54.9 20.1 55.9 20.8 57 21.3 58 21.8 59 22.3 60.1 22.8 61.1 23.2 62.2 23.7 63.2 24.2 64.2 24.7 65.3 25.2 65.3 26.5 2.9 -1.2Z"/><path transform="translate(252.5 235.8)" d="M2.6 -13.4L3.5 -14.5 4.4 -14.4 5.3 -17.4 6.2 -18.8 7.2 -14.9 8.3 -11.8 9.2 -12.2 10 -21.5 10.8 -31.4 11.8 -29.6 12.9 -18.3 13.9 -18.4 14.6 -35.9 15.8 -19.1 16.8 -13.3 17.8 -14.6 18.8 -14.9 19.7 -19.8 20.6 -25.4 21.6 -20.4 22.7 -17.5 23.7 -16.2 24.6 -19.3 25.6 -15.5 26.6 -12.7 27.6 -10.1 28.6 -9.4 29.7 -5.7 30.7 0.4 31.7 3.7 32.7 6.9 33.7 8.7 34.6 9.5 35.6 10.2 36.6 10.7 37.6 11.3 38.6 12 39.6 12.6 40.6 13.3 41.7 13.8 42.7 14.2 43.7 14.7 44.7 15.2 45.7 15.7 46.7 16.1 47.7 16.8 48.7 17.3 49.8 17.8 50.8 18.3 51.8 18.5 52.8 19 53.9 19.5 54.9 20 55.9 20.6 57 21.2 58 21.7 59 22.3 60.1 22.8 61.1 23.1 62.2 23.6 63.2 24.1 64.3 24.5 65.3 24.9 65.3 26.6 2.9 -1.2Z"/><path transform="translate(251.5 236.4)" d="M2.6 -11.6L3.5 -12.7 4.4 -15.1 5.3 -16 6.2 -17.5 7.2 -18.3 8.2 -11.9 9.2 -12.1 10 -20.4 10.9 -24.1 11.9 -20.1 12.9 -15.5 13.8 -19.4 14.7 -29.7 15.8 -15.7 16.9 -10.9 17.8 -11.1 18.8 -10.8 19.7 -13.2 20.7 -18.8 21.7 -17.1 22.7 -11.3 23.7 -10.2 24.6 -14.1 25.6 -12.7 26.7 -9.1 27.7 -4.4 28.7 -3.2 29.7 -2.1 30.7 3.3 31.7 6.1 32.7 8.2 33.7 9.9 34.7 10.6 35.6 11.1 36.6 11.7 37.6 12.3 38.6 12.9 39.6 13.5 40.7 14.2 41.7 14.6 42.7 15.1 43.7 15.6 44.7 16 45.7 16.5 46.7 17 47.7 17.5 48.8 18 49.8 18.5 50.8 19 51.8 19.3 52.9 19.7 53.9 20.2 54.9 20.8 55.9 21.3 57 21.7 58 22.2 59.1 22.8 60.1 23.2 61.1 23.6 62.2 24.1 63.2 24.6 64.3 25.1 65.3 25.5 65.3 26.6 2.9 -1.2Z"/><path transform="translate(250.6 237.0)" d="M2.5 -14.2L3.5 -12.6 4.4 -14 5.3 -18.7 6.2 -19.2 7.1 -19.7 8.2 -12.7 9.2 -12.8 10 -17 11 -18.7 11.8 -23.3 12.8 -21.2 13.8 -21.3 14.7 -24.2 15.8 -15.2 16.8 -13 17.8 -14.3 18.7 -14.4 19.7 -14.6 20.7 -16 21.6 -17.2 22.7 -14.3 23.6 -14.8 24.6 -21.1 25.6 -20.7 26.6 -14.6 27.6 -10.1 28.6 -8.4 29.6 -5.2 30.7 -0.3 31.7 3.4 32.7 6.4 33.7 8.4 34.7 9.2 35.7 9.9 36.7 10.5 37.7 11 38.7 11.8 39.7 12.6 40.7 13.1 41.7 13.5 42.7 14 43.7 14.6 44.7 15 45.7 15.5 46.7 16 47.8 16.7 48.8 17.2 49.8 17.7 50.8 18.2 51.9 18.6 52.9 19 53.9 19.4 54.9 20 56 20.5 57 20.9 58.1 21.3 59.1 21.9 60.1 22.4 61.2 22.8 62.2 23.3 63.3 23.8 64.3 24.2 65.4 24.5 65.3 26.7 2.9 -1.2Z"/><path transform="translate(249.6 237.5)" d="M2.6 -12.7L3.6 -10.8 4.4 -12.7 5.2 -22 6.2 -19.3 7.1 -18.7 8.2 -13.1 9.1 -13.1 10 -18.1 10.9 -18.7 11.8 -25.2 12.7 -29.1 13.8 -21 14.8 -15.2 15.8 -14 16.8 -13.6 17.7 -15.6 18.7 -14.9 19.7 -14.1 20.7 -14.9 21.7 -15.3 22.7 -13.7 23.6 -12.7 24.6 -21.5 25.5 -23.7 26.6 -11.8 27.6 -8.1 28.6 -6.5 29.7 -3.5 30.7 0.6 31.7 4 32.7 7 33.7 8.7 34.7 9.4 35.7 10 36.7 10.6 37.7 11.1 38.7 12.1 39.7 12.9 40.7 13.4 41.7 13.9 42.7 14.3 43.7 14.9 44.7 15.4 45.7 15.8 46.7 16.4 47.8 17 48.8 17.4 49.8 18 50.8 18.4 51.9 18.8 52.9 19.2 53.9 19.6 55 20.1 56 20.7 57 21.1 58.1 21.5 59.1 22.1 60.1 22.6 61.2 23.1 62.2 23.5 63.3 24.1 64.3 24.5 65.4 24.9 65.4 26.8 2.9 -1.2Z"/><path transform="translate(248.6 238.1)" d="M2.5 -13.4L3.6 -10.3 4.4 -12.2 5.3 -17.4 6.2 -18.9 7 -21.9 8.1 -16.1 9 -17.7 10 -15.8 11 -13.2 11.9 -20 12.6 -30.6 13.7 -23.1 14.8 -14.6 15.8 -13.2 16.8 -12.8 17.7 -16.7 18.7 -15.4 19.7 -11.7 20.7 -12.4 21.7 -10.8 22.7 -9 23.7 -8 24.6 -13.5 25.6 -14.1 26.7 -6.1 27.7 -5.7 28.7 -2.8 29.7 0.7 30.7 3.9 31.7 6.4 32.7 8.6 33.7 9.9 34.7 10.4 35.7 11.1 36.7 11.7 37.7 12.2 38.7 13 39.7 13.6 40.7 14.2 41.7 14.7 42.7 15.1 43.7 15.6 44.7 16.1 45.7 16.6 46.8 17 47.8 17.6 48.8 18.1 49.8 18.5 50.8 19 51.9 19.4 52.9 19.9 53.9 20.3 55 20.8 56 21.4 57 21.9 58.1 22.3 59.1 22.8 60.2 23.3 61.2 23.8 62.2 24.3 63.3 24.8 64.3 25.3 65.4 25.7 65.4 26.8 2.9 -1.2Z"/><path transform="translate(247.7 238.7)" d="M2.6 -11.5L3.6 -10 4.4 -11.8 5.2 -18.2 6.1 -21.4 7.1 -19.5 8.1 -15.7 9 -17.5 10.1 -14 11.1 -11.9 11.9 -15.3 12.7 -27.6 13.7 -25.9 14.8 -14.6 15.8 -15.8 16.6 -23 17.5 -26.5 18.6 -21.1 19.7 -16.3 20.6 -17 21.6 -15.4 22.6 -15.2 23.6 -14.8 24.5 -19.8 25.6 -16.2 26.6 -10.8 27.6 -10.1 28.6 -8.3 29.6 -4.2 30.7 -0.1 31.7 3.5 32.7 6.6 33.7 8.3 34.7 8.9 35.7 9.5 36.7 10.2 37.7 10.6 38.7 11.7 39.7 12.4 40.7 13 41.7 13.6 42.7 14.1 43.7 14.7 44.7 15.2 45.8 15.6 46.8 16 47.8 16.6 48.8 17.1 49.8 17.6 50.9 18 51.9 18.4 52.9 19 54 19.4 55 19.9 56 20.5 57.1 21 58.1 21.4 59.1 21.9 60.2 22.3 61.2 22.9 62.3 23.3 63.3 23.9 64.4 24.5 65.4 24.9 65.4 26.9 2.9 -1.2Z"/><path transform="translate(246.7 239.3)" d="M2.5 -12.8L3.5 -11 4.4 -12.2 5.2 -16.7 6.1 -19.7 7.2 -15 8.1 -16.8 8.7 -30.3 10 -17.9 11 -12.7 11.8 -18.9 12.7 -26.8 13.7 -21.6 14.9 -12.9 15.8 -13.4 16.6 -24.9 17.5 -26.6 18.6 -18.9 19.6 -16.1 20.6 -16.2 21.6 -13.2 22.6 -12.7 23.6 -13.9 24.6 -14.4 25.6 -11.4 26.6 -8.6 27.6 -8.9 28.6 -6.6 29.6 -2.9 30.7 0.9 31.7 4.6 32.7 7.3 33.7 8.8 34.7 9.6 35.7 10.3 36.7 10.9 37.7 11.3 38.7 12.4 39.7 13.1 40.7 13.7 41.7 14.3 42.7 14.8 43.7 15.4 44.8 15.8 45.8 16.3 46.8 16.6 47.8 17.1 48.8 17.5 49.9 18.1 50.9 18.5 51.9 18.9 52.9 19.4 54 19.9 55 20.4 56 20.9 57.1 21.4 58.1 21.9 59.2 22.4 60.2 22.7 61.3 23.3 62.3 23.8 63.3 24.3 64.4 24.7 65.5 25.3 65.4 27 2.9 -1.2Z"/><path transform="translate(245.7 239.8)" d="M2.6 -10L3.6 -9 4.5 -10.1 5.3 -12.7 6.2 -14.2 7.2 -12.2 8.1 -16 8.8 -25 10 -14.5 11 -13.5 11.8 -21.4 12.6 -25.9 13.7 -23.6 14.8 -14 15.8 -13.8 16.6 -21.2 17.6 -20.8 18.6 -18.5 19.6 -16 20.6 -18.5 21.7 -11.4 22.6 -10.9 23.6 -13.8 24.6 -10.9 25.6 -10.2 26.6 -9.1 27.6 -6.9 28.6 -5 29.6 -2.5 30.7 2.2 31.7 5.9 32.7 8.2 33.7 9.4 34.7 10.3 35.7 11 36.7 11.6 37.7 12.1 38.7 12.9 39.7 13.6 40.7 14.1 41.7 14.7 42.7 15.2 43.7 15.8 44.8 16.2 45.8 16.7 46.8 17.1 47.8 17.5 48.8 18 49.9 18.4 50.9 18.9 51.9 19.3 53 19.8 54 20.3 55 20.9 56.1 21.4 57.1 21.8 58.1 22.3 59.2 22.8 60.2 23.2 61.3 23.7 62.3 24.2 63.4 24.7 64.4 25.1 65.5 25.6 65.4 27.1 2.9 -1.2Z"/><path transform="translate(244.7 240.4)" d="M2.5 -13.8L3.5 -12.4 4.4 -10.9 5.4 -10.9 6.2 -13.7 7.2 -13.2 8 -17.4 8.7 -29.2 9.9 -18 10.9 -16 11.8 -19.4 12.8 -19.4 13.6 -23.5 14.7 -20 15.7 -17 16.5 -25 17.4 -31.2 18.5 -27 19.5 -22.8 20.4 -26.4 21.5 -18.3 22.6 -16.6 23.5 -19.3 24.5 -16.3 25.5 -16.9 26.5 -16.2 27.6 -11.9 28.6 -10.2 29.6 -6.5 30.6 -1.3 31.7 2.9 32.7 6 33.7 7.9 34.7 8.9 35.7 9.6 36.7 10.3 37.7 11 38.7 11.8 39.7 12.5 40.7 13.1 41.7 13.8 42.7 14.3 43.8 14.8 44.8 15.2 45.8 15.8 46.8 16.3 47.8 16.6 48.9 17 49.9 17.5 50.9 18.1 51.9 18.5 53 19 54 19.5 55 20.1 56.1 20.7 57.1 21.1 58.2 21.7 59.2 22.1 60.2 22.5 61.3 23 62.3 23.4 63.4 23.9 64.5 24.3 65.5 24.9 65.5 27.1 2.9 -1.2Z"/><path transform="translate(243.7 241.0)" d="M2.6 -10.5L3.4 -12.9 4.4 -11 5.4 -9.4 6.3 -12.2 7.1 -14.6 8.1 -15.9 8.9 -20.9 9.9 -19.8 10.9 -17.1 11.9 -16.3 12.8 -18.4 13.7 -20.1 14.8 -15.6 15.7 -16.3 16.5 -24.9 17.5 -25.7 18.6 -19.9 19.6 -16.7 20.5 -20 21.6 -15.7 22.6 -15.2 23.5 -20.3 24.6 -12.4 25.6 -10.5 26.6 -9.7 27.6 -5.8 28.6 -5 29.6 -2.2 30.7 2 31.7 5.2 32.7 7.7 33.7 9.2 34.7 9.9 35.7 10.6 36.7 11.4 37.7 12 38.7 12.8 39.7 13.4 40.7 14.1 41.7 14.7 42.8 15.1 43.8 15.6 44.8 16.1 45.8 16.6 46.8 17 47.8 17.4 48.9 17.9 49.9 18.4 50.9 18.9 52 19.4 53 19.9 54 20.3 55 20.9 56.1 21.3 57.1 21.7 58.2 22.2 59.2 22.6 60.3 23.1 61.3 23.6 62.4 24.1 63.4 24.7 64.5 25.1 65.5 25.7 65.5 27.2 2.9 -1.2Z"/><path transform="translate(242.8 241.6)" d="M2.5 -13L3.4 -13.5 4.4 -12.9 5.4 -9.2 6.3 -9.9 7.1 -15.9 8 -18.2 8.9 -20.3 9.8 -21 10.8 -19.9 11.8 -17.7 12.8 -18.1 13.6 -24.3 14.7 -19.8 15.7 -15.6 16.6 -20.8 17.5 -23 18.5 -20.7 19.5 -20.9 20.4 -25.8 21.5 -19.8 22.5 -16.9 23.5 -15.7 24.6 -10.3 25.6 -8.8 26.6 -7 27.6 -3.9 28.6 -3.2 29.7 -0.6 30.7 3.2 31.7 6 32.7 8.1 33.7 9.5 34.7 10.2 35.7 11.1 36.7 11.8 37.7 12.3 38.7 13.1 39.7 13.7 40.7 14.4 41.8 14.9 42.8 15.4 43.8 15.9 44.8 16.3 45.8 16.8 46.8 17.3 47.9 17.7 48.9 18.2 49.9 18.8 50.9 19.3 52 19.8 53 20.2 54 20.7 55.1 21.2 56.1 21.6 57.1 22.1 58.2 22.5 59.2 23 60.3 23.4 61.3 24 62.4 24.5 63.4 25.1 64.5 25.6 65.5 26.2 65.5 27.3 2.9 -1.2Z"/><path transform="translate(241.8 242.2)" d="M2.6 -9.1L3.5 -9.6 4.4 -11 5.4 -9 6.3 -10 7.1 -17.2 8 -15.4 9 -16.2 9.9 -17 10.9 -14.1 11.9 -15.4 12.7 -20.3 13.4 -30.2 14.4 -30.1 15.6 -20.7 16.5 -22.1 17.4 -25.3 18.5 -23.4 19.4 -24.2 20.4 -25.2 21.4 -21.7 22.4 -21.9 23.4 -24.8 24.5 -18.1 25.5 -15.2 26.5 -12.2 27.6 -7.9 28.6 -6.4 29.6 -2.8 30.7 0.8 31.7 4.3 32.7 6.8 33.7 8.7 34.7 9.1 35.7 9.7 36.7 10.4 37.7 11 38.7 11.7 39.7 12.3 40.8 13.3 41.8 13.8 42.8 14.5 43.8 15 44.8 15.5 45.8 16 46.9 16.5 47.9 17 48.9 17.4 49.9 18 51 18.5 52 19.1 53 19.5 54.1 19.9 55.1 20.4 56.1 20.9 57.2 21.3 58.2 21.8 59.3 22.3 60.3 22.8 61.3 23.3 62.4 23.9 63.4 24.5 64.5 25 65.6 25.6 65.5 27.4 2.9 -1.2Z"/><path transform="translate(240.8 242.7)" d="M2.6 -9.5L3.5 -10.2 4.4 -11 5.4 -9.1 6.2 -12.2 6.8 -25.5 8 -16.6 8.9 -17.3 9.7 -24.7 11 -12.2 12 -11.1 12.8 -17.5 13.7 -19.3 14.6 -19.3 15.6 -17.5 16.6 -18.3 17.5 -20.4 18.6 -16.2 19.5 -18.1 20.5 -19.6 21.5 -17.5 22.5 -18.7 23.4 -21.8 24.5 -13.1 25.6 -9.2 26.6 -6.7 27.6 -3.6 28.6 -1.8 29.7 0.2 30.7 3 31.7 5.9 32.7 8 33.7 9.8 34.7 10.2 35.7 10.7 36.7 11.5 37.7 12 38.7 12.6 39.8 13.2 40.8 13.9 41.8 14.5 42.8 15.1 43.8 15.6 44.8 16.1 45.8 16.6 46.9 17.1 47.9 17.6 48.9 17.9 49.9 18.4 51 19 52 19.5 53 19.9 54.1 20.5 55.1 21 56.1 21.5 57.2 22 58.2 22.5 59.3 23 60.3 23.5 61.4 23.9 62.4 24.4 63.5 25 64.5 25.5 65.6 26 65.6 27.4 2.9 -1.2Z"/><path transform="translate(239.8 243.3)" d="M2.6 -8.3L3.5 -9.3 4.4 -11.8 5.3 -10.3 6.2 -12.5 6.7 -26.6 7.9 -20.4 9 -14.4 9.8 -18.6 11 -10.4 12 -10.4 12.7 -18.4 13.8 -15.2 14.7 -16.9 15.5 -22.1 16.6 -19.3 17.6 -14.1 18.7 -11 19.6 -15.2 20.5 -18 21.6 -13.5 22.5 -17.9 23.3 -25.9 24.5 -13.3 25.6 -7.9 26.6 -5.6 27.6 -3.7 28.6 -2.1 29.7 0.3 30.7 3.4 31.7 6.2 32.7 8.5 33.7 10.3 34.7 10.8 35.7 11.2 36.7 11.8 37.7 12.4 38.8 12.9 39.8 13.5 40.8 14.2 41.8 14.8 42.8 15.4 43.8 15.8 44.8 16.4 45.9 16.9 46.9 17.4 47.9 17.8 48.9 18.2 49.9 18.6 51 19.1 52 19.7 53 20.1 54.1 20.6 55.1 21.2 56.2 21.7 57.2 22.2 58.2 22.8 59.3 23.3 60.3 23.8 61.4 24.3 62.4 24.8 63.5 25.3 64.5 25.7 65.6 26.2 65.6 27.5 2.9 -1.2Z"/><path transform="translate(238.8 243.9)" d="M2.6 -8.2L3.5 -8.2 4.4 -11 5.3 -11.4 6.3 -10 6.9 -22.4 7.7 -26.7 9 -14.8 10 -13.4 11 -9.5 11.9 -11.1 12.8 -15.2 13.7 -15.1 14.6 -18.8 15.5 -20.3 16.6 -18.2 17.6 -13.7 18.6 -13.8 19.4 -20.6 20.5 -17.2 21.5 -15 22.4 -18.9 23.3 -24.5 24.4 -17.5 25.5 -13.3 26.5 -11 27.5 -9.6 28.6 -7.7 29.6 -4.5 30.6 -0.3 31.7 3.3 32.7 6.8 33.7 9.3 34.7 9.9 35.7 10.3 36.7 10.8 37.8 11.6 38.8 12.1 39.8 12.7 40.8 13.4 41.8 14 42.8 14.6 43.8 15 44.8 15.5 45.9 16.1 46.9 16.6 47.9 17.1 48.9 17.6 50 18 51 18.4 52 19 53.1 19.4 54.1 19.9 55.1 20.4 56.2 21 57.2 21.5 58.3 22.1 59.3 22.7 60.4 23.2 61.4 23.7 62.5 24.2 63.5 24.7 64.6 25.3 65.6 25.8 65.6 27.6 2.9 -1.2Z"/><path transform="translate(237.8 244.5)" d="M2.6 -8L3.5 -8.9 4.4 -11 5.3 -10.2 6.2 -12 6.8 -22.6 7.9 -19.9 9 -13.8 10 -13 11 -8.9 12 -9.8 12.8 -12.8 13.9 -10.2 14.8 -11 15.7 -13.9 16.7 -11.5 17.7 -8.7 18.7 -8.4 19.6 -12.4 20.6 -11.3 21.6 -8.7 22.6 -10.8 23.4 -18.7 24.5 -12.9 25.6 -7.3 26.6 -5.3 27.6 -3.3 28.6 -1.5 29.7 0.6 30.7 3.2 31.7 5.5 32.7 8.6 33.8 10.7 34.8 11.3 35.8 11.7 36.8 12.3 37.8 13 38.8 13.5 39.8 14 40.8 14.7 41.8 15.1 42.8 15.7 43.8 16.1 44.9 16.7 45.9 17.2 46.9 17.6 47.9 18.1 48.9 18.6 50 19 51 19.5 52 20.1 53.1 20.5 54.1 20.9 55.1 21.4 56.2 21.9 57.2 22.4 58.3 23 59.3 23.5 60.4 24.1 61.4 24.6 62.5 25.1 63.5 25.6 64.6 26.1 65.6 26.7 65.6 27.7 2.9 -1.2Z"/><path transform="translate(236.8 245.1)" d="M2.5 -10.9L3.5 -10 4.4 -8.6 5.4 -8 6.3 -9.2 7 -15.7 7.9 -19.3 9 -12.4 10 -10.6 11 -8.9 11.9 -10 12.9 -11.5 13.9 -9.5 14.8 -11.8 15.7 -14.2 16.7 -11.1 17.7 -9.2 18.7 -9 19.6 -12.3 20.6 -12.9 21.5 -12.6 22.5 -15.1 23.4 -20 24.4 -18.9 25.5 -10.1 26.6 -6.8 27.6 -4.6 28.6 -2.5 29.7 -0.1 30.7 1.9 31.7 4.2 32.7 8 33.8 10.4 34.8 11 35.8 11.5 36.8 12.1 37.8 12.8 38.8 13.3 39.8 13.8 40.8 14.5 41.8 14.9 42.8 15.6 43.8 16 44.9 16.6 45.9 17.1 46.9 17.5 47.9 17.9 49 18.4 50 18.8 51 19.3 52.1 19.9 53.1 20.3 54.1 20.7 55.2 21.2 56.2 21.7 57.2 22.2 58.3 22.7 59.3 23.2 60.4 23.8 61.4 24.4 62.5 24.8 63.5 25.5 64.6 26 65.6 26.6 65.6 27.7 2.8 -1.2Z"/><path transform="translate(235.8 245.7)" d="M2.5 -9.8L3.5 -9.5 4.4 -9 5.4 -8.4 6.3 -9.7 7.1 -12.1 8.1 -12.8 9 -11.6 10.1 -9.4 11 -9 11.9 -10.9 12.9 -10.6 13.8 -10.2 14.7 -12.7 15.7 -12.1 16.7 -11.8 17.7 -10.9 18.6 -11.2 19.5 -15.2 20.5 -15.1 21.5 -13.8 22.5 -15 23.4 -16.3 24.3 -22.1 25.4 -17.5 26.5 -10.1 27.5 -7.3 28.6 -5.2 29.6 -3.5 30.6 -0.9 31.7 2.2 32.7 6.5 33.8 9.5 34.8 10.1 35.8 10.5 36.8 11.3 37.8 11.9 38.8 12.3 39.8 13 40.8 13.6 41.8 14.2 42.8 14.8 43.9 15.2 44.9 15.9 45.9 16.5 46.9 16.9 47.9 17.3 49 17.8 50 18.2 51 18.7 52.1 19.3 53.1 19.8 54.1 20.2 55.2 20.7 56.2 21.3 57.3 21.8 58.3 22.3 59.4 22.8 60.4 23.4 61.5 24 62.5 24.4 63.6 25 64.6 25.7 65.7 26.2 65.7 27.8 2.8 -1.2Z"/><path transform="translate(234.8 246.3)" d="M2.3 -14.7L3.4 -10.3 4.4 -8.2 5.4 -8.9 6.3 -9.8 7.2 -9.9 8.1 -11.1 8.9 -15.1 10 -12 11 -9.1 11.9 -11 12.9 -9.8 13.8 -9.6 14.8 -10.4 15.8 -8.7 16.7 -9.2 17.7 -8.4 18.7 -8.2 19.6 -12.1 20.5 -13.2 21.5 -14.4 22.5 -12.8 23.5 -12.6 24.3 -21.4 25.4 -15.9 26.5 -8.5 27.6 -3.6 28.6 -0.9 29.6 -1.2 30.7 1.7 31.7 5.8 32.8 8.8 33.8 10.7 34.8 11.3 35.8 11.6 36.8 12.4 37.8 12.9 38.8 13.4 39.8 14 40.8 14.6 41.8 15.1 42.9 15.7 43.9 16.1 44.9 16.7 45.9 17.3 46.9 17.9 48 18.3 49 18.8 50 19.1 51 19.6 52.1 20.1 53.1 20.6 54.2 21 55.2 21.5 56.2 22.1 57.3 22.6 58.3 23.1 59.4 23.6 60.4 24.1 61.5 24.6 62.5 25.1 63.6 25.6 64.6 26.2 65.7 26.7 65.7 27.9 2.8 -1.2Z"/><path transform="translate(233.8 246.9)" d="M2.3 -15.3L3.4 -10 4.5 -7.7 5.3 -9.8 6.1 -13.9 7.2 -9.4 8.1 -9.6 8.8 -17.2 9.9 -14.1 11 -9.8 11.8 -12.3 12.8 -11.7 13.8 -10.6 14.8 -10.2 15.8 -9.7 16.7 -10.5 17.7 -10.3 18.7 -8.9 19.6 -11.2 20.4 -18.8 21.4 -18.1 22.4 -17.4 23.4 -16.1 24.3 -20.7 25.3 -18.7 26.5 -9.3 27.6 -3 28.6 -1 29.6 -0.6 30.7 2.9 31.7 6 32.8 8.7 33.8 10.5 34.8 11 35.8 11.5 36.8 12.2 37.8 12.9 38.8 13.4 39.8 14 40.8 14.6 41.8 15.1 42.9 15.6 43.9 16.1 44.9 16.7 45.9 17.3 46.9 17.9 48 18.3 49 18.8 50 19.1 51.1 19.6 52.1 20.1 53.1 20.6 54.2 21 55.2 21.6 56.2 22.2 57.3 22.6 58.3 23.2 59.4 23.6 60.4 24.1 61.5 24.6 62.5 25.1 63.6 25.6 64.7 26.2 65.7 26.8 65.7 28 2.8 -1.2Z"/><path transform="translate(232.8 247.5)" d="M2.2 -17.2L3.4 -10.5 4.4 -8.4 5.2 -12.8 6.1 -13.9 7.2 -9.7 8 -12.5 8.7 -22 9.9 -13.2 11 -9.3 11.9 -10.5 12.8 -12.1 13.7 -12.7 14.7 -11.6 15.7 -11.5 16.6 -13.6 17.6 -12.1 18.6 -10.4 19.5 -13.8 20.3 -20 21.4 -18.3 22.3 -19.9 23.4 -13.9 24.3 -19.8 25.2 -25.2 26.4 -14.4 27.5 -6.7 28.6 -3.6 29.6 -1.5 30.7 1.7 31.7 4.6 32.8 7.8 33.8 9.6 34.8 10.2 35.8 10.8 36.8 11.6 37.8 12.3 38.8 12.9 39.8 13.5 40.8 14 41.9 14.6 42.9 15.2 43.9 15.8 44.9 16.3 45.9 17 47 17.5 48 18 49 18.3 50 18.6 51.1 19.1 52.1 19.5 53.1 19.9 54.2 20.3 55.2 20.9 56.3 21.6 57.3 22.1 58.4 22.7 59.4 23.2 60.5 23.7 61.5 24.3 62.6 24.9 63.6 25.4 64.7 26 65.7 26.6 65.7 28.1 2.8 -1.2Z"/><path transform="translate(231.8 248.0)" d="M2.3 -15.3L3.3 -11.9 4.4 -8.9 5.2 -12.7 6 -15.3 7.1 -10.7 8 -12.5 8.5 -25.9 9.6 -22.3 10.9 -10.7 11.9 -10.8 12.8 -12.1 13.8 -9.8 14.8 -8 15.8 -7.7 16.7 -8.3 17.7 -8.1 18.7 -6.8 19.6 -8.4 20.5 -12.5 21.5 -10.3 22.6 -9 23.6 -4.2 24.6 -5.9 25.4 -13.8 26.5 -10.5 27.6 -1.5 28.7 1.8 29.7 3.2 30.7 5.5 31.8 7.6 32.8 9.6 33.8 10.8 34.8 11.4 35.8 12.2 36.8 12.9 37.8 13.5 38.8 14 39.8 14.6 40.9 15.1 41.9 15.6 42.9 16.1 43.9 16.7 44.9 17.2 45.9 17.7 47 18.2 48 18.7 49 19.2 50.1 19.6 51.1 20.1 52.1 20.6 53.2 21.1 54.2 21.6 55.2 22 56.3 22.6 57.3 23 58.4 23.6 59.4 24 60.5 24.5 61.5 25.1 62.6 25.6 63.6 26.2 64.7 26.8 65.7 27.3 65.7 28.1 2.8 -1.2Z"/><path transform="translate(230.7 248.6)" d="M2.2 -16.1L3.3 -12.7 4.4 -9.6 5.1 -13.7 6.1 -12.5 7.2 -9.8 7.9 -15.2 8.6 -22.2 9.6 -20.3 10.9 -12.3 11.9 -10.4 12.7 -14.8 13.7 -11.6 14.8 -8.9 15.7 -9.7 16.6 -11.6 17.6 -10 18.6 -9.5 19.6 -9.8 20.5 -12.4 21.4 -14.3 22.5 -12.2 23.5 -8.8 24.5 -10.7 25.4 -14.8 26.4 -10.9 27.5 -5.4 28.6 -1.4 29.7 1.3 30.7 3.9 31.7 6 32.8 8.5 33.8 10.1 34.8 10.7 35.8 11.4 36.8 12.1 37.8 12.7 38.8 13.2 39.8 13.8 40.9 14.4 41.9 14.9 42.9 15.4 43.9 15.9 44.9 16.5 46 17 47 17.5 48 18 49 18.6 50.1 19 51.1 19.6 52.1 20.1 53.2 20.6 54.2 21 55.3 21.4 56.3 21.9 57.3 22.4 58.4 22.9 59.4 23.4 60.5 23.9 61.5 24.5 62.6 25.1 63.7 25.6 64.7 26.2 65.8 26.7 65.8 28.2 2.8 -1.2Z"/><path transform="translate(229.7 249.2)" d="M2.5 -9.2L3.4 -10.8 4.3 -11.8 5.1 -15.6 6.1 -12.9 7.2 -9.8 7.9 -13.8 8.8 -17.6 9.6 -19.4 10.8 -12.6 11.9 -10.7 12.6 -16.2 13.8 -10.7 14.8 -9.1 15.7 -10 16.6 -12.4 17.6 -10.9 18.6 -10.2 19.6 -10.4 20.5 -11.5 21.4 -13.5 22.5 -11.8 23.5 -8.2 24.5 -8.3 25.4 -11.9 26.4 -10.5 27.5 -7.2 28.6 -2.7 29.6 0.5 30.7 3.3 31.7 5.5 32.8 8.4 33.8 10.1 34.8 10.6 35.8 11.2 36.8 11.8 37.8 12.4 38.8 12.9 39.8 13.5 40.9 14.1 41.9 14.6 42.9 15.1 43.9 15.5 44.9 16.1 46 16.6 47 17.1 48 17.8 49 18.4 50.1 18.9 51.1 19.5 52.1 20.1 53.2 20.6 54.2 21.1 55.3 21.5 56.3 22 57.4 22.5 58.4 22.9 59.5 23.3 60.5 23.7 61.6 24.3 62.6 24.8 63.7 25.3 64.7 25.9 65.8 26.4 65.8 28.3 2.8 -1.2Z"/><path transform="translate(228.7 249.8)" d="M2.5 -9.8L3.4 -10.7 4.3 -11.6 5.2 -11.9 6.2 -9.3 7.2 -9.4 8 -11.5 9 -11.6 9.8 -14.5 10.9 -10.5 11.9 -8.7 12.7 -13.6 13.8 -10.5 14.8 -6.6 15.8 -6.3 16.7 -7.5 17.7 -6.3 18.7 -6.7 19.6 -10.2 20.6 -9.3 21.5 -9.6 22.6 -4.6 23.7 -2.4 24.6 -3.3 25.5 -6.7 26.6 -5.1 27.6 -1.8 28.7 1.6 29.7 4.6 30.8 6.6 31.8 7.8 32.8 9.9 33.8 11.2 34.8 11.9 35.8 12.6 36.8 13 37.8 13.6 38.9 14.1 39.9 14.7 40.9 15.3 41.9 15.8 42.9 16.3 43.9 16.7 45 17.2 46 17.7 47 18.3 48 18.9 49.1 19.4 50.1 19.9 51.1 20.4 52.2 20.9 53.2 21.4 54.2 21.9 55.3 22.4 56.3 22.9 57.4 23.5 58.4 24 59.5 24.4 60.5 24.9 61.6 25.4 62.6 25.9 63.7 26.3 64.7 26.8 65.8 27.4 65.8 28.4 2.8 -1.2Z"/><path transform="translate(227.7 250.4)" d="M2.5 -9L3.4 -9 4.4 -8.4 5.2 -10.7 6.3 -7.8 7.3 -6.7 8.2 -7.5 9.1 -7.9 9.9 -11.2 10.9 -11.1 11.8 -10.8 12.7 -14.6 13.7 -11.5 14.8 -8.2 15.7 -8.3 16.7 -8.6 17.7 -8.6 18.6 -10.4 19.5 -13.3 20.4 -14.1 21.4 -12.7 22.6 -7.3 23.6 -5.9 24.5 -6.3 25.4 -9.6 26.4 -10.4 27.6 -4.2 28.6 -0.9 29.7 2.1 30.7 4.3 31.7 5.9 32.8 8.7 33.8 10.4 34.8 11.2 35.8 11.9 36.8 12.4 37.8 12.9 38.9 13.6 39.9 14.2 40.9 14.7 41.9 15.2 42.9 15.7 43.9 16.1 45 16.6 46 17.1 47 17.6 48 18.2 49.1 18.7 50.1 19.2 51.1 19.8 52.2 20.3 53.2 20.9 54.3 21.5 55.3 22 56.3 22.5 57.4 23.1 58.4 23.6 59.5 24.1 60.5 24.5 61.6 25 62.6 25.5 63.7 26 64.8 26.5 65.8 27 65.8 28.5 2.8 -1.2Z"/><path transform="translate(226.7 251.1)" d="M2.6 -6.4L3.6 -6 4.4 -7 5.1 -13.5 6.3 -7.1 7.3 -5.7 8.2 -6.3 9.2 -5.9 10 -7.5 10.9 -10.5 11.8 -10.4 12.6 -15 13.6 -14.9 14.7 -10.5 15.6 -11.8 16.6 -10.8 17.7 -8.2 18.6 -7.8 19.5 -12.6 20.4 -14 21.5 -9.5 22.6 -6.4 23.6 -5.7 24.5 -6.3 25.4 -9.7 26.4 -10.6 27.5 -4.6 28.6 -1.7 29.6 0.9 30.7 3.2 31.7 5.2 32.8 7.9 33.8 9.9 34.8 10.9 35.8 11.6 36.8 12.1 37.8 12.7 38.9 13.4 39.9 14.1 40.9 14.6 41.9 15.2 42.9 15.6 43.9 16 45 16.5 46 16.9 47 17.4 48 18 49.1 18.5 50.1 19 51.1 19.5 52.2 20.2 53.2 20.8 54.3 21.4 55.3 21.9 56.4 22.5 57.4 23.1 58.4 23.6 59.5 24 60.6 24.5 61.6 25 62.7 25.5 63.7 26 64.8 26.5 65.8 27 65.8 28.5 2.8 -1.2Z"/></g></g><path fill="url(#fwe)" d="M229.3 244.6L230.2 245.1 231.1 244 231.8 237.5 233 244 234 245.3 234.9 244.7 235.8 245.1 236.7 243.5 237.5 240.6 238.5 240.6 239.3 236.1 240.2 236.2 241.4 240.6 242.3 239.3 243.3 240.3 244.3 242.8 245.3 243.3 246.1 238.4 247.1 237 248.2 241.5 249.2 244.6 250.2 245.3 251.2 244.7 252.1 241.3 253.1 240.4 254.2 246.5 255.3 249.3 256.3 252 257.3 254.3 258.4 256.2 259.4 258.9 260.5 260.9 261.5 261.9 262.5 262.7 263.5 263.1 264.5 263.8 265.5 264.5 266.5 265.1 267.6 265.6 268.6 266.2 269.6 266.7 270.6 267 271.6 267.6 272.7 268 273.7 268.5 274.7 269 275.7 269.5 276.8 270 277.8 270.6 278.8 271.2 279.9 271.9 280.9 272.5 282 273 283 273.6 284.1 274.1 285.1 274.6 286.2 275.1 287.2 275.5 288.3 276.1 289.3 276.6 290.4 277 291.4 277.5 292.5 278.1 291.5 279.3 290.4 278.8 289.4 278.3 288.3 277.8 287.3 277.3 286.2 276.8 285.1 276.3 284.1 275.8 283 275.3 282 274.8 281 274.3 279.9 273.8 278.9 273.2 277.8 272.7 276.8 272.2 275.8 271.7 274.7 271.2 273.7 270.7 272.7 270.2 271.6 269.7 270.6 269.2 269.6 268.7 268.6 268.3 267.6 267.8 266.5 267.3 265.5 266.8 264.5 266.3 263.5 265.7 262.5 265.2 261.5 264.7 260.5 264.2 259.5 263.5 258.5 262.6 257.5 261.5 256.4 260.6 255.4 259.6 254.4 258.4 253.4 257.3 252.4 255.2 251.4 255.1 250.4 255.8 249.5 255.6 248.5 255.1 247.5 253.8 246.5 252.2 245.5 252.3 244.6 253.4 243.6 252.9 242.6 251.8 241.6 251.2 240.7 251.3 239.7 249.7 238.7 249.3 237.8 250.3 236.8 250 235.9 250.6 235 250.7 234 250.3 233.1 250.2 232.1 249.4 231.1 247.2 230.2 248.8 229.3 248.8 228.4 248.4Z"/><path fill="#f6f6f6" d="M228.4 248.6L229.3 249.1 230.2 249.1 231.1 247.5 232.1 249.7 233.1 250.4 234 250.5 235 251 235.9 250.8 236.8 250.3 237.8 250.6 238.7 249.6 239.7 249.9 240.7 251.5 241.6 251.5 242.6 252.1 243.6 253.2 244.6 253.6 245.5 252.5 246.5 252.4 247.5 254.1 248.5 255.3 249.5 255.9 250.4 256 251.4 255.3 252.4 255.4 253.4 257.5 254.4 258.7 255.4 259.8 256.4 260.8 257.5 261.7 258.5 262.9 259.5 263.8 260.5 264.4 261.5 265 262.5 265.5 263.5 266 264.5 266.5 265.5 267.1 266.5 267.5 267.6 268 268.6 268.5 269.6 269 270.6 269.5 271.6 269.9 272.7 270.4 273.7 270.9 274.7 271.4 275.8 271.9 276.8 272.4 277.8 272.9 278.9 273.5 279.9 274 281 274.5 282 275 283 275.6 284.1 276 285.1 276.5 286.2 277 287.3 277.5 288.3 278 289.4 278.5 290.4 279 291.5 279.5 291.5 280.9 290.4 280.4 289.4 279.9 288.3 279.4 287.3 278.9 286.2 278.4 285.1 277.9 284.1 277.4 283.1 276.9 282 276.4 281 275.9 279.9 275.4 278.9 274.9 277.8 274.4 276.8 273.9 275.8 273.4 274.7 272.9 273.7 272.4 272.7 272 271.7 271.5 270.6 271 269.6 270.5 268.6 270 267.6 269.5 266.6 269.1 265.6 268.6 264.6 268.1 263.5 267.6 262.5 267.2 261.5 266.7 260.5 266.2 259.5 265.7 258.5 265.3 257.5 264.8 256.5 264.3 255.5 263.8 254.6 263.4 253.6 262.9 252.6 262.4 251.6 262 250.6 261.5 249.6 261 248.6 260.6 247.7 260.1 246.7 259.7 245.7 259.2 244.7 258.7 243.8 258.3 242.8 257.8 241.8 257.4 240.9 256.9 239.9 256.4 238.9 256 238 255.5 237 255.1 236.1 254.6 235.1 254.2 234.2 253.7 233.2 253.3 232.3 252.8 231.3 252.4 230.4 251.9 229.4 251.5 228.5 251Z"/></g><polygon points="287.8,175 290.2,175 291.8,203 287.2,203" fill="url(#fpk)"/><polygon points="286.5,202 288.5,202 289.5,206 290.5,202 292.5,202.5 291.5,213.3 289,213.3" fill="#ff2a0e"/><path d="M222.8 253.3L292.1 286.5M292.1 286.5L348.7 247.5M222.8 253.3L219.9 193.7M224.6 255.4L226.4 254.3M239.6 262.6L241.4 261.5M255.1 270.1L256.9 268.9M271.1 277.7L272.9 276.5M287.6 285.6L289.4 284.4M347.6 249.7L345.5 248.8M337.9 256.4L335.8 255.5M327.9 263.3L325.8 262.3M317.6 270.4L315.5 269.4M307.1 277.7L304.9 276.7M296.2 285.2L294 284.2M221 240.7L222.9 241.6M220.4 228.6L222.3 229.4M219.8 216.2L221.7 217M219.2 203.5L221.1 204.3" stroke="#222" stroke-width="0.55" fill="none"/><g font-family="Liberation Serif, serif" font-size="5.6" text-anchor="middle" fill="#111"><text x="221.1" y="266.7">0</text><text x="235.6" y="273.9">2000</text><text x="250.6" y="281.3">4000</text><text x="266.1" y="288.9">6000</text><text x="282" y="296.8">8000</text><text x="302.6" y="296.1">1.0</text><text x="312.9" y="288.6">0.8</text><text x="322.9" y="281.3">0.6</text><text x="332.6" y="274.2">0.4</text><text x="342" y="267.3">0.2</text><text x="351.1" y="260.6">0.0</text><text x="211.6" y="244.4">1</text><text x="211" y="232.3">2</text><text x="210.4" y="219.8">3</text><text x="209.8" y="207.2">4</text></g><g font-family="Liberation Serif, serif" font-size="5.5" text-anchor="middle" fill="#111"><text transform="translate(245.4 286.9) rotate(25.6)" y="1.98">Frequency(Hz)</text><text transform="translate(333.9 283.1) rotate(-34.6)" y="1.98">Time(s)</text><text transform="translate(197.8 225.4) rotate(87.2)" y="1.98">Amplitude</text></g></g><g id="pf"><polygon points="413.7,253.5 472.8,218.8 472.6,161.3 410.8,193" fill="#f3f3f3"/><polygon points="472.8,218.8 541.5,247.6 544.4,187.6 472.6,161.3" fill="#f5f5f5"/><polygon points="413.7,253.5 484,287.2 541.5,247.6 472.8,218.8" fill="#f2f2f2"/><line x1="472.8" y1="218.8" x2="472.6" y2="161.3" stroke="#e8e8e8" stroke-width="0.6"/><g filter="url(#sft)"><use href="#sf" fill="#fff" filter="url(#glw)"/><g fill="url(#gf)"><g id="sf"><path fill-opacity="0.30" transform="translate(470.3 220.2)" d="M2.9 -9.1L3.9 -7.7 4.8 -4.8 5.8 -5 6.7 -7.1 7.7 -5.7 8.6 -7.6 9.6 -15.3 10.5 -5.2 11.5 -5.8 12.4 -7.2 13.4 -4 14.4 -3.8 15.3 -4.4 16.3 -7.4 17.3 -11.6 18.3 -7.8 19.2 -1.5 20.2 -0.6 21.1 0.1 22.1 0.3 23.1 0.2 24.1 2.1 25 3.7 26 5.1 27 5.9 28 6 29 6.9 29.9 7.8 30.9 8.4 31.9 9 32.9 9.7 33.9 10.1 34.9 10.2 35.9 10.6 36.9 11 37.9 11.4 38.9 12.1 39.9 12.5 40.9 13 41.9 13.5 42.9 13.9 44 14 45 14.4 46 14.9 47 15.6 48 16.1 49 16.3 50.1 16.9 51.1 17.3 52.1 17.8 53.1 18.3 54.2 18.8 55.2 19.3 56.2 19.7 57.3 20.1 58.3 20.5 59.4 20.9 60.4 21.4 61.4 21.9 62.5 22.5 63.5 23 64.6 23.5 65.6 24 65.6 25 2.9 -1.3Z"/><path fill-opacity="0.41" transform="translate(469.4 220.8)" d="M2.9 -8.8L3.8 -8.5 4.8 -5.8 5.7 -5.9 6.7 -7.3 7.6 -6.3 8.6 -7.8 9.6 -9.8 10.5 -5.5 11.5 -6.5 12.4 -7.5 13.4 -4.6 14.4 -4.6 15.3 -5.2 16.3 -6.7 17.3 -8.1 18.3 -5.8 19.2 -2.3 20.2 -1.9 21.2 -1 22.1 0.3 23.1 0.2 24.1 1.5 25 3.4 26 4.7 27 5.4 28 5.8 29 6.6 29.9 7.5 30.9 7.9 31.9 8.5 32.9 9.3 33.9 9.7 34.9 9.7 35.9 10.2 36.9 10.5 37.9 11 38.9 11.7 39.9 12 40.9 12.7 41.9 13.1 43 13.6 44 13.7 45 14.2 46 14.6 47 15.3 48 15.8 49.1 16 50.1 16.5 51.1 17 52.1 17.5 53.2 17.9 54.2 18.5 55.2 18.9 56.3 19.4 57.3 19.7 58.4 20.1 59.4 20.4 60.4 20.9 61.5 21.5 62.5 22.1 63.6 22.7 64.6 23.3 65.7 23.8 65.6 25.1 2.9 -1.3Z"/><path fill-opacity="0.51" transform="translate(468.5 221.3)" d="M2.9 -8.2L3.8 -8.6 4.8 -7 5.7 -6.7 6.7 -7.6 7.6 -7.3 8.6 -9.7 9.6 -9.4 10.5 -5.6 11.5 -6.9 12.4 -7.5 13.4 -5.1 14.4 -5.4 15.3 -7 16.3 -7.4 17.3 -7.2 18.3 -5.4 19.2 -3.2 20.2 -4.1 21.2 -2.2 22.1 0.2 23.1 0.3 24.1 1 25.1 3.1 26 4.3 27 4.9 28 5.4 29 6.2 30 7.3 31 7.7 31.9 8.1 32.9 9 33.9 9.4 34.9 9.5 35.9 10 36.9 10.3 37.9 10.8 38.9 11.4 39.9 11.8 40.9 12.5 42 13 43 13.6 44 13.9 45 14.3 46 14.8 47 15.4 48.1 15.7 49.1 15.8 50.1 16.3 51.1 16.6 52.2 17.2 53.2 17.6 54.2 18 55.3 18.4 56.3 18.9 57.3 19.3 58.4 19.7 59.4 20.1 60.5 20.5 61.5 21.1 62.6 21.7 63.6 22.4 64.7 23 65.7 23.5 65.6 25.1 2.9 -1.3Z"/><path fill-opacity="0.62" transform="translate(467.6 221.8)" d="M2.9 -8.5L3.8 -10 4.8 -10.3 5.7 -9.2 6.7 -9.4 7.6 -9.8 8.6 -10.7 9.5 -7.8 10.5 -6.6 11.5 -9.3 12.4 -8.3 13.4 -5.8 14.4 -5.7 15.3 -7.6 16.3 -6.5 17.3 -5.5 18.2 -3.9 19.2 -1.9 20.2 -3.9 21.2 -2 22.1 1.2 23.1 1.7 24.1 2.3 25.1 4 26 5 27 5.7 28 6.2 29 6.9 30 7.8 31 8.3 31.9 8.6 32.9 9.5 33.9 9.9 34.9 10.2 35.9 10.7 36.9 11.1 37.9 11.5 38.9 12.2 39.9 12.6 40.9 13.3 42 13.8 43 14.2 44 14.6 45 15.1 46 15.5 47 16.1 48.1 16.4 49.1 16.7 50.1 17.1 51.1 17.5 52.2 18 53.2 18.3 54.2 18.8 55.3 19.1 56.3 19.6 57.3 20 58.4 20.4 59.4 20.8 60.5 21.3 61.5 21.9 62.6 22.4 63.6 23 64.7 23.6 65.7 24.1 65.7 25.2 2.9 -1.3Z"/><path fill-opacity="0.72" transform="translate(466.6 222.4)" d="M2.9 -8.1L3.8 -9.1 4.8 -12.7 5.7 -14.9 6.7 -10.4 7.6 -9 8.6 -12 9.5 -9.9 10.5 -7.5 11.5 -8.7 12.4 -8.8 13.4 -8.9 14.4 -7.5 15.3 -8.3 16.3 -8.7 17.3 -6.3 18.2 -4.5 19.2 -2.8 20.2 -4.6 21.2 -2.8 22.1 0.2 23.1 0.5 24.1 1.1 25.1 3.4 26 4.6 27 4.9 28 5.6 29 6.3 30 7.3 31 7.7 32 8 33 8.9 33.9 9.4 34.9 9.9 35.9 10.3 36.9 10.8 38 11.2 39 11.8 40 12.2 41 13 42 13.5 43 13.9 44 14.4 45 14.8 46 15.2 47.1 15.8 48.1 16 49.1 16.3 50.1 16.7 51.2 17 52.2 17.5 53.2 17.8 54.3 18.2 55.3 18.6 56.3 19 57.4 19.5 58.4 19.9 59.5 20.3 60.5 20.9 61.6 21.5 62.6 22.1 63.6 22.6 64.7 23.2 65.7 23.7 65.7 25.3 2.9 -1.3Z"/><path fill-opacity="0.83" transform="translate(465.7 222.9)" d="M2.9 -8.2L3.8 -8.7 4.7 -14.9 5.7 -13.2 6.7 -9.3 7.6 -9.3 8.6 -10.4 9.5 -8.9 10.5 -7.6 11.5 -8 12.4 -8.5 13.4 -11.7 14.4 -12 15.3 -14 16.3 -13.4 17.3 -9 18.3 -6.2 19.2 -4.4 20.2 -5.8 21.2 -3.3 22.1 -0.7 23.1 -0.2 24.1 1.4 25.1 2.8 26.1 3.7 27 4 28 4.7 29 5.3 30 6.4 31 6.4 32 7.1 33 8.2 34 8.6 35 9.1 36 9.6 37 10.1 38 10.5 39 11.2 40 11.6 41 12.5 42 13 43 13.5 44 14 45 14.5 46.1 14.8 47.1 15.4 48.1 15.7 49.1 16 50.2 16.4 51.2 16.7 52.2 17 53.3 17.2 54.3 17.4 55.4 17.8 56.4 18.2 57.4 18.7 58.5 19.3 59.5 19.8 60.6 20.4 61.6 21 62.6 21.5 63.7 22.1 64.7 22.8 65.8 23.4 65.7 25.3 2.9 -1.3Z"/><path fill-opacity="0.94" transform="translate(464.8 223.5)" d="M2.9 -8.6L3.8 -9.3 4.7 -17.4 5.7 -15.7 6.7 -10.9 7.6 -10.5 8.6 -13.8 9.5 -12.5 10.5 -9.2 11.5 -9.9 12.4 -9.7 13.4 -13.7 14.4 -15.2 15.3 -13.7 16.3 -12.3 17.3 -11.2 18.3 -8.4 19.2 -6.7 20.2 -8.8 21.2 -5.3 22.2 -1.6 23.1 -1.2 24.1 0.3 25.1 2.5 26.1 3.3 27 3.7 28 4.7 29 5.5 30 6.4 31 6.5 32 7.5 33 8.7 34 9.2 35 9.7 36 10.3 37 10.7 38 11.2 39 11.8 40 12.3 41 13.1 42 13.5 43 14 44 14.5 45 14.9 46.1 15.3 47.1 15.8 48.1 16.1 49.1 16.5 50.2 17 51.2 17.3 52.2 17.7 53.3 18.1 54.3 18.5 55.3 18.8 56.4 19.2 57.4 19.7 58.5 20.2 59.5 20.8 60.5 21.3 61.6 21.7 62.6 22.2 63.7 22.7 64.7 23.2 65.8 23.8 65.7 25.4 2.9 -1.3Z"/><path transform="translate(463.9 224.0)" d="M2.9 -8.9L3.8 -10.4 4.7 -16.7 5.7 -14.9 6.6 -11.8 7.6 -10.9 8.6 -11.6 9.5 -10.4 10.5 -11.1 11.4 -11.4 12.4 -10.6 13.4 -12.9 14.4 -10.1 15.3 -8.6 16.3 -8.4 17.3 -9.6 18.3 -9.1 19.2 -6.1 20.2 -5.3 21.2 -3.7 22.2 -2.9 23.1 -2.7 24.1 -0.9 25.1 1.8 26.1 3 27.1 3.8 28 4.7 29 5.2 30 5.8 31 6.2 32 7.6 33 8.8 34 9.4 35 9.9 36 10.3 37 10.6 38 11.2 39 11.8 40 12.3 41 13 42 13.6 43 14.1 44 14.7 45.1 15.1 46.1 15.5 47.1 16.1 48.1 16.5 49.1 16.9 50.2 17.3 51.2 17.7 52.2 18.1 53.3 18.5 54.3 18.9 55.4 19.1 56.4 19.6 57.4 20 58.5 20.5 59.5 21 60.6 21.4 61.6 21.8 62.7 22.3 63.7 22.9 64.8 23.5 65.8 24 65.8 25.5 2.9 -1.3Z"/><path transform="translate(462.9 224.6)" d="M2.9 -9.5L3.8 -10.2 4.7 -13.6 5.7 -12 6.6 -10.3 7.6 -11.5 8.5 -12.9 9.5 -10.3 10.5 -10.6 11.4 -11.9 12.4 -10.6 13.4 -13 14.3 -13.6 15.3 -10.7 16.3 -8.3 17.3 -9.8 18.3 -12.3 19.2 -12.1 20.2 -9.4 21.2 -6.1 22.2 -6.7 23.2 -7.7 24.1 -5.1 25.1 -1.7 26.1 -0.2 27.1 1.1 28.1 2.4 29.1 3 30 3.6 31 4.3 32 6 33 7.5 34 8.4 35 8.8 36 9.2 37 9.5 38 10.1 39 10.7 40 11.3 41 12 42 12.7 43.1 13.3 44.1 13.9 45.1 14.4 46.1 14.7 47.1 15.4 48.2 15.8 49.2 16.2 50.2 16.5 51.2 17 52.3 17.4 53.3 17.6 54.4 18.1 55.4 18.4 56.4 18.8 57.5 19.1 58.5 19.5 59.6 20.1 60.6 20.4 61.7 20.9 62.7 21.3 63.8 22 64.8 22.5 65.9 23.1 65.8 25.5 2.9 -1.3Z"/><path transform="translate(462.0 225.1)" d="M2.8 -11.3L3.8 -12.5 4.7 -14 5.7 -11.3 6.6 -11.2 7.6 -14.2 8.5 -14.4 9.5 -9.5 10.5 -10.3 11.4 -15.8 12.4 -12.4 13.4 -9.7 14.3 -10.2 15.3 -9.7 16.3 -6.8 17.3 -9.3 18.3 -13.5 19.2 -10.6 20.2 -10.1 21.2 -7 22.2 -5.7 23.2 -5.6 24.1 -3.8 25.1 -1.7 26.1 0.3 27.1 2 28.1 2.7 29.1 2.6 30.1 3.8 31 5 32 6.8 33 8.2 34 9.1 35 9.6 36 10 37 10.2 38 10.9 39 11.5 40 12.1 41 12.8 42 13.4 43.1 13.9 44.1 14.6 45.1 15 46.1 15.2 47.1 15.9 48.2 16.3 49.2 16.7 50.2 16.9 51.3 17.4 52.3 17.9 53.3 18.2 54.4 18.5 55.4 18.9 56.4 19.4 57.5 19.7 58.5 20.1 59.6 20.6 60.6 21 61.7 21.6 62.7 22.1 63.8 22.7 64.8 23.2 65.9 23.8 65.8 25.6 2.9 -1.3Z"/><path transform="translate(461.1 225.7)" d="M2.8 -16.9L3.7 -19 4.7 -17 5.6 -14.8 6.6 -14.7 7.5 -17.7 8.5 -17.1 9.5 -10.3 10.5 -12 11.4 -23.1 12.4 -18.2 13.4 -10.8 14.3 -11.1 15.3 -8.3 16.3 -7 17.3 -9.1 18.2 -11.6 19.2 -7.3 20.2 -6.6 21.2 -8.3 22.2 -7 23.2 -5.3 24.2 -6.1 25.1 -3.2 26.1 0.1 27.1 1.7 28.1 2.5 29.1 3 30.1 4.3 31 5.6 32 7.2 33 8.5 34 9.5 35 10 36 10.4 37 10.9 38 11.6 39 12.1 40 12.7 41 13.3 42 13.8 43.1 14.3 44.1 14.9 45.1 15.3 46.1 15.6 47.1 16.2 48.2 16.7 49.2 17.2 50.2 17.5 51.3 18 52.3 18.4 53.3 18.8 54.4 19.2 55.4 19.6 56.4 20.1 57.5 20.4 58.5 20.9 59.6 21.4 60.6 21.8 61.7 22.3 62.7 22.8 63.8 23.3 64.8 23.7 65.9 24.3 65.8 25.7 2.9 -1.3Z"/><path transform="translate(460.1 226.2)" d="M2.8 -14.2L3.7 -16.1 4.7 -13.7 5.6 -13 6.6 -15.4 7.5 -15.8 8.5 -11.8 9.5 -9.3 10.4 -11.7 11.4 -20.1 12.3 -20.1 13.3 -14.2 14.3 -12 15.3 -10.2 16.3 -8.6 17.3 -10.1 18.2 -14 19.2 -9.4 20.2 -7.5 21.2 -10 22.2 -13.1 23.2 -9 24.2 -7.2 25.1 -6.8 26.1 -2.9 27.1 -1.1 28.1 -0.3 29.1 0.5 30.1 2.6 31.1 4.1 32 5.8 33 6.9 34 8.3 35 8.9 36 9.3 37 10 38 10.5 39 11.2 40.1 11.7 41.1 12.4 42.1 13 43.1 13.4 44.1 14.2 45.1 14.6 46.2 15 47.2 15.6 48.2 16 49.2 16.6 50.3 16.9 51.3 17.5 52.3 17.9 53.3 18.5 54.4 18.9 55.4 19.2 56.5 19.7 57.5 20 58.6 20.5 59.6 21 60.7 21.5 61.7 22 62.8 22.4 63.8 23 64.9 23.4 65.9 24 65.9 25.7 2.9 -1.3Z"/><path transform="translate(459.2 226.8)" d="M2.8 -11.2L3.7 -13.4 4.7 -12.5 5.6 -13.7 6.6 -15.9 7.5 -14.5 8.5 -11.2 9.5 -9.1 10.4 -11.6 11.3 -23.6 12.3 -22.2 13.3 -13 14.3 -14.5 15.3 -12.7 16.3 -9.5 17.2 -11.5 18.2 -17.9 19.2 -15 20.2 -11.7 21.2 -12.9 22.2 -12.2 23.2 -9.1 24.2 -8.4 25.1 -7 26.1 -3.4 27.1 -1.5 28.1 -0.1 29.1 1.2 30.1 2.7 31.1 3.9 32.1 5.7 33 6.8 34 8.2 35 8.8 36 9.3 37 10 38.1 10.5 39.1 11.2 40.1 11.7 41.1 12.4 42.1 12.9 43.1 13.4 44.1 14.2 45.1 14.6 46.2 15.1 47.2 15.6 48.2 16 49.2 16.6 50.3 17 51.3 17.6 52.3 18 53.4 18.6 54.4 19 55.4 19.4 56.5 19.9 57.5 20.2 58.6 20.8 59.6 21.2 60.7 21.8 61.7 22.2 62.8 22.7 63.8 23.2 64.9 23.6 65.9 24.1 65.9 25.8 2.9 -1.3Z"/><path transform="translate(458.3 227.3)" d="M2.8 -10.9L3.7 -15.9 4.7 -13.8 5.6 -13.2 6.6 -14.5 7.5 -13.2 8.5 -11 9.5 -9.5 10.4 -11.9 11.4 -18.1 12.3 -26.4 13.3 -14.9 14.3 -12.6 15.3 -11.5 16.3 -9 17.2 -10 18.2 -13.6 19.2 -12.5 20.2 -8.5 21.2 -8.9 22.2 -7.8 23.1 -5.3 24.1 -6.8 25.1 -5.6 26.1 -1.9 27.1 0.1 28.1 1.9 29.1 2.9 30.1 4.1 31.1 5.2 32 6.6 33 7.9 34 9.2 35 9.8 36 10.3 37 11 38 11.5 39.1 12.1 40.1 12.7 41.1 13.4 42.1 13.8 43.1 14.2 44.1 14.8 45.1 15.3 46.2 15.8 47.2 16.2 48.2 16.6 49.2 17.2 50.3 17.6 51.3 18.1 52.3 18.6 53.4 19.2 54.4 19.7 55.4 20.1 56.5 20.6 57.5 21 58.6 21.5 59.6 21.9 60.7 22.4 61.7 22.9 62.8 23.3 63.8 23.8 64.9 24.2 65.9 24.6 65.9 25.9 2.9 -1.3Z"/><path transform="translate(457.3 227.9)" d="M2.8 -10.9L3.7 -13.6 4.7 -14.1 5.6 -13.9 6.5 -15.7 7.5 -16 8.5 -11.4 9.5 -10.8 10.4 -14.5 11.4 -16.5 12.3 -23.8 13.3 -17.9 14.3 -16.3 15.3 -12.9 16.3 -11.1 17.2 -10.9 18.2 -13.6 19.2 -14.1 20.2 -9.8 21.2 -9.2 22.2 -8.7 23.1 -7.8 24.1 -8.3 25.1 -8.4 26.1 -6.9 27.1 -4.1 28.1 -1 29.1 0.4 30.1 2.1 31.1 3.5 32.1 5.5 33.1 6.9 34.1 8.2 35.1 8.9 36.1 9.4 37.1 9.7 38.1 10.4 39.1 11.2 40.1 11.9 41.1 12.6 42.1 13.1 43.1 13.5 44.1 14.2 45.2 14.6 46.2 15.1 47.2 15.6 48.2 16 49.3 16.8 50.3 17.1 51.3 17.6 52.4 18.1 53.4 18.7 54.4 19.1 55.5 19.6 56.5 20.1 57.6 20.5 58.6 21.1 59.7 21.5 60.7 22 61.8 22.4 62.8 22.8 63.9 23.3 64.9 23.8 66 24.2 65.9 25.9 2.9 -1.3Z"/><path transform="translate(456.4 228.4)" d="M2.8 -10.3L3.7 -11.2 4.7 -11.6 5.6 -12 6.6 -13.5 7.5 -12.8 8.5 -10.5 9.5 -11.6 10.4 -17.1 11.3 -17.8 12.3 -22.3 13.3 -16.7 14.3 -15.7 15.3 -13.9 16.2 -12.5 17.2 -12.6 18.2 -16.3 19.2 -15.6 20.2 -12 21.2 -12.2 22.2 -11 23.1 -10 24.1 -10.1 25.1 -9.7 26.1 -8.8 27.1 -6.5 28.1 -3.1 29.1 -1.8 30.1 0.1 31.1 2.5 32.1 4.6 33.1 6.4 34.1 8 35.1 8.6 36.1 9.1 37.1 9.5 38.1 10.2 39.1 11.1 40.1 11.7 41.1 12.5 42.1 12.9 43.1 13.3 44.2 13.8 45.2 14.3 46.2 14.8 47.2 15.2 48.3 15.8 49.3 16.5 50.3 16.9 51.4 17.4 52.4 18 53.4 18.6 54.5 19 55.5 19.6 56.5 20 57.6 20.5 58.6 21 59.7 21.3 60.7 21.8 61.8 22.2 62.8 22.6 63.9 22.9 65 23.2 66 23.7 66 26 2.9 -1.3Z"/><path transform="translate(455.4 229.0)" d="M2.8 -11.2L3.7 -12.7 4.6 -15.1 5.6 -13.1 6.6 -12.3 7.5 -13.7 8.5 -12 9.4 -12.5 10.4 -15.3 11.3 -17.3 12.3 -22.7 13.3 -17.4 14.2 -18.8 15.2 -15.4 16.2 -12 17.2 -11.9 18.2 -13.7 19.2 -13 20.2 -9.9 21.2 -10.2 22.1 -9.8 23.1 -8.6 24.1 -8.6 25.1 -6.7 26.1 -6.3 27.1 -5.5 28.1 -1.7 29.1 -0.3 30.1 0.7 31.1 3.6 32.1 6.1 33.1 7.6 34.1 8.9 35.1 9.7 36.1 10.3 37.1 10.9 38.1 11.4 39.1 12.3 40.1 12.9 41.1 13.5 42.1 14 43.1 14.3 44.2 14.9 45.2 15.3 46.2 15.8 47.2 16.3 48.3 16.9 49.3 17.4 50.3 17.9 51.4 18.4 52.4 18.9 53.4 19.4 54.5 19.8 55.5 20.3 56.5 20.7 57.6 21.2 58.6 21.7 59.7 22.1 60.7 22.5 61.8 23 62.8 23.5 63.9 23.8 65 24.3 66 24.8 66 26.1 2.9 -1.3Z"/><path transform="translate(454.5 229.5)" d="M2.8 -11.3L3.7 -13.7 4.6 -14.8 5.6 -11.7 6.6 -12 7.5 -13.9 8.5 -12.2 9.4 -12.4 10.4 -14.4 11.3 -17.6 12.2 -26.5 13.2 -22.6 14.2 -19.7 15.2 -14.6 16.2 -12.5 17.2 -12.2 18.2 -13.8 19.2 -14.1 20.2 -11.9 21.1 -13.1 22.1 -13.8 23.1 -10.3 24.1 -9.9 25.1 -9.4 26.1 -8.9 27.1 -7.1 28.1 -3.8 29.1 -3 30.1 -1.4 31.1 1.6 32.1 4.6 33.1 6.4 34.1 7.8 35.1 8.6 36.1 9.3 37.1 10.1 38.1 10.7 39.1 11.7 40.1 12.3 41.1 13.1 42.1 13.5 43.2 13.9 44.2 14.4 45.2 14.8 46.2 15.4 47.3 15.8 48.3 16.5 49.3 17 50.3 17.5 51.4 18 52.4 18.6 53.4 19.1 54.5 19.5 55.5 20 56.6 20.5 57.6 20.9 58.7 21.4 59.7 21.8 60.8 22.3 61.8 22.7 62.9 23.1 63.9 23.5 65 24 66.1 24.5 66 26.2 2.9 -1.3Z"/><path transform="translate(453.5 230.1)" d="M2.7 -12.7L3.7 -13.3 4.6 -15.5 5.6 -12.9 6.5 -12.1 7.5 -12.4 8.5 -10.4 9.4 -10.4 10.4 -12.9 11.3 -19.4 12.2 -25 13.3 -17 14.2 -15.5 15.2 -14.4 16.2 -12.5 17.2 -12.1 18.2 -14.4 19.2 -14.2 20.1 -13.2 21.1 -17.2 22.1 -17.6 23.1 -13 24.1 -12 25.1 -11.5 26.1 -11.7 27.1 -10.9 28.1 -9.4 29.1 -7.5 30.1 -5.3 31.1 -1.4 32.1 3.2 33.1 5.6 34.1 7 35.1 7.6 36.1 8.4 37.1 9.3 38.1 9.8 39.1 10.9 40.1 11.6 41.2 12.3 42.2 12.7 43.2 13.3 44.2 14 45.2 14.4 46.3 15 47.3 15.6 48.3 16.2 49.3 16.7 50.4 17.1 51.4 17.6 52.4 18.1 53.5 18.6 54.5 19 55.6 19.6 56.6 20 57.6 20.5 58.7 21 59.7 21.4 60.8 21.9 61.8 22.5 62.9 23 64 23.4 65 24 66.1 24.5 66 26.2 2.9 -1.3Z"/><path transform="translate(452.6 230.7)" d="M2.7 -17L3.6 -16.7 4.6 -16.1 5.6 -14.5 6.5 -13.5 7.5 -12 8.5 -11 9.4 -10.3 10.4 -13.2 11.2 -23 12.2 -20.2 13.3 -14.5 14.3 -11.6 15.2 -11.6 16.2 -12.6 17.2 -12.5 18.2 -15.6 19.1 -13.4 20.1 -10.7 21.1 -15.6 22.1 -16.5 23.1 -9.5 24.1 -8 25.1 -6.8 26.1 -6.1 27.1 -6.2 28.1 -6.2 29.1 -4.7 30.1 -2.6 31.1 0.6 32.1 4.8 33.1 7.4 34.1 8.3 35.1 8.6 36.1 9.6 37.1 10.4 38.1 11.1 39.1 11.9 40.1 12.6 41.1 13.3 42.2 13.7 43.2 14.2 44.2 14.8 45.2 15.3 46.3 15.9 47.3 16.4 48.3 16.9 49.3 17.4 50.4 17.8 51.4 18.3 52.4 18.8 53.5 19.3 54.5 19.7 55.6 20.2 56.6 20.7 57.7 21.1 58.7 21.6 59.8 22 60.8 22.5 61.9 23 62.9 23.5 64 24 65 24.6 66.1 25.2 66.1 26.3 2.9 -1.3Z"/><path transform="translate(451.6 231.2)" d="M2.5 -23.8L3.5 -24.2 4.5 -21 5.5 -14.8 6.5 -14 7.5 -12.9 8.4 -12.9 9.4 -11.8 10.3 -13.8 11.2 -27.6 12.2 -25.8 13.2 -20.3 14.2 -12.2 15.2 -11.7 16.2 -12.2 17.2 -10.9 18.2 -12.7 19.1 -16.2 20.1 -11.3 21.1 -12.1 22.1 -14.3 23.1 -10.4 24.1 -8.5 25.1 -8 26.1 -7 27.1 -5.4 28.1 -6.5 29.1 -4.5 30.1 -1.1 31.1 1.4 32.1 4.9 33.1 7.6 34.1 8.3 35.1 8.8 36.1 9.8 37.1 10.6 38.1 11.4 39.1 12.2 40.1 12.9 41.2 13.5 42.2 14 43.2 14.5 44.2 15 45.2 15.6 46.3 16.2 47.3 16.7 48.3 17.2 49.3 17.7 50.4 18.2 51.4 18.6 52.5 19 53.5 19.5 54.5 19.9 55.6 20.4 56.6 20.9 57.7 21.3 58.7 21.7 59.8 22.2 60.8 22.6 61.9 23.2 62.9 23.7 64 24.2 65 24.8 66.1 25.4 66.1 26.4 2.9 -1.3Z"/><path transform="translate(450.7 231.8)" d="M2.5 -23.8L3.5 -21.5 4.5 -19.8 5.5 -17.3 6.5 -16.4 7.5 -13.9 8.4 -13.6 9.4 -14.1 10.3 -20.8 11 -35.5 12.1 -28.4 13.2 -18.1 14.3 -10.9 15.2 -11.7 16.2 -12.3 17.2 -12.2 18.1 -13.7 19.1 -17.6 20.1 -15 21.1 -18.4 22.1 -17.3 23.1 -13.8 24.1 -13.5 25.1 -14.4 26.1 -12.3 27.1 -9.3 28.1 -10.2 29.1 -8.1 30.1 -3.5 31.1 -0.6 32.1 3 33.1 5.8 34.1 6.7 35.1 7.5 36.1 8.3 37.1 9.5 38.1 10.5 39.2 11.5 40.2 12.3 41.2 12.9 42.2 13.4 43.2 14 44.2 14.6 45.3 15.1 46.3 15.8 47.3 16.2 48.3 16.7 49.4 17.2 50.4 17.8 51.4 18.2 52.5 18.6 53.5 19 54.6 19.5 55.6 20 56.7 20.5 57.7 20.9 58.7 21.4 59.8 21.8 60.9 22.3 61.9 22.8 63 23.2 64 23.7 65.1 24.3 66.1 25 66.1 26.4 2.9 -1.3Z"/><path transform="translate(449.7 232.4)" d="M2.4 -26L3.5 -18.4 4.5 -16.1 5.5 -16.7 6.5 -15.6 7.4 -14.1 8.4 -15.6 9.3 -16.1 10.2 -21.6 11 -33.6 12.1 -24.9 13.2 -19 14.2 -12.5 15.2 -13.5 16.2 -14 17.2 -12.5 18.1 -13.4 19.1 -15.5 20.1 -13.7 21.1 -17.2 22.1 -14.2 23.1 -9.8 24.1 -9.7 25.1 -9.6 26.1 -8.4 27.1 -6.2 28.1 -8.4 29.1 -5.7 30.1 -0.5 31.1 2.3 32.1 4.6 33.1 6.8 34.1 7.9 35.1 8.7 36.1 9.3 37.1 10.5 38.1 11.4 39.2 12.3 40.2 13.1 41.2 13.7 42.2 14.3 43.2 14.8 44.2 15.4 45.3 15.9 46.3 16.5 47.3 17 48.3 17.4 49.4 17.9 50.4 18.3 51.4 18.8 52.5 19.2 53.5 19.6 54.6 20.1 55.6 20.5 56.7 21 57.7 21.4 58.8 21.9 59.8 22.4 60.9 22.9 61.9 23.4 63 23.9 64 24.4 65.1 24.9 66.2 25.4 66.1 26.5 2.9 -1.3Z"/><path transform="translate(448.7 232.9)" d="M2.6 -18.1L3.6 -17.2 4.5 -14.9 5.5 -15.6 6.4 -19.1 7.4 -15.3 8.3 -18 9.3 -20 10.2 -21 11.1 -28.7 12.1 -23.3 13.2 -18.9 14.2 -13.4 15.2 -11.6 16.2 -10.9 17.2 -10.7 18.1 -11.3 19.1 -14.7 20.1 -10.8 21.1 -9.9 22.1 -9.1 23.1 -7.7 24.1 -8.6 25.1 -8.6 26.1 -6.3 27.1 -4.5 28.1 -5.6 29.1 -2.2 30.1 1 31.1 3.2 32.1 5.5 33.1 7.4 34.1 8.4 35.1 9 36.1 9.9 37.1 11.1 38.2 11.8 39.2 12.7 40.2 13.4 41.2 14.1 42.2 14.6 43.2 15.2 44.2 15.8 45.3 16.3 46.3 16.8 47.3 17.3 48.4 17.8 49.4 18.2 50.4 18.6 51.5 19 52.5 19.5 53.5 19.9 54.6 20.3 55.6 20.7 56.7 21.2 57.7 21.7 58.8 22.2 59.8 22.7 60.9 23.2 61.9 23.6 63 24.1 64.1 24.5 65.1 25 66.2 25.5 66.1 26.6 2.9 -1.3Z"/><path transform="translate(447.8 233.5)" d="M2.6 -16.2L3.5 -17.7 4.5 -17.2 5.4 -17.3 6.4 -19.6 7.4 -17.2 8.3 -19.3 9.2 -21 10.2 -20 11.1 -26.2 12.1 -28 13.1 -19.6 14.2 -15.6 15.1 -16 16.2 -12.1 17.2 -11.2 18.1 -11.6 19.1 -11.8 20.1 -11.7 21.1 -11.2 22.1 -10.2 23.1 -10.5 24.1 -11.9 25.1 -11.1 26.1 -9.4 27.1 -8.1 28.1 -8.1 29.1 -4.2 30.1 -1.8 31.1 0.8 32.1 3.4 33.1 5.7 34.1 7 35.1 7.5 36.1 8.2 37.2 9.6 38.2 10.6 39.2 11.4 40.2 12.3 41.2 13.2 42.2 13.8 43.2 14.4 44.3 15 45.3 15.5 46.3 16.1 47.4 16.5 48.4 17 49.4 17.5 50.5 17.9 51.5 18.3 52.5 18.9 53.6 19.2 54.6 19.7 55.7 20 56.7 20.4 57.8 21 58.8 21.4 59.9 21.9 60.9 22.4 62 23 63 23.4 64.1 23.9 65.2 24.4 66.2 24.9 66.2 26.7 2.9 -1.3Z"/><path transform="translate(446.8 234.1)" d="M2.6 -16.7L3.5 -18.1 4.5 -17.9 5.4 -18 6.3 -19.8 7.3 -21 8.2 -22.8 9.2 -22.7 10.2 -18.2 11.2 -19.2 12.1 -21.7 13.2 -17.3 14.1 -18.1 15.1 -16.3 16.2 -10.7 17.1 -11 18.1 -12.5 19.1 -10.4 20.1 -10.6 21.1 -13 22.1 -12.1 23.1 -12.5 24.1 -12.1 25.1 -11.1 26.1 -10.7 27.1 -11.7 28.1 -10 29.1 -4.7 30.1 -2.7 31.1 1.1 32.1 3.3 33.1 5.8 34.1 7.2 35.1 8 36.2 8.7 37.2 10 38.2 11 39.2 11.6 40.2 12.6 41.2 13.3 42.2 13.9 43.3 14.5 44.3 15.1 45.3 15.4 46.3 15.9 47.4 16.3 48.4 16.8 49.4 17.4 50.5 17.8 51.5 18.3 52.5 18.9 53.6 19.3 54.6 19.7 55.7 20 56.7 20.4 57.8 21 58.8 21.4 59.9 21.9 60.9 22.4 62 22.9 63.1 23.4 64.1 23.9 65.2 24.5 66.2 25 66.2 26.7 2.9 -1.3Z"/><path transform="translate(445.8 234.6)" d="M2.4 -24.5L3.4 -22.9 4.5 -16.8 5.4 -16.9 6.3 -21.8 7.2 -22.2 8.2 -21.3 9.2 -18.6 10.2 -16.2 11.2 -17.9 12.2 -17.7 13.2 -17 14.1 -19.1 15.1 -14.7 16.2 -9.1 17.2 -9.9 18.1 -11.1 19.1 -7.4 20.1 -7.2 21.1 -8.7 22.1 -7.5 23.1 -9.2 24.1 -8.1 25.1 -6.7 26.1 -6.7 27.1 -6.7 28.1 -5 29.1 -1.8 30.1 -0.2 31.1 4 32.1 5.6 33.1 7.8 34.1 9.1 35.1 9.7 36.2 10.4 37.2 11.3 38.2 12.3 39.2 12.9 40.2 13.8 41.2 14.4 42.2 14.8 43.3 15.4 44.3 15.9 45.3 16.3 46.3 16.7 47.4 17.1 48.4 17.6 49.4 18.1 50.5 18.5 51.5 19.1 52.5 19.6 53.6 20 54.6 20.4 55.7 20.8 56.7 21.2 57.8 21.7 58.8 22.2 59.9 22.7 60.9 23.3 62 23.8 63.1 24.2 64.1 24.8 65.2 25.2 66.2 25.8 66.2 26.8 2.9 -1.2Z"/><path transform="translate(444.9 235.2)" d="M2.4 -23.8L3.3 -26.7 4.4 -21.4 5.4 -18.5 6.3 -20.2 7.3 -21 8.2 -21 9.3 -16.3 10.3 -13.7 11.2 -14.9 12.1 -19.9 13.1 -19.2 14.1 -16.8 15.1 -14 16.2 -10.9 17.1 -11.5 18.1 -11.8 19.1 -10.1 20.1 -10.2 21.1 -10.2 22.1 -10.8 23 -14.4 24 -13.6 25 -12.6 26.1 -11.8 27.1 -9.9 28.1 -9.7 29.1 -6.4 30.1 -3.5 31.1 1 32.1 3.1 33.1 5.7 34.1 7.4 35.2 8.3 36.2 9.3 37.2 10.1 38.2 11.3 39.2 12.2 40.2 13 41.2 13.6 42.3 14 43.3 14.6 44.3 15.2 45.3 15.4 46.4 15.9 47.4 16.3 48.4 16.9 49.5 17.5 50.5 17.9 51.5 18.4 52.6 19 53.6 19.3 54.7 19.7 55.7 20.1 56.8 20.6 57.8 21.1 58.9 21.7 59.9 22.2 61 22.7 62 23.2 63.1 23.6 64.2 24.2 65.2 24.7 66.3 25.1 66.2 26.9 2.9 -1.2Z"/><path transform="translate(443.9 235.8)" d="M2.4 -22.8L3.4 -22.5 4.4 -17.6 5.4 -18.4 6.3 -17.9 7.3 -17.8 8.2 -19 9.3 -14.9 10.3 -13.5 11.2 -13.3 12.2 -16.4 13.1 -18.4 14.1 -17.5 15.1 -17 16.1 -12.1 17.1 -12.3 18.1 -12.6 19.1 -11.2 20.1 -13 21 -14.3 22 -13.3 23 -17.6 24 -13.6 25 -13 26 -12.6 27.1 -9.2 28.1 -8.5 29.1 -6.9 30.1 -4.4 31.1 0.6 32.1 2.9 33.1 5 34.2 7.1 35.2 8.3 36.2 9 37.2 9.8 38.2 10.8 39.2 11.7 40.2 12.5 41.3 13.2 42.3 13.7 43.3 14.4 44.3 14.8 45.4 15.1 46.4 15.7 47.4 16.1 48.4 16.8 49.5 17.3 50.5 17.8 51.6 18.3 52.6 18.9 53.6 19.3 54.7 19.7 55.7 20.1 56.8 20.6 57.8 21.1 58.9 21.6 59.9 22.1 61 22.6 62.1 23.1 63.1 23.5 64.2 24 65.2 24.4 66.3 24.9 66.3 26.9 2.9 -1.2Z"/><path transform="translate(442.9 236.4)" d="M2.6 -13.5L3.5 -15.4 4.5 -13.1 5.5 -13.3 6.4 -14.1 7.4 -14.2 8.3 -14.8 9.3 -13.2 10.3 -12.7 11.3 -11.9 12.2 -15.6 13.1 -18.9 14.1 -16.5 15.1 -14 16.1 -11.7 17.1 -13.1 18.1 -13.3 19.1 -9.9 20.1 -10 21.1 -11.2 22 -12 23 -14.9 24 -9.7 25.1 -9.2 26.1 -8.7 27.1 -5.3 28.1 -3.9 29.1 -2.6 30.1 -0.4 31.1 3.2 32.1 5 33.1 6.7 34.2 8.4 35.2 9.5 36.2 10.3 37.2 11 38.2 11.8 39.2 12.6 40.2 13.3 41.3 14 42.3 14.5 43.3 15.1 44.3 15.4 45.4 15.9 46.4 16.4 47.4 16.9 48.5 17.5 49.5 18 50.5 18.6 51.6 19.1 52.6 19.6 53.6 20 54.7 20.5 55.7 20.8 56.8 21.3 57.8 21.8 58.9 22.2 59.9 22.7 61 23.2 62.1 23.7 63.1 24.1 64.2 24.7 65.3 25.2 66.3 25.7 66.3 27 2.9 -1.2Z"/><path transform="translate(441.9 236.9)" d="M2.7 -11.4L3.5 -14 4.5 -13.7 5.4 -16.5 6.3 -16.4 7.3 -14.8 8.3 -13.3 9.3 -11.2 10.3 -11.5 11.3 -10.6 12.2 -14.3 13.1 -16.9 14.1 -12.7 15.1 -13.1 16.1 -15.9 17 -16.2 18 -14.8 19.1 -11.3 20.1 -10.7 21 -10.9 22 -9.9 23 -13.3 24 -11.8 25 -10.3 26.1 -7.9 27.1 -5.2 28.1 -3.6 29.1 -2.4 30.1 -0.3 31.1 2.1 32.1 4.2 33.2 6.4 34.2 7.9 35.2 9.1 36.2 9.9 37.2 10.4 38.2 11 39.2 11.7 40.3 12.5 41.3 13.2 42.3 13.8 43.3 14.4 44.3 14.9 45.4 15.3 46.4 15.9 47.4 16.4 48.5 17.1 49.5 17.6 50.5 18.3 51.6 18.8 52.6 19.3 53.7 19.8 54.7 20.3 55.8 20.6 56.8 21.1 57.9 21.5 58.9 21.9 60 22.3 61 22.7 62.1 23.3 63.2 23.8 64.2 24.4 65.3 24.9 66.3 25.5 66.3 27.1 2.9 -1.2Z"/><path transform="translate(441.0 237.5)" d="M2.7 -11.1L3.5 -13.4 4.5 -14.1 5.4 -16.6 6.3 -18.2 7.3 -17.3 8.3 -15.9 9.3 -13.1 10.3 -12.8 11.3 -11.1 12.2 -14.2 13.1 -16.5 14.1 -13.6 15 -16.6 16 -20.6 17 -20.2 17.9 -22.2 19 -15.6 20 -12.3 21 -13.1 22 -13.1 23 -12.7 24 -11.3 25 -11.4 26 -9.4 27.1 -6.9 28.1 -4.8 29.1 -3.6 30.1 -1.6 31.1 0.6 32.1 2.6 33.2 5.1 34.2 6.6 35.2 7.9 36.2 8.9 37.2 9.6 38.2 10.2 39.2 11 40.3 11.9 41.3 12.7 42.3 13.3 43.3 14 44.4 14.5 45.4 15 46.4 15.4 47.5 16.1 48.5 16.9 49.5 17.3 50.6 17.9 51.6 18.6 52.6 19.1 53.7 19.6 54.7 20 55.8 20.3 56.8 20.8 57.9 21.2 58.9 21.6 60 22.1 61.1 22.4 62.1 22.9 63.2 23.5 64.2 24.1 65.3 24.7 66.4 25.2 66.3 27.2 2.9 -1.2Z"/><path transform="translate(440.0 238.1)" d="M2.6 -11.7L3.5 -13.6 4.4 -14.9 5.4 -15.5 6.2 -20.8 7.2 -20.1 8.3 -14.4 9.3 -13.2 10.2 -16 11.2 -11.6 12.2 -13.2 13.1 -15 14.1 -15.4 15 -19.1 15.9 -20.7 16.9 -25 17.8 -29.3 19 -15.5 20 -11.2 21 -11.3 22 -11 23 -14.2 24 -11 25 -8.5 26.1 -6.6 27.1 -3.8 28.1 -1.7 29.1 0 30.1 1.5 31.1 3.4 32.2 5.2 33.2 6.8 34.2 8.2 35.2 9.2 36.2 10.2 37.2 10.8 38.2 11.4 39.3 12.1 40.3 13 41.3 13.8 42.3 14.5 43.3 15.2 44.4 15.8 45.4 16.3 46.4 16.8 47.5 17.3 48.5 17.9 49.5 18.3 50.6 18.8 51.6 19.4 52.6 19.8 53.7 20.3 54.7 20.7 55.8 21.1 56.8 21.6 57.9 22 58.9 22.5 60 22.9 61.1 23.3 62.1 23.8 63.2 24.4 64.2 24.9 65.3 25.5 66.4 26.1 66.4 27.2 2.9 -1.2Z"/><path transform="translate(439.0 238.7)" d="M2.6 -12.5L3.4 -17.8 4.4 -17.6 5.4 -15.9 6.1 -24.8 7.1 -22.7 8.3 -13.6 9.3 -10.9 10.2 -15.7 11.2 -14.5 12.1 -14 13.1 -14 14.1 -14.5 15 -18.2 16 -18.1 16.8 -28.2 17.6 -42.1 18.9 -21.2 20 -11.3 21 -11.2 22 -12.8 23 -11.4 24 -9.6 25 -8.2 26 -6.7 27.1 -4.9 28.1 -3.1 29.1 -0.5 30.1 1.3 31.1 3.2 32.2 4.9 33.2 6.6 34.2 7.9 35.2 8.6 36.2 9.6 37.2 10.4 38.2 11 39.3 12 40.3 13 41.3 13.8 42.3 14.6 43.4 15.3 44.4 15.8 45.4 16.4 46.4 16.9 47.5 17.4 48.5 18 49.5 18.3 50.6 18.9 51.6 19.4 52.7 19.8 53.7 20.3 54.8 20.7 55.8 21.1 56.9 21.7 57.9 22.2 59 22.6 60 23.1 61.1 23.5 62.1 23.9 63.2 24.4 64.3 24.9 65.3 25.3 66.4 25.9 66.4 27.3 2.9 -1.2Z"/><path transform="translate(438.0 239.3)" d="M2.6 -13.6L3.3 -20.2 4.3 -19.9 5.3 -16.2 6.1 -22.3 7.1 -22 8.2 -15.8 9.3 -11.9 10.2 -15.4 11.1 -15.6 12.1 -13.8 13.1 -13.6 14.1 -14.8 14.9 -20.2 15.9 -19 16.9 -22.4 17.7 -31.9 18.8 -25.2 19.9 -19.2 20.9 -19.2 21.9 -18.2 22.9 -16.6 23.9 -15.4 25 -12.7 26 -10.6 27 -7.9 28 -6.9 29.1 -3.7 30.1 -0.9 31.1 0.8 32.1 2.7 33.2 5 34.2 6.6 35.2 7.2 36.2 8.2 37.2 9.1 38.3 9.7 39.3 10.8 40.3 11.8 41.3 12.9 42.3 13.7 43.4 14.3 44.4 14.9 45.4 15.6 46.5 16.2 47.5 16.6 48.5 17.2 49.6 17.6 50.6 18.1 51.6 18.6 52.7 19.1 53.7 19.6 54.8 20.1 55.8 20.6 56.9 21.1 57.9 21.6 59 22 60.1 22.3 61.1 22.8 62.2 23.3 63.2 23.8 64.3 24.3 65.4 24.8 66.4 25.4 66.4 27.4 2.9 -1.2Z"/><path transform="translate(437.0 239.8)" d="M2.5 -15.2L3.4 -17 4.4 -14 5.4 -13.1 6.2 -19.7 7.1 -23 8.2 -16.6 9.3 -12.5 10.1 -18.3 11 -22.7 12.1 -14.6 13.1 -13 14 -15.6 14.9 -19 16 -16.4 16.9 -17.3 17.9 -20.9 18.9 -21.6 19.8 -22.1 20.8 -22.5 21.9 -19.5 23 -12.2 24 -9.4 25 -8.9 26 -6.9 27.1 -5.2 28.1 -4.5 29.1 -1.4 30.1 1.3 31.1 2.8 32.2 4.5 33.2 6.8 34.2 8.2 35.2 8.8 36.2 9.8 37.2 10.7 38.3 11.3 39.3 12.1 40.3 13 41.3 13.8 42.3 14.5 43.4 15.1 44.4 15.6 45.4 16.3 46.5 16.8 47.5 17.4 48.5 17.9 49.6 18.4 50.6 18.9 51.7 19.4 52.7 19.9 53.7 20.4 54.8 20.9 55.8 21.3 56.9 21.8 57.9 22.3 59 22.8 60.1 23.2 61.1 23.7 62.2 24.2 63.2 24.7 64.3 25.1 65.4 25.6 66.4 26.1 66.4 27.5 2.9 -1.2Z"/><path transform="translate(436.0 240.4)" d="M2.4 -17.9L3.4 -18.1 4.4 -16.3 5.4 -14.4 6.3 -14.6 7.2 -16.3 8.3 -13.6 9.3 -11.2 10.1 -18.2 10.9 -24.9 12 -16.9 13 -15.9 14 -16.6 15 -15.3 16 -13.9 17 -14.7 18 -14 18.9 -15.7 19.8 -22.9 20.9 -17.9 21.9 -14.7 22.9 -13.4 24 -10 25 -7.3 26 -5.9 27 -5.9 28.1 -4.2 29.1 -1.1 30.1 1.1 31.1 2.9 32.2 4.9 33.2 7.5 34.2 8.8 35.2 9.1 36.2 10.3 37.3 11.2 38.3 11.8 39.3 12.4 40.3 13.2 41.3 14.1 42.4 14.7 43.4 15.3 44.4 15.9 45.4 16.6 46.5 17 47.5 17.5 48.5 18 49.6 18.6 50.6 19.1 51.7 19.6 52.7 20.2 53.8 20.7 54.8 21.2 55.9 21.6 56.9 22 58 22.6 59 23.1 60.1 23.5 61.1 23.9 62.2 24.4 63.3 24.8 64.3 25.3 65.4 25.8 66.5 26.3 66.4 27.5 2.9 -1.2Z"/><path transform="translate(435.0 241.0)" d="M2.3 -22L3.3 -20.2 4.2 -20.5 5.2 -18.6 6.2 -16.8 7.2 -16.2 8.2 -14.4 9.2 -12.2 10.1 -16.8 10.8 -27.1 12.1 -15.8 13.1 -12.5 14.1 -12 15 -13.8 16 -14.2 17 -13.6 18 -12.9 19 -12.7 19.9 -15.7 20.9 -17.3 21.9 -18.8 22.9 -17.1 23.9 -13.1 25 -11.8 26 -11.8 27 -10.3 28 -7 29 -5.2 30.1 -2.7 31.1 -0.2 32.1 2.6 33.2 6.2 34.2 7.8 35.2 8.4 36.2 9.6 37.3 10.4 38.3 10.9 39.3 11.5 40.3 12.3 41.3 13.4 42.4 14.1 43.4 14.6 44.4 15.2 45.5 15.8 46.5 16.3 47.5 16.8 48.6 17.3 49.6 17.8 50.6 18.4 51.7 19 52.7 19.5 53.8 20.1 54.8 20.6 55.9 21.1 56.9 21.6 58 22.1 59 22.5 60.1 22.9 61.2 23.2 62.2 23.6 63.3 24.1 64.4 24.4 65.4 24.9 66.5 25.3 66.5 27.6 2.9 -1.2Z"/><path transform="translate(434.0 241.6)" d="M2.3 -20.6L3.4 -16.9 4.3 -17.4 5.2 -18.3 6.3 -15.2 7.2 -17.2 8.1 -17.5 9.2 -14.3 10.1 -17.8 10.8 -25.9 12 -19.4 13 -15 14 -14.1 15 -12.4 16 -13.5 17 -13.4 18 -11.8 19 -10.3 20 -11.5 20.9 -14 21.9 -15.8 22.8 -18.8 23.9 -14.6 24.9 -12.8 25.9 -13.8 27 -9.8 28 -6.2 29.1 -4.5 30.1 -3.1 31.1 0.6 32.2 3.7 33.2 6.7 34.2 8.2 35.2 8.9 36.2 10.2 37.3 10.7 38.3 11.4 39.3 12 40.3 12.9 41.4 13.9 42.4 14.7 43.4 15.2 44.4 15.8 45.5 16.3 46.5 16.8 47.5 17.2 48.6 17.6 49.6 18.1 50.7 18.7 51.7 19.2 52.7 19.7 53.8 20.1 54.8 20.6 55.9 21.1 56.9 21.6 58 22.2 59.1 22.5 60.1 23 61.2 23.3 62.2 23.8 63.3 24.2 64.4 24.7 65.4 25.2 66.5 25.7 66.5 27.7 2.9 -1.2Z"/><path transform="translate(433.0 242.2)" d="M2.4 -18.1L3.4 -14.8 4.4 -14.7 5.2 -17.4 6.2 -15.7 7.2 -17.2 8.2 -15.2 9.2 -14 9.9 -22 10.6 -34 11.9 -20.8 13.1 -13.7 14 -13 15 -12.1 15.9 -16 17 -13.6 18 -9.6 19 -7.8 20 -8.1 21 -8.6 22 -11.2 22.8 -18.5 24 -9.8 25 -7.8 25.9 -11.4 27 -8.4 28.1 -2.5 29.1 -0.5 30.1 0.2 31.2 3.8 32.2 6.1 33.2 8.3 34.2 9.6 35.2 10.3 36.3 11.3 37.3 11.8 38.3 12.4 39.3 13.1 40.3 13.8 41.4 14.7 42.4 15.4 43.4 15.9 44.4 16.4 45.5 16.9 46.5 17.4 47.5 17.8 48.6 18.3 49.6 18.7 50.7 19.2 51.7 19.6 52.8 20.1 53.8 20.6 54.9 21.1 55.9 21.6 57 22.2 58 22.7 59.1 23 60.1 23.5 61.2 24 62.3 24.5 63.3 25 64.4 25.5 65.5 26 66.5 26.5 66.5 27.8 2.9 -1.2Z"/><path transform="translate(432.0 242.8)" d="M2.4 -16.6L3.4 -15.2 4.3 -15.1 5.2 -17.4 6.3 -14.6 7.3 -13 8.2 -13.1 9.2 -13.6 10 -19.9 10.7 -30.7 12 -18.4 13.1 -13.3 14 -13.1 15 -11.7 16 -13.4 16.9 -15.7 17.9 -13.9 19 -10.2 20 -9.9 21 -9.9 21.9 -12.1 22.8 -19.8 23.9 -13.3 24.9 -11.3 25.9 -13.5 27 -9.2 28 -4.1 29.1 -1.9 30.1 -0.2 31.1 2.9 32.2 5.1 33.2 7.5 34.2 9.1 35.2 9.8 36.3 10.8 37.3 11.1 38.3 11.8 39.3 12.5 40.3 13.2 41.4 14.2 42.4 14.9 43.4 15.4 44.5 15.9 45.5 16.5 46.5 17 47.6 17.3 48.6 17.7 49.6 18.2 50.7 18.7 51.7 19.2 52.8 19.7 53.8 20.2 54.9 20.8 55.9 21.3 57 21.8 58 22.3 59.1 22.7 60.2 23.2 61.2 23.7 62.3 24.2 63.3 24.7 64.4 25.1 65.5 25.6 66.6 26.1 66.5 27.9 2.9 -1.2Z"/><path transform="translate(431.0 243.4)" d="M2.4 -16.9L3.3 -17.5 4.2 -18 5.1 -19.6 6.2 -16.2 7.3 -12.5 8.2 -12.2 9.2 -13 10 -17.3 10.6 -32.2 12 -17 13.1 -11.8 14 -12 15 -11.2 16 -11.7 16.9 -15.5 17.9 -17 19 -11.2 20 -9.8 21 -10.6 21.9 -14.1 22.8 -15.9 23.9 -14.2 24.9 -13.9 25.9 -15.7 27 -9.2 28 -4 29.1 -1.8 30.1 0.5 31.1 2.8 32.2 4.7 33.2 7.2 34.2 9.1 35.3 9.9 36.3 10.8 37.3 11.2 38.3 11.8 39.3 12.5 40.4 13.1 41.4 14 42.4 14.7 43.4 15.2 44.5 15.7 45.5 16.3 46.5 16.8 47.6 17.1 48.6 17.7 49.7 18.1 50.7 18.6 51.7 19.1 52.8 19.6 53.8 20.2 54.9 20.6 55.9 21.1 57 21.7 58.1 22.2 59.1 22.6 60.2 23.2 61.2 23.8 62.3 24.3 63.4 24.8 64.4 25.3 65.5 25.7 66.6 26.2 66.6 27.9 2.9 -1.2Z"/><path transform="translate(430.0 244.0)" d="M2.5 -13.9L3.4 -13.8 4.4 -13.9 5.3 -15.7 6.3 -14.1 7.3 -12.7 8.2 -12.3 9.2 -13.5 10 -17.8 10.8 -25.1 12 -17.1 13 -14.5 14 -14.7 15 -10.8 16 -10.8 16.9 -14.6 17.9 -15.8 19 -9.3 20 -7.4 21 -8.3 22 -8.4 23 -8.1 23.9 -10.4 24.9 -9.2 26 -7.6 27 -3.2 28.1 -0.1 29.1 1.7 30.1 3.1 31.2 5 32.2 6.4 33.2 8.4 34.2 10 35.3 10.7 36.3 11.5 37.3 11.8 38.3 12.6 39.3 13.4 40.4 14.1 41.4 14.8 42.4 15.5 43.5 16 44.5 16.5 45.5 17 46.6 17.5 47.6 17.9 48.6 18.4 49.7 18.9 50.7 19.4 51.8 20 52.8 20.4 53.8 20.9 54.9 21.4 56 21.8 57 22.3 58.1 22.8 59.1 23.3 60.2 23.8 61.2 24.4 62.3 24.9 63.4 25.4 64.4 25.8 65.5 26.3 66.6 26.8 66.6 28 2.9 -1.2Z"/><path transform="translate(429.0 244.6)" d="M2.5 -13.8L3.4 -15 4.3 -15.3 5.3 -13.6 6.3 -11.7 7.3 -11.3 8.3 -11 9.2 -12 10 -16.3 10.7 -25.7 12 -15.5 13 -12.2 14 -11.3 15 -11.4 16 -11.9 17 -12 17.9 -13.4 19 -9.9 20 -9.8 20.9 -10.2 21.9 -11.1 22.9 -10.8 23.9 -12.1 24.9 -10.4 26 -8.3 27 -5.7 28 -2.9 29.1 -1.1 30.1 1.1 31.1 2.9 32.2 4.5 33.2 7.1 34.2 8.9 35.3 9.8 36.3 10.6 37.3 11.1 38.3 11.8 39.4 12.8 40.4 13.5 41.4 14.3 42.4 15 43.5 15.5 44.5 16 45.5 16.5 46.6 16.9 47.6 17.4 48.6 18 49.7 18.4 50.7 18.9 51.8 19.4 52.8 19.8 53.9 20.4 54.9 20.9 56 21.3 57 21.9 58.1 22.4 59.1 22.9 60.2 23.4 61.3 23.8 62.3 24.4 63.4 24.9 64.5 25.4 65.5 25.8 66.6 26.3 66.6 28.1 2.9 -1.2Z"/><path transform="translate(428.0 245.2)" d="M2.3 -18.3L3.3 -15.9 4.3 -14.1 5.3 -14.1 6.3 -12.7 7.2 -12.8 8.2 -11.9 9.2 -12.9 10.1 -14.1 11 -17.1 12 -15.9 12.9 -17.3 14 -14.1 15 -11.3 16 -11.7 16.9 -13 17.8 -16.2 18.9 -12.5 19.9 -12.4 20.9 -13 21.9 -12.4 22.9 -11.3 23.8 -13.6 24.8 -13.9 25.9 -9 27 -5.8 28 -4 29.1 -1.8 30.1 0.3 31.1 1.4 32.2 2.9 33.2 6.2 34.2 8.3 35.3 9.1 36.3 10.2 37.3 10.8 38.3 11.6 39.4 12.6 40.4 13.4 41.4 14.2 42.4 14.9 43.5 15.4 44.5 15.8 45.5 16.3 46.6 16.8 47.6 17.3 48.7 17.6 49.7 18.2 50.7 18.8 51.8 19.2 52.8 19.7 53.9 20.3 54.9 20.9 56 21.4 57 21.9 58.1 22.4 59.2 22.9 60.2 23.3 61.3 23.7 62.4 24.2 63.4 24.7 64.5 25.2 65.6 25.6 66.6 26.1 66.6 28.2 2.9 -1.2Z"/><path transform="translate(426.9 245.8)" d="M2.4 -13.6L3.3 -15 4.3 -15.7 5.3 -13.2 6.3 -12 7.2 -13.3 8.2 -12.3 9.1 -13.7 10.1 -13.8 11 -15.1 11.9 -15.9 12.9 -17.1 13.9 -14.5 15 -12.3 15.9 -13 17 -11.2 17.9 -13.5 18.9 -11.8 19.9 -10.6 20.9 -10.5 21.9 -11.3 22.9 -9.1 23.9 -11.2 24.9 -10.3 26 -4.6 27 -3.3 28.1 -1.8 29.1 1.4 30.1 3.1 31.2 3.3 32.2 4.8 33.2 8.1 34.3 9.9 35.3 10.6 36.3 11.5 37.3 12.1 38.3 12.9 39.4 13.6 40.4 14.4 41.4 15.1 42.5 15.8 43.5 16.3 44.5 16.7 45.6 17.2 46.6 17.8 47.6 18.3 48.7 18.8 49.7 19.2 50.8 19.8 51.8 20.2 52.8 20.6 53.9 21.2 54.9 21.8 56 22.2 57.1 22.8 58.1 23.3 59.2 23.8 60.2 24.2 61.3 24.6 62.4 25.1 63.4 25.6 64.5 26.2 65.6 26.6 66.7 27.1 66.6 28.2 2.9 -1.2Z"/><path transform="translate(425.9 246.4)" d="M2.4 -13.6L3.3 -15.5 4.3 -15.5 5.3 -12.1 6.2 -13.5 7.1 -16.3 8.2 -13 9.1 -14.4 10.1 -13.2 11.1 -12.2 12 -15.1 12.9 -16.8 14 -12.1 14.9 -13.6 15.8 -15.6 16.9 -11.8 17.8 -14.5 18.8 -14.4 19.9 -11.8 20.9 -9.8 21.9 -10.7 22.9 -10.6 23.8 -12.1 24.9 -7.2 26 -4.5 27 -3.8 28.1 -1.6 29.1 1.8 30.1 3.2 31.2 3.7 32.2 5.4 33.2 8.1 34.3 9.8 35.3 10.7 36.3 11.5 37.3 12.1 38.4 12.9 39.4 13.7 40.4 14.4 41.4 15.1 42.5 15.7 43.5 16.3 44.5 16.7 45.6 17.2 46.6 17.7 47.6 18.3 48.7 18.8 49.7 19.3 50.8 19.8 51.8 20.3 52.9 20.7 53.9 21.3 55 21.9 56 22.4 57.1 22.9 58.1 23.4 59.2 23.9 60.3 24.3 61.3 24.7 62.4 25.2 63.5 25.7 64.5 26.2 65.6 26.7 66.7 27.2 66.7 28.3 2.9 -1.2Z"/><path transform="translate(424.9 247.0)" d="M2.2 -19.9L3.2 -17.4 4.2 -16 5.3 -12.9 6.2 -13.9 7.1 -14.7 8.1 -13.3 9.1 -14.3 10.2 -10.6 11.1 -10.7 12 -14.6 12.9 -15.6 14 -12.6 14.9 -14.2 15.8 -17.3 16.8 -15.9 17.7 -19 18.6 -23.9 19.7 -17.8 20.8 -12.4 21.8 -13.4 22.8 -15.6 23.7 -16.5 24.8 -12.8 25.9 -9.5 26.9 -8.4 28 -6.9 29.1 -1.8 30.1 0.6 31.1 1.3 32.2 3.2 33.2 6.3 34.3 8.4 35.3 9.2 36.3 10.1 37.3 10.8 38.3 11.7 39.4 12.4 40.4 13.3 41.4 14.1 42.5 14.9 43.5 15.5 44.5 15.9 45.6 16.5 46.6 17 47.6 17.6 48.7 18.1 49.7 18.6 50.8 19.2 51.8 19.7 52.9 20.1 53.9 20.6 55 21.3 56 21.7 57.1 22.2 58.1 22.8 59.2 23.2 60.3 23.8 61.3 24.1 62.4 24.6 63.5 25.1 64.5 25.6 65.6 26.1 66.7 26.6 66.7 28.4 2.9 -1.2Z"/><path transform="translate(423.9 247.6)" d="M2.3 -15.9L3.4 -13.3 4.3 -14.3 5.3 -13.6 6.1 -16 6.9 -22 8 -17.4 9 -16.2 10.1 -10.9 11.1 -10.1 12 -13.5 12.8 -18.1 13.9 -15.2 14.9 -14.9 15.8 -17.2 16.8 -16.2 17.7 -17.7 18.7 -20.1 19.8 -14.9 20.9 -10.8 21.9 -10.1 22.9 -9.8 23.8 -13.1 24.9 -8.3 26 -5.9 27 -6.2 28 -5 29.1 0.1 30.1 2.6 31.1 3 32.2 5 33.2 7.6 34.3 9.3 35.3 9.9 36.3 10.8 37.3 11.6 38.4 12.4 39.4 13.1 40.4 13.9 41.5 14.8 42.5 15.5 43.5 16.1 44.5 16.6 45.6 17.2 46.6 17.7 47.7 18.3 48.7 18.8 49.7 19.2 50.8 19.8 51.8 20.2 52.9 20.7 53.9 21.2 55 21.8 56 22.2 57.1 22.7 58.2 23.2 59.2 23.7 60.3 24.2 61.4 24.6 62.4 25.1 63.5 25.6 64.6 26.1 65.6 26.7 66.7 27.1 66.7 28.5 2.9 -1.2Z"/><path transform="translate(422.9 248.2)" d="M2.5 -10L3.5 -10.3 4.3 -14.2 5.3 -11.1 6.3 -10.2 7.1 -14.6 8 -15.5 9 -14.4 10.2 -10.1 11.1 -10.2 12 -13.8 12.8 -16.7 13.8 -16.4 14.7 -20.8 15.6 -22.8 16.7 -19.5 17.7 -17.2 18.7 -18.1 19.7 -17.7 20.8 -12.9 21.8 -12.5 22.8 -11.5 23.8 -13 24.9 -7.7 25.9 -6.5 26.9 -7.9 28 -4.1 29.1 0.6 30.1 2.7 31.1 3.2 32.2 5.6 33.2 8.2 34.3 9.9 35.3 10.5 36.3 11.2 37.4 12 38.4 12.8 39.4 13.5 40.4 14.2 41.5 15.1 42.5 15.8 43.5 16.3 44.6 16.8 45.6 17.4 46.6 17.9 47.7 18.5 48.7 19 49.8 19.5 50.8 20 51.9 20.5 52.9 21 54 21.5 55 22 56.1 22.5 57.1 23 58.2 23.5 59.2 24 60.3 24.5 61.4 24.9 62.4 25.4 63.5 25.9 64.6 26.4 65.7 26.9 66.7 27.3 66.7 28.6 2.9 -1.2Z"/><path transform="translate(421.8 248.8)" d="M2.5 -10.3L3.5 -10.3 4.2 -15.1 5.3 -13 6.3 -10.5 7.1 -13.7 8.1 -13.1 9.1 -11.7 10.1 -10.1 11.1 -10.5 11.9 -14 12.8 -16.4 13.8 -15.5 14.7 -20 15.6 -20.5 16.5 -23.5 17.6 -21.3 18.6 -19.3 19.6 -19.5 20.8 -13.9 21.8 -13.3 22.7 -14.8 23.7 -15.5 24.8 -12.3 25.8 -11.4 26.9 -10.2 27.9 -6.9 29 -2.5 30.1 0.4 31.1 1.7 32.2 4 33.2 7.1 34.3 8.9 35.3 9.5 36.3 10.3 37.3 11 38.4 12 39.4 12.8 40.4 13.7 41.5 14.6 42.5 15.2 43.5 15.7 44.6 16.2 45.6 16.9 46.6 17.4 47.7 17.9 48.7 18.4 49.8 18.9 50.8 19.4 51.9 19.9 52.9 20.5 54 21 55 21.5 56.1 22.1 57.1 22.6 58.2 23.2 59.3 23.6 60.3 24 61.4 24.6 62.5 25.1 63.5 25.6 64.6 26 65.7 26.6 66.8 27 66.7 28.6 2.9 -1.2Z"/><path transform="translate(420.8 249.4)" d="M2.5 -9.6L3.5 -8.9 4.4 -11.3 5.2 -13.1 6.3 -9.3 7.3 -10.2 8.1 -11.9 9.1 -11.7 10.1 -9.7 11.1 -10.2 12 -13.2 12.8 -15.6 13.7 -19.6 14.7 -18.7 15.7 -18.1 16.5 -22.9 17.7 -16.8 18.7 -16.3 19.6 -18.7 20.8 -13.9 21.8 -12.4 22.8 -12.7 23.7 -14.2 24.8 -11.1 25.9 -8.9 26.9 -8.3 28 -4.9 29.1 -0.6 30.1 1.4 31.1 2.2 32.2 4.1 33.2 7.1 34.3 9.3 35.3 10 36.3 10.8 37.4 11.7 38.4 12.6 39.4 13.4 40.4 14.2 41.5 15 42.5 15.5 43.5 16 44.6 16.5 45.6 17.1 46.7 17.6 47.7 18.1 48.7 18.6 49.8 19.1 50.8 19.6 51.9 20.1 52.9 20.6 54 21.1 55 21.7 56.1 22.3 57.2 22.8 58.2 23.4 59.3 23.8 60.3 24.4 61.4 25 62.5 25.4 63.5 25.9 64.6 26.3 65.7 26.9 66.8 27.4 66.8 28.7 2.9 -1.2Z"/><path transform="translate(419.8 250.0)" d="M2.5 -9.2L3.5 -8.8 4.4 -10.2 5.3 -11.1 6.3 -8.9 7.3 -9.9 8.2 -11.4 9.1 -11.3 10.1 -10.1 11.1 -10.7 11.9 -13.6 12.8 -15.4 13.7 -18 14.6 -21.3 15.6 -21.5 16.5 -23.1 17.7 -15.1 18.8 -12.4 19.7 -15.6 20.8 -13.4 21.8 -11.2 22.8 -9.8 23.8 -10.3 24.9 -7.3 25.9 -6.1 26.9 -7.1 28 -2.6 29.1 1.6 30.2 3.6 31.2 4.2 32.2 6.1 33.3 8.5 34.3 10.3 35.3 11.1 36.4 11.7 37.4 12.4 38.4 13.3 39.4 14.1 40.5 14.8 41.5 15.5 42.5 16 43.6 16.4 44.6 17 45.6 17.6 46.7 18.1 47.7 18.5 48.8 19 49.8 19.5 50.8 20 51.9 20.4 52.9 20.9 54 21.5 55 21.9 56.1 22.5 57.2 23.1 58.2 23.7 59.3 24.1 60.4 24.7 61.4 25.3 62.5 25.8 63.6 26.3 64.6 26.7 65.7 27.3 66.8 27.8 66.8 28.8 2.9 -1.2Z"/><path transform="translate(418.7 250.6)" d="M2.6 -8.5L3.5 -8.5 4.4 -8.7 5.3 -10.9 6.3 -9.1 7.3 -8.5 8.2 -10.8 9.1 -12.1 10.1 -10.2 11 -11.4 11.9 -15.3 12.9 -13.6 13.8 -14.2 14.7 -18.9 15.5 -24.2 16.6 -20.6 17.7 -16 18.6 -17.7 19.6 -19.4 20.7 -13.3 21.8 -12.3 22.8 -12.4 23.7 -12.8 24.8 -10.8 25.9 -8.3 26.9 -7.4 27.9 -5.2 29 -1.3 30.1 1 31.1 1.4 32.2 4.4 33.2 7.4 34.3 9.6 35.3 10.2 36.3 10.7 37.4 11.5 38.4 12.6 39.4 13.3 40.5 13.9 41.5 14.8 42.5 15.3 43.6 15.8 44.6 16.4 45.6 17.1 46.7 17.6 47.7 18.1 48.8 18.5 49.8 18.9 50.9 19.5 51.9 19.9 53 20.3 54 20.9 55.1 21.2 56.1 21.8 57.2 22.3 58.2 22.9 59.3 23.5 60.4 24.3 61.4 24.8 62.5 25.4 63.6 25.9 64.7 26.3 65.7 26.9 66.8 27.3 66.8 28.9 2.9 -1.2Z"/><path transform="translate(417.7 251.2)" d="M2.6 -8.5L3.5 -8.3 4.5 -8 5.3 -11.7 6.2 -11 7.3 -9 8.2 -10.2 9 -13.8 10 -12 11 -12.2 11.8 -16.3 12.9 -13.6 13.8 -13.7 14.7 -16.2 15.5 -22.3 16.6 -17.5 17.7 -15.7 18.6 -19.1 19.7 -14.8 20.8 -12.1 21.8 -12.1 22.7 -13.2 23.7 -15.7 24.7 -14.2 25.8 -8.7 26.9 -6.8 27.9 -6.2 29 -2.3 30.1 0.5 31.1 1.5 32.2 4.8 33.3 7.6 34.3 9.5 35.3 10.1 36.3 10.7 37.4 11.6 38.4 12.7 39.4 13.6 40.5 14.2 41.5 15 42.5 15.6 43.6 16.1 44.6 16.8 45.6 17.4 46.7 17.9 47.7 18.4 48.8 18.8 49.8 19.3 50.9 19.8 51.9 20.1 53 20.5 54 21.1 55.1 21.3 56.1 21.8 57.2 22.3 58.3 22.9 59.3 23.5 60.4 24.3 61.5 24.9 62.5 25.4 63.6 26 64.7 26.4 65.8 27 66.8 27.5 66.8 29 2.9 -1.2Z"/></g></g><path fill="url(#fwf)" d="M420.2 242.7L421.2 242.9 422.1 243.2 422.9 239.6 423.9 240.2 424.9 242.3 425.9 241 426.7 237.5 427.7 239.2 428.7 239 429.5 234.9 430.5 237.6 431.5 237.5 432.4 235 433.2 228.9 434.3 233.7 435.4 235.5 436.2 232.1 437.4 236.4 438.4 239.2 439.4 239.1 440.4 238 441.3 235.6 442.4 237 443.5 242.5 444.6 244.5 445.6 245 446.7 248.9 447.8 251.7 448.8 252.7 449.9 256 450.9 258.9 452 260.7 453 261.3 454 262 455 262.8 456.1 263.9 457.1 264.8 458.1 265.4 459.2 266.3 460.2 266.8 461.2 267.3 462.3 268 463.3 268.7 464.4 269.1 465.4 269.7 466.4 270 467.5 270.5 468.5 271 469.6 271.4 470.6 271.7 471.7 272.3 472.7 272.6 473.8 273 474.9 273.6 475.9 274.1 477 274.7 478.1 275.5 479.1 276.1 480.2 276.7 481.3 277.2 482.3 277.7 483.4 278.2 484.5 278.7 483.5 279.9 482.4 279.4 481.3 278.9 480.2 278.4 479.2 277.8 478.1 277.3 477 276.8 476 276.2 474.9 275.7 473.8 275.1 472.8 274.6 471.7 274.2 470.7 273.7 469.6 273.2 468.6 272.7 467.5 272.3 466.5 271.8 465.4 271.3 464.4 270.8 463.3 270.4 462.3 269.9 461.3 269.3 460.2 268.8 459.2 268.3 458.2 267.8 457.1 267.2 456.1 266.7 455.1 266.1 454 265.4 453 264.8 452 264.3 451 263.7 450 262.9 448.9 261.7 447.9 260.4 446.9 259.7 445.9 258.6 444.8 257.1 443.8 256.6 442.8 255.7 441.8 253.7 440.7 252.9 439.8 253.3 438.8 253.3 437.8 253 436.8 251.9 435.7 250.3 434.8 250.9 433.8 250.1 432.8 248.4 431.8 249.8 430.9 250.2 429.9 249.9 428.9 248.8 428 249.7 427 249.4 426 248.6 425.1 249.3 424.2 249.4 423.2 248.4 422.2 247.9 421.3 248.7 420.3 248.3 419.4 247.9Z"/><path fill="#f6f6f6" d="M419.4 248.2L420.3 248.5 421.3 248.9 422.2 248.2 423.2 248.7 424.2 249.6 425.1 249.6 426 248.8 427 249.7 428 249.9 428.9 249.1 429.9 250.2 430.9 250.5 431.8 250.1 432.8 248.6 433.8 250.3 434.8 251.2 435.7 250.5 436.8 252.1 437.8 253.3 438.8 253.6 439.8 253.6 440.7 253.2 441.8 254 442.8 255.9 443.8 256.8 444.8 257.3 445.9 258.8 446.9 260 447.9 260.6 448.9 261.9 450 263.1 451 264 452 264.5 453 265 454 265.6 455.1 266.3 456.1 266.9 457.1 267.4 458.2 268 459.2 268.5 460.2 269 461.3 269.6 462.3 270.1 463.3 270.6 464.4 271.1 465.4 271.6 466.5 272 467.5 272.5 468.6 273 469.6 273.4 470.7 274 471.7 274.4 472.8 274.9 473.8 275.4 474.9 275.9 476 276.5 477 277 478.1 277.6 479.2 278.1 480.2 278.6 481.3 279.1 482.4 279.6 483.5 280.1 483.5 281.5 482.4 281 481.3 280.5 480.2 279.9 479.2 279.4 478.1 278.9 477 278.4 476 277.9 474.9 277.4 473.8 276.9 472.8 276.4 471.7 275.9 470.7 275.4 469.6 274.9 468.6 274.4 467.5 273.9 466.5 273.4 465.4 272.9 464.4 272.4 463.4 272 462.3 271.5 461.3 271 460.2 270.5 459.2 270 458.2 269.5 457.2 269 456.1 268.5 455.1 268 454.1 267.6 453.1 267.1 452 266.6 451 266.1 450 265.6 449 265.2 448 264.7 447 264.2 446 263.7 445 263.3 444 262.8 443 262.3 442 261.8 441 261.4 440 260.9 439 260.4 438 259.9 437 259.5 436 259 435 258.5 434.1 258.1 433.1 257.6 432.1 257.2 431.1 256.7 430.1 256.2 429.2 255.8 428.2 255.3 427.2 254.8 426.3 254.4 425.3 253.9 424.3 253.5 423.4 253 422.4 252.6 421.4 252.1 420.5 251.7 419.5 251.2Z"/></g><polygon points="438.8,205 441.2,205 442.5,228 438.5,228" fill="url(#fpk)"/><ellipse cx="441" cy="237" rx="3.0" ry="10.5" transform="rotate(-14 441 236.5)" fill="url(#frd)"/><ellipse cx="479" cy="214" rx="4" ry="7" fill="url(#for)"/><polygon points="477,184 480,184 481.5,208 476.5,208" fill="url(#fpk)"/><polygon points="455.5,186 458.5,186 459.5,212 454.5,212" fill="url(#fpk)"/><path d="M413.7 253.5L484 287.2M484 287.2L541.5 247.6M413.7 253.5L410.8 193M415.6 255.6L417.4 254.6M430.9 263L432.7 261.8M446.6 270.5L448.4 269.4M462.8 278.3L464.6 277.1M479.5 286.3L481.3 285.1M540.4 249.8L538.3 248.9M530.6 256.6L528.5 255.7M520.4 263.6L518.3 262.7M510 270.8L507.9 269.8M499.3 278.2L497.1 277.2M488.2 285.9L486.1 284.8M412.1 242.8L414 243.7M411.5 232.5L413.5 233.4M411 221.9L413 222.8M410.5 211.3L412.4 212.1M410 200.4L411.9 201.2" stroke="#222" stroke-width="0.55" fill="none"/><g font-family="Liberation Serif, serif" font-size="5.6" text-anchor="middle" fill="#111"><text x="412" y="267.1">0</text><text x="426.8" y="274.4">2000</text><text x="442" y="281.9">4000</text><text x="457.7" y="289.6">6000</text><text x="473.9" y="297.6">8000</text><text x="494.8" y="296.9">1.0</text><text x="505.2" y="289.3">0.8</text><text x="515.4" y="281.9">0.6</text><text x="525.2" y="274.7">0.4</text><text x="534.8" y="267.7">0.2</text><text x="544" y="260.9">0.0</text><text x="402.5" y="246.6">1</text><text x="402" y="236.2">2</text><text x="401.5" y="225.7">3</text><text x="400.9" y="215">4</text><text x="400.4" y="204.1">5</text></g><g font-family="Liberation Serif, serif" font-size="5.5" text-anchor="middle" fill="#111"><text transform="translate(436.6 287.6) rotate(25.6)" y="1.98">Frequency(Hz)</text><text transform="translate(526.5 283.8) rotate(-34.6)" y="1.98">Time(s)</text><text transform="translate(388.4 225.2) rotate(87.2)" y="1.98">Amplitude</text></g></g><g font-family="Liberation Serif, serif" font-size="10.6" fill="#111"><text x="65.8" y="153.9" textLength="33.8" lengthAdjust="spacingAndGlyphs">(<tspan font-weight="bold">a</tspan>) Ball</text><text x="242.4" y="154.2" textLength="64.9" lengthAdjust="spacingAndGlyphs">(<tspan font-weight="bold">b</tspan>) Inner race</text><text x="433.6" y="154.2" textLength="65.9" lengthAdjust="spacingAndGlyphs">(<tspan font-weight="bold">c</tspan>) Outer race</text><text x="64.9" y="312.3" textLength="36.0" lengthAdjust="spacingAndGlyphs">(<tspan font-weight="bold">d</tspan>) Mix</text><text x="235.5" y="311.8" textLength="78.5" lengthAdjust="spacingAndGlyphs">(<tspan font-weight="bold">e</tspan>) Broken tooth</text><text x="426.0" y="312.0" textLength="81.3" lengthAdjust="spacingAndGlyphs">(<tspan font-weight="bold">f</tspan>) Missing tooth</text></g>
</svg>
</body></html>
